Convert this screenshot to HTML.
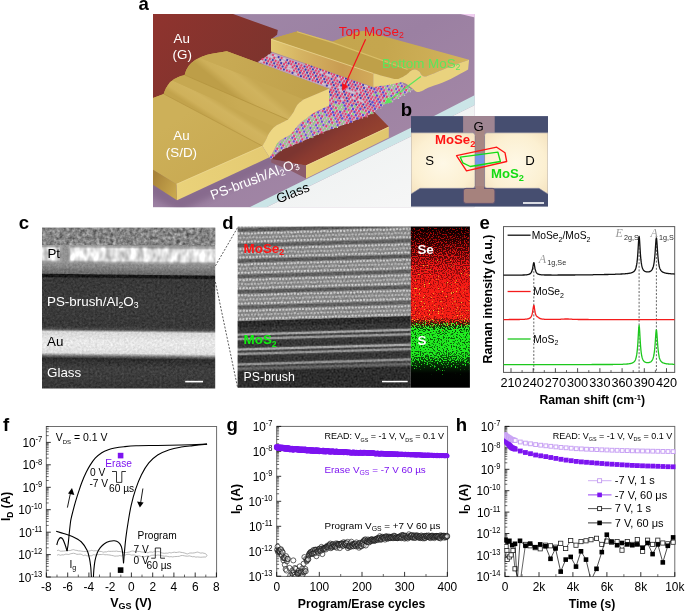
<!DOCTYPE html>
<html lang="en"><head><meta charset="utf-8"><title>Figure</title>
<style>
html,body{margin:0;padding:0;background:#fff;}
body{width:685px;height:612px;overflow:hidden;font-family:"Liberation Sans", Arial, sans-serif;}
svg{display:block;}
text{white-space:pre;}
</style></head><body>
<svg width="685" height="612" viewBox="0 0 685 612" font-family='"Liberation Sans", Arial, sans-serif'>
<defs>
<filter id="nzCoarse" x="0" y="0" width="100%" height="100%" color-interpolation-filters="sRGB"><feTurbulence type="fractalNoise" baseFrequency="0.3" numOctaves="2" seed="5" result="n"/><feColorMatrix in="n" type="matrix" values="0.6 0.4 0 0 0  0.6 0.4 0 0 0  0.6 0.4 0 0 0  0 0 0 0 1" result="g"/><feComposite in="SourceGraphic" in2="g" operator="arithmetic" k1="0" k2="1" k3="0.8" k4="-0.4"/></filter>
<filter id="nzFine" x="0" y="0" width="100%" height="100%" color-interpolation-filters="sRGB"><feTurbulence type="fractalNoise" baseFrequency="0.45" numOctaves="2" seed="11" result="n"/><feColorMatrix in="n" type="matrix" values="0.6 0.4 0 0 0  0.6 0.4 0 0 0  0.6 0.4 0 0 0  0 0 0 0 1" result="g"/><feComposite in="SourceGraphic" in2="g" operator="arithmetic" k1="0" k2="1" k3="0.26" k4="-0.13"/></filter>
<filter id="nzFine2" x="0" y="0" width="100%" height="100%" color-interpolation-filters="sRGB"><feTurbulence type="fractalNoise" baseFrequency="0.7" numOctaves="1" seed="21" result="n"/><feColorMatrix in="n" type="matrix" values="0.6 0.4 0 0 0  0.6 0.4 0 0 0  0.6 0.4 0 0 0  0 0 0 0 1" result="g"/><feComposite in="SourceGraphic" in2="g" operator="arithmetic" k1="0" k2="1" k3="0.28" k4="-0.14"/></filter>
<filter id="nzD" x="0" y="0" width="100%" height="100%" color-interpolation-filters="sRGB"><feGaussianBlur in="SourceGraphic" stdDeviation="0.55" result="b"/><feTurbulence type="fractalNoise" baseFrequency="0.5" numOctaves="2" seed="4" result="n"/><feColorMatrix in="n" type="matrix" values="0.6 0.4 0 0 0  0.6 0.4 0 0 0  0.6 0.4 0 0 0  0 0 0 0 1" result="g"/><feComposite in="b" in2="g" operator="arithmetic" k1="0" k2="1" k3="0.34" k4="-0.17"/></filter>
<filter id="speckR" x="0" y="0" width="100%" height="100%" color-interpolation-filters="sRGB"><feTurbulence type="fractalNoise" baseFrequency="0.78" numOctaves="1" seed="8" result="n"/><feColorMatrix in="n" type="matrix" values="0 0 0 0 0  0 0 0 0 0  0 0 0 0 0  1 0 0 0 0" result="na"/><feColorMatrix in="SourceGraphic" type="matrix" values="0 0 0 0 0  0 0 0 0 0  0 0 0 0 0  0 0 0 1 0" result="sa"/><feComposite in="sa" in2="na" operator="arithmetic" k1="0" k2="1" k3="1" k4="-1" result="sum"/><feComponentTransfer in="sum" result="m"><feFuncA type="linear" slope="14" intercept="0"/></feComponentTransfer><feComponentTransfer in="SourceGraphic" result="full"><feFuncA type="linear" slope="1000" intercept="0"/></feComponentTransfer><feComposite in="full" in2="m" operator="in"/></filter>
<filter id="speckG" x="0" y="0" width="100%" height="100%" color-interpolation-filters="sRGB"><feTurbulence type="fractalNoise" baseFrequency="0.78" numOctaves="1" seed="31" result="n"/><feColorMatrix in="n" type="matrix" values="0 0 0 0 0  0 0 0 0 0  0 0 0 0 0  1 0 0 0 0" result="na"/><feColorMatrix in="SourceGraphic" type="matrix" values="0 0 0 0 0  0 0 0 0 0  0 0 0 0 0  0 0 0 1 0" result="sa"/><feComposite in="sa" in2="na" operator="arithmetic" k1="0" k2="1" k3="1" k4="-1" result="sum"/><feComponentTransfer in="sum" result="m"><feFuncA type="linear" slope="14" intercept="0"/></feComponentTransfer><feComponentTransfer in="SourceGraphic" result="full"><feFuncA type="linear" slope="1000" intercept="0"/></feComponentTransfer><feComposite in="full" in2="m" operator="in"/></filter>
<filter id="speckY" x="0" y="0" width="100%" height="100%" color-interpolation-filters="sRGB"><feTurbulence type="fractalNoise" baseFrequency="0.78" numOctaves="1" seed="57" result="n"/><feColorMatrix in="n" type="matrix" values="0 0 0 0 0  0 0 0 0 0  0 0 0 0 0  1 0 0 0 0" result="na"/><feColorMatrix in="SourceGraphic" type="matrix" values="0 0 0 0 0  0 0 0 0 0  0 0 0 0 0  0 0 0 1 0" result="sa"/><feComposite in="sa" in2="na" operator="arithmetic" k1="0" k2="1" k3="1" k4="-1" result="sum"/><feComponentTransfer in="sum" result="m"><feFuncA type="linear" slope="14" intercept="0"/></feComponentTransfer><feComponentTransfer in="SourceGraphic" result="full"><feFuncA type="linear" slope="1000" intercept="0"/></feComponentTransfer><feComposite in="full" in2="m" operator="in"/></filter>
<filter id="nzLump" x="-5%" y="-40%" width="110%" height="180%" color-interpolation-filters="sRGB"><feGaussianBlur in="SourceGraphic" stdDeviation="1.1" result="b"/><feTurbulence type="fractalNoise" baseFrequency="0.16 0.1" numOctaves="2" seed="9" result="n"/><feColorMatrix in="n" type="matrix" values="1 0 0 0 0  1 0 0 0 0  1 0 0 0 0  0 0 0 0 1" result="g"/><feComposite in="b" in2="g" operator="arithmetic" k1="0.7" k2="0.65" k3="0" k4="0"/></filter>
</defs>
<defs>
<clipPath id="clipA"><rect x="153" y="14.1" width="321.7" height="193.3"/></clipPath>
<linearGradient id="gMauve" x1="0" y1="0" x2="1" y2="1"><stop offset="0" stop-color="#a088a8"/><stop offset="0.45" stop-color="#9b80a2"/><stop offset="1" stop-color="#a98ca8"/></linearGradient>
<linearGradient id="gBrown" x1="0" y1="0" x2="1" y2="0.6"><stop offset="0" stop-color="#8f332e"/><stop offset="1" stop-color="#7b342d"/></linearGradient>
<linearGradient id="gWhite" x1="0" y1="0" x2="1" y2="1"><stop offset="0" stop-color="#e2ebeb"/><stop offset="0.5" stop-color="#f1f3f3"/><stop offset="1" stop-color="#f8f8f8"/></linearGradient>
<linearGradient id="gFrontFace" x1="0" y1="0" x2="1" y2="0"><stop offset="0" stop-color="#ead27a"/><stop offset="1" stop-color="#e0c66e"/></linearGradient>
<linearGradient id="gBackFront" x1="0" y1="0" x2="1" y2="0"><stop offset="0" stop-color="#e2c972"/><stop offset="0.3" stop-color="#d5b362"/><stop offset="0.7" stop-color="#c99c52"/><stop offset="1" stop-color="#d2aa5a"/></linearGradient>
<linearGradient id="gPlateau" gradientUnits="userSpaceOnUse" x1="226.9" y1="51.2" x2="329.0" y2="88.7"><stop offset="0" stop-color="#c8aa54"/><stop offset="1" stop-color="#bfa04a"/></linearGradient>
<linearGradient id="gS2" gradientUnits="userSpaceOnUse" x1="251.6" y1="78.6" x2="236.2" y2="97.3"><stop offset="0" stop-color="#c6a852"/><stop offset="0.3" stop-color="#d0b35e"/><stop offset="0.7" stop-color="#cdaf59"/><stop offset="1" stop-color="#bd9e48"/></linearGradient>
<linearGradient id="gS3" gradientUnits="userSpaceOnUse" x1="236.2" y1="97.3" x2="223.5" y2="103.7"><stop offset="0" stop-color="#c9ab54"/><stop offset="1" stop-color="#c6a851"/></linearGradient>
<linearGradient id="gS4" gradientUnits="userSpaceOnUse" x1="223.5" y1="103.7" x2="213.0" y2="120.0"><stop offset="0" stop-color="#c6a851"/><stop offset="0.3" stop-color="#d1b45f"/><stop offset="0.75" stop-color="#cfb15b"/><stop offset="1" stop-color="#c2a34c"/></linearGradient>
<linearGradient id="gBase" gradientUnits="userSpaceOnUse" x1="190.0" y1="110.0" x2="235.0" y2="175.0"><stop offset="0" stop-color="#cdb059"/><stop offset="1" stop-color="#c8a951"/></linearGradient>
<linearGradient id="gBoxTop" gradientUnits="userSpaceOnUse" x1="330.0" y1="128.0" x2="345.0" y2="150.0"><stop offset="0" stop-color="#7c3530"/><stop offset="0.4" stop-color="#8a3a30"/><stop offset="1" stop-color="#93412f"/></linearGradient>
<linearGradient id="gBackTop" gradientUnits="userSpaceOnUse" x1="300.0" y1="32.0" x2="468.0" y2="62.0"><stop offset="0" stop-color="#c4a54e"/><stop offset="0.5" stop-color="#c5a64e"/><stop offset="1" stop-color="#d2b45c"/></linearGradient>
<linearGradient id="gSDleft" gradientUnits="userSpaceOnUse" x1="153.0" y1="180.0" x2="177.0" y2="192.0"><stop offset="0" stop-color="#a9843a"/><stop offset="1" stop-color="#c9a84e"/></linearGradient>
<linearGradient id="gSDfront" gradientUnits="userSpaceOnUse" x1="177.0" y1="192.0" x2="268.0" y2="150.0"><stop offset="0" stop-color="#ead27a"/><stop offset="1" stop-color="#e4ca72"/></linearGradient>
<filter id="blurA" x="-20%" y="-20%" width="140%" height="140%"><feGaussianBlur stdDeviation="3"/></filter>
</defs>
<g clip-path="url(#clipA)">
<rect x="153" y="14.1" width="321.7" height="193.3" fill="url(#gMauve)"/>
<polygon points="249.0,207.4 415.0,125.8 475.0,95.0 475.0,105.0 415.0,134.6 266.0,207.4" fill="#cbe5e7" />
<polygon points="266.0,207.4 415.0,134.6 475.0,105.0 475.0,207.4" fill="url(#gWhite)" />
<polygon points="460.6,14.0 475.0,14.0 475.0,17.6" fill="#f0cdf0" />
<polygon points="153.0,14.0 233.1,14.0 277.8,29.9 277.1,34.8 271.1,39.3 271.6,52.2 262.0,66.0 153.0,110.0" fill="url(#gBrown)" />
<polygon points="150.0,176.0 177.0,196.0 270.0,153.0 300.0,140.0 300.0,150.0 272.0,168.0 180.0,212.0 150.0,196.0" fill="#5a3a60" opacity="0.32" filter="url(#blurA)"/>
<polygon points="271.2,159.0 306.0,165.6 306.0,178.5 291.0,170.7 271.2,162.5" fill="#8c5c6c" />
<polygon points="271.2,159.0 300.0,135.0 374.5,112.0 388.8,126.8 306.0,165.6" fill="url(#gBoxTop)" />
<polygon points="306.0,165.6 388.8,126.8 388.8,137.6 306.0,178.5" fill="url(#gFrontFace)" />
<polyline points="306.0,165.8 388.8,127.0" fill="none" stroke="#f3e09a" stroke-width="0.6" />
<polygon points="257.4,62.3 272.0,52.5 374.0,87.5 391.0,82.0 400.0,82.0 412.0,90.0 399.0,97.7 384.0,104.5 370.0,114.5 347.5,123.5 326.0,131.0 303.0,141.0 280.4,150.5 274.8,154.5 271.0,159.5 269.4,157.3 269.8,156.9 270.2,156.2 270.8,155.5 271.4,154.7 272.0,153.8 272.5,152.9 273.1,151.8 273.6,150.8 274.2,149.7 274.7,148.6 275.2,147.5 275.6,146.4 276.1,145.4 276.6,144.3 277.3,143.3 278.1,142.4 279.1,141.5 280.2,140.6 281.3,139.8 282.6,138.9 284.1,138.0 285.7,137.2 287.4,136.4 289.0,135.5 290.4,134.6 291.5,133.6 292.4,132.6 293.1,131.5 293.9,130.4 294.8,129.3 295.8,128.1 296.8,126.9 297.8,125.6 298.9,124.4 300.1,123.2 301.4,122.1 302.8,121.0 304.2,120.0 305.7,118.9 307.1,117.9 308.5,116.8 309.9,115.7 311.3,114.7 312.7,113.6 314.1,112.7 315.5,111.9 316.9,111.2 318.2,110.5 319.6,109.9 321.1,109.2 322.7,108.4 324.6,107.6 326.4,106.8 327.9,106.2 329.0,105.7 329.0,88.7" fill="#bfa3b8" />
<circle cx="264.0" cy="59.7" r="0.55" fill="#e4dce6"/>
<circle cx="262.6" cy="61.7" r="0.55" fill="#e4dce6"/>
<circle cx="270.1" cy="56.1" r="0.55" fill="#e4dce6"/>
<circle cx="268.3" cy="58.3" r="0.55" fill="#e4dce6"/>
<circle cx="267.1" cy="60.5" r="0.55" fill="#e4dce6"/>
<circle cx="265.5" cy="63.0" r="0.55" fill="#e4dce6"/>
<circle cx="274.4" cy="55.5" r="0.55" fill="#e4dce6"/>
<circle cx="273.1" cy="57.3" r="0.55" fill="#e4dce6"/>
<circle cx="271.2" cy="59.5" r="0.55" fill="#e4dce6"/>
<circle cx="269.7" cy="61.8" r="0.55" fill="#e4dce6"/>
<circle cx="268.2" cy="63.9" r="0.55" fill="#e4dce6"/>
<circle cx="277.1" cy="56.2" r="0.55" fill="#e4dce6"/>
<circle cx="275.7" cy="58.4" r="0.55" fill="#e4dce6"/>
<circle cx="274.2" cy="60.5" r="0.55" fill="#e4dce6"/>
<circle cx="272.8" cy="62.6" r="0.55" fill="#e4dce6"/>
<circle cx="271.1" cy="65.1" r="0.55" fill="#e4dce6"/>
<circle cx="280.1" cy="57.6" r="0.55" fill="#e4dce6"/>
<circle cx="278.6" cy="59.6" r="0.55" fill="#e4dce6"/>
<circle cx="277.1" cy="61.4" r="0.55" fill="#e4dce6"/>
<circle cx="275.7" cy="63.9" r="0.55" fill="#e4dce6"/>
<circle cx="273.9" cy="66.1" r="0.55" fill="#e4dce6"/>
<circle cx="283.1" cy="58.4" r="0.55" fill="#e4dce6"/>
<circle cx="281.7" cy="60.6" r="0.55" fill="#e4dce6"/>
<circle cx="279.7" cy="62.8" r="0.55" fill="#e4dce6"/>
<circle cx="278.6" cy="65.0" r="0.55" fill="#e4dce6"/>
<circle cx="276.8" cy="67.1" r="0.55" fill="#e4dce6"/>
<circle cx="285.9" cy="59.3" r="0.55" fill="#e4dce6"/>
<circle cx="284.1" cy="61.8" r="0.55" fill="#e4dce6"/>
<circle cx="282.7" cy="63.7" r="0.55" fill="#e4dce6"/>
<circle cx="281.0" cy="65.9" r="0.55" fill="#e4dce6"/>
<circle cx="279.9" cy="68.2" r="0.55" fill="#e4dce6"/>
<circle cx="288.6" cy="60.5" r="0.55" fill="#e4dce6"/>
<circle cx="287.4" cy="62.9" r="0.55" fill="#e4dce6"/>
<circle cx="285.5" cy="64.7" r="0.55" fill="#e4dce6"/>
<circle cx="284.1" cy="67.0" r="0.55" fill="#e4dce6"/>
<circle cx="282.3" cy="69.1" r="0.55" fill="#e4dce6"/>
<circle cx="291.6" cy="61.8" r="0.55" fill="#e4dce6"/>
<circle cx="290.0" cy="63.8" r="0.55" fill="#e4dce6"/>
<circle cx="288.3" cy="66.1" r="0.55" fill="#e4dce6"/>
<circle cx="287.1" cy="68.2" r="0.55" fill="#e4dce6"/>
<circle cx="285.3" cy="70.0" r="0.55" fill="#e4dce6"/>
<circle cx="294.2" cy="62.4" r="0.55" fill="#e4dce6"/>
<circle cx="292.7" cy="64.7" r="0.55" fill="#e4dce6"/>
<circle cx="291.1" cy="66.7" r="0.55" fill="#e4dce6"/>
<circle cx="289.7" cy="68.8" r="0.55" fill="#e4dce6"/>
<circle cx="288.3" cy="71.0" r="0.55" fill="#e4dce6"/>
<circle cx="297.2" cy="63.6" r="0.55" fill="#e4dce6"/>
<circle cx="295.9" cy="66.1" r="0.55" fill="#e4dce6"/>
<circle cx="294.2" cy="67.8" r="0.55" fill="#e4dce6"/>
<circle cx="292.6" cy="70.0" r="0.55" fill="#e4dce6"/>
<circle cx="290.9" cy="72.0" r="0.55" fill="#e4dce6"/>
<circle cx="300.1" cy="64.5" r="0.55" fill="#e4dce6"/>
<circle cx="298.3" cy="66.9" r="0.55" fill="#e4dce6"/>
<circle cx="297.2" cy="69.1" r="0.55" fill="#e4dce6"/>
<circle cx="295.4" cy="71.0" r="0.55" fill="#e4dce6"/>
<circle cx="293.9" cy="73.5" r="0.55" fill="#e4dce6"/>
<circle cx="302.8" cy="65.9" r="0.55" fill="#e4dce6"/>
<circle cx="301.6" cy="68.1" r="0.55" fill="#e4dce6"/>
<circle cx="300.0" cy="69.9" r="0.55" fill="#e4dce6"/>
<circle cx="298.3" cy="72.0" r="0.55" fill="#e4dce6"/>
<circle cx="296.7" cy="74.2" r="0.55" fill="#e4dce6"/>
<circle cx="307.6" cy="64.6" r="0.55" fill="#e4dce6"/>
<circle cx="306.1" cy="67.0" r="0.55" fill="#e4dce6"/>
<circle cx="304.1" cy="68.8" r="0.55" fill="#e4dce6"/>
<circle cx="302.6" cy="71.2" r="0.55" fill="#e4dce6"/>
<circle cx="301.4" cy="73.3" r="0.55" fill="#e4dce6"/>
<circle cx="299.8" cy="75.2" r="0.55" fill="#e4dce6"/>
<circle cx="310.4" cy="65.9" r="0.55" fill="#e4dce6"/>
<circle cx="308.7" cy="67.7" r="0.55" fill="#e4dce6"/>
<circle cx="307.0" cy="70.2" r="0.55" fill="#e4dce6"/>
<circle cx="305.5" cy="72.1" r="0.55" fill="#e4dce6"/>
<circle cx="304.1" cy="74.2" r="0.55" fill="#e4dce6"/>
<circle cx="302.3" cy="76.7" r="0.55" fill="#e4dce6"/>
<circle cx="312.9" cy="66.9" r="0.55" fill="#e4dce6"/>
<circle cx="311.6" cy="68.8" r="0.55" fill="#e4dce6"/>
<circle cx="309.8" cy="70.8" r="0.55" fill="#e4dce6"/>
<circle cx="308.5" cy="73.2" r="0.55" fill="#e4dce6"/>
<circle cx="306.8" cy="75.6" r="0.55" fill="#e4dce6"/>
<circle cx="305.2" cy="77.4" r="0.55" fill="#e4dce6"/>
<circle cx="315.8" cy="67.9" r="0.55" fill="#e4dce6"/>
<circle cx="314.3" cy="69.8" r="0.55" fill="#e4dce6"/>
<circle cx="312.8" cy="72.1" r="0.55" fill="#e4dce6"/>
<circle cx="311.5" cy="74.2" r="0.55" fill="#e4dce6"/>
<circle cx="309.7" cy="76.4" r="0.55" fill="#e4dce6"/>
<circle cx="307.9" cy="78.5" r="0.55" fill="#e4dce6"/>
<circle cx="318.5" cy="69.0" r="0.55" fill="#e4dce6"/>
<circle cx="317.2" cy="71.1" r="0.55" fill="#e4dce6"/>
<circle cx="315.6" cy="73.2" r="0.55" fill="#e4dce6"/>
<circle cx="314.3" cy="75.1" r="0.55" fill="#e4dce6"/>
<circle cx="312.5" cy="77.4" r="0.55" fill="#e4dce6"/>
<circle cx="311.0" cy="79.7" r="0.55" fill="#e4dce6"/>
<circle cx="321.8" cy="69.9" r="0.55" fill="#e4dce6"/>
<circle cx="320.1" cy="72.1" r="0.55" fill="#e4dce6"/>
<circle cx="318.5" cy="74.2" r="0.55" fill="#e4dce6"/>
<circle cx="317.2" cy="76.5" r="0.55" fill="#e4dce6"/>
<circle cx="315.7" cy="78.4" r="0.55" fill="#e4dce6"/>
<circle cx="314.1" cy="80.8" r="0.55" fill="#e4dce6"/>
<circle cx="324.3" cy="70.9" r="0.55" fill="#e4dce6"/>
<circle cx="322.8" cy="72.9" r="0.55" fill="#e4dce6"/>
<circle cx="321.5" cy="75.5" r="0.55" fill="#e4dce6"/>
<circle cx="319.9" cy="77.5" r="0.55" fill="#e4dce6"/>
<circle cx="318.5" cy="79.8" r="0.55" fill="#e4dce6"/>
<circle cx="317.0" cy="81.7" r="0.55" fill="#e4dce6"/>
<circle cx="327.6" cy="72.2" r="0.55" fill="#e4dce6"/>
<circle cx="325.7" cy="74.2" r="0.55" fill="#e4dce6"/>
<circle cx="324.1" cy="76.2" r="0.55" fill="#e4dce6"/>
<circle cx="322.4" cy="78.5" r="0.55" fill="#e4dce6"/>
<circle cx="320.9" cy="80.5" r="0.55" fill="#e4dce6"/>
<circle cx="319.6" cy="82.6" r="0.55" fill="#e4dce6"/>
<circle cx="330.3" cy="73.3" r="0.55" fill="#e4dce6"/>
<circle cx="328.5" cy="75.0" r="0.55" fill="#e4dce6"/>
<circle cx="327.0" cy="77.2" r="0.55" fill="#e4dce6"/>
<circle cx="325.7" cy="79.7" r="0.55" fill="#e4dce6"/>
<circle cx="323.8" cy="81.9" r="0.55" fill="#e4dce6"/>
<circle cx="322.5" cy="83.6" r="0.55" fill="#e4dce6"/>
<circle cx="279.1" cy="144.0" r="0.55" fill="#e4dce6"/>
<circle cx="277.7" cy="146.2" r="0.55" fill="#e4dce6"/>
<circle cx="332.8" cy="74.3" r="0.55" fill="#e4dce6"/>
<circle cx="331.7" cy="76.2" r="0.55" fill="#e4dce6"/>
<circle cx="330.0" cy="78.6" r="0.55" fill="#e4dce6"/>
<circle cx="328.2" cy="80.6" r="0.55" fill="#e4dce6"/>
<circle cx="326.6" cy="82.6" r="0.55" fill="#e4dce6"/>
<circle cx="325.1" cy="84.8" r="0.55" fill="#e4dce6"/>
<circle cx="286.7" cy="138.5" r="0.55" fill="#e4dce6"/>
<circle cx="284.8" cy="140.7" r="0.55" fill="#e4dce6"/>
<circle cx="283.3" cy="142.7" r="0.55" fill="#e4dce6"/>
<circle cx="281.9" cy="144.9" r="0.55" fill="#e4dce6"/>
<circle cx="280.5" cy="147.0" r="0.55" fill="#e4dce6"/>
<circle cx="278.7" cy="149.4" r="0.55" fill="#e4dce6"/>
<circle cx="277.2" cy="151.5" r="0.55" fill="#e4dce6"/>
<circle cx="275.9" cy="153.6" r="0.55" fill="#e4dce6"/>
<circle cx="274.2" cy="155.9" r="0.55" fill="#e4dce6"/>
<circle cx="272.5" cy="157.7" r="0.55" fill="#e4dce6"/>
<circle cx="335.7" cy="75.3" r="0.55" fill="#e4dce6"/>
<circle cx="334.2" cy="77.1" r="0.55" fill="#e4dce6"/>
<circle cx="333.0" cy="79.6" r="0.55" fill="#e4dce6"/>
<circle cx="331.1" cy="81.5" r="0.55" fill="#e4dce6"/>
<circle cx="329.5" cy="83.7" r="0.55" fill="#e4dce6"/>
<circle cx="328.4" cy="86.2" r="0.55" fill="#e4dce6"/>
<circle cx="297.0" cy="129.2" r="0.55" fill="#e4dce6"/>
<circle cx="295.5" cy="130.8" r="0.55" fill="#e4dce6"/>
<circle cx="294.0" cy="133.2" r="0.55" fill="#e4dce6"/>
<circle cx="292.5" cy="135.1" r="0.55" fill="#e4dce6"/>
<circle cx="290.7" cy="137.5" r="0.55" fill="#e4dce6"/>
<circle cx="289.1" cy="139.6" r="0.55" fill="#e4dce6"/>
<circle cx="287.9" cy="141.8" r="0.55" fill="#e4dce6"/>
<circle cx="286.4" cy="144.1" r="0.55" fill="#e4dce6"/>
<circle cx="284.7" cy="146.0" r="0.55" fill="#e4dce6"/>
<circle cx="283.0" cy="148.4" r="0.55" fill="#e4dce6"/>
<circle cx="281.4" cy="150.6" r="0.55" fill="#e4dce6"/>
<circle cx="338.8" cy="76.3" r="0.55" fill="#e4dce6"/>
<circle cx="337.0" cy="78.4" r="0.55" fill="#e4dce6"/>
<circle cx="335.8" cy="80.7" r="0.55" fill="#e4dce6"/>
<circle cx="334.1" cy="82.9" r="0.55" fill="#e4dce6"/>
<circle cx="332.6" cy="84.7" r="0.55" fill="#e4dce6"/>
<circle cx="330.8" cy="86.9" r="0.55" fill="#e4dce6"/>
<circle cx="307.9" cy="119.2" r="0.55" fill="#e4dce6"/>
<circle cx="306.2" cy="121.5" r="0.55" fill="#e4dce6"/>
<circle cx="304.4" cy="123.7" r="0.55" fill="#e4dce6"/>
<circle cx="303.1" cy="125.7" r="0.55" fill="#e4dce6"/>
<circle cx="301.3" cy="127.9" r="0.55" fill="#e4dce6"/>
<circle cx="299.8" cy="129.9" r="0.55" fill="#e4dce6"/>
<circle cx="298.3" cy="132.2" r="0.55" fill="#e4dce6"/>
<circle cx="296.9" cy="134.2" r="0.55" fill="#e4dce6"/>
<circle cx="295.4" cy="136.6" r="0.55" fill="#e4dce6"/>
<circle cx="293.9" cy="138.4" r="0.55" fill="#e4dce6"/>
<circle cx="292.1" cy="140.8" r="0.55" fill="#e4dce6"/>
<circle cx="290.7" cy="142.6" r="0.55" fill="#e4dce6"/>
<circle cx="289.0" cy="145.1" r="0.55" fill="#e4dce6"/>
<circle cx="287.7" cy="147.1" r="0.55" fill="#e4dce6"/>
<circle cx="341.6" cy="77.3" r="0.55" fill="#e4dce6"/>
<circle cx="340.2" cy="79.3" r="0.55" fill="#e4dce6"/>
<circle cx="338.7" cy="81.3" r="0.55" fill="#e4dce6"/>
<circle cx="337.1" cy="84.0" r="0.55" fill="#e4dce6"/>
<circle cx="335.3" cy="85.7" r="0.55" fill="#e4dce6"/>
<circle cx="333.7" cy="88.1" r="0.55" fill="#e4dce6"/>
<circle cx="332.3" cy="90.4" r="0.55" fill="#e4dce6"/>
<circle cx="330.9" cy="92.3" r="0.55" fill="#e4dce6"/>
<circle cx="315.3" cy="113.7" r="0.55" fill="#e4dce6"/>
<circle cx="313.7" cy="115.7" r="0.55" fill="#e4dce6"/>
<circle cx="312.1" cy="118.1" r="0.55" fill="#e4dce6"/>
<circle cx="310.4" cy="120.2" r="0.55" fill="#e4dce6"/>
<circle cx="309.2" cy="122.2" r="0.55" fill="#e4dce6"/>
<circle cx="307.6" cy="124.4" r="0.55" fill="#e4dce6"/>
<circle cx="306.0" cy="126.9" r="0.55" fill="#e4dce6"/>
<circle cx="304.3" cy="128.8" r="0.55" fill="#e4dce6"/>
<circle cx="302.9" cy="131.0" r="0.55" fill="#e4dce6"/>
<circle cx="301.2" cy="132.9" r="0.55" fill="#e4dce6"/>
<circle cx="299.9" cy="135.2" r="0.55" fill="#e4dce6"/>
<circle cx="298.1" cy="137.4" r="0.55" fill="#e4dce6"/>
<circle cx="296.5" cy="139.6" r="0.55" fill="#e4dce6"/>
<circle cx="295.3" cy="141.9" r="0.55" fill="#e4dce6"/>
<circle cx="293.7" cy="144.1" r="0.55" fill="#e4dce6"/>
<circle cx="292.1" cy="145.8" r="0.55" fill="#e4dce6"/>
<circle cx="344.4" cy="78.4" r="0.55" fill="#e4dce6"/>
<circle cx="342.8" cy="80.2" r="0.55" fill="#e4dce6"/>
<circle cx="341.1" cy="82.6" r="0.55" fill="#e4dce6"/>
<circle cx="339.7" cy="84.9" r="0.55" fill="#e4dce6"/>
<circle cx="338.1" cy="87.0" r="0.55" fill="#e4dce6"/>
<circle cx="336.7" cy="89.0" r="0.55" fill="#e4dce6"/>
<circle cx="335.0" cy="91.1" r="0.55" fill="#e4dce6"/>
<circle cx="333.6" cy="93.2" r="0.55" fill="#e4dce6"/>
<circle cx="332.3" cy="95.5" r="0.55" fill="#e4dce6"/>
<circle cx="330.3" cy="97.5" r="0.55" fill="#e4dce6"/>
<circle cx="321.0" cy="110.4" r="0.55" fill="#e4dce6"/>
<circle cx="319.7" cy="112.9" r="0.55" fill="#e4dce6"/>
<circle cx="318.0" cy="114.8" r="0.55" fill="#e4dce6"/>
<circle cx="316.5" cy="116.9" r="0.55" fill="#e4dce6"/>
<circle cx="314.9" cy="119.4" r="0.55" fill="#e4dce6"/>
<circle cx="313.4" cy="121.4" r="0.55" fill="#e4dce6"/>
<circle cx="311.7" cy="123.4" r="0.55" fill="#e4dce6"/>
<circle cx="310.3" cy="125.6" r="0.55" fill="#e4dce6"/>
<circle cx="309.0" cy="128.0" r="0.55" fill="#e4dce6"/>
<circle cx="307.0" cy="130.0" r="0.55" fill="#e4dce6"/>
<circle cx="305.7" cy="132.1" r="0.55" fill="#e4dce6"/>
<circle cx="304.1" cy="134.4" r="0.55" fill="#e4dce6"/>
<circle cx="302.8" cy="136.6" r="0.55" fill="#e4dce6"/>
<circle cx="300.8" cy="138.3" r="0.55" fill="#e4dce6"/>
<circle cx="299.6" cy="140.9" r="0.55" fill="#e4dce6"/>
<circle cx="298.0" cy="143.0" r="0.55" fill="#e4dce6"/>
<circle cx="347.3" cy="79.1" r="0.55" fill="#e4dce6"/>
<circle cx="345.6" cy="81.7" r="0.55" fill="#e4dce6"/>
<circle cx="344.1" cy="83.5" r="0.55" fill="#e4dce6"/>
<circle cx="342.7" cy="85.9" r="0.55" fill="#e4dce6"/>
<circle cx="340.9" cy="88.0" r="0.55" fill="#e4dce6"/>
<circle cx="339.5" cy="90.0" r="0.55" fill="#e4dce6"/>
<circle cx="337.7" cy="92.2" r="0.55" fill="#e4dce6"/>
<circle cx="336.7" cy="94.5" r="0.55" fill="#e4dce6"/>
<circle cx="334.9" cy="96.4" r="0.55" fill="#e4dce6"/>
<circle cx="333.6" cy="98.8" r="0.55" fill="#e4dce6"/>
<circle cx="331.5" cy="100.9" r="0.55" fill="#e4dce6"/>
<circle cx="325.5" cy="109.3" r="0.55" fill="#e4dce6"/>
<circle cx="324.2" cy="111.5" r="0.55" fill="#e4dce6"/>
<circle cx="322.4" cy="113.7" r="0.55" fill="#e4dce6"/>
<circle cx="320.8" cy="116.1" r="0.55" fill="#e4dce6"/>
<circle cx="319.4" cy="117.9" r="0.55" fill="#e4dce6"/>
<circle cx="317.7" cy="120.4" r="0.55" fill="#e4dce6"/>
<circle cx="316.1" cy="122.5" r="0.55" fill="#e4dce6"/>
<circle cx="315.0" cy="124.5" r="0.55" fill="#e4dce6"/>
<circle cx="313.0" cy="126.6" r="0.55" fill="#e4dce6"/>
<circle cx="311.9" cy="128.6" r="0.55" fill="#e4dce6"/>
<circle cx="309.9" cy="131.2" r="0.55" fill="#e4dce6"/>
<circle cx="308.3" cy="132.9" r="0.55" fill="#e4dce6"/>
<circle cx="307.2" cy="135.5" r="0.55" fill="#e4dce6"/>
<circle cx="305.7" cy="137.6" r="0.55" fill="#e4dce6"/>
<circle cx="303.7" cy="139.8" r="0.55" fill="#e4dce6"/>
<circle cx="302.1" cy="141.8" r="0.55" fill="#e4dce6"/>
<circle cx="350.1" cy="80.3" r="0.55" fill="#e4dce6"/>
<circle cx="348.3" cy="82.5" r="0.55" fill="#e4dce6"/>
<circle cx="347.3" cy="84.5" r="0.55" fill="#e4dce6"/>
<circle cx="345.3" cy="86.8" r="0.55" fill="#e4dce6"/>
<circle cx="344.1" cy="89.0" r="0.55" fill="#e4dce6"/>
<circle cx="342.4" cy="91.1" r="0.55" fill="#e4dce6"/>
<circle cx="340.7" cy="93.3" r="0.55" fill="#e4dce6"/>
<circle cx="339.0" cy="95.4" r="0.55" fill="#e4dce6"/>
<circle cx="337.9" cy="97.4" r="0.55" fill="#e4dce6"/>
<circle cx="336.0" cy="100.0" r="0.55" fill="#e4dce6"/>
<circle cx="334.8" cy="102.1" r="0.55" fill="#e4dce6"/>
<circle cx="333.0" cy="104.3" r="0.55" fill="#e4dce6"/>
<circle cx="331.4" cy="106.3" r="0.55" fill="#e4dce6"/>
<circle cx="329.9" cy="108.1" r="0.55" fill="#e4dce6"/>
<circle cx="328.6" cy="110.6" r="0.55" fill="#e4dce6"/>
<circle cx="326.6" cy="112.5" r="0.55" fill="#e4dce6"/>
<circle cx="325.6" cy="115.0" r="0.55" fill="#e4dce6"/>
<circle cx="323.7" cy="116.9" r="0.55" fill="#e4dce6"/>
<circle cx="322.4" cy="119.0" r="0.55" fill="#e4dce6"/>
<circle cx="320.8" cy="121.4" r="0.55" fill="#e4dce6"/>
<circle cx="319.2" cy="123.3" r="0.55" fill="#e4dce6"/>
<circle cx="317.5" cy="125.7" r="0.55" fill="#e4dce6"/>
<circle cx="315.9" cy="127.8" r="0.55" fill="#e4dce6"/>
<circle cx="314.3" cy="129.6" r="0.55" fill="#e4dce6"/>
<circle cx="312.8" cy="132.3" r="0.55" fill="#e4dce6"/>
<circle cx="311.6" cy="134.1" r="0.55" fill="#e4dce6"/>
<circle cx="309.6" cy="136.3" r="0.55" fill="#e4dce6"/>
<circle cx="308.3" cy="138.3" r="0.55" fill="#e4dce6"/>
<circle cx="353.0" cy="81.6" r="0.55" fill="#e4dce6"/>
<circle cx="351.6" cy="83.7" r="0.55" fill="#e4dce6"/>
<circle cx="350.1" cy="85.7" r="0.55" fill="#e4dce6"/>
<circle cx="348.3" cy="88.0" r="0.55" fill="#e4dce6"/>
<circle cx="346.7" cy="89.9" r="0.55" fill="#e4dce6"/>
<circle cx="345.4" cy="92.3" r="0.55" fill="#e4dce6"/>
<circle cx="343.6" cy="94.6" r="0.55" fill="#e4dce6"/>
<circle cx="342.0" cy="96.7" r="0.55" fill="#e4dce6"/>
<circle cx="340.8" cy="98.5" r="0.55" fill="#e4dce6"/>
<circle cx="339.2" cy="101.0" r="0.55" fill="#e4dce6"/>
<circle cx="337.3" cy="102.9" r="0.55" fill="#e4dce6"/>
<circle cx="335.8" cy="105.4" r="0.55" fill="#e4dce6"/>
<circle cx="334.6" cy="107.2" r="0.55" fill="#e4dce6"/>
<circle cx="332.8" cy="109.3" r="0.55" fill="#e4dce6"/>
<circle cx="331.5" cy="111.4" r="0.55" fill="#e4dce6"/>
<circle cx="329.8" cy="113.6" r="0.55" fill="#e4dce6"/>
<circle cx="328.0" cy="115.7" r="0.55" fill="#e4dce6"/>
<circle cx="326.7" cy="118.1" r="0.55" fill="#e4dce6"/>
<circle cx="324.8" cy="120.1" r="0.55" fill="#e4dce6"/>
<circle cx="323.4" cy="122.2" r="0.55" fill="#e4dce6"/>
<circle cx="322.1" cy="124.5" r="0.55" fill="#e4dce6"/>
<circle cx="320.2" cy="126.6" r="0.55" fill="#e4dce6"/>
<circle cx="318.9" cy="128.6" r="0.55" fill="#e4dce6"/>
<circle cx="317.4" cy="130.9" r="0.55" fill="#e4dce6"/>
<circle cx="315.7" cy="133.3" r="0.55" fill="#e4dce6"/>
<circle cx="314.3" cy="135.1" r="0.55" fill="#e4dce6"/>
<circle cx="312.9" cy="137.6" r="0.55" fill="#e4dce6"/>
<circle cx="355.7" cy="82.6" r="0.55" fill="#e4dce6"/>
<circle cx="354.0" cy="84.9" r="0.55" fill="#e4dce6"/>
<circle cx="352.9" cy="86.8" r="0.55" fill="#e4dce6"/>
<circle cx="351.2" cy="88.8" r="0.55" fill="#e4dce6"/>
<circle cx="349.7" cy="91.2" r="0.55" fill="#e4dce6"/>
<circle cx="347.9" cy="93.3" r="0.55" fill="#e4dce6"/>
<circle cx="346.5" cy="95.2" r="0.55" fill="#e4dce6"/>
<circle cx="345.0" cy="97.8" r="0.55" fill="#e4dce6"/>
<circle cx="343.4" cy="99.9" r="0.55" fill="#e4dce6"/>
<circle cx="341.7" cy="101.7" r="0.55" fill="#e4dce6"/>
<circle cx="340.6" cy="104.0" r="0.55" fill="#e4dce6"/>
<circle cx="339.0" cy="106.1" r="0.55" fill="#e4dce6"/>
<circle cx="337.3" cy="108.5" r="0.55" fill="#e4dce6"/>
<circle cx="335.8" cy="110.3" r="0.55" fill="#e4dce6"/>
<circle cx="334.3" cy="112.8" r="0.55" fill="#e4dce6"/>
<circle cx="332.4" cy="114.7" r="0.55" fill="#e4dce6"/>
<circle cx="331.0" cy="116.7" r="0.55" fill="#e4dce6"/>
<circle cx="329.6" cy="119.3" r="0.55" fill="#e4dce6"/>
<circle cx="328.0" cy="121.3" r="0.55" fill="#e4dce6"/>
<circle cx="326.5" cy="123.2" r="0.55" fill="#e4dce6"/>
<circle cx="324.9" cy="125.6" r="0.55" fill="#e4dce6"/>
<circle cx="323.2" cy="127.7" r="0.55" fill="#e4dce6"/>
<circle cx="321.8" cy="129.8" r="0.55" fill="#e4dce6"/>
<circle cx="319.9" cy="132.0" r="0.55" fill="#e4dce6"/>
<circle cx="318.5" cy="134.3" r="0.55" fill="#e4dce6"/>
<circle cx="358.7" cy="83.4" r="0.55" fill="#e4dce6"/>
<circle cx="356.9" cy="85.5" r="0.55" fill="#e4dce6"/>
<circle cx="355.4" cy="87.8" r="0.55" fill="#e4dce6"/>
<circle cx="353.8" cy="90.1" r="0.55" fill="#e4dce6"/>
<circle cx="352.6" cy="92.3" r="0.55" fill="#e4dce6"/>
<circle cx="350.7" cy="94.3" r="0.55" fill="#e4dce6"/>
<circle cx="349.6" cy="96.3" r="0.55" fill="#e4dce6"/>
<circle cx="348.1" cy="98.7" r="0.55" fill="#e4dce6"/>
<circle cx="346.1" cy="101.0" r="0.55" fill="#e4dce6"/>
<circle cx="345.0" cy="103.1" r="0.55" fill="#e4dce6"/>
<circle cx="343.3" cy="105.3" r="0.55" fill="#e4dce6"/>
<circle cx="341.6" cy="107.3" r="0.55" fill="#e4dce6"/>
<circle cx="340.3" cy="109.3" r="0.55" fill="#e4dce6"/>
<circle cx="338.4" cy="111.5" r="0.55" fill="#e4dce6"/>
<circle cx="336.8" cy="113.6" r="0.55" fill="#e4dce6"/>
<circle cx="335.3" cy="115.6" r="0.55" fill="#e4dce6"/>
<circle cx="333.7" cy="118.2" r="0.55" fill="#e4dce6"/>
<circle cx="332.5" cy="120.0" r="0.55" fill="#e4dce6"/>
<circle cx="330.6" cy="122.3" r="0.55" fill="#e4dce6"/>
<circle cx="329.2" cy="124.6" r="0.55" fill="#e4dce6"/>
<circle cx="327.7" cy="126.8" r="0.55" fill="#e4dce6"/>
<circle cx="326.4" cy="128.8" r="0.55" fill="#e4dce6"/>
<circle cx="324.7" cy="130.8" r="0.55" fill="#e4dce6"/>
<circle cx="323.1" cy="133.0" r="0.55" fill="#e4dce6"/>
<circle cx="361.5" cy="84.5" r="0.55" fill="#e4dce6"/>
<circle cx="359.8" cy="86.9" r="0.55" fill="#e4dce6"/>
<circle cx="358.5" cy="89.2" r="0.55" fill="#e4dce6"/>
<circle cx="357.0" cy="91.0" r="0.55" fill="#e4dce6"/>
<circle cx="355.1" cy="93.0" r="0.55" fill="#e4dce6"/>
<circle cx="353.7" cy="95.4" r="0.55" fill="#e4dce6"/>
<circle cx="352.0" cy="97.4" r="0.55" fill="#e4dce6"/>
<circle cx="350.4" cy="99.4" r="0.55" fill="#e4dce6"/>
<circle cx="348.9" cy="101.7" r="0.55" fill="#e4dce6"/>
<circle cx="347.6" cy="104.0" r="0.55" fill="#e4dce6"/>
<circle cx="346.1" cy="106.1" r="0.55" fill="#e4dce6"/>
<circle cx="344.7" cy="108.1" r="0.55" fill="#e4dce6"/>
<circle cx="342.7" cy="110.5" r="0.55" fill="#e4dce6"/>
<circle cx="341.5" cy="112.5" r="0.55" fill="#e4dce6"/>
<circle cx="339.6" cy="114.8" r="0.55" fill="#e4dce6"/>
<circle cx="338.2" cy="116.9" r="0.55" fill="#e4dce6"/>
<circle cx="336.9" cy="119.1" r="0.55" fill="#e4dce6"/>
<circle cx="335.4" cy="120.9" r="0.55" fill="#e4dce6"/>
<circle cx="333.6" cy="123.2" r="0.55" fill="#e4dce6"/>
<circle cx="332.2" cy="125.2" r="0.55" fill="#e4dce6"/>
<circle cx="330.8" cy="127.4" r="0.55" fill="#e4dce6"/>
<circle cx="329.0" cy="129.8" r="0.55" fill="#e4dce6"/>
<circle cx="364.5" cy="85.5" r="0.55" fill="#e4dce6"/>
<circle cx="362.7" cy="87.6" r="0.55" fill="#e4dce6"/>
<circle cx="361.4" cy="90.1" r="0.55" fill="#e4dce6"/>
<circle cx="359.9" cy="92.2" r="0.55" fill="#e4dce6"/>
<circle cx="358.3" cy="94.2" r="0.55" fill="#e4dce6"/>
<circle cx="356.4" cy="96.3" r="0.55" fill="#e4dce6"/>
<circle cx="355.0" cy="98.7" r="0.55" fill="#e4dce6"/>
<circle cx="353.7" cy="100.8" r="0.55" fill="#e4dce6"/>
<circle cx="352.0" cy="102.8" r="0.55" fill="#e4dce6"/>
<circle cx="350.4" cy="104.9" r="0.55" fill="#e4dce6"/>
<circle cx="349.1" cy="107.0" r="0.55" fill="#e4dce6"/>
<circle cx="347.1" cy="109.2" r="0.55" fill="#e4dce6"/>
<circle cx="345.9" cy="111.7" r="0.55" fill="#e4dce6"/>
<circle cx="344.1" cy="113.8" r="0.55" fill="#e4dce6"/>
<circle cx="342.5" cy="116.0" r="0.55" fill="#e4dce6"/>
<circle cx="341.2" cy="118.0" r="0.55" fill="#e4dce6"/>
<circle cx="339.6" cy="120.2" r="0.55" fill="#e4dce6"/>
<circle cx="338.2" cy="122.2" r="0.55" fill="#e4dce6"/>
<circle cx="336.5" cy="124.3" r="0.55" fill="#e4dce6"/>
<circle cx="335.0" cy="126.3" r="0.55" fill="#e4dce6"/>
<circle cx="333.2" cy="128.4" r="0.55" fill="#e4dce6"/>
<circle cx="367.4" cy="86.6" r="0.55" fill="#e4dce6"/>
<circle cx="365.4" cy="88.6" r="0.55" fill="#e4dce6"/>
<circle cx="364.2" cy="91.1" r="0.55" fill="#e4dce6"/>
<circle cx="362.4" cy="93.2" r="0.55" fill="#e4dce6"/>
<circle cx="361.2" cy="95.5" r="0.55" fill="#e4dce6"/>
<circle cx="359.3" cy="97.7" r="0.55" fill="#e4dce6"/>
<circle cx="358.2" cy="99.4" r="0.55" fill="#e4dce6"/>
<circle cx="356.2" cy="101.5" r="0.55" fill="#e4dce6"/>
<circle cx="355.0" cy="104.0" r="0.55" fill="#e4dce6"/>
<circle cx="353.3" cy="106.0" r="0.55" fill="#e4dce6"/>
<circle cx="351.5" cy="108.3" r="0.55" fill="#e4dce6"/>
<circle cx="350.1" cy="110.3" r="0.55" fill="#e4dce6"/>
<circle cx="348.5" cy="112.4" r="0.55" fill="#e4dce6"/>
<circle cx="347.0" cy="114.6" r="0.55" fill="#e4dce6"/>
<circle cx="345.5" cy="117.0" r="0.55" fill="#e4dce6"/>
<circle cx="343.7" cy="118.9" r="0.55" fill="#e4dce6"/>
<circle cx="342.6" cy="121.0" r="0.55" fill="#e4dce6"/>
<circle cx="340.9" cy="123.1" r="0.55" fill="#e4dce6"/>
<circle cx="339.1" cy="125.6" r="0.55" fill="#e4dce6"/>
<circle cx="337.5" cy="127.4" r="0.55" fill="#e4dce6"/>
<circle cx="370.3" cy="87.5" r="0.55" fill="#e4dce6"/>
<circle cx="368.5" cy="90.1" r="0.55" fill="#e4dce6"/>
<circle cx="367.0" cy="92.0" r="0.55" fill="#e4dce6"/>
<circle cx="365.3" cy="94.4" r="0.55" fill="#e4dce6"/>
<circle cx="363.7" cy="96.5" r="0.55" fill="#e4dce6"/>
<circle cx="362.1" cy="98.6" r="0.55" fill="#e4dce6"/>
<circle cx="360.9" cy="100.8" r="0.55" fill="#e4dce6"/>
<circle cx="359.3" cy="102.7" r="0.55" fill="#e4dce6"/>
<circle cx="357.6" cy="105.2" r="0.55" fill="#e4dce6"/>
<circle cx="356.3" cy="106.9" r="0.55" fill="#e4dce6"/>
<circle cx="354.5" cy="109.5" r="0.55" fill="#e4dce6"/>
<circle cx="353.0" cy="111.6" r="0.55" fill="#e4dce6"/>
<circle cx="351.5" cy="113.6" r="0.55" fill="#e4dce6"/>
<circle cx="350.1" cy="115.8" r="0.55" fill="#e4dce6"/>
<circle cx="348.3" cy="117.7" r="0.55" fill="#e4dce6"/>
<circle cx="346.9" cy="120.1" r="0.55" fill="#e4dce6"/>
<circle cx="345.2" cy="122.3" r="0.55" fill="#e4dce6"/>
<circle cx="343.5" cy="124.3" r="0.55" fill="#e4dce6"/>
<circle cx="372.8" cy="88.7" r="0.55" fill="#e4dce6"/>
<circle cx="371.5" cy="91.1" r="0.55" fill="#e4dce6"/>
<circle cx="369.7" cy="93.0" r="0.55" fill="#e4dce6"/>
<circle cx="368.3" cy="95.1" r="0.55" fill="#e4dce6"/>
<circle cx="366.6" cy="97.7" r="0.55" fill="#e4dce6"/>
<circle cx="365.0" cy="99.8" r="0.55" fill="#e4dce6"/>
<circle cx="363.6" cy="102.0" r="0.55" fill="#e4dce6"/>
<circle cx="362.2" cy="103.8" r="0.55" fill="#e4dce6"/>
<circle cx="360.6" cy="105.8" r="0.55" fill="#e4dce6"/>
<circle cx="358.9" cy="107.9" r="0.55" fill="#e4dce6"/>
<circle cx="357.6" cy="110.4" r="0.55" fill="#e4dce6"/>
<circle cx="355.9" cy="112.5" r="0.55" fill="#e4dce6"/>
<circle cx="354.4" cy="114.6" r="0.55" fill="#e4dce6"/>
<circle cx="353.0" cy="116.7" r="0.55" fill="#e4dce6"/>
<circle cx="351.4" cy="118.9" r="0.55" fill="#e4dce6"/>
<circle cx="349.8" cy="121.3" r="0.55" fill="#e4dce6"/>
<circle cx="348.2" cy="123.4" r="0.55" fill="#e4dce6"/>
<circle cx="377.4" cy="87.7" r="0.55" fill="#e4dce6"/>
<circle cx="375.8" cy="89.7" r="0.55" fill="#e4dce6"/>
<circle cx="374.4" cy="92.1" r="0.55" fill="#e4dce6"/>
<circle cx="372.6" cy="94.1" r="0.55" fill="#e4dce6"/>
<circle cx="371.2" cy="96.3" r="0.55" fill="#e4dce6"/>
<circle cx="369.8" cy="98.3" r="0.55" fill="#e4dce6"/>
<circle cx="368.2" cy="100.6" r="0.55" fill="#e4dce6"/>
<circle cx="366.7" cy="102.5" r="0.55" fill="#e4dce6"/>
<circle cx="364.8" cy="105.1" r="0.55" fill="#e4dce6"/>
<circle cx="363.4" cy="106.9" r="0.55" fill="#e4dce6"/>
<circle cx="361.9" cy="109.3" r="0.55" fill="#e4dce6"/>
<circle cx="360.3" cy="111.5" r="0.55" fill="#e4dce6"/>
<circle cx="358.7" cy="113.7" r="0.55" fill="#e4dce6"/>
<circle cx="357.3" cy="115.6" r="0.55" fill="#e4dce6"/>
<circle cx="355.4" cy="118.1" r="0.55" fill="#e4dce6"/>
<circle cx="353.9" cy="119.9" r="0.55" fill="#e4dce6"/>
<circle cx="352.3" cy="122.1" r="0.55" fill="#e4dce6"/>
<circle cx="381.8" cy="86.5" r="0.55" fill="#e4dce6"/>
<circle cx="380.0" cy="88.9" r="0.55" fill="#e4dce6"/>
<circle cx="378.6" cy="90.8" r="0.55" fill="#e4dce6"/>
<circle cx="377.0" cy="92.9" r="0.55" fill="#e4dce6"/>
<circle cx="375.7" cy="95.4" r="0.55" fill="#e4dce6"/>
<circle cx="374.0" cy="97.4" r="0.55" fill="#e4dce6"/>
<circle cx="372.7" cy="99.4" r="0.55" fill="#e4dce6"/>
<circle cx="371.0" cy="101.8" r="0.55" fill="#e4dce6"/>
<circle cx="369.2" cy="103.8" r="0.55" fill="#e4dce6"/>
<circle cx="367.9" cy="105.9" r="0.55" fill="#e4dce6"/>
<circle cx="366.1" cy="108.1" r="0.55" fill="#e4dce6"/>
<circle cx="364.6" cy="110.1" r="0.55" fill="#e4dce6"/>
<circle cx="363.2" cy="112.3" r="0.55" fill="#e4dce6"/>
<circle cx="361.5" cy="114.6" r="0.55" fill="#e4dce6"/>
<circle cx="360.1" cy="116.8" r="0.55" fill="#e4dce6"/>
<circle cx="358.7" cy="119.0" r="0.55" fill="#e4dce6"/>
<circle cx="386.3" cy="85.7" r="0.55" fill="#e4dce6"/>
<circle cx="384.4" cy="87.8" r="0.55" fill="#e4dce6"/>
<circle cx="382.8" cy="89.6" r="0.55" fill="#e4dce6"/>
<circle cx="381.6" cy="91.8" r="0.55" fill="#e4dce6"/>
<circle cx="379.8" cy="94.0" r="0.55" fill="#e4dce6"/>
<circle cx="378.3" cy="96.1" r="0.55" fill="#e4dce6"/>
<circle cx="377.0" cy="98.3" r="0.55" fill="#e4dce6"/>
<circle cx="375.3" cy="100.7" r="0.55" fill="#e4dce6"/>
<circle cx="373.9" cy="102.9" r="0.55" fill="#e4dce6"/>
<circle cx="372.0" cy="105.0" r="0.55" fill="#e4dce6"/>
<circle cx="370.8" cy="107.0" r="0.55" fill="#e4dce6"/>
<circle cx="369.1" cy="109.1" r="0.55" fill="#e4dce6"/>
<circle cx="367.3" cy="111.3" r="0.55" fill="#e4dce6"/>
<circle cx="366.0" cy="113.3" r="0.55" fill="#e4dce6"/>
<circle cx="364.4" cy="115.6" r="0.55" fill="#e4dce6"/>
<circle cx="362.6" cy="117.9" r="0.55" fill="#e4dce6"/>
<circle cx="390.6" cy="84.5" r="0.55" fill="#e4dce6"/>
<circle cx="388.9" cy="86.5" r="0.55" fill="#e4dce6"/>
<circle cx="387.2" cy="88.8" r="0.55" fill="#e4dce6"/>
<circle cx="385.6" cy="90.9" r="0.55" fill="#e4dce6"/>
<circle cx="384.5" cy="92.9" r="0.55" fill="#e4dce6"/>
<circle cx="382.8" cy="95.2" r="0.55" fill="#e4dce6"/>
<circle cx="381.0" cy="97.4" r="0.55" fill="#e4dce6"/>
<circle cx="379.6" cy="99.7" r="0.55" fill="#e4dce6"/>
<circle cx="378.1" cy="101.6" r="0.55" fill="#e4dce6"/>
<circle cx="376.4" cy="103.7" r="0.55" fill="#e4dce6"/>
<circle cx="375.1" cy="106.1" r="0.55" fill="#e4dce6"/>
<circle cx="373.6" cy="108.0" r="0.55" fill="#e4dce6"/>
<circle cx="371.8" cy="110.2" r="0.55" fill="#e4dce6"/>
<circle cx="370.5" cy="112.5" r="0.55" fill="#e4dce6"/>
<circle cx="368.7" cy="114.4" r="0.55" fill="#e4dce6"/>
<circle cx="367.3" cy="116.8" r="0.55" fill="#e4dce6"/>
<circle cx="395.0" cy="83.5" r="0.55" fill="#e4dce6"/>
<circle cx="393.2" cy="85.4" r="0.55" fill="#e4dce6"/>
<circle cx="391.7" cy="87.8" r="0.55" fill="#e4dce6"/>
<circle cx="390.4" cy="89.9" r="0.55" fill="#e4dce6"/>
<circle cx="388.8" cy="92.0" r="0.55" fill="#e4dce6"/>
<circle cx="387.3" cy="94.1" r="0.55" fill="#e4dce6"/>
<circle cx="385.5" cy="96.3" r="0.55" fill="#e4dce6"/>
<circle cx="384.2" cy="98.2" r="0.55" fill="#e4dce6"/>
<circle cx="382.3" cy="100.7" r="0.55" fill="#e4dce6"/>
<circle cx="381.1" cy="102.6" r="0.55" fill="#e4dce6"/>
<circle cx="379.6" cy="104.9" r="0.55" fill="#e4dce6"/>
<circle cx="377.8" cy="106.9" r="0.55" fill="#e4dce6"/>
<circle cx="376.3" cy="109.2" r="0.55" fill="#e4dce6"/>
<circle cx="374.6" cy="111.3" r="0.55" fill="#e4dce6"/>
<circle cx="373.0" cy="113.6" r="0.55" fill="#e4dce6"/>
<circle cx="398.0" cy="84.3" r="0.55" fill="#e4dce6"/>
<circle cx="396.2" cy="86.6" r="0.55" fill="#e4dce6"/>
<circle cx="394.9" cy="88.7" r="0.55" fill="#e4dce6"/>
<circle cx="392.9" cy="90.9" r="0.55" fill="#e4dce6"/>
<circle cx="391.4" cy="92.7" r="0.55" fill="#e4dce6"/>
<circle cx="390.1" cy="94.9" r="0.55" fill="#e4dce6"/>
<circle cx="388.3" cy="97.5" r="0.55" fill="#e4dce6"/>
<circle cx="386.7" cy="99.5" r="0.55" fill="#e4dce6"/>
<circle cx="385.5" cy="101.4" r="0.55" fill="#e4dce6"/>
<circle cx="384.0" cy="103.8" r="0.55" fill="#e4dce6"/>
<circle cx="382.4" cy="105.7" r="0.55" fill="#e4dce6"/>
<circle cx="380.8" cy="108.0" r="0.55" fill="#e4dce6"/>
<circle cx="402.1" cy="83.5" r="0.55" fill="#e4dce6"/>
<circle cx="400.4" cy="85.2" r="0.55" fill="#e4dce6"/>
<circle cx="399.2" cy="87.4" r="0.55" fill="#e4dce6"/>
<circle cx="397.6" cy="89.6" r="0.55" fill="#e4dce6"/>
<circle cx="396.0" cy="91.6" r="0.55" fill="#e4dce6"/>
<circle cx="394.5" cy="94.0" r="0.55" fill="#e4dce6"/>
<circle cx="392.7" cy="96.3" r="0.55" fill="#e4dce6"/>
<circle cx="391.4" cy="98.4" r="0.55" fill="#e4dce6"/>
<circle cx="389.7" cy="100.6" r="0.55" fill="#e4dce6"/>
<circle cx="388.4" cy="102.7" r="0.55" fill="#e4dce6"/>
<circle cx="403.3" cy="86.7" r="0.55" fill="#e4dce6"/>
<circle cx="402.1" cy="88.5" r="0.55" fill="#e4dce6"/>
<circle cx="400.6" cy="90.9" r="0.55" fill="#e4dce6"/>
<circle cx="398.7" cy="92.9" r="0.55" fill="#e4dce6"/>
<circle cx="397.2" cy="95.2" r="0.55" fill="#e4dce6"/>
<circle cx="395.9" cy="97.4" r="0.55" fill="#e4dce6"/>
<circle cx="393.9" cy="99.3" r="0.55" fill="#e4dce6"/>
<circle cx="392.7" cy="101.7" r="0.55" fill="#e4dce6"/>
<circle cx="406.1" cy="87.7" r="0.55" fill="#e4dce6"/>
<circle cx="405.0" cy="89.7" r="0.55" fill="#e4dce6"/>
<circle cx="403.4" cy="92.0" r="0.55" fill="#e4dce6"/>
<circle cx="401.9" cy="93.9" r="0.55" fill="#e4dce6"/>
<circle cx="400.2" cy="96.3" r="0.55" fill="#e4dce6"/>
<circle cx="398.7" cy="98.5" r="0.55" fill="#e4dce6"/>
<circle cx="409.2" cy="88.7" r="0.55" fill="#e4dce6"/>
<circle cx="407.5" cy="90.6" r="0.55" fill="#e4dce6"/>
<circle cx="406.2" cy="92.8" r="0.55" fill="#e4dce6"/>
<circle cx="404.7" cy="95.2" r="0.55" fill="#e4dce6"/>
<circle cx="412.1" cy="89.8" r="0.55" fill="#e4dce6"/>
<circle cx="410.5" cy="91.8" r="0.55" fill="#e4dce6"/>
<circle cx="262.5" cy="59.2" r="1.08" fill="#e63c6c"/>
<circle cx="261.2" cy="61.2" r="1.08" fill="#cfc4d4"/>
<circle cx="268.7" cy="55.6" r="1.08" fill="#cfc4d4"/>
<circle cx="266.9" cy="57.8" r="1.08" fill="#e63c6c"/>
<circle cx="265.7" cy="60.0" r="1.08" fill="#4339b0"/>
<circle cx="264.1" cy="62.5" r="1.08" fill="#e63c6c"/>
<circle cx="273.0" cy="55.0" r="1.08" fill="#e63c6c"/>
<circle cx="271.7" cy="56.8" r="1.08" fill="#cfc4d4"/>
<circle cx="269.8" cy="59.0" r="1.08" fill="#e63c6c"/>
<circle cx="268.2" cy="61.2" r="1.08" fill="#e63c6c"/>
<circle cx="266.8" cy="63.4" r="1.08" fill="#4339b0"/>
<circle cx="275.7" cy="55.7" r="1.08" fill="#cfc4d4"/>
<circle cx="274.3" cy="57.9" r="1.08" fill="#e63c6c"/>
<circle cx="272.8" cy="60.0" r="1.08" fill="#4339b0"/>
<circle cx="271.3" cy="62.1" r="1.08" fill="#e63c6c"/>
<circle cx="269.7" cy="64.6" r="1.08" fill="#e63c6c"/>
<circle cx="278.6" cy="57.1" r="1.08" fill="#4339b0"/>
<circle cx="277.2" cy="59.1" r="1.08" fill="#cfc4d4"/>
<circle cx="275.6" cy="60.9" r="1.08" fill="#e63c6c"/>
<circle cx="274.2" cy="63.3" r="1.08" fill="#4339b0"/>
<circle cx="272.5" cy="65.5" r="1.08" fill="#e63c6c"/>
<circle cx="281.6" cy="57.9" r="1.08" fill="#e63c6c"/>
<circle cx="280.3" cy="60.0" r="1.08" fill="#4339b0"/>
<circle cx="278.3" cy="62.3" r="1.08" fill="#e63c6c"/>
<circle cx="277.2" cy="64.5" r="1.08" fill="#e63c6c"/>
<circle cx="275.3" cy="66.6" r="1.08" fill="#4339b0"/>
<circle cx="284.4" cy="58.8" r="1.08" fill="#cfc4d4"/>
<circle cx="282.7" cy="61.2" r="1.08" fill="#cfc4d4"/>
<circle cx="281.2" cy="63.2" r="1.08" fill="#4339b0"/>
<circle cx="279.6" cy="65.4" r="1.08" fill="#e63c6c"/>
<circle cx="278.4" cy="67.7" r="1.08" fill="#e63c6c"/>
<circle cx="287.2" cy="60.0" r="1.08" fill="#4339b0"/>
<circle cx="285.9" cy="62.4" r="1.08" fill="#e63c6c"/>
<circle cx="284.0" cy="64.2" r="1.08" fill="#e63c6c"/>
<circle cx="282.6" cy="66.5" r="1.08" fill="#4339b0"/>
<circle cx="280.9" cy="68.6" r="1.08" fill="#e63c6c"/>
<circle cx="290.2" cy="61.3" r="1.08" fill="#e63c6c"/>
<circle cx="288.6" cy="63.3" r="1.08" fill="#4339b0"/>
<circle cx="286.8" cy="65.5" r="1.08" fill="#e63c6c"/>
<circle cx="285.7" cy="67.6" r="1.08" fill="#e63c6c"/>
<circle cx="283.9" cy="69.5" r="1.08" fill="#4339b0"/>
<circle cx="292.8" cy="61.9" r="1.08" fill="#e63c6c"/>
<circle cx="291.3" cy="64.2" r="1.08" fill="#e63c6c"/>
<circle cx="289.7" cy="66.2" r="1.08" fill="#cfc4d4"/>
<circle cx="288.3" cy="68.3" r="1.08" fill="#cfc4d4"/>
<circle cx="286.9" cy="70.5" r="1.08" fill="#e63c6c"/>
<circle cx="295.8" cy="63.1" r="1.08" fill="#4339b0"/>
<circle cx="294.5" cy="65.5" r="1.08" fill="#e63c6c"/>
<circle cx="292.7" cy="67.2" r="1.08" fill="#e63c6c"/>
<circle cx="291.1" cy="69.5" r="1.08" fill="#cfc4d4"/>
<circle cx="289.5" cy="71.5" r="1.08" fill="#e63c6c"/>
<circle cx="298.7" cy="64.0" r="1.08" fill="#e63c6c"/>
<circle cx="296.9" cy="66.4" r="1.08" fill="#4339b0"/>
<circle cx="295.8" cy="68.6" r="1.08" fill="#e63c6c"/>
<circle cx="294.0" cy="70.5" r="1.08" fill="#e63c6c"/>
<circle cx="292.5" cy="72.9" r="1.08" fill="#4339b0"/>
<circle cx="301.4" cy="65.4" r="1.08" fill="#e63c6c"/>
<circle cx="300.2" cy="67.6" r="1.08" fill="#e63c6c"/>
<circle cx="298.6" cy="69.4" r="1.08" fill="#4339b0"/>
<circle cx="296.8" cy="71.5" r="1.08" fill="#e63c6c"/>
<circle cx="295.2" cy="73.7" r="1.08" fill="#cfc4d4"/>
<circle cx="306.2" cy="64.1" r="1.08" fill="#e63c6c"/>
<circle cx="304.6" cy="66.5" r="1.08" fill="#4339b0"/>
<circle cx="302.7" cy="68.3" r="1.08" fill="#e63c6c"/>
<circle cx="301.2" cy="70.7" r="1.08" fill="#e63c6c"/>
<circle cx="299.9" cy="72.7" r="1.08" fill="#4339b0"/>
<circle cx="298.3" cy="74.7" r="1.08" fill="#e63c6c"/>
<circle cx="309.0" cy="65.3" r="1.08" fill="#e63c6c"/>
<circle cx="307.2" cy="67.2" r="1.08" fill="#e63c6c"/>
<circle cx="305.6" cy="69.7" r="1.08" fill="#4339b0"/>
<circle cx="304.1" cy="71.6" r="1.08" fill="#e63c6c"/>
<circle cx="302.7" cy="73.6" r="1.08" fill="#e63c6c"/>
<circle cx="300.9" cy="76.2" r="1.08" fill="#4339b0"/>
<circle cx="311.5" cy="66.4" r="1.08" fill="#4339b0"/>
<circle cx="310.2" cy="68.3" r="1.08" fill="#e63c6c"/>
<circle cx="308.4" cy="70.3" r="1.08" fill="#e63c6c"/>
<circle cx="307.1" cy="72.7" r="1.08" fill="#4339b0"/>
<circle cx="305.4" cy="75.0" r="1.08" fill="#e63c6c"/>
<circle cx="303.8" cy="76.9" r="1.08" fill="#e63c6c"/>
<circle cx="314.4" cy="67.3" r="1.08" fill="#e63c6c"/>
<circle cx="312.9" cy="69.3" r="1.08" fill="#4339b0"/>
<circle cx="311.3" cy="71.6" r="1.08" fill="#e63c6c"/>
<circle cx="310.1" cy="73.7" r="1.08" fill="#e63c6c"/>
<circle cx="308.3" cy="75.9" r="1.08" fill="#4339b0"/>
<circle cx="306.5" cy="78.0" r="1.08" fill="#e63c6c"/>
<circle cx="317.1" cy="68.5" r="1.08" fill="#e63c6c"/>
<circle cx="315.8" cy="70.6" r="1.08" fill="#e63c6c"/>
<circle cx="314.2" cy="72.7" r="1.08" fill="#4339b0"/>
<circle cx="312.8" cy="74.6" r="1.08" fill="#e63c6c"/>
<circle cx="311.0" cy="76.8" r="1.08" fill="#e63c6c"/>
<circle cx="309.6" cy="79.1" r="1.08" fill="#4339b0"/>
<circle cx="320.4" cy="69.4" r="1.08" fill="#4339b0"/>
<circle cx="318.7" cy="71.6" r="1.08" fill="#e63c6c"/>
<circle cx="317.1" cy="73.7" r="1.08" fill="#e63c6c"/>
<circle cx="315.8" cy="75.9" r="1.08" fill="#4339b0"/>
<circle cx="314.2" cy="77.9" r="1.08" fill="#e63c6c"/>
<circle cx="312.7" cy="80.3" r="1.08" fill="#e63c6c"/>
<circle cx="322.9" cy="70.4" r="1.08" fill="#e63c6c"/>
<circle cx="321.4" cy="72.4" r="1.08" fill="#cfc4d4"/>
<circle cx="320.1" cy="74.9" r="1.08" fill="#e63c6c"/>
<circle cx="318.5" cy="77.0" r="1.08" fill="#e63c6c"/>
<circle cx="317.0" cy="79.3" r="1.08" fill="#4339b0"/>
<circle cx="315.5" cy="81.1" r="1.08" fill="#e63c6c"/>
<circle cx="326.1" cy="71.7" r="1.08" fill="#e63c6c"/>
<circle cx="324.3" cy="73.7" r="1.08" fill="#e63c6c"/>
<circle cx="322.6" cy="75.7" r="1.08" fill="#4339b0"/>
<circle cx="321.0" cy="78.0" r="1.08" fill="#e63c6c"/>
<circle cx="319.5" cy="80.0" r="1.08" fill="#e63c6c"/>
<circle cx="318.2" cy="82.0" r="1.08" fill="#4339b0"/>
<circle cx="328.9" cy="72.8" r="1.08" fill="#4339b0"/>
<circle cx="327.1" cy="74.5" r="1.08" fill="#cfc4d4"/>
<circle cx="325.5" cy="76.7" r="1.08" fill="#e63c6c"/>
<circle cx="324.3" cy="79.2" r="1.08" fill="#4339b0"/>
<circle cx="322.4" cy="81.4" r="1.08" fill="#e63c6c"/>
<circle cx="321.1" cy="83.1" r="1.08" fill="#e63c6c"/>
<circle cx="277.7" cy="143.5" r="0.90" fill="#82da72"/>
<circle cx="276.3" cy="145.7" r="0.90" fill="#82da72"/>
<circle cx="331.4" cy="73.8" r="1.08" fill="#e63c6c"/>
<circle cx="330.2" cy="75.7" r="1.08" fill="#cfc4d4"/>
<circle cx="328.5" cy="78.1" r="1.08" fill="#e63c6c"/>
<circle cx="326.8" cy="80.1" r="1.08" fill="#e63c6c"/>
<circle cx="325.2" cy="82.0" r="1.08" fill="#4339b0"/>
<circle cx="323.7" cy="84.3" r="1.08" fill="#cfc4d4"/>
<circle cx="285.2" cy="138.0" r="1.08" fill="#6650d8"/>
<circle cx="283.4" cy="140.2" r="0.90" fill="#82da72"/>
<circle cx="281.9" cy="142.2" r="0.90" fill="#82da72"/>
<circle cx="280.5" cy="144.4" r="1.08" fill="#6650d8"/>
<circle cx="279.1" cy="146.5" r="0.90" fill="#82da72"/>
<circle cx="277.3" cy="148.8" r="1.08" fill="#e63c6c"/>
<circle cx="275.7" cy="151.0" r="1.08" fill="#6650d8"/>
<circle cx="274.5" cy="153.1" r="0.90" fill="#82da72"/>
<circle cx="272.8" cy="155.4" r="1.08" fill="#e63c6c"/>
<circle cx="271.1" cy="157.2" r="1.08" fill="#6650d8"/>
<circle cx="334.2" cy="74.8" r="1.08" fill="#e63c6c"/>
<circle cx="332.7" cy="76.6" r="1.08" fill="#e63c6c"/>
<circle cx="331.5" cy="79.0" r="1.08" fill="#4339b0"/>
<circle cx="329.7" cy="81.0" r="1.08" fill="#e63c6c"/>
<circle cx="328.1" cy="83.2" r="1.08" fill="#e63c6c"/>
<circle cx="326.9" cy="85.6" r="1.08" fill="#4339b0"/>
<circle cx="295.6" cy="128.6" r="1.08" fill="#6650d8"/>
<circle cx="294.1" cy="130.3" r="0.90" fill="#82da72"/>
<circle cx="292.6" cy="132.7" r="1.08" fill="#e63c6c"/>
<circle cx="291.1" cy="134.6" r="0.90" fill="#82da72"/>
<circle cx="289.3" cy="136.9" r="0.90" fill="#82da72"/>
<circle cx="287.7" cy="139.1" r="0.90" fill="#82da72"/>
<circle cx="286.4" cy="141.3" r="0.90" fill="#82da72"/>
<circle cx="284.9" cy="143.6" r="0.90" fill="#82da72"/>
<circle cx="283.2" cy="145.5" r="1.08" fill="#e63c6c"/>
<circle cx="281.6" cy="147.9" r="1.08" fill="#6650d8"/>
<circle cx="280.0" cy="150.1" r="0.90" fill="#82da72"/>
<circle cx="337.4" cy="75.8" r="1.08" fill="#4339b0"/>
<circle cx="335.6" cy="77.9" r="1.08" fill="#e63c6c"/>
<circle cx="334.4" cy="80.2" r="1.08" fill="#e63c6c"/>
<circle cx="332.7" cy="82.3" r="1.08" fill="#4339b0"/>
<circle cx="331.2" cy="84.2" r="1.08" fill="#e63c6c"/>
<circle cx="329.4" cy="86.4" r="1.08" fill="#cfc4d4"/>
<circle cx="306.5" cy="118.7" r="0.90" fill="#82da72"/>
<circle cx="304.8" cy="120.9" r="0.90" fill="#82da72"/>
<circle cx="303.0" cy="123.1" r="1.08" fill="#e63c6c"/>
<circle cx="301.7" cy="125.2" r="1.08" fill="#6650d8"/>
<circle cx="299.9" cy="127.4" r="0.90" fill="#82da72"/>
<circle cx="298.3" cy="129.3" r="1.08" fill="#e63c6c"/>
<circle cx="296.9" cy="131.7" r="1.08" fill="#6650d8"/>
<circle cx="295.4" cy="133.7" r="0.90" fill="#82da72"/>
<circle cx="294.0" cy="136.0" r="1.08" fill="#e63c6c"/>
<circle cx="292.4" cy="137.8" r="1.08" fill="#6650d8"/>
<circle cx="290.7" cy="140.3" r="0.90" fill="#82da72"/>
<circle cx="289.3" cy="142.1" r="1.08" fill="#e63c6c"/>
<circle cx="287.6" cy="144.6" r="0.90" fill="#82da72"/>
<circle cx="286.2" cy="146.5" r="0.90" fill="#82da72"/>
<circle cx="340.1" cy="76.7" r="1.08" fill="#e63c6c"/>
<circle cx="338.8" cy="78.7" r="1.08" fill="#cfc4d4"/>
<circle cx="337.3" cy="80.8" r="1.08" fill="#e63c6c"/>
<circle cx="335.7" cy="83.4" r="1.08" fill="#e63c6c"/>
<circle cx="333.8" cy="85.2" r="1.08" fill="#4339b0"/>
<circle cx="332.3" cy="87.5" r="1.08" fill="#e63c6c"/>
<circle cx="330.9" cy="89.9" r="1.08" fill="#e63c6c"/>
<circle cx="329.5" cy="91.8" r="1.08" fill="#4339b0"/>
<circle cx="313.9" cy="113.2" r="1.08" fill="#e63c6c"/>
<circle cx="312.2" cy="115.2" r="1.08" fill="#6650d8"/>
<circle cx="310.7" cy="117.6" r="0.90" fill="#82da72"/>
<circle cx="309.0" cy="119.7" r="1.08" fill="#e63c6c"/>
<circle cx="307.8" cy="121.7" r="1.08" fill="#6650d8"/>
<circle cx="306.2" cy="123.9" r="0.90" fill="#82da72"/>
<circle cx="304.6" cy="126.4" r="1.08" fill="#e63c6c"/>
<circle cx="302.9" cy="128.3" r="1.08" fill="#6650d8"/>
<circle cx="301.4" cy="130.4" r="0.90" fill="#82da72"/>
<circle cx="299.7" cy="132.4" r="1.08" fill="#e63c6c"/>
<circle cx="298.5" cy="134.7" r="0.90" fill="#82da72"/>
<circle cx="296.6" cy="136.8" r="0.90" fill="#82da72"/>
<circle cx="295.0" cy="139.0" r="1.08" fill="#e63c6c"/>
<circle cx="293.8" cy="141.4" r="1.08" fill="#6650d8"/>
<circle cx="292.3" cy="143.6" r="0.90" fill="#82da72"/>
<circle cx="290.7" cy="145.3" r="1.08" fill="#e63c6c"/>
<circle cx="343.0" cy="77.9" r="1.08" fill="#e63c6c"/>
<circle cx="341.3" cy="79.7" r="1.08" fill="#e63c6c"/>
<circle cx="339.7" cy="82.1" r="1.08" fill="#4339b0"/>
<circle cx="338.2" cy="84.4" r="1.08" fill="#e63c6c"/>
<circle cx="336.7" cy="86.5" r="1.08" fill="#e63c6c"/>
<circle cx="335.3" cy="88.5" r="1.08" fill="#4339b0"/>
<circle cx="333.5" cy="90.6" r="1.08" fill="#e63c6c"/>
<circle cx="332.1" cy="92.7" r="1.08" fill="#e63c6c"/>
<circle cx="330.8" cy="95.0" r="1.08" fill="#4339b0"/>
<circle cx="328.9" cy="96.9" r="1.08" fill="#86d975"/>
<circle cx="319.5" cy="109.9" r="1.08" fill="#e4497a"/>
<circle cx="318.2" cy="112.4" r="1.08" fill="#6650d8"/>
<circle cx="316.6" cy="114.3" r="0.90" fill="#82da72"/>
<circle cx="315.0" cy="116.4" r="1.08" fill="#e63c6c"/>
<circle cx="313.4" cy="118.9" r="0.90" fill="#82da72"/>
<circle cx="312.0" cy="120.9" r="0.90" fill="#82da72"/>
<circle cx="310.3" cy="122.8" r="1.08" fill="#e63c6c"/>
<circle cx="308.8" cy="125.1" r="0.90" fill="#82da72"/>
<circle cx="307.5" cy="127.4" r="0.90" fill="#82da72"/>
<circle cx="305.6" cy="129.5" r="0.90" fill="#82da72"/>
<circle cx="304.2" cy="131.6" r="1.08" fill="#6650d8"/>
<circle cx="302.6" cy="133.9" r="0.90" fill="#82da72"/>
<circle cx="301.3" cy="136.1" r="1.08" fill="#e63c6c"/>
<circle cx="299.4" cy="137.8" r="0.90" fill="#82da72"/>
<circle cx="298.1" cy="140.4" r="0.90" fill="#82da72"/>
<circle cx="296.6" cy="142.4" r="1.08" fill="#e63c6c"/>
<circle cx="345.9" cy="78.6" r="1.08" fill="#4339b0"/>
<circle cx="344.2" cy="81.2" r="1.08" fill="#e63c6c"/>
<circle cx="342.7" cy="83.0" r="1.08" fill="#e63c6c"/>
<circle cx="341.3" cy="85.4" r="1.08" fill="#4339b0"/>
<circle cx="339.4" cy="87.5" r="1.08" fill="#cfc4d4"/>
<circle cx="338.0" cy="89.5" r="1.08" fill="#e63c6c"/>
<circle cx="336.3" cy="91.7" r="1.08" fill="#4339b0"/>
<circle cx="335.2" cy="94.0" r="1.08" fill="#e63c6c"/>
<circle cx="333.4" cy="95.9" r="1.08" fill="#e63c6c"/>
<circle cx="332.1" cy="98.3" r="1.08" fill="#e63c6c"/>
<circle cx="330.1" cy="100.3" r="1.08" fill="#e4497a"/>
<circle cx="324.1" cy="108.8" r="1.20" fill="#5d48d2"/>
<circle cx="322.8" cy="111.0" r="1.08" fill="#e63c6c"/>
<circle cx="321.0" cy="113.2" r="0.90" fill="#82da72"/>
<circle cx="319.3" cy="115.5" r="1.08" fill="#6650d8"/>
<circle cx="318.0" cy="117.4" r="0.90" fill="#82da72"/>
<circle cx="316.3" cy="119.9" r="1.08" fill="#e63c6c"/>
<circle cx="314.7" cy="122.0" r="0.90" fill="#82da72"/>
<circle cx="313.5" cy="124.0" r="0.90" fill="#82da72"/>
<circle cx="311.6" cy="126.1" r="0.90" fill="#82da72"/>
<circle cx="310.4" cy="128.1" r="1.08" fill="#6650d8"/>
<circle cx="308.5" cy="130.7" r="0.90" fill="#82da72"/>
<circle cx="306.9" cy="132.4" r="0.90" fill="#82da72"/>
<circle cx="305.7" cy="134.9" r="1.08" fill="#6650d8"/>
<circle cx="304.2" cy="137.1" r="0.90" fill="#82da72"/>
<circle cx="302.3" cy="139.3" r="1.08" fill="#e63c6c"/>
<circle cx="300.7" cy="141.3" r="1.08" fill="#6650d8"/>
<circle cx="348.6" cy="79.8" r="1.08" fill="#e63c6c"/>
<circle cx="346.9" cy="81.9" r="1.08" fill="#4339b0"/>
<circle cx="345.8" cy="84.0" r="1.08" fill="#e63c6c"/>
<circle cx="343.9" cy="86.3" r="1.08" fill="#e63c6c"/>
<circle cx="342.7" cy="88.5" r="1.08" fill="#4339b0"/>
<circle cx="340.9" cy="90.6" r="1.08" fill="#cfc4d4"/>
<circle cx="339.2" cy="92.7" r="1.08" fill="#e63c6c"/>
<circle cx="337.6" cy="94.9" r="1.08" fill="#4339b0"/>
<circle cx="336.4" cy="96.9" r="1.08" fill="#e63c6c"/>
<circle cx="334.5" cy="99.5" r="1.08" fill="#86d975"/>
<circle cx="333.3" cy="101.6" r="1.08" fill="#e63c6c"/>
<circle cx="331.5" cy="103.8" r="1.08" fill="#e4497a"/>
<circle cx="330.0" cy="105.8" r="1.20" fill="#5d48d2"/>
<circle cx="328.4" cy="107.6" r="1.08" fill="#e63c6c"/>
<circle cx="327.2" cy="110.1" r="1.08" fill="#e4497a"/>
<circle cx="325.2" cy="112.0" r="1.20" fill="#5d48d2"/>
<circle cx="324.1" cy="114.5" r="0.90" fill="#82da72"/>
<circle cx="322.2" cy="116.4" r="1.08" fill="#e63c6c"/>
<circle cx="321.0" cy="118.4" r="1.08" fill="#6650d8"/>
<circle cx="319.4" cy="120.9" r="0.90" fill="#82da72"/>
<circle cx="317.8" cy="122.8" r="1.08" fill="#e63c6c"/>
<circle cx="316.1" cy="125.2" r="1.08" fill="#6650d8"/>
<circle cx="314.4" cy="127.3" r="0.90" fill="#82da72"/>
<circle cx="312.8" cy="129.1" r="0.90" fill="#82da72"/>
<circle cx="311.4" cy="131.7" r="1.08" fill="#6650d8"/>
<circle cx="310.2" cy="133.5" r="0.90" fill="#82da72"/>
<circle cx="308.2" cy="135.8" r="0.90" fill="#82da72"/>
<circle cx="306.8" cy="137.8" r="1.08" fill="#6650d8"/>
<circle cx="351.6" cy="81.0" r="1.08" fill="#e63c6c"/>
<circle cx="350.2" cy="83.2" r="1.08" fill="#e63c6c"/>
<circle cx="348.6" cy="85.1" r="1.08" fill="#4339b0"/>
<circle cx="346.8" cy="87.5" r="1.08" fill="#e63c6c"/>
<circle cx="345.2" cy="89.4" r="1.08" fill="#e63c6c"/>
<circle cx="344.0" cy="91.7" r="1.08" fill="#4339b0"/>
<circle cx="342.2" cy="94.1" r="1.08" fill="#e63c6c"/>
<circle cx="340.6" cy="96.2" r="1.08" fill="#e63c6c"/>
<circle cx="339.4" cy="98.0" r="1.08" fill="#4339b0"/>
<circle cx="337.8" cy="100.5" r="1.08" fill="#e4497a"/>
<circle cx="335.8" cy="102.3" r="1.20" fill="#5d48d2"/>
<circle cx="334.3" cy="104.8" r="1.08" fill="#86d975"/>
<circle cx="333.2" cy="106.7" r="1.08" fill="#e4497a"/>
<circle cx="331.4" cy="108.8" r="1.20" fill="#5d48d2"/>
<circle cx="330.1" cy="110.9" r="1.08" fill="#e63c6c"/>
<circle cx="328.4" cy="113.1" r="1.08" fill="#e4497a"/>
<circle cx="326.6" cy="115.2" r="1.08" fill="#6650d8"/>
<circle cx="325.2" cy="117.6" r="0.90" fill="#82da72"/>
<circle cx="323.4" cy="119.6" r="0.90" fill="#82da72"/>
<circle cx="321.9" cy="121.7" r="1.08" fill="#6650d8"/>
<circle cx="320.7" cy="124.0" r="0.90" fill="#82da72"/>
<circle cx="318.8" cy="126.0" r="0.90" fill="#82da72"/>
<circle cx="317.5" cy="128.0" r="1.08" fill="#6650d8"/>
<circle cx="316.0" cy="130.4" r="0.90" fill="#82da72"/>
<circle cx="314.3" cy="132.8" r="1.08" fill="#e63c6c"/>
<circle cx="312.8" cy="134.6" r="1.08" fill="#6650d8"/>
<circle cx="311.4" cy="137.1" r="0.90" fill="#82da72"/>
<circle cx="354.2" cy="82.1" r="1.08" fill="#4339b0"/>
<circle cx="352.6" cy="84.4" r="1.08" fill="#e63c6c"/>
<circle cx="351.5" cy="86.3" r="1.08" fill="#e63c6c"/>
<circle cx="349.7" cy="88.3" r="1.08" fill="#4339b0"/>
<circle cx="348.2" cy="90.7" r="1.08" fill="#cfc4d4"/>
<circle cx="346.4" cy="92.8" r="1.08" fill="#e63c6c"/>
<circle cx="345.1" cy="94.7" r="1.08" fill="#4339b0"/>
<circle cx="343.6" cy="97.3" r="1.08" fill="#e63c6c"/>
<circle cx="342.0" cy="99.4" r="1.08" fill="#cfc4d4"/>
<circle cx="340.3" cy="101.2" r="1.08" fill="#e63c6c"/>
<circle cx="339.1" cy="103.5" r="1.08" fill="#e4497a"/>
<circle cx="337.6" cy="105.6" r="1.08" fill="#86d975"/>
<circle cx="335.9" cy="108.0" r="1.08" fill="#e63c6c"/>
<circle cx="334.4" cy="109.8" r="1.08" fill="#86d975"/>
<circle cx="332.9" cy="112.3" r="1.20" fill="#5d48d2"/>
<circle cx="331.0" cy="114.2" r="1.08" fill="#e63c6c"/>
<circle cx="329.5" cy="116.2" r="1.08" fill="#e63c6c"/>
<circle cx="328.2" cy="118.7" r="0.90" fill="#82da72"/>
<circle cx="326.5" cy="120.8" r="0.90" fill="#82da72"/>
<circle cx="325.1" cy="122.7" r="0.90" fill="#82da72"/>
<circle cx="323.4" cy="125.1" r="1.08" fill="#6650d8"/>
<circle cx="321.8" cy="127.2" r="0.90" fill="#82da72"/>
<circle cx="320.4" cy="129.3" r="1.08" fill="#e63c6c"/>
<circle cx="318.5" cy="131.5" r="1.08" fill="#6650d8"/>
<circle cx="317.1" cy="133.7" r="0.90" fill="#82da72"/>
<circle cx="357.2" cy="82.9" r="1.08" fill="#e63c6c"/>
<circle cx="355.5" cy="85.0" r="1.08" fill="#4339b0"/>
<circle cx="353.9" cy="87.3" r="1.08" fill="#e63c6c"/>
<circle cx="352.4" cy="89.6" r="1.08" fill="#e63c6c"/>
<circle cx="351.2" cy="91.8" r="1.08" fill="#cfc4d4"/>
<circle cx="349.3" cy="93.8" r="1.08" fill="#e63c6c"/>
<circle cx="348.2" cy="95.8" r="1.08" fill="#e63c6c"/>
<circle cx="346.6" cy="98.2" r="1.08" fill="#4339b0"/>
<circle cx="344.7" cy="100.5" r="1.08" fill="#e63c6c"/>
<circle cx="343.5" cy="102.6" r="1.20" fill="#5d48d2"/>
<circle cx="341.9" cy="104.8" r="1.08" fill="#86d975"/>
<circle cx="340.1" cy="106.8" r="1.08" fill="#86d975"/>
<circle cx="338.8" cy="108.7" r="1.08" fill="#86d975"/>
<circle cx="336.9" cy="111.0" r="1.08" fill="#e63c6c"/>
<circle cx="335.4" cy="113.0" r="1.08" fill="#e4497a"/>
<circle cx="333.9" cy="115.1" r="1.20" fill="#5d48d2"/>
<circle cx="332.3" cy="117.7" r="0.90" fill="#82da72"/>
<circle cx="331.1" cy="119.4" r="1.08" fill="#e63c6c"/>
<circle cx="329.2" cy="121.8" r="1.08" fill="#6650d8"/>
<circle cx="327.7" cy="124.1" r="0.90" fill="#82da72"/>
<circle cx="326.3" cy="126.2" r="1.08" fill="#e63c6c"/>
<circle cx="324.9" cy="128.3" r="0.90" fill="#82da72"/>
<circle cx="323.3" cy="130.2" r="0.90" fill="#82da72"/>
<circle cx="321.6" cy="132.4" r="1.08" fill="#e63c6c"/>
<circle cx="360.1" cy="83.9" r="1.08" fill="#e63c6c"/>
<circle cx="358.3" cy="86.4" r="1.08" fill="#e63c6c"/>
<circle cx="357.1" cy="88.6" r="1.08" fill="#4339b0"/>
<circle cx="355.5" cy="90.5" r="1.08" fill="#e63c6c"/>
<circle cx="353.7" cy="92.5" r="1.08" fill="#cfc4d4"/>
<circle cx="352.3" cy="94.9" r="1.08" fill="#4339b0"/>
<circle cx="350.6" cy="96.9" r="1.08" fill="#e63c6c"/>
<circle cx="349.0" cy="98.9" r="1.08" fill="#e63c6c"/>
<circle cx="347.5" cy="101.2" r="1.08" fill="#4339b0"/>
<circle cx="346.2" cy="103.5" r="1.08" fill="#e4497a"/>
<circle cx="344.7" cy="105.6" r="1.20" fill="#5d48d2"/>
<circle cx="343.3" cy="107.6" r="1.08" fill="#86d975"/>
<circle cx="341.3" cy="110.0" r="1.08" fill="#86d975"/>
<circle cx="340.1" cy="112.0" r="1.20" fill="#5d48d2"/>
<circle cx="338.2" cy="114.3" r="1.08" fill="#e63c6c"/>
<circle cx="336.8" cy="116.4" r="1.08" fill="#e4497a"/>
<circle cx="335.5" cy="118.6" r="1.08" fill="#6650d8"/>
<circle cx="334.0" cy="120.4" r="0.90" fill="#82da72"/>
<circle cx="332.2" cy="122.7" r="1.08" fill="#e63c6c"/>
<circle cx="330.8" cy="124.7" r="0.90" fill="#82da72"/>
<circle cx="329.3" cy="126.9" r="0.90" fill="#82da72"/>
<circle cx="327.6" cy="129.3" r="0.90" fill="#82da72"/>
<circle cx="363.1" cy="85.0" r="1.08" fill="#4339b0"/>
<circle cx="361.3" cy="87.1" r="1.08" fill="#e63c6c"/>
<circle cx="360.0" cy="89.6" r="1.08" fill="#e63c6c"/>
<circle cx="358.5" cy="91.7" r="1.08" fill="#cfc4d4"/>
<circle cx="356.9" cy="93.7" r="1.08" fill="#e63c6c"/>
<circle cx="355.0" cy="95.8" r="1.08" fill="#e63c6c"/>
<circle cx="353.6" cy="98.2" r="1.08" fill="#cfc4d4"/>
<circle cx="352.3" cy="100.3" r="1.08" fill="#e63c6c"/>
<circle cx="350.6" cy="102.3" r="1.08" fill="#e63c6c"/>
<circle cx="349.0" cy="104.4" r="1.08" fill="#e63c6c"/>
<circle cx="347.7" cy="106.5" r="1.08" fill="#e4497a"/>
<circle cx="345.7" cy="108.7" r="1.20" fill="#5d48d2"/>
<circle cx="344.5" cy="111.2" r="1.08" fill="#e63c6c"/>
<circle cx="342.7" cy="113.3" r="1.08" fill="#e4497a"/>
<circle cx="341.1" cy="115.5" r="1.20" fill="#5d48d2"/>
<circle cx="339.8" cy="117.5" r="1.08" fill="#e63c6c"/>
<circle cx="338.1" cy="119.7" r="1.08" fill="#e63c6c"/>
<circle cx="336.8" cy="121.7" r="1.08" fill="#6650d8"/>
<circle cx="335.1" cy="123.8" r="0.90" fill="#82da72"/>
<circle cx="333.6" cy="125.8" r="0.90" fill="#82da72"/>
<circle cx="331.8" cy="127.9" r="1.08" fill="#6650d8"/>
<circle cx="366.0" cy="86.1" r="1.08" fill="#cfc4d4"/>
<circle cx="364.0" cy="88.1" r="1.08" fill="#4339b0"/>
<circle cx="362.8" cy="90.6" r="1.08" fill="#e63c6c"/>
<circle cx="360.9" cy="92.7" r="1.08" fill="#e63c6c"/>
<circle cx="359.8" cy="95.0" r="1.08" fill="#4339b0"/>
<circle cx="357.8" cy="97.1" r="1.08" fill="#e63c6c"/>
<circle cx="356.7" cy="98.9" r="1.08" fill="#e63c6c"/>
<circle cx="354.8" cy="101.0" r="1.08" fill="#4339b0"/>
<circle cx="353.6" cy="103.5" r="1.08" fill="#e63c6c"/>
<circle cx="351.9" cy="105.4" r="1.20" fill="#5d48d2"/>
<circle cx="350.1" cy="107.8" r="1.08" fill="#86d975"/>
<circle cx="348.7" cy="109.8" r="1.08" fill="#e4497a"/>
<circle cx="347.1" cy="111.9" r="1.08" fill="#86d975"/>
<circle cx="345.6" cy="114.1" r="1.08" fill="#e63c6c"/>
<circle cx="344.1" cy="116.5" r="1.08" fill="#e4497a"/>
<circle cx="342.3" cy="118.4" r="1.20" fill="#5d48d2"/>
<circle cx="341.1" cy="120.5" r="0.90" fill="#82da72"/>
<circle cx="339.5" cy="122.6" r="1.08" fill="#e63c6c"/>
<circle cx="337.7" cy="125.1" r="1.08" fill="#6650d8"/>
<circle cx="336.1" cy="126.9" r="0.90" fill="#82da72"/>
<circle cx="368.9" cy="87.0" r="1.08" fill="#e63c6c"/>
<circle cx="367.1" cy="89.5" r="1.08" fill="#e63c6c"/>
<circle cx="365.5" cy="91.5" r="1.08" fill="#4339b0"/>
<circle cx="363.9" cy="93.9" r="1.08" fill="#e63c6c"/>
<circle cx="362.3" cy="95.9" r="1.08" fill="#e63c6c"/>
<circle cx="360.7" cy="98.1" r="1.08" fill="#4339b0"/>
<circle cx="359.5" cy="100.2" r="1.08" fill="#cfc4d4"/>
<circle cx="357.9" cy="102.2" r="1.08" fill="#e63c6c"/>
<circle cx="356.2" cy="104.6" r="1.08" fill="#4339b0"/>
<circle cx="354.9" cy="106.4" r="1.08" fill="#86d975"/>
<circle cx="353.0" cy="109.0" r="1.20" fill="#5d48d2"/>
<circle cx="351.5" cy="111.1" r="1.08" fill="#e63c6c"/>
<circle cx="350.0" cy="113.1" r="1.08" fill="#e4497a"/>
<circle cx="348.6" cy="115.3" r="1.20" fill="#5d48d2"/>
<circle cx="346.9" cy="117.2" r="1.08" fill="#e63c6c"/>
<circle cx="345.5" cy="119.6" r="1.08" fill="#e4497a"/>
<circle cx="343.8" cy="121.8" r="0.90" fill="#82da72"/>
<circle cx="342.1" cy="123.8" r="0.90" fill="#82da72"/>
<circle cx="371.4" cy="88.1" r="1.08" fill="#4339b0"/>
<circle cx="370.1" cy="90.6" r="1.08" fill="#e63c6c"/>
<circle cx="368.2" cy="92.5" r="1.08" fill="#e63c6c"/>
<circle cx="366.9" cy="94.6" r="1.08" fill="#4339b0"/>
<circle cx="365.1" cy="97.1" r="1.08" fill="#e63c6c"/>
<circle cx="363.6" cy="99.3" r="1.08" fill="#e63c6c"/>
<circle cx="362.1" cy="101.4" r="1.08" fill="#cfc4d4"/>
<circle cx="360.8" cy="103.3" r="1.08" fill="#e63c6c"/>
<circle cx="359.2" cy="105.3" r="1.08" fill="#e63c6c"/>
<circle cx="357.5" cy="107.4" r="1.08" fill="#e63c6c"/>
<circle cx="356.1" cy="109.9" r="1.08" fill="#e4497a"/>
<circle cx="354.5" cy="111.9" r="1.20" fill="#5d48d2"/>
<circle cx="353.0" cy="114.1" r="1.08" fill="#86d975"/>
<circle cx="351.6" cy="116.2" r="1.08" fill="#e4497a"/>
<circle cx="349.9" cy="118.4" r="1.20" fill="#5d48d2"/>
<circle cx="348.4" cy="120.7" r="1.08" fill="#e63c6c"/>
<circle cx="346.8" cy="122.9" r="1.08" fill="#e63c6c"/>
<circle cx="376.0" cy="87.2" r="1.08" fill="#e4497a"/>
<circle cx="374.4" cy="89.1" r="1.20" fill="#5d48d2"/>
<circle cx="372.9" cy="91.6" r="1.08" fill="#e63c6c"/>
<circle cx="371.1" cy="93.6" r="1.08" fill="#e63c6c"/>
<circle cx="369.8" cy="95.8" r="1.08" fill="#e63c6c"/>
<circle cx="368.4" cy="97.8" r="1.08" fill="#4339b0"/>
<circle cx="366.7" cy="100.0" r="1.08" fill="#e63c6c"/>
<circle cx="365.3" cy="102.0" r="1.08" fill="#e63c6c"/>
<circle cx="363.3" cy="104.5" r="1.08" fill="#4339b0"/>
<circle cx="362.0" cy="106.4" r="1.08" fill="#e63c6c"/>
<circle cx="360.4" cy="108.8" r="1.20" fill="#5d48d2"/>
<circle cx="358.9" cy="111.0" r="1.08" fill="#e63c6c"/>
<circle cx="357.3" cy="113.2" r="1.08" fill="#e4497a"/>
<circle cx="355.8" cy="115.1" r="1.20" fill="#5d48d2"/>
<circle cx="354.0" cy="117.5" r="1.08" fill="#e63c6c"/>
<circle cx="352.4" cy="119.3" r="1.08" fill="#e4497a"/>
<circle cx="350.9" cy="121.6" r="1.20" fill="#5d48d2"/>
<circle cx="380.4" cy="86.0" r="1.20" fill="#5d48d2"/>
<circle cx="378.6" cy="88.4" r="1.08" fill="#e63c6c"/>
<circle cx="377.2" cy="90.3" r="1.08" fill="#e4497a"/>
<circle cx="375.6" cy="92.4" r="1.20" fill="#5d48d2"/>
<circle cx="374.2" cy="94.9" r="1.08" fill="#86d975"/>
<circle cx="372.5" cy="96.9" r="1.08" fill="#e4497a"/>
<circle cx="371.2" cy="98.9" r="1.08" fill="#e63c6c"/>
<circle cx="369.6" cy="101.3" r="1.08" fill="#4339b0"/>
<circle cx="367.8" cy="103.3" r="1.08" fill="#e63c6c"/>
<circle cx="366.5" cy="105.4" r="1.08" fill="#e63c6c"/>
<circle cx="364.7" cy="107.5" r="1.08" fill="#4339b0"/>
<circle cx="363.2" cy="109.6" r="1.08" fill="#e4497a"/>
<circle cx="361.8" cy="111.8" r="1.08" fill="#86d975"/>
<circle cx="360.1" cy="114.0" r="1.08" fill="#e63c6c"/>
<circle cx="358.7" cy="116.3" r="1.08" fill="#e4497a"/>
<circle cx="357.3" cy="118.5" r="1.20" fill="#5d48d2"/>
<circle cx="384.9" cy="85.2" r="1.08" fill="#86d975"/>
<circle cx="383.0" cy="87.3" r="1.08" fill="#e4497a"/>
<circle cx="381.4" cy="89.1" r="1.20" fill="#5d48d2"/>
<circle cx="380.1" cy="91.3" r="1.08" fill="#e63c6c"/>
<circle cx="378.3" cy="93.5" r="1.08" fill="#86d975"/>
<circle cx="376.9" cy="95.6" r="1.20" fill="#5d48d2"/>
<circle cx="375.5" cy="97.7" r="1.08" fill="#e63c6c"/>
<circle cx="373.9" cy="100.2" r="1.08" fill="#e4497a"/>
<circle cx="372.5" cy="102.3" r="1.20" fill="#5d48d2"/>
<circle cx="370.6" cy="104.4" r="1.08" fill="#4339b0"/>
<circle cx="369.3" cy="106.5" r="1.08" fill="#e63c6c"/>
<circle cx="367.7" cy="108.5" r="1.08" fill="#e63c6c"/>
<circle cx="365.9" cy="110.8" r="1.08" fill="#e63c6c"/>
<circle cx="364.5" cy="112.8" r="1.08" fill="#86d975"/>
<circle cx="363.0" cy="115.1" r="1.20" fill="#5d48d2"/>
<circle cx="361.2" cy="117.4" r="1.08" fill="#e63c6c"/>
<circle cx="389.1" cy="84.0" r="1.08" fill="#e63c6c"/>
<circle cx="387.5" cy="86.0" r="1.08" fill="#6650d8"/>
<circle cx="385.8" cy="88.3" r="0.90" fill="#82da72"/>
<circle cx="384.2" cy="90.4" r="1.08" fill="#e4497a"/>
<circle cx="383.1" cy="92.4" r="1.20" fill="#5d48d2"/>
<circle cx="381.4" cy="94.6" r="1.08" fill="#e63c6c"/>
<circle cx="379.6" cy="96.9" r="1.08" fill="#e4497a"/>
<circle cx="378.2" cy="99.1" r="1.20" fill="#5d48d2"/>
<circle cx="376.7" cy="101.1" r="1.08" fill="#e63c6c"/>
<circle cx="375.0" cy="103.2" r="1.08" fill="#e4497a"/>
<circle cx="373.6" cy="105.6" r="1.20" fill="#5d48d2"/>
<circle cx="372.2" cy="107.5" r="1.08" fill="#e63c6c"/>
<circle cx="370.4" cy="109.7" r="1.08" fill="#e63c6c"/>
<circle cx="369.0" cy="112.0" r="1.20" fill="#5d48d2"/>
<circle cx="367.3" cy="113.9" r="1.08" fill="#e63c6c"/>
<circle cx="365.9" cy="116.3" r="1.08" fill="#e4497a"/>
<circle cx="393.6" cy="83.0" r="0.90" fill="#82da72"/>
<circle cx="391.7" cy="84.9" r="0.90" fill="#82da72"/>
<circle cx="390.2" cy="87.3" r="0.90" fill="#82da72"/>
<circle cx="388.9" cy="89.4" r="1.08" fill="#6650d8"/>
<circle cx="387.4" cy="91.5" r="0.90" fill="#82da72"/>
<circle cx="385.8" cy="93.6" r="1.08" fill="#e63c6c"/>
<circle cx="384.1" cy="95.8" r="1.20" fill="#5d48d2"/>
<circle cx="382.8" cy="97.7" r="1.08" fill="#e63c6c"/>
<circle cx="380.9" cy="100.1" r="1.08" fill="#e4497a"/>
<circle cx="379.6" cy="102.1" r="1.20" fill="#5d48d2"/>
<circle cx="378.1" cy="104.3" r="1.08" fill="#e63c6c"/>
<circle cx="376.4" cy="106.4" r="1.08" fill="#e4497a"/>
<circle cx="374.9" cy="108.7" r="1.20" fill="#5d48d2"/>
<circle cx="373.1" cy="110.8" r="1.08" fill="#e63c6c"/>
<circle cx="371.6" cy="113.1" r="1.08" fill="#86d975"/>
<circle cx="396.6" cy="83.8" r="1.08" fill="#e63c6c"/>
<circle cx="394.7" cy="86.0" r="0.90" fill="#82da72"/>
<circle cx="393.5" cy="88.1" r="0.90" fill="#82da72"/>
<circle cx="391.5" cy="90.4" r="1.08" fill="#e63c6c"/>
<circle cx="390.0" cy="92.2" r="0.90" fill="#82da72"/>
<circle cx="388.7" cy="94.4" r="0.90" fill="#82da72"/>
<circle cx="386.8" cy="96.9" r="1.08" fill="#e63c6c"/>
<circle cx="385.3" cy="99.0" r="0.90" fill="#82da72"/>
<circle cx="384.1" cy="100.9" r="1.08" fill="#e63c6c"/>
<circle cx="382.5" cy="103.3" r="1.08" fill="#86d975"/>
<circle cx="381.0" cy="105.1" r="1.20" fill="#5d48d2"/>
<circle cx="379.4" cy="107.5" r="1.08" fill="#e63c6c"/>
<circle cx="400.6" cy="83.0" r="1.08" fill="#6650d8"/>
<circle cx="399.0" cy="84.7" r="0.90" fill="#82da72"/>
<circle cx="397.8" cy="86.8" r="1.08" fill="#e63c6c"/>
<circle cx="396.2" cy="89.0" r="1.08" fill="#6650d8"/>
<circle cx="394.5" cy="91.1" r="0.90" fill="#82da72"/>
<circle cx="393.0" cy="93.5" r="1.08" fill="#e63c6c"/>
<circle cx="391.3" cy="95.8" r="1.08" fill="#6650d8"/>
<circle cx="390.0" cy="97.9" r="0.90" fill="#82da72"/>
<circle cx="388.3" cy="100.1" r="1.08" fill="#e63c6c"/>
<circle cx="386.9" cy="102.1" r="1.08" fill="#6650d8"/>
<circle cx="401.8" cy="86.2" r="1.08" fill="#6650d8"/>
<circle cx="400.7" cy="88.0" r="0.90" fill="#82da72"/>
<circle cx="399.2" cy="90.4" r="1.08" fill="#e63c6c"/>
<circle cx="397.3" cy="92.4" r="1.08" fill="#6650d8"/>
<circle cx="395.8" cy="94.6" r="0.90" fill="#82da72"/>
<circle cx="394.5" cy="96.9" r="1.08" fill="#e63c6c"/>
<circle cx="392.5" cy="98.7" r="1.08" fill="#6650d8"/>
<circle cx="391.2" cy="101.2" r="0.90" fill="#82da72"/>
<circle cx="404.7" cy="87.2" r="1.08" fill="#e63c6c"/>
<circle cx="403.5" cy="89.2" r="1.08" fill="#6650d8"/>
<circle cx="402.0" cy="91.5" r="0.90" fill="#82da72"/>
<circle cx="400.5" cy="93.4" r="1.08" fill="#e63c6c"/>
<circle cx="398.7" cy="95.7" r="0.90" fill="#82da72"/>
<circle cx="397.3" cy="98.0" r="0.90" fill="#82da72"/>
<circle cx="407.8" cy="88.1" r="0.90" fill="#82da72"/>
<circle cx="406.1" cy="90.1" r="1.08" fill="#e63c6c"/>
<circle cx="404.8" cy="92.3" r="1.08" fill="#6650d8"/>
<circle cx="403.3" cy="94.6" r="0.90" fill="#82da72"/>
<circle cx="410.6" cy="89.3" r="0.90" fill="#82da72"/>
<circle cx="409.1" cy="91.2" r="0.90" fill="#82da72"/>
<polygon points="271.0,39.0 297.0,31.6 332.4,41.5 348.0,35.5 358.0,31.8 363.8,30.8 469.0,59.7 469.1,59.7 465.8,60.9 461.2,62.6 455.9,64.6 450.6,66.6 446.2,68.3 442.7,69.7 439.4,71.1 436.5,72.3 433.9,73.4 431.6,74.3 429.8,75.0 428.4,75.6 427.2,76.1 426.2,76.4 425.3,76.5 424.3,76.5 423.5,76.3 422.8,76.0 422.2,75.5 421.6,75.0 421.1,74.4 420.6,73.6 420.2,72.8 419.8,72.0 419.2,71.4 418.5,70.9 417.8,70.4 416.9,70.0 416.1,69.7 415.2,69.6 414.3,69.6 413.4,69.8 412.4,70.1 411.5,70.6 410.7,71.0 409.9,71.6 409.2,72.2 408.6,72.9 407.8,73.6 407.0,74.3 406.1,75.0 405.0,75.6 403.9,76.3 402.8,76.9 401.5,77.4 400.4,77.9 399.4,78.5 398.2,78.9 396.6,79.1 394.2,78.9 390.6,78.1 385.8,76.8 380.8,75.4 376.3,74.1 373.2,73.2" fill="url(#gBackTop)" />
<polygon points="271.0,39.0 297.0,31.6 333.0,42.6 407.6,69.5 414.0,70.0 413.4,69.8 412.4,70.1 411.5,70.6 410.7,71.0 409.9,71.6 409.2,72.2 408.6,72.9 407.8,73.6 407.0,74.3 406.1,75.0 405.0,75.6 403.9,76.3 402.8,76.9 401.5,77.4 400.4,77.9 399.4,78.5 398.2,78.9 396.6,79.1 394.2,78.9 390.6,78.1 385.8,76.8 380.8,75.4 376.3,74.1 373.2,73.2" fill="#bfa049" />
<polyline points="297.0,31.8 333.0,42.6 407.6,69.5" fill="none" stroke="#d9be68" stroke-width="1.2" />
<polygon points="373.2,73.2 376.3,74.1 380.8,75.4 385.8,76.8 390.6,78.1 394.2,78.9 396.6,79.1 398.2,78.9 399.4,78.5 400.4,77.9 401.5,77.4 402.8,76.9 403.9,76.3 405.0,75.6 406.1,75.0 407.0,74.3 407.8,73.6 408.6,72.9 409.2,72.2 409.9,71.6 410.7,71.0 411.5,70.6 412.4,70.1 413.4,69.8 414.3,69.6 415.2,69.6 416.1,69.7 416.9,70.0 417.8,70.4 418.5,70.9 419.2,71.4 419.8,72.0 420.2,72.8 420.6,73.6 421.1,74.4 421.6,75.0 422.2,75.5 422.8,76.0 423.5,76.3 424.3,76.5 425.3,76.5 426.2,76.4 427.2,76.1 428.4,75.6 429.8,75.0 431.6,74.3 433.9,73.4 436.5,72.3 439.4,71.1 442.7,69.7 446.2,68.3 450.6,66.6 455.9,64.6 461.2,62.6 465.8,60.9 469.1,59.7 468.1,69.6 465.1,71.2 460.8,73.6 455.8,76.2 450.7,78.9 446.2,81.1 442.2,82.8 438.1,84.3 434.2,85.6 430.8,86.8 428.0,87.8 426.1,88.7 424.9,89.3 424.1,89.9 423.4,90.3 422.5,90.7 421.4,91.2 420.3,91.6 419.2,92.0 418.1,92.1 417.0,92.0 415.9,91.5 414.9,90.7 413.8,89.7 412.7,88.7 411.6,87.8 410.5,87.0 409.4,86.1 408.3,85.2 407.2,84.4 406.1,83.8 405.1,83.3 404.1,82.9 403.1,82.5 401.9,82.4 400.6,82.3 399.2,82.5 397.7,82.9 396.0,83.3 394.0,83.8 391.5,84.3 388.1,84.9 384.0,85.5 379.7,86.1 375.9,86.7 373.2,87.1" fill="#e9d27e" />
<polygon points="271.0,39.0 373.2,73.2 373.2,87.0 271.0,51.5" fill="url(#gBackFront)" />
<polyline points="271.0,39.2 373.2,73.4" fill="none" stroke="#efdc92" stroke-width="0.7" />
<polygon points="153.0,98.1 163.7,93.9 164.0,93.2 164.3,92.2 164.7,91.1 165.2,89.9 165.8,88.6 166.4,87.5 167.1,86.4 167.8,85.3 168.6,84.2 169.4,83.1 170.3,82.1 171.3,81.2 172.4,80.4 173.6,79.6 174.8,78.8 176.1,78.2 177.3,77.5 178.5,77.0 179.7,76.5 180.9,76.1 182.1,75.7 183.1,75.4 184.0,75.2 184.7,75.0 184.9,74.3 185.1,73.5 185.4,72.4 185.8,71.2 186.3,70.1 186.8,69.0 187.4,68.0 188.1,66.9 188.8,65.8 189.7,64.8 190.6,63.8 191.6,62.8 192.7,61.9 193.9,61.0 195.2,60.1 196.6,59.3 198.1,58.5 199.6,57.7 201.2,57.0 202.8,56.3 204.6,55.7 206.4,55.1 208.4,54.5 210.6,54.0 213.2,53.4 216.2,52.9 219.4,52.4 222.5,51.9 225.1,51.5 226.9,51.2 329.0,88.7 303.6,99.5 302.9,100.0 301.9,100.8 300.8,101.7 299.6,102.6 298.4,103.7 297.4,104.8 296.6,106.0 295.9,107.3 295.2,108.6 294.5,110.0 293.9,111.4 293.1,112.7 292.2,114.0 291.2,115.4 290.2,116.7 289.2,117.9 288.4,118.9 287.8,119.7 287.0,120.1 286.0,120.6 284.7,121.2 283.3,121.9 282.0,122.6 280.8,123.2 279.7,123.8 278.7,124.3 277.6,124.8 276.6,125.3 275.7,126.0 274.7,126.7 273.7,127.6 272.8,128.5 271.9,129.5 271.0,130.6 270.2,131.7 269.4,132.8 268.7,133.9 268.1,135.1 267.5,136.3 267.0,137.5 266.5,138.7 265.9,139.8 265.3,141.0 264.6,142.2 263.9,143.3 263.3,144.4 262.8,145.3 262.4,146.0 176.4,184.1 153.0,169.8" fill="#c8aa53" />
<polygon points="163.7,93.9 262.4,146.0 176.4,184.1 153.0,169.8 153.0,98.1" fill="url(#gBase)" />
<polygon points="172.4,80.4 274.7,126.7 274.7,126.7 273.7,127.6 272.8,128.5 271.9,129.5 271.0,130.6 270.2,131.7 269.4,132.8 268.7,133.9 268.1,135.1 267.5,136.3 267.0,137.5 266.5,138.7 265.9,139.8 265.3,141.0 264.6,142.2 263.9,143.3 263.3,144.4 262.8,145.3 262.4,146.0 163.7,93.9 164.0,93.2 164.3,92.2 164.7,91.1 165.2,89.9 165.8,88.6 166.4,87.5 167.1,86.4 167.8,85.3 168.6,84.2 169.4,83.1 170.3,82.1 171.3,81.2 172.4,80.4" fill="url(#gS4)" />
<polygon points="184.7,75.0 287.8,119.7 287.0,120.1 286.0,120.6 284.7,121.2 283.3,121.9 282.0,122.6 280.8,123.2 279.7,123.8 278.7,124.3 277.6,124.8 276.6,125.3 275.7,126.0 274.7,126.7 172.4,80.4 173.6,79.6 174.8,78.8 176.1,78.2 177.3,77.5 178.5,77.0 179.7,76.5 180.9,76.1 182.1,75.7 183.1,75.4 184.0,75.2 184.7,75.0" fill="url(#gS3)" />
<polygon points="199.6,57.7 303.6,99.5 302.9,100.0 301.9,100.8 300.8,101.7 299.6,102.6 298.4,103.7 297.4,104.8 296.6,106.0 295.9,107.3 295.2,108.6 294.5,110.0 293.9,111.4 293.1,112.7 292.2,114.0 291.2,115.4 290.2,116.7 289.2,117.9 288.4,118.9 287.8,119.7 184.7,75.0 184.9,74.3 185.1,73.5 185.4,72.4 185.8,71.2 186.3,70.1 186.8,69.0 187.4,68.0 188.1,66.9 188.8,65.8 189.7,64.8 190.6,63.8 191.6,62.8 192.7,61.9 193.9,61.0 195.2,60.1 196.6,59.3 198.1,58.5 199.6,57.7" fill="url(#gS2)" />
<polygon points="226.9,51.2 329.0,88.7 303.6,99.5 199.6,57.7 201.2,57.0 202.8,56.3 204.6,55.7 206.4,55.1 208.4,54.5 210.6,54.0 213.2,53.4 216.2,52.9 219.4,52.4 222.5,51.9 225.1,51.5 226.9,51.2" fill="url(#gPlateau)" />
<polyline points="184.7,75.0 287.8,119.7" fill="none" stroke="#b4943f" stroke-width="0.8" />
<polyline points="163.7,93.9 262.4,146.0" fill="none" stroke="#b89844" stroke-width="0.8" />
<polygon points="329.0,88.7 303.6,99.5 302.9,100.0 301.9,100.8 300.8,101.7 299.6,102.6 298.4,103.7 297.4,104.8 296.6,106.0 295.9,107.3 295.2,108.6 294.5,110.0 293.9,111.4 293.1,112.7 292.2,114.0 291.2,115.4 290.2,116.7 289.2,117.9 288.4,118.9 287.8,119.7 287.0,120.1 286.0,120.6 284.7,121.2 283.3,121.9 282.0,122.6 280.8,123.2 279.7,123.8 278.7,124.3 277.6,124.8 276.6,125.3 275.7,126.0 274.7,126.7 273.7,127.6 272.8,128.5 271.9,129.5 271.0,130.6 270.2,131.7 269.4,132.8 268.7,133.9 268.1,135.1 267.5,136.3 267.0,137.5 266.5,138.7 265.9,139.8 265.3,141.0 264.6,142.2 263.9,143.3 263.3,144.4 262.8,145.3 262.4,146.0 269.4,157.3 269.8,156.9 270.2,156.2 270.8,155.5 271.4,154.7 272.0,153.8 272.5,152.9 273.1,151.8 273.6,150.8 274.2,149.7 274.7,148.6 275.2,147.5 275.6,146.4 276.1,145.4 276.6,144.3 277.3,143.3 278.1,142.4 279.1,141.5 280.2,140.6 281.3,139.8 282.6,138.9 284.1,138.0 285.7,137.2 287.4,136.4 289.0,135.5 290.4,134.6 291.5,133.6 292.4,132.6 293.1,131.5 293.9,130.4 294.8,129.3 295.8,128.1 296.8,126.9 297.8,125.6 298.9,124.4 300.1,123.2 301.4,122.1 302.8,121.0 304.2,120.0 305.7,118.9 307.1,117.9 308.5,116.8 309.9,115.7 311.3,114.7 312.7,113.6 314.1,112.7 315.5,111.9 316.9,111.2 318.2,110.5 319.6,109.9 321.1,109.2 322.7,108.4 324.6,107.6 326.4,106.8 327.9,106.2 329.0,105.7" fill="#eed783" />
<polygon points="262.4,146.0 269.4,157.3 177.0,200.3 176.4,184.1" fill="url(#gSDfront)" />
<polyline points="262.4,146.2 176.4,184.3" fill="none" stroke="#f2de94" stroke-width="0.6" />
<polygon points="153.0,169.8 176.4,184.1 177.0,200.3 153.0,184.8" fill="url(#gSDleft)" />
</g>
<text x="181.8" y="42.9" font-size="13.4" fill="#fff" text-anchor="middle" font-weight="normal" >Au</text>
<text x="182.2" y="59.2" font-size="13.4" fill="#fff" text-anchor="middle" font-weight="normal" >(G)</text>
<text x="181.4" y="140.2" font-size="13.4" fill="#fff" text-anchor="middle" font-weight="normal" >Au</text>
<text x="181.4" y="156.8" font-size="13.4" fill="#fff" text-anchor="middle" font-weight="normal" >(S/D)</text>
<g transform="translate(212.6,199.9) rotate(-20.8)"><text x="0.0" y="0.0" font-size="13.6" fill="#fff" text-anchor="start" font-weight="normal" >PS-brush/Al<tspan dy="2.2" font-size="65%">2</tspan><tspan dy="-2.2" font-size="1%">&#8203;</tspan>O<tspan dy="2.2" font-size="65%">3</tspan><tspan dy="-2.2" font-size="1%">&#8203;</tspan></text></g>
<g transform="translate(278.6,203.4) rotate(-21.9)"><text x="0.0" y="0.0" font-size="13.4" fill="#000" text-anchor="start" font-weight="normal" >Glass</text></g>
<text x="338.7" y="35.5" font-size="13.4" fill="#f5101c" text-anchor="start" font-weight="normal" >Top MoSe<tspan dy="2.2" font-size="65%">2</tspan><tspan dy="-2.2" font-size="1%">&#8203;</tspan></text>
<text x="381.9" y="68.2" font-size="13.4" fill="#5ce65c" text-anchor="start" font-weight="normal" >Bottom MoS<tspan dy="2.2" font-size="65%">2</tspan><tspan dy="-2.2" font-size="1%">&#8203;</tspan></text>
<line x1="365.6" y1="39.2" x2="345" y2="85" stroke="#f5101c" stroke-width="1.2"/>
<polygon points="342.2,91.1 342.0,83.2 348.2,86.1" fill="#f5101c" />
<line x1="420.9" y1="76.6" x2="389" y2="100.3" stroke="#5ce65c" stroke-width="1.2"/>
<polygon points="384.2,103.9 387.8,96.9 391.9,102.5" fill="#5ce65c" />
<text x="138.5" y="10.1" font-size="18.6" fill="#000" text-anchor="start" font-weight="bold" >a</text>
<defs><clipPath id="clipB"><rect x="411" y="116.1" width="137" height="90.70000000000002"/></clipPath>
<radialGradient id="gPad" cx="0.5" cy="0.5" r="0.75"><stop offset="0" stop-color="#fef8e6"/><stop offset="0.6" stop-color="#fcf0d2"/><stop offset="1" stop-color="#f3dfba"/></radialGradient>
</defs>
<g clip-path="url(#clipB)">
<rect x="411" y="116.1" width="137" height="90.70000000000002" fill="#464e70"/>
<rect x="463.1" y="114" width="31.6" height="22" fill="#9f8592"/>
<path d="M411,132.8 L472.6,132.8 Q475,132.8 475,135.3 L475,185.8 Q475,188.3 472.6,188.3 L420,188.3 L411,194 Z" fill="url(#gPad)" stroke="#8a8aa0" stroke-width="0.6"/>
<path d="M548,132.8 L487.1,132.8 Q484.6,132.8 484.6,135.3 L484.6,185.8 Q484.6,188.3 487.1,188.3 L539,188.3 L548,194 Z" fill="url(#gPad)" stroke="#8a8aa0" stroke-width="0.6"/>
<rect x="475.2" y="130" width="9.2" height="62" fill="#a78884"/>
<rect x="475.2" y="153.5" width="9.2" height="12.5" fill="#7698ea"/>
<rect x="463.4" y="188.4" width="31.5" height="15" rx="2.6" fill="#a6827d" stroke="#5c4f70" stroke-width="0.9"/>
<rect x="475.6" y="186" width="8.4" height="5" fill="#a6827d"/>
</g>
<polygon points="456.5,155.7 496.7,147.2 505.0,152.7 506.7,161.5 466.5,170.8" fill="none" stroke="#ff1414" stroke-width="1.35" stroke-linejoin="round"/>
<polygon points="460.3,157.2 497.9,152.2 500.4,161.5 470.3,166.5 462.8,162.8" fill="none" stroke="#14dc14" stroke-width="1.35" stroke-linejoin="round"/>
<text x="478.7" y="130.8" font-size="13.2" fill="#000" text-anchor="middle" font-weight="normal" >G</text>
<text x="429.6" y="165.3" font-size="13.2" fill="#000" text-anchor="middle" font-weight="normal" >S</text>
<text x="530.0" y="165.3" font-size="13.2" fill="#000" text-anchor="middle" font-weight="normal" >D</text>
<text x="435.0" y="144.0" font-size="13.2" fill="#ff1414" text-anchor="start" font-weight="bold" >MoSe<tspan dy="2.6" font-size="70%">2</tspan><tspan dy="-2.6" font-size="1%">&#8203;</tspan></text>
<text x="491.0" y="178.0" font-size="13.2" fill="#14dc14" text-anchor="start" font-weight="bold" >MoS<tspan dy="2.6" font-size="70%">2</tspan><tspan dy="-2.6" font-size="1%">&#8203;</tspan></text>
<rect x="523" y="202.2" width="21" height="1.6" fill="#fff"/>
<text x="400.7" y="115.6" font-size="18.6" fill="#000" text-anchor="start" font-weight="bold" >b</text>
<defs><clipPath id="clipC"><rect x="42" y="227.7" width="173.2" height="160.90000000000003"/></clipPath>
<linearGradient id="gC" gradientUnits="userSpaceOnUse" x1="0" y1="220.0" x2="0" y2="395.0">
<stop offset="0.0000" stop-color="#848484"/>
<stop offset="0.1343" stop-color="#828282"/>
<stop offset="0.1514" stop-color="#a8a8a8"/>
<stop offset="0.2286" stop-color="#acacac"/>
<stop offset="0.2429" stop-color="#8e8e8e"/>
<stop offset="0.2629" stop-color="#868686"/>
<stop offset="0.2857" stop-color="#747474"/>
<stop offset="0.3040" stop-color="#6a6a6a"/>
<stop offset="0.3097" stop-color="#1a1a1a"/>
<stop offset="0.3217" stop-color="#161616"/>
<stop offset="0.3303" stop-color="#383838"/>
<stop offset="0.4571" stop-color="#3b3b3b"/>
<stop offset="0.6057" stop-color="#383838"/>
<stop offset="0.6229" stop-color="#505050"/>
<stop offset="0.6371" stop-color="#d8d8d8"/>
<stop offset="0.6971" stop-color="#e9e9e9"/>
<stop offset="0.7571" stop-color="#dedede"/>
<stop offset="0.7743" stop-color="#707070"/>
<stop offset="0.7886" stop-color="#2c2c2c"/>
<stop offset="0.8114" stop-color="#343434"/>
<stop offset="0.8457" stop-color="#3f3f3f"/>
<stop offset="0.9143" stop-color="#3a3a3a"/>
<stop offset="1.0000" stop-color="#303030"/>
</linearGradient></defs>
<g clip-path="url(#clipC)">
<g filter="url(#nzFine)">
<g transform="translate(42,0) skewY(0.65) translate(-42,0)">
<rect x="40" y="220.0" width="177.2" height="175.0" fill="url(#gC)"/>
<rect x="61.5" y="245" width="7.5" height="17" fill="#929292"/>
</g>
</g>
<g transform="translate(42,0) skewY(0.65) translate(-42,0)">
<rect x="69" y="246" width="150" height="15.8" fill="#e2e2e2" filter="url(#nzLump)"/>
<rect x="38" y="246" width="23.5" height="15.8" fill="#e2e2e2" filter="url(#nzLump)"/>
</g>
<rect x="40" y="226" width="178" height="19" fill="#848484" filter="url(#nzCoarse)"/>
</g>
<rect x="185.2" y="380.8" width="17.8" height="1.6" fill="#fff"/>
<text x="47.4" y="257.8" font-size="13.4" fill="#000" text-anchor="start" font-weight="normal" >Pt</text>
<text x="47.0" y="305.7" font-size="13.4" fill="#fff" text-anchor="start" font-weight="normal" >PS-brush/Al<tspan dy="2.2" font-size="65%">2</tspan><tspan dy="-2.2" font-size="1%">&#8203;</tspan>O<tspan dy="2.2" font-size="65%">3</tspan><tspan dy="-2.2" font-size="1%">&#8203;</tspan></text>
<text x="47.0" y="346.0" font-size="13.4" fill="#000" text-anchor="start" font-weight="normal" >Au</text>
<text x="47.0" y="377.0" font-size="13.4" fill="#fff" text-anchor="start" font-weight="normal" >Glass</text>
<text x="18.7" y="229.3" font-size="18.6" fill="#000" text-anchor="start" font-weight="bold" >c</text>
<line x1="215.4" y1="265.8" x2="237.6" y2="227.6" stroke="#333" stroke-width="0.8" stroke-dasharray="2,1.5"/>
<line x1="215.4" y1="282" x2="237.6" y2="387.5" stroke="#333" stroke-width="0.8" stroke-dasharray="2,1.5"/>
<defs><clipPath id="clipD"><rect x="237.6" y="226.5" width="173.20000000000002" height="161.2"/></clipPath></defs>
<g clip-path="url(#clipD)">
<g filter="url(#nzD)">
<rect x="237.6" y="226.5" width="173.20000000000002" height="161.2" fill="#868686"/>
<g transform="translate(237.6,227.8) skewY(-1.65)">
<rect x="-5" y="78.0" width="183.20000000000002" height="3.2" fill="#5e5e5e"/>
<rect x="-5" y="62.6" width="183.20000000000002" height="3.2" fill="#585858"/>
<rect x="-5" y="47.1" width="183.20000000000002" height="3.2" fill="#5e5e5e"/>
<rect x="-5" y="31.7" width="183.20000000000002" height="3.2" fill="#585858"/>
<rect x="-5" y="16.2" width="183.20000000000002" height="3.2" fill="#5e5e5e"/>
<rect x="-5" y="0.8" width="183.20000000000002" height="3.2" fill="#585858"/>
<rect x="-5" y="-14.7" width="183.20000000000002" height="3.2" fill="#5e5e5e"/>
<ellipse cx="-3.9" cy="91.4" rx="1.25" ry="1.15" fill="#c6c6c6"/>
<ellipse cx="-0.6" cy="91.3" rx="1.25" ry="1.15" fill="#c6c6c6"/>
<ellipse cx="2.7" cy="91.5" rx="1.25" ry="1.15" fill="#c6c6c6"/>
<ellipse cx="6.0" cy="91.5" rx="1.25" ry="1.15" fill="#c6c6c6"/>
<ellipse cx="9.3" cy="91.2" rx="1.25" ry="1.15" fill="#c6c6c6"/>
<ellipse cx="12.6" cy="91.2" rx="1.25" ry="1.15" fill="#c6c6c6"/>
<ellipse cx="15.9" cy="91.6" rx="1.25" ry="1.15" fill="#c6c6c6"/>
<ellipse cx="19.2" cy="91.3" rx="1.25" ry="1.15" fill="#c6c6c6"/>
<ellipse cx="22.5" cy="91.3" rx="1.25" ry="1.15" fill="#c6c6c6"/>
<ellipse cx="25.8" cy="91.6" rx="1.25" ry="1.15" fill="#c6c6c6"/>
<ellipse cx="29.1" cy="91.4" rx="1.25" ry="1.15" fill="#c6c6c6"/>
<ellipse cx="32.4" cy="91.6" rx="1.25" ry="1.15" fill="#c6c6c6"/>
<ellipse cx="35.7" cy="91.4" rx="1.25" ry="1.15" fill="#c6c6c6"/>
<ellipse cx="39.0" cy="91.5" rx="1.25" ry="1.15" fill="#c6c6c6"/>
<ellipse cx="42.3" cy="91.2" rx="1.25" ry="1.15" fill="#c6c6c6"/>
<ellipse cx="45.6" cy="91.5" rx="1.25" ry="1.15" fill="#c6c6c6"/>
<ellipse cx="48.9" cy="91.6" rx="1.25" ry="1.15" fill="#c6c6c6"/>
<ellipse cx="52.2" cy="91.4" rx="1.25" ry="1.15" fill="#c6c6c6"/>
<ellipse cx="55.5" cy="91.5" rx="1.25" ry="1.15" fill="#c6c6c6"/>
<ellipse cx="58.8" cy="91.5" rx="1.25" ry="1.15" fill="#c6c6c6"/>
<ellipse cx="62.1" cy="91.2" rx="1.25" ry="1.15" fill="#c6c6c6"/>
<ellipse cx="65.4" cy="91.5" rx="1.25" ry="1.15" fill="#c6c6c6"/>
<ellipse cx="68.7" cy="91.4" rx="1.25" ry="1.15" fill="#c6c6c6"/>
<ellipse cx="72.0" cy="91.3" rx="1.25" ry="1.15" fill="#c6c6c6"/>
<ellipse cx="75.3" cy="91.2" rx="1.25" ry="1.15" fill="#c6c6c6"/>
<ellipse cx="78.6" cy="91.6" rx="1.25" ry="1.15" fill="#c6c6c6"/>
<ellipse cx="81.9" cy="91.4" rx="1.25" ry="1.15" fill="#c6c6c6"/>
<ellipse cx="85.2" cy="91.5" rx="1.25" ry="1.15" fill="#c6c6c6"/>
<ellipse cx="88.5" cy="91.6" rx="1.25" ry="1.15" fill="#c6c6c6"/>
<ellipse cx="91.8" cy="91.5" rx="1.25" ry="1.15" fill="#c6c6c6"/>
<ellipse cx="95.1" cy="91.6" rx="1.25" ry="1.15" fill="#c6c6c6"/>
<ellipse cx="98.4" cy="91.3" rx="1.25" ry="1.15" fill="#c6c6c6"/>
<ellipse cx="101.7" cy="91.6" rx="1.25" ry="1.15" fill="#c6c6c6"/>
<ellipse cx="105.0" cy="91.4" rx="1.25" ry="1.15" fill="#c6c6c6"/>
<ellipse cx="108.3" cy="91.6" rx="1.25" ry="1.15" fill="#c6c6c6"/>
<ellipse cx="111.6" cy="91.6" rx="1.25" ry="1.15" fill="#c6c6c6"/>
<ellipse cx="114.9" cy="91.2" rx="1.25" ry="1.15" fill="#c6c6c6"/>
<ellipse cx="118.2" cy="91.2" rx="1.25" ry="1.15" fill="#c6c6c6"/>
<ellipse cx="121.5" cy="91.3" rx="1.25" ry="1.15" fill="#c6c6c6"/>
<ellipse cx="124.8" cy="91.6" rx="1.25" ry="1.15" fill="#c6c6c6"/>
<ellipse cx="128.1" cy="91.4" rx="1.25" ry="1.15" fill="#c6c6c6"/>
<ellipse cx="131.4" cy="91.5" rx="1.25" ry="1.15" fill="#c6c6c6"/>
<ellipse cx="134.7" cy="91.3" rx="1.25" ry="1.15" fill="#c6c6c6"/>
<ellipse cx="138.0" cy="91.4" rx="1.25" ry="1.15" fill="#c6c6c6"/>
<ellipse cx="141.3" cy="91.3" rx="1.25" ry="1.15" fill="#c6c6c6"/>
<ellipse cx="144.6" cy="91.3" rx="1.25" ry="1.15" fill="#c6c6c6"/>
<ellipse cx="147.9" cy="91.4" rx="1.25" ry="1.15" fill="#c6c6c6"/>
<ellipse cx="151.2" cy="91.4" rx="1.25" ry="1.15" fill="#c6c6c6"/>
<ellipse cx="154.5" cy="91.6" rx="1.25" ry="1.15" fill="#c6c6c6"/>
<ellipse cx="157.8" cy="91.5" rx="1.25" ry="1.15" fill="#c6c6c6"/>
<ellipse cx="161.1" cy="91.6" rx="1.25" ry="1.15" fill="#c6c6c6"/>
<ellipse cx="164.4" cy="91.6" rx="1.25" ry="1.15" fill="#c6c6c6"/>
<ellipse cx="167.7" cy="91.6" rx="1.25" ry="1.15" fill="#c6c6c6"/>
<ellipse cx="171.0" cy="91.5" rx="1.25" ry="1.15" fill="#c6c6c6"/>
<ellipse cx="174.3" cy="91.2" rx="1.25" ry="1.15" fill="#c6c6c6"/>
<ellipse cx="177.6" cy="91.6" rx="1.25" ry="1.15" fill="#c6c6c6"/>
<ellipse cx="180.9" cy="91.6" rx="1.25" ry="1.15" fill="#c6c6c6"/>
<ellipse cx="-2.1" cy="87.4" rx="1.25" ry="1.15" fill="#b4b4b4"/>
<ellipse cx="1.2" cy="87.5" rx="1.25" ry="1.15" fill="#b4b4b4"/>
<ellipse cx="4.5" cy="87.2" rx="1.25" ry="1.15" fill="#b4b4b4"/>
<ellipse cx="7.8" cy="87.5" rx="1.25" ry="1.15" fill="#b4b4b4"/>
<ellipse cx="11.1" cy="87.4" rx="1.25" ry="1.15" fill="#b4b4b4"/>
<ellipse cx="14.4" cy="87.2" rx="1.25" ry="1.15" fill="#b4b4b4"/>
<ellipse cx="17.7" cy="87.1" rx="1.25" ry="1.15" fill="#b4b4b4"/>
<ellipse cx="21.0" cy="87.5" rx="1.25" ry="1.15" fill="#b4b4b4"/>
<ellipse cx="24.3" cy="87.6" rx="1.25" ry="1.15" fill="#b4b4b4"/>
<ellipse cx="27.6" cy="87.1" rx="1.25" ry="1.15" fill="#b4b4b4"/>
<ellipse cx="30.9" cy="87.5" rx="1.25" ry="1.15" fill="#b4b4b4"/>
<ellipse cx="34.2" cy="87.3" rx="1.25" ry="1.15" fill="#b4b4b4"/>
<ellipse cx="37.5" cy="87.2" rx="1.25" ry="1.15" fill="#b4b4b4"/>
<ellipse cx="40.8" cy="87.2" rx="1.25" ry="1.15" fill="#b4b4b4"/>
<ellipse cx="44.1" cy="87.5" rx="1.25" ry="1.15" fill="#b4b4b4"/>
<ellipse cx="47.4" cy="87.5" rx="1.25" ry="1.15" fill="#b4b4b4"/>
<ellipse cx="50.7" cy="87.1" rx="1.25" ry="1.15" fill="#b4b4b4"/>
<ellipse cx="54.0" cy="87.4" rx="1.25" ry="1.15" fill="#b4b4b4"/>
<ellipse cx="57.3" cy="87.1" rx="1.25" ry="1.15" fill="#b4b4b4"/>
<ellipse cx="60.6" cy="87.5" rx="1.25" ry="1.15" fill="#b4b4b4"/>
<ellipse cx="63.9" cy="87.3" rx="1.25" ry="1.15" fill="#b4b4b4"/>
<ellipse cx="67.2" cy="87.5" rx="1.25" ry="1.15" fill="#b4b4b4"/>
<ellipse cx="70.5" cy="87.6" rx="1.25" ry="1.15" fill="#b4b4b4"/>
<ellipse cx="73.8" cy="87.4" rx="1.25" ry="1.15" fill="#b4b4b4"/>
<ellipse cx="77.1" cy="87.6" rx="1.25" ry="1.15" fill="#b4b4b4"/>
<ellipse cx="80.4" cy="87.3" rx="1.25" ry="1.15" fill="#b4b4b4"/>
<ellipse cx="83.7" cy="87.1" rx="1.25" ry="1.15" fill="#b4b4b4"/>
<ellipse cx="87.0" cy="87.4" rx="1.25" ry="1.15" fill="#b4b4b4"/>
<ellipse cx="90.3" cy="87.1" rx="1.25" ry="1.15" fill="#b4b4b4"/>
<ellipse cx="93.6" cy="87.2" rx="1.25" ry="1.15" fill="#b4b4b4"/>
<ellipse cx="96.9" cy="87.3" rx="1.25" ry="1.15" fill="#b4b4b4"/>
<ellipse cx="100.2" cy="87.4" rx="1.25" ry="1.15" fill="#b4b4b4"/>
<ellipse cx="103.5" cy="87.2" rx="1.25" ry="1.15" fill="#b4b4b4"/>
<ellipse cx="106.8" cy="87.1" rx="1.25" ry="1.15" fill="#b4b4b4"/>
<ellipse cx="110.1" cy="87.5" rx="1.25" ry="1.15" fill="#b4b4b4"/>
<ellipse cx="113.4" cy="87.3" rx="1.25" ry="1.15" fill="#b4b4b4"/>
<ellipse cx="116.7" cy="87.6" rx="1.25" ry="1.15" fill="#b4b4b4"/>
<ellipse cx="120.0" cy="87.5" rx="1.25" ry="1.15" fill="#b4b4b4"/>
<ellipse cx="123.3" cy="87.3" rx="1.25" ry="1.15" fill="#b4b4b4"/>
<ellipse cx="126.6" cy="87.3" rx="1.25" ry="1.15" fill="#b4b4b4"/>
<ellipse cx="129.9" cy="87.4" rx="1.25" ry="1.15" fill="#b4b4b4"/>
<ellipse cx="133.2" cy="87.4" rx="1.25" ry="1.15" fill="#b4b4b4"/>
<ellipse cx="136.5" cy="87.4" rx="1.25" ry="1.15" fill="#b4b4b4"/>
<ellipse cx="139.8" cy="87.4" rx="1.25" ry="1.15" fill="#b4b4b4"/>
<ellipse cx="143.1" cy="87.4" rx="1.25" ry="1.15" fill="#b4b4b4"/>
<ellipse cx="146.4" cy="87.6" rx="1.25" ry="1.15" fill="#b4b4b4"/>
<ellipse cx="149.7" cy="87.4" rx="1.25" ry="1.15" fill="#b4b4b4"/>
<ellipse cx="153.0" cy="87.3" rx="1.25" ry="1.15" fill="#b4b4b4"/>
<ellipse cx="156.3" cy="87.5" rx="1.25" ry="1.15" fill="#b4b4b4"/>
<ellipse cx="159.6" cy="87.2" rx="1.25" ry="1.15" fill="#b4b4b4"/>
<ellipse cx="162.9" cy="87.3" rx="1.25" ry="1.15" fill="#b4b4b4"/>
<ellipse cx="166.2" cy="87.6" rx="1.25" ry="1.15" fill="#b4b4b4"/>
<ellipse cx="169.5" cy="87.4" rx="1.25" ry="1.15" fill="#b4b4b4"/>
<ellipse cx="172.8" cy="87.4" rx="1.25" ry="1.15" fill="#b4b4b4"/>
<ellipse cx="176.1" cy="87.1" rx="1.25" ry="1.15" fill="#b4b4b4"/>
<ellipse cx="179.4" cy="87.3" rx="1.25" ry="1.15" fill="#b4b4b4"/>
<ellipse cx="-3.8" cy="83.1" rx="1.25" ry="1.15" fill="#c6c6c6"/>
<ellipse cx="-0.5" cy="83.4" rx="1.25" ry="1.15" fill="#c6c6c6"/>
<ellipse cx="2.8" cy="83.4" rx="1.25" ry="1.15" fill="#c6c6c6"/>
<ellipse cx="6.1" cy="83.1" rx="1.25" ry="1.15" fill="#c6c6c6"/>
<ellipse cx="9.4" cy="83.4" rx="1.25" ry="1.15" fill="#c6c6c6"/>
<ellipse cx="12.7" cy="83.3" rx="1.25" ry="1.15" fill="#c6c6c6"/>
<ellipse cx="16.0" cy="83.4" rx="1.25" ry="1.15" fill="#c6c6c6"/>
<ellipse cx="19.3" cy="83.2" rx="1.25" ry="1.15" fill="#c6c6c6"/>
<ellipse cx="22.6" cy="83.4" rx="1.25" ry="1.15" fill="#c6c6c6"/>
<ellipse cx="25.9" cy="83.4" rx="1.25" ry="1.15" fill="#c6c6c6"/>
<ellipse cx="29.2" cy="83.1" rx="1.25" ry="1.15" fill="#c6c6c6"/>
<ellipse cx="32.5" cy="83.1" rx="1.25" ry="1.15" fill="#c6c6c6"/>
<ellipse cx="35.8" cy="83.4" rx="1.25" ry="1.15" fill="#c6c6c6"/>
<ellipse cx="39.1" cy="83.5" rx="1.25" ry="1.15" fill="#c6c6c6"/>
<ellipse cx="42.4" cy="83.2" rx="1.25" ry="1.15" fill="#c6c6c6"/>
<ellipse cx="45.7" cy="83.3" rx="1.25" ry="1.15" fill="#c6c6c6"/>
<ellipse cx="49.0" cy="83.3" rx="1.25" ry="1.15" fill="#c6c6c6"/>
<ellipse cx="52.3" cy="83.2" rx="1.25" ry="1.15" fill="#c6c6c6"/>
<ellipse cx="55.6" cy="83.2" rx="1.25" ry="1.15" fill="#c6c6c6"/>
<ellipse cx="58.9" cy="83.2" rx="1.25" ry="1.15" fill="#c6c6c6"/>
<ellipse cx="62.2" cy="83.2" rx="1.25" ry="1.15" fill="#c6c6c6"/>
<ellipse cx="65.5" cy="83.3" rx="1.25" ry="1.15" fill="#c6c6c6"/>
<ellipse cx="68.8" cy="83.2" rx="1.25" ry="1.15" fill="#c6c6c6"/>
<ellipse cx="72.1" cy="83.2" rx="1.25" ry="1.15" fill="#c6c6c6"/>
<ellipse cx="75.4" cy="83.4" rx="1.25" ry="1.15" fill="#c6c6c6"/>
<ellipse cx="78.7" cy="83.1" rx="1.25" ry="1.15" fill="#c6c6c6"/>
<ellipse cx="82.0" cy="83.3" rx="1.25" ry="1.15" fill="#c6c6c6"/>
<ellipse cx="85.3" cy="83.4" rx="1.25" ry="1.15" fill="#c6c6c6"/>
<ellipse cx="88.6" cy="83.2" rx="1.25" ry="1.15" fill="#c6c6c6"/>
<ellipse cx="91.9" cy="83.2" rx="1.25" ry="1.15" fill="#c6c6c6"/>
<ellipse cx="95.2" cy="83.5" rx="1.25" ry="1.15" fill="#c6c6c6"/>
<ellipse cx="98.5" cy="83.2" rx="1.25" ry="1.15" fill="#c6c6c6"/>
<ellipse cx="101.8" cy="83.1" rx="1.25" ry="1.15" fill="#c6c6c6"/>
<ellipse cx="105.1" cy="83.3" rx="1.25" ry="1.15" fill="#c6c6c6"/>
<ellipse cx="108.4" cy="83.4" rx="1.25" ry="1.15" fill="#c6c6c6"/>
<ellipse cx="111.7" cy="83.1" rx="1.25" ry="1.15" fill="#c6c6c6"/>
<ellipse cx="115.0" cy="83.2" rx="1.25" ry="1.15" fill="#c6c6c6"/>
<ellipse cx="118.3" cy="83.2" rx="1.25" ry="1.15" fill="#c6c6c6"/>
<ellipse cx="121.6" cy="83.5" rx="1.25" ry="1.15" fill="#c6c6c6"/>
<ellipse cx="124.9" cy="83.3" rx="1.25" ry="1.15" fill="#c6c6c6"/>
<ellipse cx="128.2" cy="83.5" rx="1.25" ry="1.15" fill="#c6c6c6"/>
<ellipse cx="131.5" cy="83.1" rx="1.25" ry="1.15" fill="#c6c6c6"/>
<ellipse cx="134.8" cy="83.2" rx="1.25" ry="1.15" fill="#c6c6c6"/>
<ellipse cx="138.1" cy="83.4" rx="1.25" ry="1.15" fill="#c6c6c6"/>
<ellipse cx="141.4" cy="83.5" rx="1.25" ry="1.15" fill="#c6c6c6"/>
<ellipse cx="144.7" cy="83.3" rx="1.25" ry="1.15" fill="#c6c6c6"/>
<ellipse cx="148.0" cy="83.2" rx="1.25" ry="1.15" fill="#c6c6c6"/>
<ellipse cx="151.3" cy="83.1" rx="1.25" ry="1.15" fill="#c6c6c6"/>
<ellipse cx="154.6" cy="83.3" rx="1.25" ry="1.15" fill="#c6c6c6"/>
<ellipse cx="157.9" cy="83.1" rx="1.25" ry="1.15" fill="#c6c6c6"/>
<ellipse cx="161.2" cy="83.5" rx="1.25" ry="1.15" fill="#c6c6c6"/>
<ellipse cx="164.5" cy="83.5" rx="1.25" ry="1.15" fill="#c6c6c6"/>
<ellipse cx="167.8" cy="83.1" rx="1.25" ry="1.15" fill="#c6c6c6"/>
<ellipse cx="171.1" cy="83.2" rx="1.25" ry="1.15" fill="#c6c6c6"/>
<ellipse cx="174.4" cy="83.5" rx="1.25" ry="1.15" fill="#c6c6c6"/>
<ellipse cx="177.7" cy="83.4" rx="1.25" ry="1.15" fill="#c6c6c6"/>
<ellipse cx="181.0" cy="83.5" rx="1.25" ry="1.15" fill="#c6c6c6"/>
<ellipse cx="-2.2" cy="75.8" rx="1.25" ry="1.15" fill="#c6c6c6"/>
<ellipse cx="1.1" cy="75.8" rx="1.25" ry="1.15" fill="#c6c6c6"/>
<ellipse cx="4.4" cy="76.1" rx="1.25" ry="1.15" fill="#c6c6c6"/>
<ellipse cx="7.7" cy="75.8" rx="1.25" ry="1.15" fill="#c6c6c6"/>
<ellipse cx="11.0" cy="75.9" rx="1.25" ry="1.15" fill="#c6c6c6"/>
<ellipse cx="14.3" cy="75.9" rx="1.25" ry="1.15" fill="#c6c6c6"/>
<ellipse cx="17.6" cy="75.9" rx="1.25" ry="1.15" fill="#c6c6c6"/>
<ellipse cx="20.9" cy="75.9" rx="1.25" ry="1.15" fill="#c6c6c6"/>
<ellipse cx="24.2" cy="76.2" rx="1.25" ry="1.15" fill="#c6c6c6"/>
<ellipse cx="27.5" cy="75.8" rx="1.25" ry="1.15" fill="#c6c6c6"/>
<ellipse cx="30.8" cy="75.7" rx="1.25" ry="1.15" fill="#c6c6c6"/>
<ellipse cx="34.1" cy="76.2" rx="1.25" ry="1.15" fill="#c6c6c6"/>
<ellipse cx="37.4" cy="76.1" rx="1.25" ry="1.15" fill="#c6c6c6"/>
<ellipse cx="40.7" cy="76.2" rx="1.25" ry="1.15" fill="#c6c6c6"/>
<ellipse cx="44.0" cy="75.9" rx="1.25" ry="1.15" fill="#c6c6c6"/>
<ellipse cx="47.3" cy="76.2" rx="1.25" ry="1.15" fill="#c6c6c6"/>
<ellipse cx="50.6" cy="76.2" rx="1.25" ry="1.15" fill="#c6c6c6"/>
<ellipse cx="53.9" cy="75.8" rx="1.25" ry="1.15" fill="#c6c6c6"/>
<ellipse cx="57.2" cy="76.1" rx="1.25" ry="1.15" fill="#c6c6c6"/>
<ellipse cx="60.5" cy="76.1" rx="1.25" ry="1.15" fill="#c6c6c6"/>
<ellipse cx="63.8" cy="76.0" rx="1.25" ry="1.15" fill="#c6c6c6"/>
<ellipse cx="67.1" cy="76.0" rx="1.25" ry="1.15" fill="#c6c6c6"/>
<ellipse cx="70.4" cy="75.8" rx="1.25" ry="1.15" fill="#c6c6c6"/>
<ellipse cx="73.7" cy="75.9" rx="1.25" ry="1.15" fill="#c6c6c6"/>
<ellipse cx="77.0" cy="75.8" rx="1.25" ry="1.15" fill="#c6c6c6"/>
<ellipse cx="80.3" cy="75.7" rx="1.25" ry="1.15" fill="#c6c6c6"/>
<ellipse cx="83.6" cy="76.0" rx="1.25" ry="1.15" fill="#c6c6c6"/>
<ellipse cx="86.9" cy="75.8" rx="1.25" ry="1.15" fill="#c6c6c6"/>
<ellipse cx="90.2" cy="76.1" rx="1.25" ry="1.15" fill="#c6c6c6"/>
<ellipse cx="93.5" cy="75.7" rx="1.25" ry="1.15" fill="#c6c6c6"/>
<ellipse cx="96.8" cy="76.2" rx="1.25" ry="1.15" fill="#c6c6c6"/>
<ellipse cx="100.1" cy="76.0" rx="1.25" ry="1.15" fill="#c6c6c6"/>
<ellipse cx="103.4" cy="76.2" rx="1.25" ry="1.15" fill="#c6c6c6"/>
<ellipse cx="106.7" cy="76.1" rx="1.25" ry="1.15" fill="#c6c6c6"/>
<ellipse cx="110.0" cy="76.1" rx="1.25" ry="1.15" fill="#c6c6c6"/>
<ellipse cx="113.3" cy="76.0" rx="1.25" ry="1.15" fill="#c6c6c6"/>
<ellipse cx="116.6" cy="75.7" rx="1.25" ry="1.15" fill="#c6c6c6"/>
<ellipse cx="119.9" cy="76.1" rx="1.25" ry="1.15" fill="#c6c6c6"/>
<ellipse cx="123.2" cy="75.8" rx="1.25" ry="1.15" fill="#c6c6c6"/>
<ellipse cx="126.5" cy="75.8" rx="1.25" ry="1.15" fill="#c6c6c6"/>
<ellipse cx="129.8" cy="76.0" rx="1.25" ry="1.15" fill="#c6c6c6"/>
<ellipse cx="133.1" cy="76.0" rx="1.25" ry="1.15" fill="#c6c6c6"/>
<ellipse cx="136.4" cy="75.9" rx="1.25" ry="1.15" fill="#c6c6c6"/>
<ellipse cx="139.7" cy="76.2" rx="1.25" ry="1.15" fill="#c6c6c6"/>
<ellipse cx="143.0" cy="76.0" rx="1.25" ry="1.15" fill="#c6c6c6"/>
<ellipse cx="146.3" cy="75.9" rx="1.25" ry="1.15" fill="#c6c6c6"/>
<ellipse cx="149.6" cy="75.8" rx="1.25" ry="1.15" fill="#c6c6c6"/>
<ellipse cx="152.9" cy="76.1" rx="1.25" ry="1.15" fill="#c6c6c6"/>
<ellipse cx="156.2" cy="75.9" rx="1.25" ry="1.15" fill="#c6c6c6"/>
<ellipse cx="159.5" cy="76.1" rx="1.25" ry="1.15" fill="#c6c6c6"/>
<ellipse cx="162.8" cy="75.9" rx="1.25" ry="1.15" fill="#c6c6c6"/>
<ellipse cx="166.1" cy="75.8" rx="1.25" ry="1.15" fill="#c6c6c6"/>
<ellipse cx="169.4" cy="76.0" rx="1.25" ry="1.15" fill="#c6c6c6"/>
<ellipse cx="172.7" cy="76.1" rx="1.25" ry="1.15" fill="#c6c6c6"/>
<ellipse cx="176.0" cy="75.8" rx="1.25" ry="1.15" fill="#c6c6c6"/>
<ellipse cx="179.3" cy="76.1" rx="1.25" ry="1.15" fill="#c6c6c6"/>
<ellipse cx="-3.7" cy="72.1" rx="1.25" ry="1.15" fill="#b4b4b4"/>
<ellipse cx="-0.4" cy="72.1" rx="1.25" ry="1.15" fill="#b4b4b4"/>
<ellipse cx="2.9" cy="71.7" rx="1.25" ry="1.15" fill="#b4b4b4"/>
<ellipse cx="6.2" cy="72.0" rx="1.25" ry="1.15" fill="#b4b4b4"/>
<ellipse cx="9.5" cy="72.1" rx="1.25" ry="1.15" fill="#b4b4b4"/>
<ellipse cx="12.8" cy="71.7" rx="1.25" ry="1.15" fill="#b4b4b4"/>
<ellipse cx="16.1" cy="71.8" rx="1.25" ry="1.15" fill="#b4b4b4"/>
<ellipse cx="19.4" cy="71.8" rx="1.25" ry="1.15" fill="#b4b4b4"/>
<ellipse cx="22.7" cy="71.9" rx="1.25" ry="1.15" fill="#b4b4b4"/>
<ellipse cx="26.0" cy="71.9" rx="1.25" ry="1.15" fill="#b4b4b4"/>
<ellipse cx="29.3" cy="71.9" rx="1.25" ry="1.15" fill="#b4b4b4"/>
<ellipse cx="32.6" cy="72.0" rx="1.25" ry="1.15" fill="#b4b4b4"/>
<ellipse cx="35.9" cy="71.7" rx="1.25" ry="1.15" fill="#b4b4b4"/>
<ellipse cx="39.2" cy="71.7" rx="1.25" ry="1.15" fill="#b4b4b4"/>
<ellipse cx="42.5" cy="71.7" rx="1.25" ry="1.15" fill="#b4b4b4"/>
<ellipse cx="45.8" cy="71.7" rx="1.25" ry="1.15" fill="#b4b4b4"/>
<ellipse cx="49.1" cy="71.7" rx="1.25" ry="1.15" fill="#b4b4b4"/>
<ellipse cx="52.4" cy="72.1" rx="1.25" ry="1.15" fill="#b4b4b4"/>
<ellipse cx="55.7" cy="72.1" rx="1.25" ry="1.15" fill="#b4b4b4"/>
<ellipse cx="59.0" cy="71.7" rx="1.25" ry="1.15" fill="#b4b4b4"/>
<ellipse cx="62.3" cy="71.9" rx="1.25" ry="1.15" fill="#b4b4b4"/>
<ellipse cx="65.6" cy="71.8" rx="1.25" ry="1.15" fill="#b4b4b4"/>
<ellipse cx="68.9" cy="71.8" rx="1.25" ry="1.15" fill="#b4b4b4"/>
<ellipse cx="72.2" cy="71.8" rx="1.25" ry="1.15" fill="#b4b4b4"/>
<ellipse cx="75.5" cy="72.0" rx="1.25" ry="1.15" fill="#b4b4b4"/>
<ellipse cx="78.8" cy="71.9" rx="1.25" ry="1.15" fill="#b4b4b4"/>
<ellipse cx="82.1" cy="71.8" rx="1.25" ry="1.15" fill="#b4b4b4"/>
<ellipse cx="85.4" cy="71.7" rx="1.25" ry="1.15" fill="#b4b4b4"/>
<ellipse cx="88.7" cy="71.8" rx="1.25" ry="1.15" fill="#b4b4b4"/>
<ellipse cx="92.0" cy="71.7" rx="1.25" ry="1.15" fill="#b4b4b4"/>
<ellipse cx="95.3" cy="71.9" rx="1.25" ry="1.15" fill="#b4b4b4"/>
<ellipse cx="98.6" cy="72.0" rx="1.25" ry="1.15" fill="#b4b4b4"/>
<ellipse cx="101.9" cy="71.8" rx="1.25" ry="1.15" fill="#b4b4b4"/>
<ellipse cx="105.2" cy="71.7" rx="1.25" ry="1.15" fill="#b4b4b4"/>
<ellipse cx="108.5" cy="71.7" rx="1.25" ry="1.15" fill="#b4b4b4"/>
<ellipse cx="111.8" cy="71.8" rx="1.25" ry="1.15" fill="#b4b4b4"/>
<ellipse cx="115.1" cy="72.0" rx="1.25" ry="1.15" fill="#b4b4b4"/>
<ellipse cx="118.4" cy="72.0" rx="1.25" ry="1.15" fill="#b4b4b4"/>
<ellipse cx="121.7" cy="71.8" rx="1.25" ry="1.15" fill="#b4b4b4"/>
<ellipse cx="125.0" cy="72.1" rx="1.25" ry="1.15" fill="#b4b4b4"/>
<ellipse cx="128.3" cy="72.0" rx="1.25" ry="1.15" fill="#b4b4b4"/>
<ellipse cx="131.6" cy="71.9" rx="1.25" ry="1.15" fill="#b4b4b4"/>
<ellipse cx="134.9" cy="71.8" rx="1.25" ry="1.15" fill="#b4b4b4"/>
<ellipse cx="138.2" cy="71.9" rx="1.25" ry="1.15" fill="#b4b4b4"/>
<ellipse cx="141.5" cy="72.0" rx="1.25" ry="1.15" fill="#b4b4b4"/>
<ellipse cx="144.8" cy="71.9" rx="1.25" ry="1.15" fill="#b4b4b4"/>
<ellipse cx="148.1" cy="72.0" rx="1.25" ry="1.15" fill="#b4b4b4"/>
<ellipse cx="151.4" cy="71.9" rx="1.25" ry="1.15" fill="#b4b4b4"/>
<ellipse cx="154.7" cy="71.8" rx="1.25" ry="1.15" fill="#b4b4b4"/>
<ellipse cx="158.0" cy="71.9" rx="1.25" ry="1.15" fill="#b4b4b4"/>
<ellipse cx="161.3" cy="72.0" rx="1.25" ry="1.15" fill="#b4b4b4"/>
<ellipse cx="164.6" cy="71.7" rx="1.25" ry="1.15" fill="#b4b4b4"/>
<ellipse cx="167.9" cy="71.9" rx="1.25" ry="1.15" fill="#b4b4b4"/>
<ellipse cx="171.2" cy="71.9" rx="1.25" ry="1.15" fill="#b4b4b4"/>
<ellipse cx="174.5" cy="72.1" rx="1.25" ry="1.15" fill="#b4b4b4"/>
<ellipse cx="177.8" cy="72.1" rx="1.25" ry="1.15" fill="#b4b4b4"/>
<ellipse cx="181.1" cy="71.8" rx="1.25" ry="1.15" fill="#b4b4b4"/>
<ellipse cx="-2.1" cy="68.0" rx="1.25" ry="1.15" fill="#c6c6c6"/>
<ellipse cx="1.2" cy="67.7" rx="1.25" ry="1.15" fill="#c6c6c6"/>
<ellipse cx="4.5" cy="67.8" rx="1.25" ry="1.15" fill="#c6c6c6"/>
<ellipse cx="7.8" cy="67.7" rx="1.25" ry="1.15" fill="#c6c6c6"/>
<ellipse cx="11.1" cy="68.0" rx="1.25" ry="1.15" fill="#c6c6c6"/>
<ellipse cx="14.4" cy="67.9" rx="1.25" ry="1.15" fill="#c6c6c6"/>
<ellipse cx="17.7" cy="68.0" rx="1.25" ry="1.15" fill="#c6c6c6"/>
<ellipse cx="21.0" cy="68.0" rx="1.25" ry="1.15" fill="#c6c6c6"/>
<ellipse cx="24.3" cy="67.9" rx="1.25" ry="1.15" fill="#c6c6c6"/>
<ellipse cx="27.6" cy="68.0" rx="1.25" ry="1.15" fill="#c6c6c6"/>
<ellipse cx="30.9" cy="67.9" rx="1.25" ry="1.15" fill="#c6c6c6"/>
<ellipse cx="34.2" cy="67.7" rx="1.25" ry="1.15" fill="#c6c6c6"/>
<ellipse cx="37.5" cy="67.9" rx="1.25" ry="1.15" fill="#c6c6c6"/>
<ellipse cx="40.8" cy="67.6" rx="1.25" ry="1.15" fill="#c6c6c6"/>
<ellipse cx="44.1" cy="67.7" rx="1.25" ry="1.15" fill="#c6c6c6"/>
<ellipse cx="47.4" cy="68.0" rx="1.25" ry="1.15" fill="#c6c6c6"/>
<ellipse cx="50.7" cy="67.6" rx="1.25" ry="1.15" fill="#c6c6c6"/>
<ellipse cx="54.0" cy="67.6" rx="1.25" ry="1.15" fill="#c6c6c6"/>
<ellipse cx="57.3" cy="67.6" rx="1.25" ry="1.15" fill="#c6c6c6"/>
<ellipse cx="60.6" cy="68.0" rx="1.25" ry="1.15" fill="#c6c6c6"/>
<ellipse cx="63.9" cy="67.7" rx="1.25" ry="1.15" fill="#c6c6c6"/>
<ellipse cx="67.2" cy="67.6" rx="1.25" ry="1.15" fill="#c6c6c6"/>
<ellipse cx="70.5" cy="68.0" rx="1.25" ry="1.15" fill="#c6c6c6"/>
<ellipse cx="73.8" cy="67.7" rx="1.25" ry="1.15" fill="#c6c6c6"/>
<ellipse cx="77.1" cy="68.0" rx="1.25" ry="1.15" fill="#c6c6c6"/>
<ellipse cx="80.4" cy="67.9" rx="1.25" ry="1.15" fill="#c6c6c6"/>
<ellipse cx="83.7" cy="68.0" rx="1.25" ry="1.15" fill="#c6c6c6"/>
<ellipse cx="87.0" cy="68.1" rx="1.25" ry="1.15" fill="#c6c6c6"/>
<ellipse cx="90.3" cy="67.9" rx="1.25" ry="1.15" fill="#c6c6c6"/>
<ellipse cx="93.6" cy="68.0" rx="1.25" ry="1.15" fill="#c6c6c6"/>
<ellipse cx="96.9" cy="67.6" rx="1.25" ry="1.15" fill="#c6c6c6"/>
<ellipse cx="100.2" cy="68.0" rx="1.25" ry="1.15" fill="#c6c6c6"/>
<ellipse cx="103.5" cy="67.9" rx="1.25" ry="1.15" fill="#c6c6c6"/>
<ellipse cx="106.8" cy="68.0" rx="1.25" ry="1.15" fill="#c6c6c6"/>
<ellipse cx="110.1" cy="67.7" rx="1.25" ry="1.15" fill="#c6c6c6"/>
<ellipse cx="113.4" cy="68.0" rx="1.25" ry="1.15" fill="#c6c6c6"/>
<ellipse cx="116.7" cy="68.1" rx="1.25" ry="1.15" fill="#c6c6c6"/>
<ellipse cx="120.0" cy="67.6" rx="1.25" ry="1.15" fill="#c6c6c6"/>
<ellipse cx="123.3" cy="67.8" rx="1.25" ry="1.15" fill="#c6c6c6"/>
<ellipse cx="126.6" cy="67.9" rx="1.25" ry="1.15" fill="#c6c6c6"/>
<ellipse cx="129.9" cy="68.0" rx="1.25" ry="1.15" fill="#c6c6c6"/>
<ellipse cx="133.2" cy="67.7" rx="1.25" ry="1.15" fill="#c6c6c6"/>
<ellipse cx="136.5" cy="67.7" rx="1.25" ry="1.15" fill="#c6c6c6"/>
<ellipse cx="139.8" cy="67.7" rx="1.25" ry="1.15" fill="#c6c6c6"/>
<ellipse cx="143.1" cy="67.9" rx="1.25" ry="1.15" fill="#c6c6c6"/>
<ellipse cx="146.4" cy="68.0" rx="1.25" ry="1.15" fill="#c6c6c6"/>
<ellipse cx="149.7" cy="67.8" rx="1.25" ry="1.15" fill="#c6c6c6"/>
<ellipse cx="153.0" cy="67.8" rx="1.25" ry="1.15" fill="#c6c6c6"/>
<ellipse cx="156.3" cy="67.8" rx="1.25" ry="1.15" fill="#c6c6c6"/>
<ellipse cx="159.6" cy="67.8" rx="1.25" ry="1.15" fill="#c6c6c6"/>
<ellipse cx="162.9" cy="67.8" rx="1.25" ry="1.15" fill="#c6c6c6"/>
<ellipse cx="166.2" cy="67.6" rx="1.25" ry="1.15" fill="#c6c6c6"/>
<ellipse cx="169.5" cy="67.9" rx="1.25" ry="1.15" fill="#c6c6c6"/>
<ellipse cx="172.8" cy="68.1" rx="1.25" ry="1.15" fill="#c6c6c6"/>
<ellipse cx="176.1" cy="67.8" rx="1.25" ry="1.15" fill="#c6c6c6"/>
<ellipse cx="179.4" cy="68.0" rx="1.25" ry="1.15" fill="#c6c6c6"/>
<ellipse cx="-4.0" cy="60.6" rx="1.25" ry="1.15" fill="#c6c6c6"/>
<ellipse cx="-0.7" cy="60.6" rx="1.25" ry="1.15" fill="#c6c6c6"/>
<ellipse cx="2.6" cy="60.6" rx="1.25" ry="1.15" fill="#c6c6c6"/>
<ellipse cx="5.9" cy="60.5" rx="1.25" ry="1.15" fill="#c6c6c6"/>
<ellipse cx="9.2" cy="60.5" rx="1.25" ry="1.15" fill="#c6c6c6"/>
<ellipse cx="12.5" cy="60.6" rx="1.25" ry="1.15" fill="#c6c6c6"/>
<ellipse cx="15.8" cy="60.7" rx="1.25" ry="1.15" fill="#c6c6c6"/>
<ellipse cx="19.1" cy="60.3" rx="1.25" ry="1.15" fill="#c6c6c6"/>
<ellipse cx="22.4" cy="60.3" rx="1.25" ry="1.15" fill="#c6c6c6"/>
<ellipse cx="25.7" cy="60.6" rx="1.25" ry="1.15" fill="#c6c6c6"/>
<ellipse cx="29.0" cy="60.7" rx="1.25" ry="1.15" fill="#c6c6c6"/>
<ellipse cx="32.3" cy="60.5" rx="1.25" ry="1.15" fill="#c6c6c6"/>
<ellipse cx="35.6" cy="60.5" rx="1.25" ry="1.15" fill="#c6c6c6"/>
<ellipse cx="38.9" cy="60.6" rx="1.25" ry="1.15" fill="#c6c6c6"/>
<ellipse cx="42.2" cy="60.3" rx="1.25" ry="1.15" fill="#c6c6c6"/>
<ellipse cx="45.5" cy="60.4" rx="1.25" ry="1.15" fill="#c6c6c6"/>
<ellipse cx="48.8" cy="60.3" rx="1.25" ry="1.15" fill="#c6c6c6"/>
<ellipse cx="52.1" cy="60.5" rx="1.25" ry="1.15" fill="#c6c6c6"/>
<ellipse cx="55.4" cy="60.4" rx="1.25" ry="1.15" fill="#c6c6c6"/>
<ellipse cx="58.7" cy="60.4" rx="1.25" ry="1.15" fill="#c6c6c6"/>
<ellipse cx="62.0" cy="60.6" rx="1.25" ry="1.15" fill="#c6c6c6"/>
<ellipse cx="65.3" cy="60.7" rx="1.25" ry="1.15" fill="#c6c6c6"/>
<ellipse cx="68.6" cy="60.4" rx="1.25" ry="1.15" fill="#c6c6c6"/>
<ellipse cx="71.9" cy="60.6" rx="1.25" ry="1.15" fill="#c6c6c6"/>
<ellipse cx="75.2" cy="60.5" rx="1.25" ry="1.15" fill="#c6c6c6"/>
<ellipse cx="78.5" cy="60.7" rx="1.25" ry="1.15" fill="#c6c6c6"/>
<ellipse cx="81.8" cy="60.5" rx="1.25" ry="1.15" fill="#c6c6c6"/>
<ellipse cx="85.1" cy="60.4" rx="1.25" ry="1.15" fill="#c6c6c6"/>
<ellipse cx="88.4" cy="60.4" rx="1.25" ry="1.15" fill="#c6c6c6"/>
<ellipse cx="91.7" cy="60.3" rx="1.25" ry="1.15" fill="#c6c6c6"/>
<ellipse cx="95.0" cy="60.5" rx="1.25" ry="1.15" fill="#c6c6c6"/>
<ellipse cx="98.3" cy="60.4" rx="1.25" ry="1.15" fill="#c6c6c6"/>
<ellipse cx="101.6" cy="60.3" rx="1.25" ry="1.15" fill="#c6c6c6"/>
<ellipse cx="104.9" cy="60.4" rx="1.25" ry="1.15" fill="#c6c6c6"/>
<ellipse cx="108.2" cy="60.4" rx="1.25" ry="1.15" fill="#c6c6c6"/>
<ellipse cx="111.5" cy="60.6" rx="1.25" ry="1.15" fill="#c6c6c6"/>
<ellipse cx="114.8" cy="60.3" rx="1.25" ry="1.15" fill="#c6c6c6"/>
<ellipse cx="118.1" cy="60.7" rx="1.25" ry="1.15" fill="#c6c6c6"/>
<ellipse cx="121.4" cy="60.5" rx="1.25" ry="1.15" fill="#c6c6c6"/>
<ellipse cx="124.7" cy="60.5" rx="1.25" ry="1.15" fill="#c6c6c6"/>
<ellipse cx="128.0" cy="60.5" rx="1.25" ry="1.15" fill="#c6c6c6"/>
<ellipse cx="131.3" cy="60.7" rx="1.25" ry="1.15" fill="#c6c6c6"/>
<ellipse cx="134.6" cy="60.7" rx="1.25" ry="1.15" fill="#c6c6c6"/>
<ellipse cx="137.9" cy="60.5" rx="1.25" ry="1.15" fill="#c6c6c6"/>
<ellipse cx="141.2" cy="60.5" rx="1.25" ry="1.15" fill="#c6c6c6"/>
<ellipse cx="144.5" cy="60.6" rx="1.25" ry="1.15" fill="#c6c6c6"/>
<ellipse cx="147.8" cy="60.7" rx="1.25" ry="1.15" fill="#c6c6c6"/>
<ellipse cx="151.1" cy="60.5" rx="1.25" ry="1.15" fill="#c6c6c6"/>
<ellipse cx="154.4" cy="60.6" rx="1.25" ry="1.15" fill="#c6c6c6"/>
<ellipse cx="157.7" cy="60.7" rx="1.25" ry="1.15" fill="#c6c6c6"/>
<ellipse cx="161.0" cy="60.5" rx="1.25" ry="1.15" fill="#c6c6c6"/>
<ellipse cx="164.3" cy="60.4" rx="1.25" ry="1.15" fill="#c6c6c6"/>
<ellipse cx="167.6" cy="60.4" rx="1.25" ry="1.15" fill="#c6c6c6"/>
<ellipse cx="170.9" cy="60.6" rx="1.25" ry="1.15" fill="#c6c6c6"/>
<ellipse cx="174.2" cy="60.6" rx="1.25" ry="1.15" fill="#c6c6c6"/>
<ellipse cx="177.5" cy="60.7" rx="1.25" ry="1.15" fill="#c6c6c6"/>
<ellipse cx="180.8" cy="60.7" rx="1.25" ry="1.15" fill="#c6c6c6"/>
<ellipse cx="-2.3" cy="56.3" rx="1.25" ry="1.15" fill="#b4b4b4"/>
<ellipse cx="1.0" cy="56.3" rx="1.25" ry="1.15" fill="#b4b4b4"/>
<ellipse cx="4.3" cy="56.3" rx="1.25" ry="1.15" fill="#b4b4b4"/>
<ellipse cx="7.6" cy="56.6" rx="1.25" ry="1.15" fill="#b4b4b4"/>
<ellipse cx="10.9" cy="56.6" rx="1.25" ry="1.15" fill="#b4b4b4"/>
<ellipse cx="14.2" cy="56.6" rx="1.25" ry="1.15" fill="#b4b4b4"/>
<ellipse cx="17.5" cy="56.3" rx="1.25" ry="1.15" fill="#b4b4b4"/>
<ellipse cx="20.8" cy="56.6" rx="1.25" ry="1.15" fill="#b4b4b4"/>
<ellipse cx="24.1" cy="56.4" rx="1.25" ry="1.15" fill="#b4b4b4"/>
<ellipse cx="27.4" cy="56.4" rx="1.25" ry="1.15" fill="#b4b4b4"/>
<ellipse cx="30.7" cy="56.6" rx="1.25" ry="1.15" fill="#b4b4b4"/>
<ellipse cx="34.0" cy="56.2" rx="1.25" ry="1.15" fill="#b4b4b4"/>
<ellipse cx="37.3" cy="56.2" rx="1.25" ry="1.15" fill="#b4b4b4"/>
<ellipse cx="40.6" cy="56.6" rx="1.25" ry="1.15" fill="#b4b4b4"/>
<ellipse cx="43.9" cy="56.3" rx="1.25" ry="1.15" fill="#b4b4b4"/>
<ellipse cx="47.2" cy="56.4" rx="1.25" ry="1.15" fill="#b4b4b4"/>
<ellipse cx="50.5" cy="56.5" rx="1.25" ry="1.15" fill="#b4b4b4"/>
<ellipse cx="53.8" cy="56.5" rx="1.25" ry="1.15" fill="#b4b4b4"/>
<ellipse cx="57.1" cy="56.2" rx="1.25" ry="1.15" fill="#b4b4b4"/>
<ellipse cx="60.4" cy="56.4" rx="1.25" ry="1.15" fill="#b4b4b4"/>
<ellipse cx="63.7" cy="56.4" rx="1.25" ry="1.15" fill="#b4b4b4"/>
<ellipse cx="67.0" cy="56.4" rx="1.25" ry="1.15" fill="#b4b4b4"/>
<ellipse cx="70.3" cy="56.3" rx="1.25" ry="1.15" fill="#b4b4b4"/>
<ellipse cx="73.6" cy="56.5" rx="1.25" ry="1.15" fill="#b4b4b4"/>
<ellipse cx="76.9" cy="56.7" rx="1.25" ry="1.15" fill="#b4b4b4"/>
<ellipse cx="80.2" cy="56.4" rx="1.25" ry="1.15" fill="#b4b4b4"/>
<ellipse cx="83.5" cy="56.5" rx="1.25" ry="1.15" fill="#b4b4b4"/>
<ellipse cx="86.8" cy="56.3" rx="1.25" ry="1.15" fill="#b4b4b4"/>
<ellipse cx="90.1" cy="56.3" rx="1.25" ry="1.15" fill="#b4b4b4"/>
<ellipse cx="93.4" cy="56.5" rx="1.25" ry="1.15" fill="#b4b4b4"/>
<ellipse cx="96.7" cy="56.3" rx="1.25" ry="1.15" fill="#b4b4b4"/>
<ellipse cx="100.0" cy="56.6" rx="1.25" ry="1.15" fill="#b4b4b4"/>
<ellipse cx="103.3" cy="56.7" rx="1.25" ry="1.15" fill="#b4b4b4"/>
<ellipse cx="106.6" cy="56.2" rx="1.25" ry="1.15" fill="#b4b4b4"/>
<ellipse cx="109.9" cy="56.7" rx="1.25" ry="1.15" fill="#b4b4b4"/>
<ellipse cx="113.2" cy="56.4" rx="1.25" ry="1.15" fill="#b4b4b4"/>
<ellipse cx="116.5" cy="56.6" rx="1.25" ry="1.15" fill="#b4b4b4"/>
<ellipse cx="119.8" cy="56.6" rx="1.25" ry="1.15" fill="#b4b4b4"/>
<ellipse cx="123.1" cy="56.3" rx="1.25" ry="1.15" fill="#b4b4b4"/>
<ellipse cx="126.4" cy="56.5" rx="1.25" ry="1.15" fill="#b4b4b4"/>
<ellipse cx="129.7" cy="56.5" rx="1.25" ry="1.15" fill="#b4b4b4"/>
<ellipse cx="133.0" cy="56.6" rx="1.25" ry="1.15" fill="#b4b4b4"/>
<ellipse cx="136.3" cy="56.3" rx="1.25" ry="1.15" fill="#b4b4b4"/>
<ellipse cx="139.6" cy="56.6" rx="1.25" ry="1.15" fill="#b4b4b4"/>
<ellipse cx="142.9" cy="56.7" rx="1.25" ry="1.15" fill="#b4b4b4"/>
<ellipse cx="146.2" cy="56.5" rx="1.25" ry="1.15" fill="#b4b4b4"/>
<ellipse cx="149.5" cy="56.5" rx="1.25" ry="1.15" fill="#b4b4b4"/>
<ellipse cx="152.8" cy="56.3" rx="1.25" ry="1.15" fill="#b4b4b4"/>
<ellipse cx="156.1" cy="56.4" rx="1.25" ry="1.15" fill="#b4b4b4"/>
<ellipse cx="159.4" cy="56.4" rx="1.25" ry="1.15" fill="#b4b4b4"/>
<ellipse cx="162.7" cy="56.6" rx="1.25" ry="1.15" fill="#b4b4b4"/>
<ellipse cx="166.0" cy="56.5" rx="1.25" ry="1.15" fill="#b4b4b4"/>
<ellipse cx="169.3" cy="56.5" rx="1.25" ry="1.15" fill="#b4b4b4"/>
<ellipse cx="172.6" cy="56.3" rx="1.25" ry="1.15" fill="#b4b4b4"/>
<ellipse cx="175.9" cy="56.5" rx="1.25" ry="1.15" fill="#b4b4b4"/>
<ellipse cx="179.2" cy="56.5" rx="1.25" ry="1.15" fill="#b4b4b4"/>
<ellipse cx="-3.9" cy="52.6" rx="1.25" ry="1.15" fill="#c6c6c6"/>
<ellipse cx="-0.6" cy="52.5" rx="1.25" ry="1.15" fill="#c6c6c6"/>
<ellipse cx="2.7" cy="52.2" rx="1.25" ry="1.15" fill="#c6c6c6"/>
<ellipse cx="6.0" cy="52.6" rx="1.25" ry="1.15" fill="#c6c6c6"/>
<ellipse cx="9.3" cy="52.2" rx="1.25" ry="1.15" fill="#c6c6c6"/>
<ellipse cx="12.6" cy="52.3" rx="1.25" ry="1.15" fill="#c6c6c6"/>
<ellipse cx="15.9" cy="52.5" rx="1.25" ry="1.15" fill="#c6c6c6"/>
<ellipse cx="19.2" cy="52.4" rx="1.25" ry="1.15" fill="#c6c6c6"/>
<ellipse cx="22.5" cy="52.4" rx="1.25" ry="1.15" fill="#c6c6c6"/>
<ellipse cx="25.8" cy="52.5" rx="1.25" ry="1.15" fill="#c6c6c6"/>
<ellipse cx="29.1" cy="52.4" rx="1.25" ry="1.15" fill="#c6c6c6"/>
<ellipse cx="32.4" cy="52.3" rx="1.25" ry="1.15" fill="#c6c6c6"/>
<ellipse cx="35.7" cy="52.2" rx="1.25" ry="1.15" fill="#c6c6c6"/>
<ellipse cx="39.0" cy="52.2" rx="1.25" ry="1.15" fill="#c6c6c6"/>
<ellipse cx="42.3" cy="52.5" rx="1.25" ry="1.15" fill="#c6c6c6"/>
<ellipse cx="45.6" cy="52.5" rx="1.25" ry="1.15" fill="#c6c6c6"/>
<ellipse cx="48.9" cy="52.4" rx="1.25" ry="1.15" fill="#c6c6c6"/>
<ellipse cx="52.2" cy="52.5" rx="1.25" ry="1.15" fill="#c6c6c6"/>
<ellipse cx="55.5" cy="52.3" rx="1.25" ry="1.15" fill="#c6c6c6"/>
<ellipse cx="58.8" cy="52.3" rx="1.25" ry="1.15" fill="#c6c6c6"/>
<ellipse cx="62.1" cy="52.3" rx="1.25" ry="1.15" fill="#c6c6c6"/>
<ellipse cx="65.4" cy="52.6" rx="1.25" ry="1.15" fill="#c6c6c6"/>
<ellipse cx="68.7" cy="52.2" rx="1.25" ry="1.15" fill="#c6c6c6"/>
<ellipse cx="72.0" cy="52.4" rx="1.25" ry="1.15" fill="#c6c6c6"/>
<ellipse cx="75.3" cy="52.3" rx="1.25" ry="1.15" fill="#c6c6c6"/>
<ellipse cx="78.6" cy="52.5" rx="1.25" ry="1.15" fill="#c6c6c6"/>
<ellipse cx="81.9" cy="52.3" rx="1.25" ry="1.15" fill="#c6c6c6"/>
<ellipse cx="85.2" cy="52.3" rx="1.25" ry="1.15" fill="#c6c6c6"/>
<ellipse cx="88.5" cy="52.4" rx="1.25" ry="1.15" fill="#c6c6c6"/>
<ellipse cx="91.8" cy="52.4" rx="1.25" ry="1.15" fill="#c6c6c6"/>
<ellipse cx="95.1" cy="52.5" rx="1.25" ry="1.15" fill="#c6c6c6"/>
<ellipse cx="98.4" cy="52.3" rx="1.25" ry="1.15" fill="#c6c6c6"/>
<ellipse cx="101.7" cy="52.6" rx="1.25" ry="1.15" fill="#c6c6c6"/>
<ellipse cx="105.0" cy="52.2" rx="1.25" ry="1.15" fill="#c6c6c6"/>
<ellipse cx="108.3" cy="52.3" rx="1.25" ry="1.15" fill="#c6c6c6"/>
<ellipse cx="111.6" cy="52.2" rx="1.25" ry="1.15" fill="#c6c6c6"/>
<ellipse cx="114.9" cy="52.2" rx="1.25" ry="1.15" fill="#c6c6c6"/>
<ellipse cx="118.2" cy="52.5" rx="1.25" ry="1.15" fill="#c6c6c6"/>
<ellipse cx="121.5" cy="52.5" rx="1.25" ry="1.15" fill="#c6c6c6"/>
<ellipse cx="124.8" cy="52.2" rx="1.25" ry="1.15" fill="#c6c6c6"/>
<ellipse cx="128.1" cy="52.2" rx="1.25" ry="1.15" fill="#c6c6c6"/>
<ellipse cx="131.4" cy="52.4" rx="1.25" ry="1.15" fill="#c6c6c6"/>
<ellipse cx="134.7" cy="52.5" rx="1.25" ry="1.15" fill="#c6c6c6"/>
<ellipse cx="138.0" cy="52.6" rx="1.25" ry="1.15" fill="#c6c6c6"/>
<ellipse cx="141.3" cy="52.5" rx="1.25" ry="1.15" fill="#c6c6c6"/>
<ellipse cx="144.6" cy="52.4" rx="1.25" ry="1.15" fill="#c6c6c6"/>
<ellipse cx="147.9" cy="52.2" rx="1.25" ry="1.15" fill="#c6c6c6"/>
<ellipse cx="151.2" cy="52.3" rx="1.25" ry="1.15" fill="#c6c6c6"/>
<ellipse cx="154.5" cy="52.2" rx="1.25" ry="1.15" fill="#c6c6c6"/>
<ellipse cx="157.8" cy="52.4" rx="1.25" ry="1.15" fill="#c6c6c6"/>
<ellipse cx="161.1" cy="52.4" rx="1.25" ry="1.15" fill="#c6c6c6"/>
<ellipse cx="164.4" cy="52.3" rx="1.25" ry="1.15" fill="#c6c6c6"/>
<ellipse cx="167.7" cy="52.3" rx="1.25" ry="1.15" fill="#c6c6c6"/>
<ellipse cx="171.0" cy="52.5" rx="1.25" ry="1.15" fill="#c6c6c6"/>
<ellipse cx="174.3" cy="52.2" rx="1.25" ry="1.15" fill="#c6c6c6"/>
<ellipse cx="177.6" cy="52.6" rx="1.25" ry="1.15" fill="#c6c6c6"/>
<ellipse cx="180.9" cy="52.6" rx="1.25" ry="1.15" fill="#c6c6c6"/>
<ellipse cx="-2.1" cy="45.0" rx="1.25" ry="1.15" fill="#c6c6c6"/>
<ellipse cx="1.2" cy="45.1" rx="1.25" ry="1.15" fill="#c6c6c6"/>
<ellipse cx="4.5" cy="45.1" rx="1.25" ry="1.15" fill="#c6c6c6"/>
<ellipse cx="7.8" cy="45.1" rx="1.25" ry="1.15" fill="#c6c6c6"/>
<ellipse cx="11.1" cy="45.3" rx="1.25" ry="1.15" fill="#c6c6c6"/>
<ellipse cx="14.4" cy="45.1" rx="1.25" ry="1.15" fill="#c6c6c6"/>
<ellipse cx="17.7" cy="44.9" rx="1.25" ry="1.15" fill="#c6c6c6"/>
<ellipse cx="21.0" cy="45.2" rx="1.25" ry="1.15" fill="#c6c6c6"/>
<ellipse cx="24.3" cy="45.0" rx="1.25" ry="1.15" fill="#c6c6c6"/>
<ellipse cx="27.6" cy="45.1" rx="1.25" ry="1.15" fill="#c6c6c6"/>
<ellipse cx="30.9" cy="45.2" rx="1.25" ry="1.15" fill="#c6c6c6"/>
<ellipse cx="34.2" cy="44.8" rx="1.25" ry="1.15" fill="#c6c6c6"/>
<ellipse cx="37.5" cy="45.2" rx="1.25" ry="1.15" fill="#c6c6c6"/>
<ellipse cx="40.8" cy="45.1" rx="1.25" ry="1.15" fill="#c6c6c6"/>
<ellipse cx="44.1" cy="45.0" rx="1.25" ry="1.15" fill="#c6c6c6"/>
<ellipse cx="47.4" cy="45.1" rx="1.25" ry="1.15" fill="#c6c6c6"/>
<ellipse cx="50.7" cy="45.0" rx="1.25" ry="1.15" fill="#c6c6c6"/>
<ellipse cx="54.0" cy="44.9" rx="1.25" ry="1.15" fill="#c6c6c6"/>
<ellipse cx="57.3" cy="45.1" rx="1.25" ry="1.15" fill="#c6c6c6"/>
<ellipse cx="60.6" cy="44.8" rx="1.25" ry="1.15" fill="#c6c6c6"/>
<ellipse cx="63.9" cy="45.1" rx="1.25" ry="1.15" fill="#c6c6c6"/>
<ellipse cx="67.2" cy="45.1" rx="1.25" ry="1.15" fill="#c6c6c6"/>
<ellipse cx="70.5" cy="45.0" rx="1.25" ry="1.15" fill="#c6c6c6"/>
<ellipse cx="73.8" cy="45.1" rx="1.25" ry="1.15" fill="#c6c6c6"/>
<ellipse cx="77.1" cy="45.3" rx="1.25" ry="1.15" fill="#c6c6c6"/>
<ellipse cx="80.4" cy="45.2" rx="1.25" ry="1.15" fill="#c6c6c6"/>
<ellipse cx="83.7" cy="44.9" rx="1.25" ry="1.15" fill="#c6c6c6"/>
<ellipse cx="87.0" cy="45.2" rx="1.25" ry="1.15" fill="#c6c6c6"/>
<ellipse cx="90.3" cy="45.1" rx="1.25" ry="1.15" fill="#c6c6c6"/>
<ellipse cx="93.6" cy="44.8" rx="1.25" ry="1.15" fill="#c6c6c6"/>
<ellipse cx="96.9" cy="45.0" rx="1.25" ry="1.15" fill="#c6c6c6"/>
<ellipse cx="100.2" cy="44.9" rx="1.25" ry="1.15" fill="#c6c6c6"/>
<ellipse cx="103.5" cy="44.8" rx="1.25" ry="1.15" fill="#c6c6c6"/>
<ellipse cx="106.8" cy="45.1" rx="1.25" ry="1.15" fill="#c6c6c6"/>
<ellipse cx="110.1" cy="45.3" rx="1.25" ry="1.15" fill="#c6c6c6"/>
<ellipse cx="113.4" cy="45.0" rx="1.25" ry="1.15" fill="#c6c6c6"/>
<ellipse cx="116.7" cy="45.2" rx="1.25" ry="1.15" fill="#c6c6c6"/>
<ellipse cx="120.0" cy="45.1" rx="1.25" ry="1.15" fill="#c6c6c6"/>
<ellipse cx="123.3" cy="44.9" rx="1.25" ry="1.15" fill="#c6c6c6"/>
<ellipse cx="126.6" cy="45.2" rx="1.25" ry="1.15" fill="#c6c6c6"/>
<ellipse cx="129.9" cy="45.1" rx="1.25" ry="1.15" fill="#c6c6c6"/>
<ellipse cx="133.2" cy="45.3" rx="1.25" ry="1.15" fill="#c6c6c6"/>
<ellipse cx="136.5" cy="45.2" rx="1.25" ry="1.15" fill="#c6c6c6"/>
<ellipse cx="139.8" cy="45.2" rx="1.25" ry="1.15" fill="#c6c6c6"/>
<ellipse cx="143.1" cy="45.0" rx="1.25" ry="1.15" fill="#c6c6c6"/>
<ellipse cx="146.4" cy="45.2" rx="1.25" ry="1.15" fill="#c6c6c6"/>
<ellipse cx="149.7" cy="45.3" rx="1.25" ry="1.15" fill="#c6c6c6"/>
<ellipse cx="153.0" cy="45.2" rx="1.25" ry="1.15" fill="#c6c6c6"/>
<ellipse cx="156.3" cy="45.0" rx="1.25" ry="1.15" fill="#c6c6c6"/>
<ellipse cx="159.6" cy="45.2" rx="1.25" ry="1.15" fill="#c6c6c6"/>
<ellipse cx="162.9" cy="45.0" rx="1.25" ry="1.15" fill="#c6c6c6"/>
<ellipse cx="166.2" cy="44.9" rx="1.25" ry="1.15" fill="#c6c6c6"/>
<ellipse cx="169.5" cy="44.8" rx="1.25" ry="1.15" fill="#c6c6c6"/>
<ellipse cx="172.8" cy="44.8" rx="1.25" ry="1.15" fill="#c6c6c6"/>
<ellipse cx="176.1" cy="44.9" rx="1.25" ry="1.15" fill="#c6c6c6"/>
<ellipse cx="179.4" cy="44.9" rx="1.25" ry="1.15" fill="#c6c6c6"/>
<ellipse cx="-3.9" cy="41.1" rx="1.25" ry="1.15" fill="#b4b4b4"/>
<ellipse cx="-0.6" cy="41.0" rx="1.25" ry="1.15" fill="#b4b4b4"/>
<ellipse cx="2.7" cy="41.0" rx="1.25" ry="1.15" fill="#b4b4b4"/>
<ellipse cx="6.0" cy="41.1" rx="1.25" ry="1.15" fill="#b4b4b4"/>
<ellipse cx="9.3" cy="40.9" rx="1.25" ry="1.15" fill="#b4b4b4"/>
<ellipse cx="12.6" cy="41.0" rx="1.25" ry="1.15" fill="#b4b4b4"/>
<ellipse cx="15.9" cy="41.1" rx="1.25" ry="1.15" fill="#b4b4b4"/>
<ellipse cx="19.2" cy="41.0" rx="1.25" ry="1.15" fill="#b4b4b4"/>
<ellipse cx="22.5" cy="40.8" rx="1.25" ry="1.15" fill="#b4b4b4"/>
<ellipse cx="25.8" cy="41.2" rx="1.25" ry="1.15" fill="#b4b4b4"/>
<ellipse cx="29.1" cy="41.1" rx="1.25" ry="1.15" fill="#b4b4b4"/>
<ellipse cx="32.4" cy="40.9" rx="1.25" ry="1.15" fill="#b4b4b4"/>
<ellipse cx="35.7" cy="40.9" rx="1.25" ry="1.15" fill="#b4b4b4"/>
<ellipse cx="39.0" cy="41.0" rx="1.25" ry="1.15" fill="#b4b4b4"/>
<ellipse cx="42.3" cy="41.0" rx="1.25" ry="1.15" fill="#b4b4b4"/>
<ellipse cx="45.6" cy="40.9" rx="1.25" ry="1.15" fill="#b4b4b4"/>
<ellipse cx="48.9" cy="40.8" rx="1.25" ry="1.15" fill="#b4b4b4"/>
<ellipse cx="52.2" cy="40.9" rx="1.25" ry="1.15" fill="#b4b4b4"/>
<ellipse cx="55.5" cy="41.1" rx="1.25" ry="1.15" fill="#b4b4b4"/>
<ellipse cx="58.8" cy="40.8" rx="1.25" ry="1.15" fill="#b4b4b4"/>
<ellipse cx="62.1" cy="41.0" rx="1.25" ry="1.15" fill="#b4b4b4"/>
<ellipse cx="65.4" cy="40.8" rx="1.25" ry="1.15" fill="#b4b4b4"/>
<ellipse cx="68.7" cy="40.9" rx="1.25" ry="1.15" fill="#b4b4b4"/>
<ellipse cx="72.0" cy="40.8" rx="1.25" ry="1.15" fill="#b4b4b4"/>
<ellipse cx="75.3" cy="41.0" rx="1.25" ry="1.15" fill="#b4b4b4"/>
<ellipse cx="78.6" cy="40.8" rx="1.25" ry="1.15" fill="#b4b4b4"/>
<ellipse cx="81.9" cy="40.8" rx="1.25" ry="1.15" fill="#b4b4b4"/>
<ellipse cx="85.2" cy="40.8" rx="1.25" ry="1.15" fill="#b4b4b4"/>
<ellipse cx="88.5" cy="40.8" rx="1.25" ry="1.15" fill="#b4b4b4"/>
<ellipse cx="91.8" cy="41.0" rx="1.25" ry="1.15" fill="#b4b4b4"/>
<ellipse cx="95.1" cy="40.8" rx="1.25" ry="1.15" fill="#b4b4b4"/>
<ellipse cx="98.4" cy="40.8" rx="1.25" ry="1.15" fill="#b4b4b4"/>
<ellipse cx="101.7" cy="41.0" rx="1.25" ry="1.15" fill="#b4b4b4"/>
<ellipse cx="105.0" cy="41.0" rx="1.25" ry="1.15" fill="#b4b4b4"/>
<ellipse cx="108.3" cy="41.1" rx="1.25" ry="1.15" fill="#b4b4b4"/>
<ellipse cx="111.6" cy="40.8" rx="1.25" ry="1.15" fill="#b4b4b4"/>
<ellipse cx="114.9" cy="41.0" rx="1.25" ry="1.15" fill="#b4b4b4"/>
<ellipse cx="118.2" cy="40.9" rx="1.25" ry="1.15" fill="#b4b4b4"/>
<ellipse cx="121.5" cy="40.8" rx="1.25" ry="1.15" fill="#b4b4b4"/>
<ellipse cx="124.8" cy="41.2" rx="1.25" ry="1.15" fill="#b4b4b4"/>
<ellipse cx="128.1" cy="40.9" rx="1.25" ry="1.15" fill="#b4b4b4"/>
<ellipse cx="131.4" cy="40.8" rx="1.25" ry="1.15" fill="#b4b4b4"/>
<ellipse cx="134.7" cy="41.0" rx="1.25" ry="1.15" fill="#b4b4b4"/>
<ellipse cx="138.0" cy="40.8" rx="1.25" ry="1.15" fill="#b4b4b4"/>
<ellipse cx="141.3" cy="41.1" rx="1.25" ry="1.15" fill="#b4b4b4"/>
<ellipse cx="144.6" cy="40.9" rx="1.25" ry="1.15" fill="#b4b4b4"/>
<ellipse cx="147.9" cy="40.8" rx="1.25" ry="1.15" fill="#b4b4b4"/>
<ellipse cx="151.2" cy="40.8" rx="1.25" ry="1.15" fill="#b4b4b4"/>
<ellipse cx="154.5" cy="41.1" rx="1.25" ry="1.15" fill="#b4b4b4"/>
<ellipse cx="157.8" cy="40.9" rx="1.25" ry="1.15" fill="#b4b4b4"/>
<ellipse cx="161.1" cy="41.1" rx="1.25" ry="1.15" fill="#b4b4b4"/>
<ellipse cx="164.4" cy="41.0" rx="1.25" ry="1.15" fill="#b4b4b4"/>
<ellipse cx="167.7" cy="41.2" rx="1.25" ry="1.15" fill="#b4b4b4"/>
<ellipse cx="171.0" cy="40.9" rx="1.25" ry="1.15" fill="#b4b4b4"/>
<ellipse cx="174.3" cy="40.9" rx="1.25" ry="1.15" fill="#b4b4b4"/>
<ellipse cx="177.6" cy="40.9" rx="1.25" ry="1.15" fill="#b4b4b4"/>
<ellipse cx="180.9" cy="41.2" rx="1.25" ry="1.15" fill="#b4b4b4"/>
<ellipse cx="-2.2" cy="36.9" rx="1.25" ry="1.15" fill="#c6c6c6"/>
<ellipse cx="1.1" cy="36.7" rx="1.25" ry="1.15" fill="#c6c6c6"/>
<ellipse cx="4.4" cy="37.0" rx="1.25" ry="1.15" fill="#c6c6c6"/>
<ellipse cx="7.7" cy="37.2" rx="1.25" ry="1.15" fill="#c6c6c6"/>
<ellipse cx="11.0" cy="37.0" rx="1.25" ry="1.15" fill="#c6c6c6"/>
<ellipse cx="14.3" cy="36.7" rx="1.25" ry="1.15" fill="#c6c6c6"/>
<ellipse cx="17.6" cy="36.7" rx="1.25" ry="1.15" fill="#c6c6c6"/>
<ellipse cx="20.9" cy="36.7" rx="1.25" ry="1.15" fill="#c6c6c6"/>
<ellipse cx="24.2" cy="36.8" rx="1.25" ry="1.15" fill="#c6c6c6"/>
<ellipse cx="27.5" cy="36.7" rx="1.25" ry="1.15" fill="#c6c6c6"/>
<ellipse cx="30.8" cy="36.7" rx="1.25" ry="1.15" fill="#c6c6c6"/>
<ellipse cx="34.1" cy="37.0" rx="1.25" ry="1.15" fill="#c6c6c6"/>
<ellipse cx="37.4" cy="37.2" rx="1.25" ry="1.15" fill="#c6c6c6"/>
<ellipse cx="40.7" cy="36.8" rx="1.25" ry="1.15" fill="#c6c6c6"/>
<ellipse cx="44.0" cy="37.2" rx="1.25" ry="1.15" fill="#c6c6c6"/>
<ellipse cx="47.3" cy="36.9" rx="1.25" ry="1.15" fill="#c6c6c6"/>
<ellipse cx="50.6" cy="37.1" rx="1.25" ry="1.15" fill="#c6c6c6"/>
<ellipse cx="53.9" cy="37.2" rx="1.25" ry="1.15" fill="#c6c6c6"/>
<ellipse cx="57.2" cy="37.2" rx="1.25" ry="1.15" fill="#c6c6c6"/>
<ellipse cx="60.5" cy="36.7" rx="1.25" ry="1.15" fill="#c6c6c6"/>
<ellipse cx="63.8" cy="36.9" rx="1.25" ry="1.15" fill="#c6c6c6"/>
<ellipse cx="67.1" cy="37.0" rx="1.25" ry="1.15" fill="#c6c6c6"/>
<ellipse cx="70.4" cy="37.2" rx="1.25" ry="1.15" fill="#c6c6c6"/>
<ellipse cx="73.7" cy="36.7" rx="1.25" ry="1.15" fill="#c6c6c6"/>
<ellipse cx="77.0" cy="36.8" rx="1.25" ry="1.15" fill="#c6c6c6"/>
<ellipse cx="80.3" cy="37.1" rx="1.25" ry="1.15" fill="#c6c6c6"/>
<ellipse cx="83.6" cy="36.8" rx="1.25" ry="1.15" fill="#c6c6c6"/>
<ellipse cx="86.9" cy="36.9" rx="1.25" ry="1.15" fill="#c6c6c6"/>
<ellipse cx="90.2" cy="36.9" rx="1.25" ry="1.15" fill="#c6c6c6"/>
<ellipse cx="93.5" cy="37.0" rx="1.25" ry="1.15" fill="#c6c6c6"/>
<ellipse cx="96.8" cy="37.2" rx="1.25" ry="1.15" fill="#c6c6c6"/>
<ellipse cx="100.1" cy="36.8" rx="1.25" ry="1.15" fill="#c6c6c6"/>
<ellipse cx="103.4" cy="37.1" rx="1.25" ry="1.15" fill="#c6c6c6"/>
<ellipse cx="106.7" cy="37.1" rx="1.25" ry="1.15" fill="#c6c6c6"/>
<ellipse cx="110.0" cy="37.1" rx="1.25" ry="1.15" fill="#c6c6c6"/>
<ellipse cx="113.3" cy="37.0" rx="1.25" ry="1.15" fill="#c6c6c6"/>
<ellipse cx="116.6" cy="37.2" rx="1.25" ry="1.15" fill="#c6c6c6"/>
<ellipse cx="119.9" cy="36.9" rx="1.25" ry="1.15" fill="#c6c6c6"/>
<ellipse cx="123.2" cy="36.9" rx="1.25" ry="1.15" fill="#c6c6c6"/>
<ellipse cx="126.5" cy="36.8" rx="1.25" ry="1.15" fill="#c6c6c6"/>
<ellipse cx="129.8" cy="37.1" rx="1.25" ry="1.15" fill="#c6c6c6"/>
<ellipse cx="133.1" cy="36.9" rx="1.25" ry="1.15" fill="#c6c6c6"/>
<ellipse cx="136.4" cy="36.8" rx="1.25" ry="1.15" fill="#c6c6c6"/>
<ellipse cx="139.7" cy="36.8" rx="1.25" ry="1.15" fill="#c6c6c6"/>
<ellipse cx="143.0" cy="37.1" rx="1.25" ry="1.15" fill="#c6c6c6"/>
<ellipse cx="146.3" cy="37.0" rx="1.25" ry="1.15" fill="#c6c6c6"/>
<ellipse cx="149.6" cy="37.1" rx="1.25" ry="1.15" fill="#c6c6c6"/>
<ellipse cx="152.9" cy="36.9" rx="1.25" ry="1.15" fill="#c6c6c6"/>
<ellipse cx="156.2" cy="36.9" rx="1.25" ry="1.15" fill="#c6c6c6"/>
<ellipse cx="159.5" cy="36.8" rx="1.25" ry="1.15" fill="#c6c6c6"/>
<ellipse cx="162.8" cy="37.1" rx="1.25" ry="1.15" fill="#c6c6c6"/>
<ellipse cx="166.1" cy="36.7" rx="1.25" ry="1.15" fill="#c6c6c6"/>
<ellipse cx="169.4" cy="36.9" rx="1.25" ry="1.15" fill="#c6c6c6"/>
<ellipse cx="172.7" cy="37.1" rx="1.25" ry="1.15" fill="#c6c6c6"/>
<ellipse cx="176.0" cy="37.0" rx="1.25" ry="1.15" fill="#c6c6c6"/>
<ellipse cx="179.3" cy="36.7" rx="1.25" ry="1.15" fill="#c6c6c6"/>
<ellipse cx="-3.9" cy="29.8" rx="1.25" ry="1.15" fill="#c6c6c6"/>
<ellipse cx="-0.6" cy="29.7" rx="1.25" ry="1.15" fill="#c6c6c6"/>
<ellipse cx="2.7" cy="29.8" rx="1.25" ry="1.15" fill="#c6c6c6"/>
<ellipse cx="6.0" cy="29.8" rx="1.25" ry="1.15" fill="#c6c6c6"/>
<ellipse cx="9.3" cy="29.6" rx="1.25" ry="1.15" fill="#c6c6c6"/>
<ellipse cx="12.6" cy="29.8" rx="1.25" ry="1.15" fill="#c6c6c6"/>
<ellipse cx="15.9" cy="29.7" rx="1.25" ry="1.15" fill="#c6c6c6"/>
<ellipse cx="19.2" cy="29.5" rx="1.25" ry="1.15" fill="#c6c6c6"/>
<ellipse cx="22.5" cy="29.5" rx="1.25" ry="1.15" fill="#c6c6c6"/>
<ellipse cx="25.8" cy="29.4" rx="1.25" ry="1.15" fill="#c6c6c6"/>
<ellipse cx="29.1" cy="29.5" rx="1.25" ry="1.15" fill="#c6c6c6"/>
<ellipse cx="32.4" cy="29.8" rx="1.25" ry="1.15" fill="#c6c6c6"/>
<ellipse cx="35.7" cy="29.4" rx="1.25" ry="1.15" fill="#c6c6c6"/>
<ellipse cx="39.0" cy="29.6" rx="1.25" ry="1.15" fill="#c6c6c6"/>
<ellipse cx="42.3" cy="29.4" rx="1.25" ry="1.15" fill="#c6c6c6"/>
<ellipse cx="45.6" cy="29.4" rx="1.25" ry="1.15" fill="#c6c6c6"/>
<ellipse cx="48.9" cy="29.7" rx="1.25" ry="1.15" fill="#c6c6c6"/>
<ellipse cx="52.2" cy="29.5" rx="1.25" ry="1.15" fill="#c6c6c6"/>
<ellipse cx="55.5" cy="29.4" rx="1.25" ry="1.15" fill="#c6c6c6"/>
<ellipse cx="58.8" cy="29.4" rx="1.25" ry="1.15" fill="#c6c6c6"/>
<ellipse cx="62.1" cy="29.7" rx="1.25" ry="1.15" fill="#c6c6c6"/>
<ellipse cx="65.4" cy="29.6" rx="1.25" ry="1.15" fill="#c6c6c6"/>
<ellipse cx="68.7" cy="29.4" rx="1.25" ry="1.15" fill="#c6c6c6"/>
<ellipse cx="72.0" cy="29.5" rx="1.25" ry="1.15" fill="#c6c6c6"/>
<ellipse cx="75.3" cy="29.8" rx="1.25" ry="1.15" fill="#c6c6c6"/>
<ellipse cx="78.6" cy="29.5" rx="1.25" ry="1.15" fill="#c6c6c6"/>
<ellipse cx="81.9" cy="29.6" rx="1.25" ry="1.15" fill="#c6c6c6"/>
<ellipse cx="85.2" cy="29.6" rx="1.25" ry="1.15" fill="#c6c6c6"/>
<ellipse cx="88.5" cy="29.7" rx="1.25" ry="1.15" fill="#c6c6c6"/>
<ellipse cx="91.8" cy="29.7" rx="1.25" ry="1.15" fill="#c6c6c6"/>
<ellipse cx="95.1" cy="29.7" rx="1.25" ry="1.15" fill="#c6c6c6"/>
<ellipse cx="98.4" cy="29.6" rx="1.25" ry="1.15" fill="#c6c6c6"/>
<ellipse cx="101.7" cy="29.4" rx="1.25" ry="1.15" fill="#c6c6c6"/>
<ellipse cx="105.0" cy="29.4" rx="1.25" ry="1.15" fill="#c6c6c6"/>
<ellipse cx="108.3" cy="29.4" rx="1.25" ry="1.15" fill="#c6c6c6"/>
<ellipse cx="111.6" cy="29.8" rx="1.25" ry="1.15" fill="#c6c6c6"/>
<ellipse cx="114.9" cy="29.4" rx="1.25" ry="1.15" fill="#c6c6c6"/>
<ellipse cx="118.2" cy="29.4" rx="1.25" ry="1.15" fill="#c6c6c6"/>
<ellipse cx="121.5" cy="29.8" rx="1.25" ry="1.15" fill="#c6c6c6"/>
<ellipse cx="124.8" cy="29.4" rx="1.25" ry="1.15" fill="#c6c6c6"/>
<ellipse cx="128.1" cy="29.8" rx="1.25" ry="1.15" fill="#c6c6c6"/>
<ellipse cx="131.4" cy="29.4" rx="1.25" ry="1.15" fill="#c6c6c6"/>
<ellipse cx="134.7" cy="29.6" rx="1.25" ry="1.15" fill="#c6c6c6"/>
<ellipse cx="138.0" cy="29.5" rx="1.25" ry="1.15" fill="#c6c6c6"/>
<ellipse cx="141.3" cy="29.8" rx="1.25" ry="1.15" fill="#c6c6c6"/>
<ellipse cx="144.6" cy="29.7" rx="1.25" ry="1.15" fill="#c6c6c6"/>
<ellipse cx="147.9" cy="29.7" rx="1.25" ry="1.15" fill="#c6c6c6"/>
<ellipse cx="151.2" cy="29.7" rx="1.25" ry="1.15" fill="#c6c6c6"/>
<ellipse cx="154.5" cy="29.8" rx="1.25" ry="1.15" fill="#c6c6c6"/>
<ellipse cx="157.8" cy="29.5" rx="1.25" ry="1.15" fill="#c6c6c6"/>
<ellipse cx="161.1" cy="29.7" rx="1.25" ry="1.15" fill="#c6c6c6"/>
<ellipse cx="164.4" cy="29.6" rx="1.25" ry="1.15" fill="#c6c6c6"/>
<ellipse cx="167.7" cy="29.4" rx="1.25" ry="1.15" fill="#c6c6c6"/>
<ellipse cx="171.0" cy="29.8" rx="1.25" ry="1.15" fill="#c6c6c6"/>
<ellipse cx="174.3" cy="29.6" rx="1.25" ry="1.15" fill="#c6c6c6"/>
<ellipse cx="177.6" cy="29.8" rx="1.25" ry="1.15" fill="#c6c6c6"/>
<ellipse cx="180.9" cy="29.5" rx="1.25" ry="1.15" fill="#c6c6c6"/>
<ellipse cx="-2.2" cy="25.5" rx="1.25" ry="1.15" fill="#b4b4b4"/>
<ellipse cx="1.1" cy="25.7" rx="1.25" ry="1.15" fill="#b4b4b4"/>
<ellipse cx="4.4" cy="25.3" rx="1.25" ry="1.15" fill="#b4b4b4"/>
<ellipse cx="7.7" cy="25.5" rx="1.25" ry="1.15" fill="#b4b4b4"/>
<ellipse cx="11.0" cy="25.5" rx="1.25" ry="1.15" fill="#b4b4b4"/>
<ellipse cx="14.3" cy="25.3" rx="1.25" ry="1.15" fill="#b4b4b4"/>
<ellipse cx="17.6" cy="25.6" rx="1.25" ry="1.15" fill="#b4b4b4"/>
<ellipse cx="20.9" cy="25.7" rx="1.25" ry="1.15" fill="#b4b4b4"/>
<ellipse cx="24.2" cy="25.5" rx="1.25" ry="1.15" fill="#b4b4b4"/>
<ellipse cx="27.5" cy="25.6" rx="1.25" ry="1.15" fill="#b4b4b4"/>
<ellipse cx="30.8" cy="25.6" rx="1.25" ry="1.15" fill="#b4b4b4"/>
<ellipse cx="34.1" cy="25.4" rx="1.25" ry="1.15" fill="#b4b4b4"/>
<ellipse cx="37.4" cy="25.5" rx="1.25" ry="1.15" fill="#b4b4b4"/>
<ellipse cx="40.7" cy="25.8" rx="1.25" ry="1.15" fill="#b4b4b4"/>
<ellipse cx="44.0" cy="25.5" rx="1.25" ry="1.15" fill="#b4b4b4"/>
<ellipse cx="47.3" cy="25.5" rx="1.25" ry="1.15" fill="#b4b4b4"/>
<ellipse cx="50.6" cy="25.3" rx="1.25" ry="1.15" fill="#b4b4b4"/>
<ellipse cx="53.9" cy="25.4" rx="1.25" ry="1.15" fill="#b4b4b4"/>
<ellipse cx="57.2" cy="25.4" rx="1.25" ry="1.15" fill="#b4b4b4"/>
<ellipse cx="60.5" cy="25.8" rx="1.25" ry="1.15" fill="#b4b4b4"/>
<ellipse cx="63.8" cy="25.7" rx="1.25" ry="1.15" fill="#b4b4b4"/>
<ellipse cx="67.1" cy="25.7" rx="1.25" ry="1.15" fill="#b4b4b4"/>
<ellipse cx="70.4" cy="25.8" rx="1.25" ry="1.15" fill="#b4b4b4"/>
<ellipse cx="73.7" cy="25.6" rx="1.25" ry="1.15" fill="#b4b4b4"/>
<ellipse cx="77.0" cy="25.8" rx="1.25" ry="1.15" fill="#b4b4b4"/>
<ellipse cx="80.3" cy="25.6" rx="1.25" ry="1.15" fill="#b4b4b4"/>
<ellipse cx="83.6" cy="25.5" rx="1.25" ry="1.15" fill="#b4b4b4"/>
<ellipse cx="86.9" cy="25.8" rx="1.25" ry="1.15" fill="#b4b4b4"/>
<ellipse cx="90.2" cy="25.8" rx="1.25" ry="1.15" fill="#b4b4b4"/>
<ellipse cx="93.5" cy="25.8" rx="1.25" ry="1.15" fill="#b4b4b4"/>
<ellipse cx="96.8" cy="25.5" rx="1.25" ry="1.15" fill="#b4b4b4"/>
<ellipse cx="100.1" cy="25.7" rx="1.25" ry="1.15" fill="#b4b4b4"/>
<ellipse cx="103.4" cy="25.5" rx="1.25" ry="1.15" fill="#b4b4b4"/>
<ellipse cx="106.7" cy="25.8" rx="1.25" ry="1.15" fill="#b4b4b4"/>
<ellipse cx="110.0" cy="25.8" rx="1.25" ry="1.15" fill="#b4b4b4"/>
<ellipse cx="113.3" cy="25.4" rx="1.25" ry="1.15" fill="#b4b4b4"/>
<ellipse cx="116.6" cy="25.8" rx="1.25" ry="1.15" fill="#b4b4b4"/>
<ellipse cx="119.9" cy="25.4" rx="1.25" ry="1.15" fill="#b4b4b4"/>
<ellipse cx="123.2" cy="25.3" rx="1.25" ry="1.15" fill="#b4b4b4"/>
<ellipse cx="126.5" cy="25.7" rx="1.25" ry="1.15" fill="#b4b4b4"/>
<ellipse cx="129.8" cy="25.4" rx="1.25" ry="1.15" fill="#b4b4b4"/>
<ellipse cx="133.1" cy="25.6" rx="1.25" ry="1.15" fill="#b4b4b4"/>
<ellipse cx="136.4" cy="25.6" rx="1.25" ry="1.15" fill="#b4b4b4"/>
<ellipse cx="139.7" cy="25.3" rx="1.25" ry="1.15" fill="#b4b4b4"/>
<ellipse cx="143.0" cy="25.7" rx="1.25" ry="1.15" fill="#b4b4b4"/>
<ellipse cx="146.3" cy="25.4" rx="1.25" ry="1.15" fill="#b4b4b4"/>
<ellipse cx="149.6" cy="25.5" rx="1.25" ry="1.15" fill="#b4b4b4"/>
<ellipse cx="152.9" cy="25.5" rx="1.25" ry="1.15" fill="#b4b4b4"/>
<ellipse cx="156.2" cy="25.7" rx="1.25" ry="1.15" fill="#b4b4b4"/>
<ellipse cx="159.5" cy="25.7" rx="1.25" ry="1.15" fill="#b4b4b4"/>
<ellipse cx="162.8" cy="25.4" rx="1.25" ry="1.15" fill="#b4b4b4"/>
<ellipse cx="166.1" cy="25.4" rx="1.25" ry="1.15" fill="#b4b4b4"/>
<ellipse cx="169.4" cy="25.4" rx="1.25" ry="1.15" fill="#b4b4b4"/>
<ellipse cx="172.7" cy="25.5" rx="1.25" ry="1.15" fill="#b4b4b4"/>
<ellipse cx="176.0" cy="25.3" rx="1.25" ry="1.15" fill="#b4b4b4"/>
<ellipse cx="179.3" cy="25.4" rx="1.25" ry="1.15" fill="#b4b4b4"/>
<ellipse cx="-3.8" cy="21.6" rx="1.25" ry="1.15" fill="#c6c6c6"/>
<ellipse cx="-0.5" cy="21.7" rx="1.25" ry="1.15" fill="#c6c6c6"/>
<ellipse cx="2.8" cy="21.7" rx="1.25" ry="1.15" fill="#c6c6c6"/>
<ellipse cx="6.1" cy="21.7" rx="1.25" ry="1.15" fill="#c6c6c6"/>
<ellipse cx="9.4" cy="21.4" rx="1.25" ry="1.15" fill="#c6c6c6"/>
<ellipse cx="12.7" cy="21.3" rx="1.25" ry="1.15" fill="#c6c6c6"/>
<ellipse cx="16.0" cy="21.4" rx="1.25" ry="1.15" fill="#c6c6c6"/>
<ellipse cx="19.3" cy="21.5" rx="1.25" ry="1.15" fill="#c6c6c6"/>
<ellipse cx="22.6" cy="21.5" rx="1.25" ry="1.15" fill="#c6c6c6"/>
<ellipse cx="25.9" cy="21.5" rx="1.25" ry="1.15" fill="#c6c6c6"/>
<ellipse cx="29.2" cy="21.4" rx="1.25" ry="1.15" fill="#c6c6c6"/>
<ellipse cx="32.5" cy="21.7" rx="1.25" ry="1.15" fill="#c6c6c6"/>
<ellipse cx="35.8" cy="21.4" rx="1.25" ry="1.15" fill="#c6c6c6"/>
<ellipse cx="39.1" cy="21.5" rx="1.25" ry="1.15" fill="#c6c6c6"/>
<ellipse cx="42.4" cy="21.7" rx="1.25" ry="1.15" fill="#c6c6c6"/>
<ellipse cx="45.7" cy="21.7" rx="1.25" ry="1.15" fill="#c6c6c6"/>
<ellipse cx="49.0" cy="21.4" rx="1.25" ry="1.15" fill="#c6c6c6"/>
<ellipse cx="52.3" cy="21.4" rx="1.25" ry="1.15" fill="#c6c6c6"/>
<ellipse cx="55.6" cy="21.7" rx="1.25" ry="1.15" fill="#c6c6c6"/>
<ellipse cx="58.9" cy="21.3" rx="1.25" ry="1.15" fill="#c6c6c6"/>
<ellipse cx="62.2" cy="21.3" rx="1.25" ry="1.15" fill="#c6c6c6"/>
<ellipse cx="65.5" cy="21.5" rx="1.25" ry="1.15" fill="#c6c6c6"/>
<ellipse cx="68.8" cy="21.5" rx="1.25" ry="1.15" fill="#c6c6c6"/>
<ellipse cx="72.1" cy="21.3" rx="1.25" ry="1.15" fill="#c6c6c6"/>
<ellipse cx="75.4" cy="21.3" rx="1.25" ry="1.15" fill="#c6c6c6"/>
<ellipse cx="78.7" cy="21.4" rx="1.25" ry="1.15" fill="#c6c6c6"/>
<ellipse cx="82.0" cy="21.6" rx="1.25" ry="1.15" fill="#c6c6c6"/>
<ellipse cx="85.3" cy="21.5" rx="1.25" ry="1.15" fill="#c6c6c6"/>
<ellipse cx="88.6" cy="21.7" rx="1.25" ry="1.15" fill="#c6c6c6"/>
<ellipse cx="91.9" cy="21.6" rx="1.25" ry="1.15" fill="#c6c6c6"/>
<ellipse cx="95.2" cy="21.7" rx="1.25" ry="1.15" fill="#c6c6c6"/>
<ellipse cx="98.5" cy="21.3" rx="1.25" ry="1.15" fill="#c6c6c6"/>
<ellipse cx="101.8" cy="21.3" rx="1.25" ry="1.15" fill="#c6c6c6"/>
<ellipse cx="105.1" cy="21.3" rx="1.25" ry="1.15" fill="#c6c6c6"/>
<ellipse cx="108.4" cy="21.5" rx="1.25" ry="1.15" fill="#c6c6c6"/>
<ellipse cx="111.7" cy="21.4" rx="1.25" ry="1.15" fill="#c6c6c6"/>
<ellipse cx="115.0" cy="21.3" rx="1.25" ry="1.15" fill="#c6c6c6"/>
<ellipse cx="118.3" cy="21.5" rx="1.25" ry="1.15" fill="#c6c6c6"/>
<ellipse cx="121.6" cy="21.3" rx="1.25" ry="1.15" fill="#c6c6c6"/>
<ellipse cx="124.9" cy="21.4" rx="1.25" ry="1.15" fill="#c6c6c6"/>
<ellipse cx="128.2" cy="21.4" rx="1.25" ry="1.15" fill="#c6c6c6"/>
<ellipse cx="131.5" cy="21.7" rx="1.25" ry="1.15" fill="#c6c6c6"/>
<ellipse cx="134.8" cy="21.5" rx="1.25" ry="1.15" fill="#c6c6c6"/>
<ellipse cx="138.1" cy="21.4" rx="1.25" ry="1.15" fill="#c6c6c6"/>
<ellipse cx="141.4" cy="21.3" rx="1.25" ry="1.15" fill="#c6c6c6"/>
<ellipse cx="144.7" cy="21.5" rx="1.25" ry="1.15" fill="#c6c6c6"/>
<ellipse cx="148.0" cy="21.6" rx="1.25" ry="1.15" fill="#c6c6c6"/>
<ellipse cx="151.3" cy="21.6" rx="1.25" ry="1.15" fill="#c6c6c6"/>
<ellipse cx="154.6" cy="21.7" rx="1.25" ry="1.15" fill="#c6c6c6"/>
<ellipse cx="157.9" cy="21.7" rx="1.25" ry="1.15" fill="#c6c6c6"/>
<ellipse cx="161.2" cy="21.4" rx="1.25" ry="1.15" fill="#c6c6c6"/>
<ellipse cx="164.5" cy="21.3" rx="1.25" ry="1.15" fill="#c6c6c6"/>
<ellipse cx="167.8" cy="21.6" rx="1.25" ry="1.15" fill="#c6c6c6"/>
<ellipse cx="171.1" cy="21.6" rx="1.25" ry="1.15" fill="#c6c6c6"/>
<ellipse cx="174.4" cy="21.5" rx="1.25" ry="1.15" fill="#c6c6c6"/>
<ellipse cx="177.7" cy="21.7" rx="1.25" ry="1.15" fill="#c6c6c6"/>
<ellipse cx="181.0" cy="21.5" rx="1.25" ry="1.15" fill="#c6c6c6"/>
<ellipse cx="-2.3" cy="14.0" rx="1.25" ry="1.15" fill="#c6c6c6"/>
<ellipse cx="1.0" cy="13.9" rx="1.25" ry="1.15" fill="#c6c6c6"/>
<ellipse cx="4.3" cy="14.2" rx="1.25" ry="1.15" fill="#c6c6c6"/>
<ellipse cx="7.6" cy="14.3" rx="1.25" ry="1.15" fill="#c6c6c6"/>
<ellipse cx="10.9" cy="14.4" rx="1.25" ry="1.15" fill="#c6c6c6"/>
<ellipse cx="14.2" cy="14.1" rx="1.25" ry="1.15" fill="#c6c6c6"/>
<ellipse cx="17.5" cy="14.2" rx="1.25" ry="1.15" fill="#c6c6c6"/>
<ellipse cx="20.8" cy="14.4" rx="1.25" ry="1.15" fill="#c6c6c6"/>
<ellipse cx="24.1" cy="14.3" rx="1.25" ry="1.15" fill="#c6c6c6"/>
<ellipse cx="27.4" cy="14.2" rx="1.25" ry="1.15" fill="#c6c6c6"/>
<ellipse cx="30.7" cy="14.1" rx="1.25" ry="1.15" fill="#c6c6c6"/>
<ellipse cx="34.0" cy="14.2" rx="1.25" ry="1.15" fill="#c6c6c6"/>
<ellipse cx="37.3" cy="14.0" rx="1.25" ry="1.15" fill="#c6c6c6"/>
<ellipse cx="40.6" cy="14.0" rx="1.25" ry="1.15" fill="#c6c6c6"/>
<ellipse cx="43.9" cy="14.2" rx="1.25" ry="1.15" fill="#c6c6c6"/>
<ellipse cx="47.2" cy="14.4" rx="1.25" ry="1.15" fill="#c6c6c6"/>
<ellipse cx="50.5" cy="14.2" rx="1.25" ry="1.15" fill="#c6c6c6"/>
<ellipse cx="53.8" cy="14.1" rx="1.25" ry="1.15" fill="#c6c6c6"/>
<ellipse cx="57.1" cy="14.1" rx="1.25" ry="1.15" fill="#c6c6c6"/>
<ellipse cx="60.4" cy="14.1" rx="1.25" ry="1.15" fill="#c6c6c6"/>
<ellipse cx="63.7" cy="14.3" rx="1.25" ry="1.15" fill="#c6c6c6"/>
<ellipse cx="67.0" cy="14.1" rx="1.25" ry="1.15" fill="#c6c6c6"/>
<ellipse cx="70.3" cy="14.4" rx="1.25" ry="1.15" fill="#c6c6c6"/>
<ellipse cx="73.6" cy="14.0" rx="1.25" ry="1.15" fill="#c6c6c6"/>
<ellipse cx="76.9" cy="14.1" rx="1.25" ry="1.15" fill="#c6c6c6"/>
<ellipse cx="80.2" cy="14.2" rx="1.25" ry="1.15" fill="#c6c6c6"/>
<ellipse cx="83.5" cy="14.1" rx="1.25" ry="1.15" fill="#c6c6c6"/>
<ellipse cx="86.8" cy="14.3" rx="1.25" ry="1.15" fill="#c6c6c6"/>
<ellipse cx="90.1" cy="14.3" rx="1.25" ry="1.15" fill="#c6c6c6"/>
<ellipse cx="93.4" cy="14.4" rx="1.25" ry="1.15" fill="#c6c6c6"/>
<ellipse cx="96.7" cy="14.2" rx="1.25" ry="1.15" fill="#c6c6c6"/>
<ellipse cx="100.0" cy="13.9" rx="1.25" ry="1.15" fill="#c6c6c6"/>
<ellipse cx="103.3" cy="14.2" rx="1.25" ry="1.15" fill="#c6c6c6"/>
<ellipse cx="106.6" cy="14.2" rx="1.25" ry="1.15" fill="#c6c6c6"/>
<ellipse cx="109.9" cy="14.1" rx="1.25" ry="1.15" fill="#c6c6c6"/>
<ellipse cx="113.2" cy="14.0" rx="1.25" ry="1.15" fill="#c6c6c6"/>
<ellipse cx="116.5" cy="14.3" rx="1.25" ry="1.15" fill="#c6c6c6"/>
<ellipse cx="119.8" cy="14.4" rx="1.25" ry="1.15" fill="#c6c6c6"/>
<ellipse cx="123.1" cy="14.0" rx="1.25" ry="1.15" fill="#c6c6c6"/>
<ellipse cx="126.4" cy="14.2" rx="1.25" ry="1.15" fill="#c6c6c6"/>
<ellipse cx="129.7" cy="14.1" rx="1.25" ry="1.15" fill="#c6c6c6"/>
<ellipse cx="133.0" cy="14.2" rx="1.25" ry="1.15" fill="#c6c6c6"/>
<ellipse cx="136.3" cy="14.3" rx="1.25" ry="1.15" fill="#c6c6c6"/>
<ellipse cx="139.6" cy="14.4" rx="1.25" ry="1.15" fill="#c6c6c6"/>
<ellipse cx="142.9" cy="14.2" rx="1.25" ry="1.15" fill="#c6c6c6"/>
<ellipse cx="146.2" cy="14.0" rx="1.25" ry="1.15" fill="#c6c6c6"/>
<ellipse cx="149.5" cy="14.4" rx="1.25" ry="1.15" fill="#c6c6c6"/>
<ellipse cx="152.8" cy="14.0" rx="1.25" ry="1.15" fill="#c6c6c6"/>
<ellipse cx="156.1" cy="14.1" rx="1.25" ry="1.15" fill="#c6c6c6"/>
<ellipse cx="159.4" cy="14.3" rx="1.25" ry="1.15" fill="#c6c6c6"/>
<ellipse cx="162.7" cy="14.1" rx="1.25" ry="1.15" fill="#c6c6c6"/>
<ellipse cx="166.0" cy="14.0" rx="1.25" ry="1.15" fill="#c6c6c6"/>
<ellipse cx="169.3" cy="14.4" rx="1.25" ry="1.15" fill="#c6c6c6"/>
<ellipse cx="172.6" cy="14.4" rx="1.25" ry="1.15" fill="#c6c6c6"/>
<ellipse cx="175.9" cy="14.1" rx="1.25" ry="1.15" fill="#c6c6c6"/>
<ellipse cx="179.2" cy="14.1" rx="1.25" ry="1.15" fill="#c6c6c6"/>
<ellipse cx="-3.9" cy="9.9" rx="1.25" ry="1.15" fill="#b4b4b4"/>
<ellipse cx="-0.6" cy="10.0" rx="1.25" ry="1.15" fill="#b4b4b4"/>
<ellipse cx="2.7" cy="10.3" rx="1.25" ry="1.15" fill="#b4b4b4"/>
<ellipse cx="6.0" cy="9.9" rx="1.25" ry="1.15" fill="#b4b4b4"/>
<ellipse cx="9.3" cy="10.0" rx="1.25" ry="1.15" fill="#b4b4b4"/>
<ellipse cx="12.6" cy="9.9" rx="1.25" ry="1.15" fill="#b4b4b4"/>
<ellipse cx="15.9" cy="9.9" rx="1.25" ry="1.15" fill="#b4b4b4"/>
<ellipse cx="19.2" cy="10.1" rx="1.25" ry="1.15" fill="#b4b4b4"/>
<ellipse cx="22.5" cy="10.2" rx="1.25" ry="1.15" fill="#b4b4b4"/>
<ellipse cx="25.8" cy="10.3" rx="1.25" ry="1.15" fill="#b4b4b4"/>
<ellipse cx="29.1" cy="10.2" rx="1.25" ry="1.15" fill="#b4b4b4"/>
<ellipse cx="32.4" cy="10.3" rx="1.25" ry="1.15" fill="#b4b4b4"/>
<ellipse cx="35.7" cy="9.9" rx="1.25" ry="1.15" fill="#b4b4b4"/>
<ellipse cx="39.0" cy="10.0" rx="1.25" ry="1.15" fill="#b4b4b4"/>
<ellipse cx="42.3" cy="10.3" rx="1.25" ry="1.15" fill="#b4b4b4"/>
<ellipse cx="45.6" cy="9.9" rx="1.25" ry="1.15" fill="#b4b4b4"/>
<ellipse cx="48.9" cy="10.0" rx="1.25" ry="1.15" fill="#b4b4b4"/>
<ellipse cx="52.2" cy="10.1" rx="1.25" ry="1.15" fill="#b4b4b4"/>
<ellipse cx="55.5" cy="10.0" rx="1.25" ry="1.15" fill="#b4b4b4"/>
<ellipse cx="58.8" cy="10.1" rx="1.25" ry="1.15" fill="#b4b4b4"/>
<ellipse cx="62.1" cy="9.9" rx="1.25" ry="1.15" fill="#b4b4b4"/>
<ellipse cx="65.4" cy="10.0" rx="1.25" ry="1.15" fill="#b4b4b4"/>
<ellipse cx="68.7" cy="10.3" rx="1.25" ry="1.15" fill="#b4b4b4"/>
<ellipse cx="72.0" cy="9.9" rx="1.25" ry="1.15" fill="#b4b4b4"/>
<ellipse cx="75.3" cy="10.3" rx="1.25" ry="1.15" fill="#b4b4b4"/>
<ellipse cx="78.6" cy="9.9" rx="1.25" ry="1.15" fill="#b4b4b4"/>
<ellipse cx="81.9" cy="10.3" rx="1.25" ry="1.15" fill="#b4b4b4"/>
<ellipse cx="85.2" cy="10.2" rx="1.25" ry="1.15" fill="#b4b4b4"/>
<ellipse cx="88.5" cy="10.2" rx="1.25" ry="1.15" fill="#b4b4b4"/>
<ellipse cx="91.8" cy="9.9" rx="1.25" ry="1.15" fill="#b4b4b4"/>
<ellipse cx="95.1" cy="9.9" rx="1.25" ry="1.15" fill="#b4b4b4"/>
<ellipse cx="98.4" cy="10.2" rx="1.25" ry="1.15" fill="#b4b4b4"/>
<ellipse cx="101.7" cy="9.9" rx="1.25" ry="1.15" fill="#b4b4b4"/>
<ellipse cx="105.0" cy="9.9" rx="1.25" ry="1.15" fill="#b4b4b4"/>
<ellipse cx="108.3" cy="10.3" rx="1.25" ry="1.15" fill="#b4b4b4"/>
<ellipse cx="111.6" cy="10.3" rx="1.25" ry="1.15" fill="#b4b4b4"/>
<ellipse cx="114.9" cy="9.9" rx="1.25" ry="1.15" fill="#b4b4b4"/>
<ellipse cx="118.2" cy="10.3" rx="1.25" ry="1.15" fill="#b4b4b4"/>
<ellipse cx="121.5" cy="10.1" rx="1.25" ry="1.15" fill="#b4b4b4"/>
<ellipse cx="124.8" cy="10.0" rx="1.25" ry="1.15" fill="#b4b4b4"/>
<ellipse cx="128.1" cy="9.9" rx="1.25" ry="1.15" fill="#b4b4b4"/>
<ellipse cx="131.4" cy="10.0" rx="1.25" ry="1.15" fill="#b4b4b4"/>
<ellipse cx="134.7" cy="10.3" rx="1.25" ry="1.15" fill="#b4b4b4"/>
<ellipse cx="138.0" cy="10.0" rx="1.25" ry="1.15" fill="#b4b4b4"/>
<ellipse cx="141.3" cy="9.9" rx="1.25" ry="1.15" fill="#b4b4b4"/>
<ellipse cx="144.6" cy="9.9" rx="1.25" ry="1.15" fill="#b4b4b4"/>
<ellipse cx="147.9" cy="9.9" rx="1.25" ry="1.15" fill="#b4b4b4"/>
<ellipse cx="151.2" cy="10.0" rx="1.25" ry="1.15" fill="#b4b4b4"/>
<ellipse cx="154.5" cy="10.3" rx="1.25" ry="1.15" fill="#b4b4b4"/>
<ellipse cx="157.8" cy="9.9" rx="1.25" ry="1.15" fill="#b4b4b4"/>
<ellipse cx="161.1" cy="9.9" rx="1.25" ry="1.15" fill="#b4b4b4"/>
<ellipse cx="164.4" cy="10.3" rx="1.25" ry="1.15" fill="#b4b4b4"/>
<ellipse cx="167.7" cy="10.3" rx="1.25" ry="1.15" fill="#b4b4b4"/>
<ellipse cx="171.0" cy="10.3" rx="1.25" ry="1.15" fill="#b4b4b4"/>
<ellipse cx="174.3" cy="10.0" rx="1.25" ry="1.15" fill="#b4b4b4"/>
<ellipse cx="177.6" cy="10.0" rx="1.25" ry="1.15" fill="#b4b4b4"/>
<ellipse cx="180.9" cy="10.3" rx="1.25" ry="1.15" fill="#b4b4b4"/>
<ellipse cx="-2.2" cy="6.2" rx="1.25" ry="1.15" fill="#c6c6c6"/>
<ellipse cx="1.1" cy="6.0" rx="1.25" ry="1.15" fill="#c6c6c6"/>
<ellipse cx="4.4" cy="5.8" rx="1.25" ry="1.15" fill="#c6c6c6"/>
<ellipse cx="7.7" cy="6.0" rx="1.25" ry="1.15" fill="#c6c6c6"/>
<ellipse cx="11.0" cy="6.2" rx="1.25" ry="1.15" fill="#c6c6c6"/>
<ellipse cx="14.3" cy="6.2" rx="1.25" ry="1.15" fill="#c6c6c6"/>
<ellipse cx="17.6" cy="6.1" rx="1.25" ry="1.15" fill="#c6c6c6"/>
<ellipse cx="20.9" cy="6.0" rx="1.25" ry="1.15" fill="#c6c6c6"/>
<ellipse cx="24.2" cy="6.1" rx="1.25" ry="1.15" fill="#c6c6c6"/>
<ellipse cx="27.5" cy="6.0" rx="1.25" ry="1.15" fill="#c6c6c6"/>
<ellipse cx="30.8" cy="6.1" rx="1.25" ry="1.15" fill="#c6c6c6"/>
<ellipse cx="34.1" cy="6.2" rx="1.25" ry="1.15" fill="#c6c6c6"/>
<ellipse cx="37.4" cy="5.9" rx="1.25" ry="1.15" fill="#c6c6c6"/>
<ellipse cx="40.7" cy="6.1" rx="1.25" ry="1.15" fill="#c6c6c6"/>
<ellipse cx="44.0" cy="6.3" rx="1.25" ry="1.15" fill="#c6c6c6"/>
<ellipse cx="47.3" cy="6.2" rx="1.25" ry="1.15" fill="#c6c6c6"/>
<ellipse cx="50.6" cy="5.9" rx="1.25" ry="1.15" fill="#c6c6c6"/>
<ellipse cx="53.9" cy="6.3" rx="1.25" ry="1.15" fill="#c6c6c6"/>
<ellipse cx="57.2" cy="6.2" rx="1.25" ry="1.15" fill="#c6c6c6"/>
<ellipse cx="60.5" cy="5.9" rx="1.25" ry="1.15" fill="#c6c6c6"/>
<ellipse cx="63.8" cy="5.9" rx="1.25" ry="1.15" fill="#c6c6c6"/>
<ellipse cx="67.1" cy="5.9" rx="1.25" ry="1.15" fill="#c6c6c6"/>
<ellipse cx="70.4" cy="5.8" rx="1.25" ry="1.15" fill="#c6c6c6"/>
<ellipse cx="73.7" cy="6.3" rx="1.25" ry="1.15" fill="#c6c6c6"/>
<ellipse cx="77.0" cy="6.0" rx="1.25" ry="1.15" fill="#c6c6c6"/>
<ellipse cx="80.3" cy="6.2" rx="1.25" ry="1.15" fill="#c6c6c6"/>
<ellipse cx="83.6" cy="5.9" rx="1.25" ry="1.15" fill="#c6c6c6"/>
<ellipse cx="86.9" cy="5.8" rx="1.25" ry="1.15" fill="#c6c6c6"/>
<ellipse cx="90.2" cy="6.2" rx="1.25" ry="1.15" fill="#c6c6c6"/>
<ellipse cx="93.5" cy="6.2" rx="1.25" ry="1.15" fill="#c6c6c6"/>
<ellipse cx="96.8" cy="6.3" rx="1.25" ry="1.15" fill="#c6c6c6"/>
<ellipse cx="100.1" cy="6.1" rx="1.25" ry="1.15" fill="#c6c6c6"/>
<ellipse cx="103.4" cy="6.1" rx="1.25" ry="1.15" fill="#c6c6c6"/>
<ellipse cx="106.7" cy="6.2" rx="1.25" ry="1.15" fill="#c6c6c6"/>
<ellipse cx="110.0" cy="5.8" rx="1.25" ry="1.15" fill="#c6c6c6"/>
<ellipse cx="113.3" cy="6.1" rx="1.25" ry="1.15" fill="#c6c6c6"/>
<ellipse cx="116.6" cy="6.0" rx="1.25" ry="1.15" fill="#c6c6c6"/>
<ellipse cx="119.9" cy="5.9" rx="1.25" ry="1.15" fill="#c6c6c6"/>
<ellipse cx="123.2" cy="6.1" rx="1.25" ry="1.15" fill="#c6c6c6"/>
<ellipse cx="126.5" cy="6.0" rx="1.25" ry="1.15" fill="#c6c6c6"/>
<ellipse cx="129.8" cy="6.1" rx="1.25" ry="1.15" fill="#c6c6c6"/>
<ellipse cx="133.1" cy="6.0" rx="1.25" ry="1.15" fill="#c6c6c6"/>
<ellipse cx="136.4" cy="6.0" rx="1.25" ry="1.15" fill="#c6c6c6"/>
<ellipse cx="139.7" cy="6.0" rx="1.25" ry="1.15" fill="#c6c6c6"/>
<ellipse cx="143.0" cy="6.1" rx="1.25" ry="1.15" fill="#c6c6c6"/>
<ellipse cx="146.3" cy="6.3" rx="1.25" ry="1.15" fill="#c6c6c6"/>
<ellipse cx="149.6" cy="6.3" rx="1.25" ry="1.15" fill="#c6c6c6"/>
<ellipse cx="152.9" cy="6.2" rx="1.25" ry="1.15" fill="#c6c6c6"/>
<ellipse cx="156.2" cy="6.2" rx="1.25" ry="1.15" fill="#c6c6c6"/>
<ellipse cx="159.5" cy="5.9" rx="1.25" ry="1.15" fill="#c6c6c6"/>
<ellipse cx="162.8" cy="6.3" rx="1.25" ry="1.15" fill="#c6c6c6"/>
<ellipse cx="166.1" cy="5.9" rx="1.25" ry="1.15" fill="#c6c6c6"/>
<ellipse cx="169.4" cy="5.9" rx="1.25" ry="1.15" fill="#c6c6c6"/>
<ellipse cx="172.7" cy="6.1" rx="1.25" ry="1.15" fill="#c6c6c6"/>
<ellipse cx="176.0" cy="6.2" rx="1.25" ry="1.15" fill="#c6c6c6"/>
<ellipse cx="179.3" cy="6.0" rx="1.25" ry="1.15" fill="#c6c6c6"/>
<ellipse cx="-3.8" cy="-1.4" rx="1.25" ry="1.15" fill="#c6c6c6"/>
<ellipse cx="-0.5" cy="-1.1" rx="1.25" ry="1.15" fill="#c6c6c6"/>
<ellipse cx="2.8" cy="-1.3" rx="1.25" ry="1.15" fill="#c6c6c6"/>
<ellipse cx="6.1" cy="-1.3" rx="1.25" ry="1.15" fill="#c6c6c6"/>
<ellipse cx="9.4" cy="-1.3" rx="1.25" ry="1.15" fill="#c6c6c6"/>
<ellipse cx="12.7" cy="-1.1" rx="1.25" ry="1.15" fill="#c6c6c6"/>
<ellipse cx="16.0" cy="-1.1" rx="1.25" ry="1.15" fill="#c6c6c6"/>
<ellipse cx="19.3" cy="-1.3" rx="1.25" ry="1.15" fill="#c6c6c6"/>
<ellipse cx="22.6" cy="-1.3" rx="1.25" ry="1.15" fill="#c6c6c6"/>
<ellipse cx="25.9" cy="-1.2" rx="1.25" ry="1.15" fill="#c6c6c6"/>
<ellipse cx="29.2" cy="-1.5" rx="1.25" ry="1.15" fill="#c6c6c6"/>
<ellipse cx="32.5" cy="-1.3" rx="1.25" ry="1.15" fill="#c6c6c6"/>
<ellipse cx="35.8" cy="-1.1" rx="1.25" ry="1.15" fill="#c6c6c6"/>
<ellipse cx="39.1" cy="-1.2" rx="1.25" ry="1.15" fill="#c6c6c6"/>
<ellipse cx="42.4" cy="-1.5" rx="1.25" ry="1.15" fill="#c6c6c6"/>
<ellipse cx="45.7" cy="-1.1" rx="1.25" ry="1.15" fill="#c6c6c6"/>
<ellipse cx="49.0" cy="-1.4" rx="1.25" ry="1.15" fill="#c6c6c6"/>
<ellipse cx="52.3" cy="-1.1" rx="1.25" ry="1.15" fill="#c6c6c6"/>
<ellipse cx="55.6" cy="-1.4" rx="1.25" ry="1.15" fill="#c6c6c6"/>
<ellipse cx="58.9" cy="-1.4" rx="1.25" ry="1.15" fill="#c6c6c6"/>
<ellipse cx="62.2" cy="-1.3" rx="1.25" ry="1.15" fill="#c6c6c6"/>
<ellipse cx="65.5" cy="-1.1" rx="1.25" ry="1.15" fill="#c6c6c6"/>
<ellipse cx="68.8" cy="-1.3" rx="1.25" ry="1.15" fill="#c6c6c6"/>
<ellipse cx="72.1" cy="-1.1" rx="1.25" ry="1.15" fill="#c6c6c6"/>
<ellipse cx="75.4" cy="-1.2" rx="1.25" ry="1.15" fill="#c6c6c6"/>
<ellipse cx="78.7" cy="-1.4" rx="1.25" ry="1.15" fill="#c6c6c6"/>
<ellipse cx="82.0" cy="-1.4" rx="1.25" ry="1.15" fill="#c6c6c6"/>
<ellipse cx="85.3" cy="-1.3" rx="1.25" ry="1.15" fill="#c6c6c6"/>
<ellipse cx="88.6" cy="-1.4" rx="1.25" ry="1.15" fill="#c6c6c6"/>
<ellipse cx="91.9" cy="-1.4" rx="1.25" ry="1.15" fill="#c6c6c6"/>
<ellipse cx="95.2" cy="-1.2" rx="1.25" ry="1.15" fill="#c6c6c6"/>
<ellipse cx="98.5" cy="-1.1" rx="1.25" ry="1.15" fill="#c6c6c6"/>
<ellipse cx="101.8" cy="-1.3" rx="1.25" ry="1.15" fill="#c6c6c6"/>
<ellipse cx="105.1" cy="-1.5" rx="1.25" ry="1.15" fill="#c6c6c6"/>
<ellipse cx="108.4" cy="-1.4" rx="1.25" ry="1.15" fill="#c6c6c6"/>
<ellipse cx="111.7" cy="-1.4" rx="1.25" ry="1.15" fill="#c6c6c6"/>
<ellipse cx="115.0" cy="-1.2" rx="1.25" ry="1.15" fill="#c6c6c6"/>
<ellipse cx="118.3" cy="-1.5" rx="1.25" ry="1.15" fill="#c6c6c6"/>
<ellipse cx="121.6" cy="-1.5" rx="1.25" ry="1.15" fill="#c6c6c6"/>
<ellipse cx="124.9" cy="-1.4" rx="1.25" ry="1.15" fill="#c6c6c6"/>
<ellipse cx="128.2" cy="-1.4" rx="1.25" ry="1.15" fill="#c6c6c6"/>
<ellipse cx="131.5" cy="-1.5" rx="1.25" ry="1.15" fill="#c6c6c6"/>
<ellipse cx="134.8" cy="-1.3" rx="1.25" ry="1.15" fill="#c6c6c6"/>
<ellipse cx="138.1" cy="-1.1" rx="1.25" ry="1.15" fill="#c6c6c6"/>
<ellipse cx="141.4" cy="-1.3" rx="1.25" ry="1.15" fill="#c6c6c6"/>
<ellipse cx="144.7" cy="-1.2" rx="1.25" ry="1.15" fill="#c6c6c6"/>
<ellipse cx="148.0" cy="-1.1" rx="1.25" ry="1.15" fill="#c6c6c6"/>
<ellipse cx="151.3" cy="-1.1" rx="1.25" ry="1.15" fill="#c6c6c6"/>
<ellipse cx="154.6" cy="-1.1" rx="1.25" ry="1.15" fill="#c6c6c6"/>
<ellipse cx="157.9" cy="-1.3" rx="1.25" ry="1.15" fill="#c6c6c6"/>
<ellipse cx="161.2" cy="-1.2" rx="1.25" ry="1.15" fill="#c6c6c6"/>
<ellipse cx="164.5" cy="-1.5" rx="1.25" ry="1.15" fill="#c6c6c6"/>
<ellipse cx="167.8" cy="-1.1" rx="1.25" ry="1.15" fill="#c6c6c6"/>
<ellipse cx="171.1" cy="-1.4" rx="1.25" ry="1.15" fill="#c6c6c6"/>
<ellipse cx="174.4" cy="-1.3" rx="1.25" ry="1.15" fill="#c6c6c6"/>
<ellipse cx="177.7" cy="-1.1" rx="1.25" ry="1.15" fill="#c6c6c6"/>
<ellipse cx="181.0" cy="-1.4" rx="1.25" ry="1.15" fill="#c6c6c6"/>
<ellipse cx="-2.3" cy="-5.2" rx="1.25" ry="1.15" fill="#b4b4b4"/>
<ellipse cx="1.0" cy="-5.3" rx="1.25" ry="1.15" fill="#b4b4b4"/>
<ellipse cx="4.3" cy="-5.6" rx="1.25" ry="1.15" fill="#b4b4b4"/>
<ellipse cx="7.6" cy="-5.6" rx="1.25" ry="1.15" fill="#b4b4b4"/>
<ellipse cx="10.9" cy="-5.4" rx="1.25" ry="1.15" fill="#b4b4b4"/>
<ellipse cx="14.2" cy="-5.6" rx="1.25" ry="1.15" fill="#b4b4b4"/>
<ellipse cx="17.5" cy="-5.2" rx="1.25" ry="1.15" fill="#b4b4b4"/>
<ellipse cx="20.8" cy="-5.5" rx="1.25" ry="1.15" fill="#b4b4b4"/>
<ellipse cx="24.1" cy="-5.5" rx="1.25" ry="1.15" fill="#b4b4b4"/>
<ellipse cx="27.4" cy="-5.4" rx="1.25" ry="1.15" fill="#b4b4b4"/>
<ellipse cx="30.7" cy="-5.3" rx="1.25" ry="1.15" fill="#b4b4b4"/>
<ellipse cx="34.0" cy="-5.4" rx="1.25" ry="1.15" fill="#b4b4b4"/>
<ellipse cx="37.3" cy="-5.3" rx="1.25" ry="1.15" fill="#b4b4b4"/>
<ellipse cx="40.6" cy="-5.3" rx="1.25" ry="1.15" fill="#b4b4b4"/>
<ellipse cx="43.9" cy="-5.4" rx="1.25" ry="1.15" fill="#b4b4b4"/>
<ellipse cx="47.2" cy="-5.6" rx="1.25" ry="1.15" fill="#b4b4b4"/>
<ellipse cx="50.5" cy="-5.1" rx="1.25" ry="1.15" fill="#b4b4b4"/>
<ellipse cx="53.8" cy="-5.3" rx="1.25" ry="1.15" fill="#b4b4b4"/>
<ellipse cx="57.1" cy="-5.6" rx="1.25" ry="1.15" fill="#b4b4b4"/>
<ellipse cx="60.4" cy="-5.4" rx="1.25" ry="1.15" fill="#b4b4b4"/>
<ellipse cx="63.7" cy="-5.2" rx="1.25" ry="1.15" fill="#b4b4b4"/>
<ellipse cx="67.0" cy="-5.1" rx="1.25" ry="1.15" fill="#b4b4b4"/>
<ellipse cx="70.3" cy="-5.6" rx="1.25" ry="1.15" fill="#b4b4b4"/>
<ellipse cx="73.6" cy="-5.6" rx="1.25" ry="1.15" fill="#b4b4b4"/>
<ellipse cx="76.9" cy="-5.4" rx="1.25" ry="1.15" fill="#b4b4b4"/>
<ellipse cx="80.2" cy="-5.4" rx="1.25" ry="1.15" fill="#b4b4b4"/>
<ellipse cx="83.5" cy="-5.2" rx="1.25" ry="1.15" fill="#b4b4b4"/>
<ellipse cx="86.8" cy="-5.2" rx="1.25" ry="1.15" fill="#b4b4b4"/>
<ellipse cx="90.1" cy="-5.4" rx="1.25" ry="1.15" fill="#b4b4b4"/>
<ellipse cx="93.4" cy="-5.4" rx="1.25" ry="1.15" fill="#b4b4b4"/>
<ellipse cx="96.7" cy="-5.3" rx="1.25" ry="1.15" fill="#b4b4b4"/>
<ellipse cx="100.0" cy="-5.2" rx="1.25" ry="1.15" fill="#b4b4b4"/>
<ellipse cx="103.3" cy="-5.5" rx="1.25" ry="1.15" fill="#b4b4b4"/>
<ellipse cx="106.6" cy="-5.4" rx="1.25" ry="1.15" fill="#b4b4b4"/>
<ellipse cx="109.9" cy="-5.6" rx="1.25" ry="1.15" fill="#b4b4b4"/>
<ellipse cx="113.2" cy="-5.3" rx="1.25" ry="1.15" fill="#b4b4b4"/>
<ellipse cx="116.5" cy="-5.6" rx="1.25" ry="1.15" fill="#b4b4b4"/>
<ellipse cx="119.8" cy="-5.1" rx="1.25" ry="1.15" fill="#b4b4b4"/>
<ellipse cx="123.1" cy="-5.3" rx="1.25" ry="1.15" fill="#b4b4b4"/>
<ellipse cx="126.4" cy="-5.3" rx="1.25" ry="1.15" fill="#b4b4b4"/>
<ellipse cx="129.7" cy="-5.6" rx="1.25" ry="1.15" fill="#b4b4b4"/>
<ellipse cx="133.0" cy="-5.5" rx="1.25" ry="1.15" fill="#b4b4b4"/>
<ellipse cx="136.3" cy="-5.4" rx="1.25" ry="1.15" fill="#b4b4b4"/>
<ellipse cx="139.6" cy="-5.2" rx="1.25" ry="1.15" fill="#b4b4b4"/>
<ellipse cx="142.9" cy="-5.3" rx="1.25" ry="1.15" fill="#b4b4b4"/>
<ellipse cx="146.2" cy="-5.5" rx="1.25" ry="1.15" fill="#b4b4b4"/>
<ellipse cx="149.5" cy="-5.1" rx="1.25" ry="1.15" fill="#b4b4b4"/>
<ellipse cx="152.8" cy="-5.3" rx="1.25" ry="1.15" fill="#b4b4b4"/>
<ellipse cx="156.1" cy="-5.3" rx="1.25" ry="1.15" fill="#b4b4b4"/>
<ellipse cx="159.4" cy="-5.5" rx="1.25" ry="1.15" fill="#b4b4b4"/>
<ellipse cx="162.7" cy="-5.5" rx="1.25" ry="1.15" fill="#b4b4b4"/>
<ellipse cx="166.0" cy="-5.2" rx="1.25" ry="1.15" fill="#b4b4b4"/>
<ellipse cx="169.3" cy="-5.5" rx="1.25" ry="1.15" fill="#b4b4b4"/>
<ellipse cx="172.6" cy="-5.3" rx="1.25" ry="1.15" fill="#b4b4b4"/>
<ellipse cx="175.9" cy="-5.3" rx="1.25" ry="1.15" fill="#b4b4b4"/>
<ellipse cx="179.2" cy="-5.4" rx="1.25" ry="1.15" fill="#b4b4b4"/>
<ellipse cx="-3.8" cy="-9.2" rx="1.25" ry="1.15" fill="#c6c6c6"/>
<ellipse cx="-0.5" cy="-9.2" rx="1.25" ry="1.15" fill="#c6c6c6"/>
<ellipse cx="2.8" cy="-9.3" rx="1.25" ry="1.15" fill="#c6c6c6"/>
<ellipse cx="6.1" cy="-9.5" rx="1.25" ry="1.15" fill="#c6c6c6"/>
<ellipse cx="9.4" cy="-9.6" rx="1.25" ry="1.15" fill="#c6c6c6"/>
<ellipse cx="12.7" cy="-9.4" rx="1.25" ry="1.15" fill="#c6c6c6"/>
<ellipse cx="16.0" cy="-9.5" rx="1.25" ry="1.15" fill="#c6c6c6"/>
<ellipse cx="19.3" cy="-9.6" rx="1.25" ry="1.15" fill="#c6c6c6"/>
<ellipse cx="22.6" cy="-9.2" rx="1.25" ry="1.15" fill="#c6c6c6"/>
<ellipse cx="25.9" cy="-9.5" rx="1.25" ry="1.15" fill="#c6c6c6"/>
<ellipse cx="29.2" cy="-9.2" rx="1.25" ry="1.15" fill="#c6c6c6"/>
<ellipse cx="32.5" cy="-9.2" rx="1.25" ry="1.15" fill="#c6c6c6"/>
<ellipse cx="35.8" cy="-9.6" rx="1.25" ry="1.15" fill="#c6c6c6"/>
<ellipse cx="39.1" cy="-9.2" rx="1.25" ry="1.15" fill="#c6c6c6"/>
<ellipse cx="42.4" cy="-9.5" rx="1.25" ry="1.15" fill="#c6c6c6"/>
<ellipse cx="45.7" cy="-9.5" rx="1.25" ry="1.15" fill="#c6c6c6"/>
<ellipse cx="49.0" cy="-9.6" rx="1.25" ry="1.15" fill="#c6c6c6"/>
<ellipse cx="52.3" cy="-9.6" rx="1.25" ry="1.15" fill="#c6c6c6"/>
<ellipse cx="55.6" cy="-9.4" rx="1.25" ry="1.15" fill="#c6c6c6"/>
<ellipse cx="58.9" cy="-9.5" rx="1.25" ry="1.15" fill="#c6c6c6"/>
<ellipse cx="62.2" cy="-9.2" rx="1.25" ry="1.15" fill="#c6c6c6"/>
<ellipse cx="65.5" cy="-9.2" rx="1.25" ry="1.15" fill="#c6c6c6"/>
<ellipse cx="68.8" cy="-9.6" rx="1.25" ry="1.15" fill="#c6c6c6"/>
<ellipse cx="72.1" cy="-9.4" rx="1.25" ry="1.15" fill="#c6c6c6"/>
<ellipse cx="75.4" cy="-9.5" rx="1.25" ry="1.15" fill="#c6c6c6"/>
<ellipse cx="78.7" cy="-9.6" rx="1.25" ry="1.15" fill="#c6c6c6"/>
<ellipse cx="82.0" cy="-9.5" rx="1.25" ry="1.15" fill="#c6c6c6"/>
<ellipse cx="85.3" cy="-9.5" rx="1.25" ry="1.15" fill="#c6c6c6"/>
<ellipse cx="88.6" cy="-9.3" rx="1.25" ry="1.15" fill="#c6c6c6"/>
<ellipse cx="91.9" cy="-9.5" rx="1.25" ry="1.15" fill="#c6c6c6"/>
<ellipse cx="95.2" cy="-9.6" rx="1.25" ry="1.15" fill="#c6c6c6"/>
<ellipse cx="98.5" cy="-9.5" rx="1.25" ry="1.15" fill="#c6c6c6"/>
<ellipse cx="101.8" cy="-9.4" rx="1.25" ry="1.15" fill="#c6c6c6"/>
<ellipse cx="105.1" cy="-9.4" rx="1.25" ry="1.15" fill="#c6c6c6"/>
<ellipse cx="108.4" cy="-9.5" rx="1.25" ry="1.15" fill="#c6c6c6"/>
<ellipse cx="111.7" cy="-9.3" rx="1.25" ry="1.15" fill="#c6c6c6"/>
<ellipse cx="115.0" cy="-9.5" rx="1.25" ry="1.15" fill="#c6c6c6"/>
<ellipse cx="118.3" cy="-9.3" rx="1.25" ry="1.15" fill="#c6c6c6"/>
<ellipse cx="121.6" cy="-9.3" rx="1.25" ry="1.15" fill="#c6c6c6"/>
<ellipse cx="124.9" cy="-9.6" rx="1.25" ry="1.15" fill="#c6c6c6"/>
<ellipse cx="128.2" cy="-9.3" rx="1.25" ry="1.15" fill="#c6c6c6"/>
<ellipse cx="131.5" cy="-9.5" rx="1.25" ry="1.15" fill="#c6c6c6"/>
<ellipse cx="134.8" cy="-9.4" rx="1.25" ry="1.15" fill="#c6c6c6"/>
<ellipse cx="138.1" cy="-9.4" rx="1.25" ry="1.15" fill="#c6c6c6"/>
<ellipse cx="141.4" cy="-9.3" rx="1.25" ry="1.15" fill="#c6c6c6"/>
<ellipse cx="144.7" cy="-9.4" rx="1.25" ry="1.15" fill="#c6c6c6"/>
<ellipse cx="148.0" cy="-9.6" rx="1.25" ry="1.15" fill="#c6c6c6"/>
<ellipse cx="151.3" cy="-9.3" rx="1.25" ry="1.15" fill="#c6c6c6"/>
<ellipse cx="154.6" cy="-9.2" rx="1.25" ry="1.15" fill="#c6c6c6"/>
<ellipse cx="157.9" cy="-9.4" rx="1.25" ry="1.15" fill="#c6c6c6"/>
<ellipse cx="161.2" cy="-9.4" rx="1.25" ry="1.15" fill="#c6c6c6"/>
<ellipse cx="164.5" cy="-9.5" rx="1.25" ry="1.15" fill="#c6c6c6"/>
<ellipse cx="167.8" cy="-9.2" rx="1.25" ry="1.15" fill="#c6c6c6"/>
<ellipse cx="171.1" cy="-9.3" rx="1.25" ry="1.15" fill="#c6c6c6"/>
<ellipse cx="174.4" cy="-9.5" rx="1.25" ry="1.15" fill="#c6c6c6"/>
<ellipse cx="177.7" cy="-9.2" rx="1.25" ry="1.15" fill="#c6c6c6"/>
<ellipse cx="181.0" cy="-9.2" rx="1.25" ry="1.15" fill="#c6c6c6"/>
<ellipse cx="-2.2" cy="-16.5" rx="1.25" ry="1.15" fill="#c6c6c6"/>
<ellipse cx="1.1" cy="-16.8" rx="1.25" ry="1.15" fill="#c6c6c6"/>
<ellipse cx="4.4" cy="-16.9" rx="1.25" ry="1.15" fill="#c6c6c6"/>
<ellipse cx="7.7" cy="-16.6" rx="1.25" ry="1.15" fill="#c6c6c6"/>
<ellipse cx="11.0" cy="-16.8" rx="1.25" ry="1.15" fill="#c6c6c6"/>
<ellipse cx="14.3" cy="-16.6" rx="1.25" ry="1.15" fill="#c6c6c6"/>
<ellipse cx="17.6" cy="-16.7" rx="1.25" ry="1.15" fill="#c6c6c6"/>
<ellipse cx="20.9" cy="-16.9" rx="1.25" ry="1.15" fill="#c6c6c6"/>
<ellipse cx="24.2" cy="-16.7" rx="1.25" ry="1.15" fill="#c6c6c6"/>
<ellipse cx="27.5" cy="-16.6" rx="1.25" ry="1.15" fill="#c6c6c6"/>
<ellipse cx="30.8" cy="-16.8" rx="1.25" ry="1.15" fill="#c6c6c6"/>
<ellipse cx="34.1" cy="-16.7" rx="1.25" ry="1.15" fill="#c6c6c6"/>
<ellipse cx="37.4" cy="-16.6" rx="1.25" ry="1.15" fill="#c6c6c6"/>
<ellipse cx="40.7" cy="-16.8" rx="1.25" ry="1.15" fill="#c6c6c6"/>
<ellipse cx="44.0" cy="-16.8" rx="1.25" ry="1.15" fill="#c6c6c6"/>
<ellipse cx="47.3" cy="-16.7" rx="1.25" ry="1.15" fill="#c6c6c6"/>
<ellipse cx="50.6" cy="-16.6" rx="1.25" ry="1.15" fill="#c6c6c6"/>
<ellipse cx="53.9" cy="-16.9" rx="1.25" ry="1.15" fill="#c6c6c6"/>
<ellipse cx="57.2" cy="-17.0" rx="1.25" ry="1.15" fill="#c6c6c6"/>
<ellipse cx="60.5" cy="-16.6" rx="1.25" ry="1.15" fill="#c6c6c6"/>
<ellipse cx="63.8" cy="-16.7" rx="1.25" ry="1.15" fill="#c6c6c6"/>
<ellipse cx="67.1" cy="-16.8" rx="1.25" ry="1.15" fill="#c6c6c6"/>
<ellipse cx="70.4" cy="-16.6" rx="1.25" ry="1.15" fill="#c6c6c6"/>
<ellipse cx="73.7" cy="-16.6" rx="1.25" ry="1.15" fill="#c6c6c6"/>
<ellipse cx="77.0" cy="-16.7" rx="1.25" ry="1.15" fill="#c6c6c6"/>
<ellipse cx="80.3" cy="-16.5" rx="1.25" ry="1.15" fill="#c6c6c6"/>
<ellipse cx="83.6" cy="-16.6" rx="1.25" ry="1.15" fill="#c6c6c6"/>
<ellipse cx="86.9" cy="-16.6" rx="1.25" ry="1.15" fill="#c6c6c6"/>
<ellipse cx="90.2" cy="-16.9" rx="1.25" ry="1.15" fill="#c6c6c6"/>
<ellipse cx="93.5" cy="-17.0" rx="1.25" ry="1.15" fill="#c6c6c6"/>
<ellipse cx="96.8" cy="-16.7" rx="1.25" ry="1.15" fill="#c6c6c6"/>
<ellipse cx="100.1" cy="-16.6" rx="1.25" ry="1.15" fill="#c6c6c6"/>
<ellipse cx="103.4" cy="-16.8" rx="1.25" ry="1.15" fill="#c6c6c6"/>
<ellipse cx="106.7" cy="-16.8" rx="1.25" ry="1.15" fill="#c6c6c6"/>
<ellipse cx="110.0" cy="-16.7" rx="1.25" ry="1.15" fill="#c6c6c6"/>
<ellipse cx="113.3" cy="-16.9" rx="1.25" ry="1.15" fill="#c6c6c6"/>
<ellipse cx="116.6" cy="-16.7" rx="1.25" ry="1.15" fill="#c6c6c6"/>
<ellipse cx="119.9" cy="-16.7" rx="1.25" ry="1.15" fill="#c6c6c6"/>
<ellipse cx="123.2" cy="-16.8" rx="1.25" ry="1.15" fill="#c6c6c6"/>
<ellipse cx="126.5" cy="-16.9" rx="1.25" ry="1.15" fill="#c6c6c6"/>
<ellipse cx="129.8" cy="-16.7" rx="1.25" ry="1.15" fill="#c6c6c6"/>
<ellipse cx="133.1" cy="-16.8" rx="1.25" ry="1.15" fill="#c6c6c6"/>
<ellipse cx="136.4" cy="-16.6" rx="1.25" ry="1.15" fill="#c6c6c6"/>
<ellipse cx="139.7" cy="-16.9" rx="1.25" ry="1.15" fill="#c6c6c6"/>
<ellipse cx="143.0" cy="-16.8" rx="1.25" ry="1.15" fill="#c6c6c6"/>
<ellipse cx="146.3" cy="-16.9" rx="1.25" ry="1.15" fill="#c6c6c6"/>
<ellipse cx="149.6" cy="-16.8" rx="1.25" ry="1.15" fill="#c6c6c6"/>
<ellipse cx="152.9" cy="-16.7" rx="1.25" ry="1.15" fill="#c6c6c6"/>
<ellipse cx="156.2" cy="-16.9" rx="1.25" ry="1.15" fill="#c6c6c6"/>
<ellipse cx="159.5" cy="-17.0" rx="1.25" ry="1.15" fill="#c6c6c6"/>
<ellipse cx="162.8" cy="-16.8" rx="1.25" ry="1.15" fill="#c6c6c6"/>
<ellipse cx="166.1" cy="-16.9" rx="1.25" ry="1.15" fill="#c6c6c6"/>
<ellipse cx="169.4" cy="-16.7" rx="1.25" ry="1.15" fill="#c6c6c6"/>
<ellipse cx="172.7" cy="-16.9" rx="1.25" ry="1.15" fill="#c6c6c6"/>
<ellipse cx="176.0" cy="-16.9" rx="1.25" ry="1.15" fill="#c6c6c6"/>
<ellipse cx="179.3" cy="-16.7" rx="1.25" ry="1.15" fill="#c6c6c6"/>
<ellipse cx="-3.7" cy="-20.6" rx="1.25" ry="1.15" fill="#b4b4b4"/>
<ellipse cx="-0.4" cy="-20.8" rx="1.25" ry="1.15" fill="#b4b4b4"/>
<ellipse cx="2.9" cy="-20.9" rx="1.25" ry="1.15" fill="#b4b4b4"/>
<ellipse cx="6.2" cy="-21.0" rx="1.25" ry="1.15" fill="#b4b4b4"/>
<ellipse cx="9.5" cy="-20.9" rx="1.25" ry="1.15" fill="#b4b4b4"/>
<ellipse cx="12.8" cy="-20.9" rx="1.25" ry="1.15" fill="#b4b4b4"/>
<ellipse cx="16.1" cy="-20.6" rx="1.25" ry="1.15" fill="#b4b4b4"/>
<ellipse cx="19.4" cy="-21.0" rx="1.25" ry="1.15" fill="#b4b4b4"/>
<ellipse cx="22.7" cy="-20.6" rx="1.25" ry="1.15" fill="#b4b4b4"/>
<ellipse cx="26.0" cy="-20.8" rx="1.25" ry="1.15" fill="#b4b4b4"/>
<ellipse cx="29.3" cy="-20.8" rx="1.25" ry="1.15" fill="#b4b4b4"/>
<ellipse cx="32.6" cy="-20.9" rx="1.25" ry="1.15" fill="#b4b4b4"/>
<ellipse cx="35.9" cy="-20.6" rx="1.25" ry="1.15" fill="#b4b4b4"/>
<ellipse cx="39.2" cy="-21.0" rx="1.25" ry="1.15" fill="#b4b4b4"/>
<ellipse cx="42.5" cy="-20.8" rx="1.25" ry="1.15" fill="#b4b4b4"/>
<ellipse cx="45.8" cy="-20.8" rx="1.25" ry="1.15" fill="#b4b4b4"/>
<ellipse cx="49.1" cy="-21.0" rx="1.25" ry="1.15" fill="#b4b4b4"/>
<ellipse cx="52.4" cy="-20.9" rx="1.25" ry="1.15" fill="#b4b4b4"/>
<ellipse cx="55.7" cy="-20.6" rx="1.25" ry="1.15" fill="#b4b4b4"/>
<ellipse cx="59.0" cy="-20.7" rx="1.25" ry="1.15" fill="#b4b4b4"/>
<ellipse cx="62.3" cy="-20.7" rx="1.25" ry="1.15" fill="#b4b4b4"/>
<ellipse cx="65.6" cy="-20.6" rx="1.25" ry="1.15" fill="#b4b4b4"/>
<ellipse cx="68.9" cy="-21.0" rx="1.25" ry="1.15" fill="#b4b4b4"/>
<ellipse cx="72.2" cy="-20.7" rx="1.25" ry="1.15" fill="#b4b4b4"/>
<ellipse cx="75.5" cy="-20.7" rx="1.25" ry="1.15" fill="#b4b4b4"/>
<ellipse cx="78.8" cy="-20.9" rx="1.25" ry="1.15" fill="#b4b4b4"/>
<ellipse cx="82.1" cy="-20.8" rx="1.25" ry="1.15" fill="#b4b4b4"/>
<ellipse cx="85.4" cy="-20.6" rx="1.25" ry="1.15" fill="#b4b4b4"/>
<ellipse cx="88.7" cy="-20.9" rx="1.25" ry="1.15" fill="#b4b4b4"/>
<ellipse cx="92.0" cy="-20.7" rx="1.25" ry="1.15" fill="#b4b4b4"/>
<ellipse cx="95.3" cy="-21.0" rx="1.25" ry="1.15" fill="#b4b4b4"/>
<ellipse cx="98.6" cy="-20.7" rx="1.25" ry="1.15" fill="#b4b4b4"/>
<ellipse cx="101.9" cy="-20.9" rx="1.25" ry="1.15" fill="#b4b4b4"/>
<ellipse cx="105.2" cy="-20.8" rx="1.25" ry="1.15" fill="#b4b4b4"/>
<ellipse cx="108.5" cy="-20.9" rx="1.25" ry="1.15" fill="#b4b4b4"/>
<ellipse cx="111.8" cy="-20.6" rx="1.25" ry="1.15" fill="#b4b4b4"/>
<ellipse cx="115.1" cy="-20.7" rx="1.25" ry="1.15" fill="#b4b4b4"/>
<ellipse cx="118.4" cy="-20.8" rx="1.25" ry="1.15" fill="#b4b4b4"/>
<ellipse cx="121.7" cy="-20.7" rx="1.25" ry="1.15" fill="#b4b4b4"/>
<ellipse cx="125.0" cy="-20.8" rx="1.25" ry="1.15" fill="#b4b4b4"/>
<ellipse cx="128.3" cy="-20.6" rx="1.25" ry="1.15" fill="#b4b4b4"/>
<ellipse cx="131.6" cy="-20.9" rx="1.25" ry="1.15" fill="#b4b4b4"/>
<ellipse cx="134.9" cy="-20.8" rx="1.25" ry="1.15" fill="#b4b4b4"/>
<ellipse cx="138.2" cy="-20.8" rx="1.25" ry="1.15" fill="#b4b4b4"/>
<ellipse cx="141.5" cy="-20.9" rx="1.25" ry="1.15" fill="#b4b4b4"/>
<ellipse cx="144.8" cy="-21.0" rx="1.25" ry="1.15" fill="#b4b4b4"/>
<ellipse cx="148.1" cy="-21.0" rx="1.25" ry="1.15" fill="#b4b4b4"/>
<ellipse cx="151.4" cy="-20.7" rx="1.25" ry="1.15" fill="#b4b4b4"/>
<ellipse cx="154.7" cy="-20.9" rx="1.25" ry="1.15" fill="#b4b4b4"/>
<ellipse cx="158.0" cy="-20.7" rx="1.25" ry="1.15" fill="#b4b4b4"/>
<ellipse cx="161.3" cy="-20.8" rx="1.25" ry="1.15" fill="#b4b4b4"/>
<ellipse cx="164.6" cy="-20.6" rx="1.25" ry="1.15" fill="#b4b4b4"/>
<ellipse cx="167.9" cy="-20.6" rx="1.25" ry="1.15" fill="#b4b4b4"/>
<ellipse cx="171.2" cy="-20.7" rx="1.25" ry="1.15" fill="#b4b4b4"/>
<ellipse cx="174.5" cy="-20.9" rx="1.25" ry="1.15" fill="#b4b4b4"/>
<ellipse cx="177.8" cy="-21.0" rx="1.25" ry="1.15" fill="#b4b4b4"/>
<ellipse cx="181.1" cy="-20.8" rx="1.25" ry="1.15" fill="#b4b4b4"/>
<ellipse cx="-2.1" cy="-24.6" rx="1.25" ry="1.15" fill="#c6c6c6"/>
<ellipse cx="1.2" cy="-25.0" rx="1.25" ry="1.15" fill="#c6c6c6"/>
<ellipse cx="4.5" cy="-25.0" rx="1.25" ry="1.15" fill="#c6c6c6"/>
<ellipse cx="7.8" cy="-24.6" rx="1.25" ry="1.15" fill="#c6c6c6"/>
<ellipse cx="11.1" cy="-24.7" rx="1.25" ry="1.15" fill="#c6c6c6"/>
<ellipse cx="14.4" cy="-24.9" rx="1.25" ry="1.15" fill="#c6c6c6"/>
<ellipse cx="17.7" cy="-24.7" rx="1.25" ry="1.15" fill="#c6c6c6"/>
<ellipse cx="21.0" cy="-25.0" rx="1.25" ry="1.15" fill="#c6c6c6"/>
<ellipse cx="24.3" cy="-24.8" rx="1.25" ry="1.15" fill="#c6c6c6"/>
<ellipse cx="27.6" cy="-24.8" rx="1.25" ry="1.15" fill="#c6c6c6"/>
<ellipse cx="30.9" cy="-24.8" rx="1.25" ry="1.15" fill="#c6c6c6"/>
<ellipse cx="34.2" cy="-25.0" rx="1.25" ry="1.15" fill="#c6c6c6"/>
<ellipse cx="37.5" cy="-25.0" rx="1.25" ry="1.15" fill="#c6c6c6"/>
<ellipse cx="40.8" cy="-24.8" rx="1.25" ry="1.15" fill="#c6c6c6"/>
<ellipse cx="44.1" cy="-24.7" rx="1.25" ry="1.15" fill="#c6c6c6"/>
<ellipse cx="47.4" cy="-25.0" rx="1.25" ry="1.15" fill="#c6c6c6"/>
<ellipse cx="50.7" cy="-25.1" rx="1.25" ry="1.15" fill="#c6c6c6"/>
<ellipse cx="54.0" cy="-25.1" rx="1.25" ry="1.15" fill="#c6c6c6"/>
<ellipse cx="57.3" cy="-24.7" rx="1.25" ry="1.15" fill="#c6c6c6"/>
<ellipse cx="60.6" cy="-24.9" rx="1.25" ry="1.15" fill="#c6c6c6"/>
<ellipse cx="63.9" cy="-24.9" rx="1.25" ry="1.15" fill="#c6c6c6"/>
<ellipse cx="67.2" cy="-24.6" rx="1.25" ry="1.15" fill="#c6c6c6"/>
<ellipse cx="70.5" cy="-24.8" rx="1.25" ry="1.15" fill="#c6c6c6"/>
<ellipse cx="73.8" cy="-25.0" rx="1.25" ry="1.15" fill="#c6c6c6"/>
<ellipse cx="77.1" cy="-24.7" rx="1.25" ry="1.15" fill="#c6c6c6"/>
<ellipse cx="80.4" cy="-25.1" rx="1.25" ry="1.15" fill="#c6c6c6"/>
<ellipse cx="83.7" cy="-25.0" rx="1.25" ry="1.15" fill="#c6c6c6"/>
<ellipse cx="87.0" cy="-24.8" rx="1.25" ry="1.15" fill="#c6c6c6"/>
<ellipse cx="90.3" cy="-25.0" rx="1.25" ry="1.15" fill="#c6c6c6"/>
<ellipse cx="93.6" cy="-25.1" rx="1.25" ry="1.15" fill="#c6c6c6"/>
<ellipse cx="96.9" cy="-24.8" rx="1.25" ry="1.15" fill="#c6c6c6"/>
<ellipse cx="100.2" cy="-24.9" rx="1.25" ry="1.15" fill="#c6c6c6"/>
<ellipse cx="103.5" cy="-24.6" rx="1.25" ry="1.15" fill="#c6c6c6"/>
<ellipse cx="106.8" cy="-25.0" rx="1.25" ry="1.15" fill="#c6c6c6"/>
<ellipse cx="110.1" cy="-24.7" rx="1.25" ry="1.15" fill="#c6c6c6"/>
<ellipse cx="113.4" cy="-24.9" rx="1.25" ry="1.15" fill="#c6c6c6"/>
<ellipse cx="116.7" cy="-24.7" rx="1.25" ry="1.15" fill="#c6c6c6"/>
<ellipse cx="120.0" cy="-24.9" rx="1.25" ry="1.15" fill="#c6c6c6"/>
<ellipse cx="123.3" cy="-24.8" rx="1.25" ry="1.15" fill="#c6c6c6"/>
<ellipse cx="126.6" cy="-24.9" rx="1.25" ry="1.15" fill="#c6c6c6"/>
<ellipse cx="129.9" cy="-25.0" rx="1.25" ry="1.15" fill="#c6c6c6"/>
<ellipse cx="133.2" cy="-24.9" rx="1.25" ry="1.15" fill="#c6c6c6"/>
<ellipse cx="136.5" cy="-24.7" rx="1.25" ry="1.15" fill="#c6c6c6"/>
<ellipse cx="139.8" cy="-24.9" rx="1.25" ry="1.15" fill="#c6c6c6"/>
<ellipse cx="143.1" cy="-25.0" rx="1.25" ry="1.15" fill="#c6c6c6"/>
<ellipse cx="146.4" cy="-24.9" rx="1.25" ry="1.15" fill="#c6c6c6"/>
<ellipse cx="149.7" cy="-25.1" rx="1.25" ry="1.15" fill="#c6c6c6"/>
<ellipse cx="153.0" cy="-24.9" rx="1.25" ry="1.15" fill="#c6c6c6"/>
<ellipse cx="156.3" cy="-24.8" rx="1.25" ry="1.15" fill="#c6c6c6"/>
<ellipse cx="159.6" cy="-24.8" rx="1.25" ry="1.15" fill="#c6c6c6"/>
<ellipse cx="162.9" cy="-24.8" rx="1.25" ry="1.15" fill="#c6c6c6"/>
<ellipse cx="166.2" cy="-25.0" rx="1.25" ry="1.15" fill="#c6c6c6"/>
<ellipse cx="169.5" cy="-25.1" rx="1.25" ry="1.15" fill="#c6c6c6"/>
<ellipse cx="172.8" cy="-25.1" rx="1.25" ry="1.15" fill="#c6c6c6"/>
<ellipse cx="176.1" cy="-24.9" rx="1.25" ry="1.15" fill="#c6c6c6"/>
<ellipse cx="179.4" cy="-25.0" rx="1.25" ry="1.15" fill="#c6c6c6"/>
<rect x="-5" y="93.6" width="183.20000000000002" height="80" fill="#363636"/>
<rect x="-5" y="93.6" width="183.20000000000002" height="6" fill="#2a2a2a"/>
<rect x="-5" y="104.7" width="183.20000000000002" height="4.4" fill="#4c4c4c"/>
<rect x="-5" y="109.1" width="183.20000000000002" height="4.4" fill="#4c4c4c"/>
<rect x="-5" y="119.6" width="183.20000000000002" height="4.4" fill="#4c4c4c"/>
<rect x="-5" y="124.0" width="183.20000000000002" height="4.4" fill="#4c4c4c"/>
<rect x="-5" y="134.5" width="183.20000000000002" height="4.4" fill="#4c4c4c"/>
<rect x="-5" y="138.9" width="183.20000000000002" height="4.4" fill="#4c4c4c"/>
<rect x="-5" y="105.8" width="183.20000000000002" height="2.2" fill="#a2a2a2"/>
<rect x="-5" y="110.2" width="183.20000000000002" height="2.2" fill="#969696"/>
<rect x="-5" y="120.7" width="183.20000000000002" height="2.2" fill="#a6a6a6"/>
<rect x="-5" y="125.1" width="183.20000000000002" height="2.2" fill="#929292"/>
<rect x="-5" y="135.6" width="183.20000000000002" height="2.2" fill="#909090"/>
<rect x="-5" y="140.0" width="183.20000000000002" height="2.2" fill="#666666"/>
<rect x="-5" y="144" width="183.20000000000002" height="40" fill="#2d2d2d"/>
</g></g></g>
<rect x="382" y="380.8" width="25.7" height="1.5" fill="#fff"/>
<text x="243.6" y="253.0" font-size="13.4" fill="#ff1414" text-anchor="start" font-weight="bold" >MoSe<tspan dy="2.2" font-size="65%">2</tspan><tspan dy="-2.2" font-size="1%">&#8203;</tspan></text>
<text x="243.6" y="344.4" font-size="13.4" fill="#10f010" text-anchor="start" font-weight="bold" >MoS<tspan dy="2.2" font-size="65%">2</tspan><tspan dy="-2.2" font-size="1%">&#8203;</tspan></text>
<text x="243.6" y="381.3" font-size="12.3" fill="#fff" text-anchor="start" font-weight="normal" >PS-brush</text>
<text x="222.3" y="229.2" font-size="18.6" fill="#000" text-anchor="start" font-weight="bold" >d</text>
<defs>
<linearGradient id="gEds" x1="0" y1="0" x2="0" y2="1"><stop offset="0" stop-color="#050000" stop-opacity="1"/><stop offset="0.1" stop-color="#2c0202" stop-opacity="1"/><stop offset="0.25" stop-color="#7a0a0a" stop-opacity="1"/><stop offset="0.4" stop-color="#a80e0e" stop-opacity="1"/><stop offset="0.56" stop-color="#a41010" stop-opacity="1"/><stop offset="0.6" stop-color="#3a1c08" stop-opacity="1"/><stop offset="0.63" stop-color="#0a3a0a" stop-opacity="1"/><stop offset="0.68" stop-color="#0c640c" stop-opacity="1"/><stop offset="0.79" stop-color="#0c5c0c" stop-opacity="1"/><stop offset="0.86" stop-color="#052805" stop-opacity="1"/><stop offset="0.91" stop-color="#010401" stop-opacity="1"/><stop offset="1" stop-color="#000000" stop-opacity="1"/></linearGradient>
<linearGradient id="gSpR" x1="0" y1="0" x2="0" y2="1"><stop offset="0" stop-color="#600000" stop-opacity="0.3"/><stop offset="0.012" stop-color="#8c0404" stop-opacity="0.44"/><stop offset="0.08" stop-color="#b00a0a" stop-opacity="0.47"/><stop offset="0.16" stop-color="#d81414" stop-opacity="0.5"/><stop offset="0.25" stop-color="#f01818" stop-opacity="0.55"/><stop offset="0.38" stop-color="#f81c16" stop-opacity="0.61"/><stop offset="0.56" stop-color="#f82016" stop-opacity="0.61"/><stop offset="0.59" stop-color="#f82a16" stop-opacity="0.5"/><stop offset="0.62" stop-color="#f02816" stop-opacity="0.38"/><stop offset="0.66" stop-color="#f02020" stop-opacity="0.25"/><stop offset="0.72" stop-color="#f02020" stop-opacity="0.0"/></linearGradient>
<linearGradient id="gSpG" x1="0" y1="0" x2="0" y2="1"><stop offset="0.53" stop-color="#30ff30" stop-opacity="0"/><stop offset="0.58" stop-color="#50f030" stop-opacity="0.3"/><stop offset="0.61" stop-color="#40f030" stop-opacity="0.46"/><stop offset="0.645" stop-color="#20ee20" stop-opacity="0.6"/><stop offset="0.77" stop-color="#20ea20" stop-opacity="0.6"/><stop offset="0.83" stop-color="#20e620" stop-opacity="0.5"/><stop offset="0.875" stop-color="#20d820" stop-opacity="0.38"/><stop offset="0.915" stop-color="#20c820" stop-opacity="0.28"/><stop offset="0.955" stop-color="#20c020" stop-opacity="0.0"/></linearGradient>
<linearGradient id="gSpY" x1="0" y1="0" x2="0" y2="1"><stop offset="0.12" stop-color="#e8c828" stop-opacity="0"/><stop offset="0.2" stop-color="#e8c828" stop-opacity="0.3"/><stop offset="0.58" stop-color="#f0d028" stop-opacity="0.34"/><stop offset="0.62" stop-color="#c8e828" stop-opacity="0.3"/><stop offset="0.66" stop-color="#c8e828" stop-opacity="0"/></linearGradient>
</defs>
<rect x="410.8" y="226.5" width="59.099999999999966" height="161.2" fill="url(#gEds)"/>
<g filter="url(#speckR)"><rect x="410.8" y="226.5" width="59.099999999999966" height="161.2" fill="url(#gSpR)"/></g>
<g filter="url(#speckG)"><rect x="410.8" y="226.5" width="59.099999999999966" height="161.2" fill="url(#gSpG)"/></g>
<g filter="url(#speckY)"><rect x="410.8" y="226.5" width="59.099999999999966" height="161.2" fill="url(#gSpY)"/></g>
<text x="417.4" y="253.5" font-size="13.4" fill="#fff" text-anchor="start" font-weight="bold" >Se</text>
<text x="417.4" y="344.6" font-size="13.4" fill="#fff" text-anchor="start" font-weight="bold" >S</text>
<rect x="503.5" y="226.6" width="171.20000000000005" height="145.79999999999998" fill="#fff" stroke="#5a5a5a" stroke-width="1"/>
<defs><clipPath id="clipE"><rect x="503.5" y="226.6" width="171.20000000000005" height="145.79999999999998"/></clipPath></defs>
<line x1="511.0" y1="372.4" x2="511.0" y2="368.2" stroke="#222" stroke-width="0.8"/>
<text x="511.0" y="386.5" font-size="12.7" fill="#000" text-anchor="middle" font-weight="normal" >210</text>
<line x1="533.2" y1="372.4" x2="533.2" y2="368.2" stroke="#222" stroke-width="0.8"/>
<text x="533.2" y="386.5" font-size="12.7" fill="#000" text-anchor="middle" font-weight="normal" >240</text>
<line x1="555.4" y1="372.4" x2="555.4" y2="368.2" stroke="#222" stroke-width="0.8"/>
<text x="555.4" y="386.5" font-size="12.7" fill="#000" text-anchor="middle" font-weight="normal" >270</text>
<line x1="577.6" y1="372.4" x2="577.6" y2="368.2" stroke="#222" stroke-width="0.8"/>
<text x="577.6" y="386.5" font-size="12.7" fill="#000" text-anchor="middle" font-weight="normal" >300</text>
<line x1="599.9" y1="372.4" x2="599.9" y2="368.2" stroke="#222" stroke-width="0.8"/>
<text x="599.9" y="386.5" font-size="12.7" fill="#000" text-anchor="middle" font-weight="normal" >330</text>
<line x1="622.1" y1="372.4" x2="622.1" y2="368.2" stroke="#222" stroke-width="0.8"/>
<text x="622.1" y="386.5" font-size="12.7" fill="#000" text-anchor="middle" font-weight="normal" >360</text>
<line x1="644.3" y1="372.4" x2="644.3" y2="368.2" stroke="#222" stroke-width="0.8"/>
<text x="644.3" y="386.5" font-size="12.7" fill="#000" text-anchor="middle" font-weight="normal" >390</text>
<line x1="666.5" y1="372.4" x2="666.5" y2="368.2" stroke="#222" stroke-width="0.8"/>
<text x="666.5" y="386.5" font-size="12.7" fill="#000" text-anchor="middle" font-weight="normal" >420</text>
<line x1="522.1" y1="372.4" x2="522.1" y2="370.1" stroke="#222" stroke-width="0.7"/>
<line x1="544.3" y1="372.4" x2="544.3" y2="370.1" stroke="#222" stroke-width="0.7"/>
<line x1="566.5" y1="372.4" x2="566.5" y2="370.1" stroke="#222" stroke-width="0.7"/>
<line x1="588.8" y1="372.4" x2="588.8" y2="370.1" stroke="#222" stroke-width="0.7"/>
<line x1="611.0" y1="372.4" x2="611.0" y2="370.1" stroke="#222" stroke-width="0.7"/>
<line x1="633.2" y1="372.4" x2="633.2" y2="370.1" stroke="#222" stroke-width="0.7"/>
<line x1="655.4" y1="372.4" x2="655.4" y2="370.1" stroke="#222" stroke-width="0.7"/>
<line x1="533.8" y1="264.0" x2="533.8" y2="372.4" stroke="#222" stroke-width="0.7" stroke-dasharray="2,1.6"/>
<line x1="639.1" y1="237.0" x2="639.1" y2="372.4" stroke="#222" stroke-width="0.7" stroke-dasharray="2,1.6"/>
<line x1="656.4" y1="239.0" x2="656.4" y2="372.4" stroke="#222" stroke-width="0.7" stroke-dasharray="2,1.6"/>
<polyline points="502.9,275.2 503.2,275.2 503.4,275.2 503.7,275.2 504.0,275.2 504.3,275.2 504.6,275.2 504.9,275.2 505.2,275.2 505.5,275.2 505.8,275.2 506.1,275.2 506.4,275.2 506.7,275.2 507.0,275.2 507.3,275.2 507.6,275.2 507.9,275.2 508.2,275.2 508.5,275.2 508.8,275.2 509.1,275.2 509.4,275.2 509.7,275.2 510.0,275.2 510.3,275.2 510.6,275.2 510.9,275.2 511.1,275.2 511.4,275.2 511.7,275.2 512.0,275.2 512.3,275.2 512.6,275.2 512.9,275.2 513.2,275.2 513.5,275.2 513.8,275.2 514.1,275.2 514.4,275.2 514.7,275.2 515.0,275.2 515.3,275.2 515.6,275.2 515.9,275.2 516.2,275.2 516.5,275.2 516.8,275.2 517.1,275.2 517.4,275.2 517.7,275.1 518.0,275.1 518.3,275.1 518.6,275.1 518.8,275.1 519.1,275.1 519.4,275.1 519.7,275.1 520.0,275.1 520.3,275.1 520.6,275.1 520.9,275.1 521.2,275.1 521.5,275.1 521.8,275.1 522.1,275.1 522.4,275.1 522.7,275.0 523.0,275.0 523.3,275.0 523.6,275.0 523.9,275.0 524.2,275.0 524.5,275.0 524.8,274.9 525.1,274.9 525.4,274.9 525.7,274.9 526.0,274.9 526.3,274.8 526.6,274.8 526.8,274.8 527.1,274.7 527.4,274.7 527.7,274.6 528.0,274.6 528.3,274.5 528.6,274.4 528.9,274.3 529.2,274.2 529.5,274.1 529.8,273.9 530.1,273.8 530.4,273.5 530.7,273.2 531.0,272.9 531.3,272.4 531.6,271.9 531.9,271.1 532.2,270.1 532.5,268.9 532.8,267.3 533.1,265.6 533.4,263.9 533.7,262.7 534.0,262.7 534.3,263.8 534.5,265.6 534.8,267.3 535.1,268.9 535.4,270.1 535.7,271.1 536.0,271.8 536.3,272.4 536.6,272.9 536.9,273.2 537.2,273.5 537.5,273.7 537.8,273.9 538.1,274.1 538.4,274.2 538.7,274.3 539.0,274.4 539.3,274.5 539.6,274.5 539.9,274.6 540.2,274.6 540.5,274.7 540.8,274.7 541.1,274.8 541.4,274.8 541.7,274.8 542.0,274.8 542.2,274.9 542.5,274.9 542.8,274.9 543.1,274.9 543.4,274.9 543.7,274.9 544.0,274.9 544.3,275.0 544.6,275.0 544.9,275.0 545.2,275.0 545.5,275.0 545.8,275.0 546.1,275.0 546.4,275.0 546.7,275.0 547.0,275.0 547.3,275.0 547.6,275.0 547.9,275.0 548.2,275.0 548.5,275.0 548.8,275.0 549.1,275.0 549.4,275.0 549.7,275.0 550.0,275.0 550.2,275.0 550.5,275.0 550.8,275.0 551.1,275.0 551.4,275.0 551.7,275.1 552.0,275.1 552.3,275.1 552.6,275.1 552.9,275.1 553.2,275.1 553.5,275.1 553.8,275.1 554.1,275.1 554.4,275.1 554.7,275.1 555.0,275.1 555.3,275.1 555.6,275.1 555.9,275.1 556.2,275.1 556.5,275.1 556.8,275.1 557.1,275.1 557.4,275.1 557.7,275.0 557.9,275.0 558.2,275.0 558.5,275.0 558.8,275.0 559.1,275.0 559.4,275.0 559.7,275.0 560.0,275.0 560.3,275.0 560.6,275.0 560.9,275.0 561.2,275.0 561.5,275.0 561.8,275.0 562.1,275.0 562.4,275.0 562.7,275.0 563.0,275.0 563.3,275.0 563.6,275.0 563.9,275.0 564.2,275.0 564.5,275.0 564.8,275.0 565.1,275.0 565.4,275.0 565.6,275.0 565.9,275.0 566.2,275.0 566.5,275.0 566.8,275.0 567.1,275.0 567.4,275.0 567.7,275.0 568.0,275.0 568.3,275.0 568.6,275.0 568.9,275.0 569.2,275.0 569.5,275.0 569.8,275.0 570.1,275.0 570.4,275.0 570.7,275.0 571.0,275.0 571.3,275.0 571.6,275.0 571.9,275.0 572.2,275.0 572.5,275.0 572.8,275.0 573.1,275.0 573.4,275.0 573.6,275.0 573.9,275.0 574.2,275.0 574.5,275.0 574.8,275.0 575.1,275.0 575.4,274.9 575.7,274.9 576.0,274.9 576.3,274.9 576.6,274.9 576.9,274.9 577.2,274.9 577.5,274.9 577.8,274.9 578.1,274.9 578.4,274.9 578.7,274.9 579.0,274.9 579.3,274.9 579.6,274.9 579.9,274.9 580.2,274.9 580.5,274.9 580.8,274.9 581.1,274.9 581.3,274.9 581.6,274.9 581.9,274.9 582.2,274.9 582.5,274.9 582.8,274.9 583.1,274.9 583.4,274.9 583.7,274.9 584.0,274.9 584.3,274.9 584.6,274.9 584.9,274.9 585.2,274.9 585.5,274.8 585.8,274.8 586.1,274.8 586.4,274.8 586.7,274.8 587.0,274.8 587.3,274.8 587.6,274.8 587.9,274.8 588.2,274.8 588.5,274.8 588.8,274.8 589.0,274.8 589.3,274.8 589.6,274.8 589.9,274.8 590.2,274.8 590.5,274.8 590.8,274.8 591.1,274.8 591.4,274.8 591.7,274.8 592.0,274.8 592.3,274.8 592.6,274.8 592.9,274.8 593.2,274.7 593.5,274.7 593.8,274.7 594.1,274.7 594.4,274.7 594.7,274.7 595.0,274.7 595.3,274.7 595.6,274.7 595.9,274.7 596.2,274.7 596.5,274.7 596.7,274.7 597.0,274.7 597.3,274.7 597.6,274.7 597.9,274.7 598.2,274.7 598.5,274.7 598.8,274.7 599.1,274.6 599.4,274.6 599.7,274.6 600.0,274.6 600.3,274.6 600.6,274.6 600.9,274.6 601.2,274.6 601.5,274.6 601.8,274.6 602.1,274.6 602.4,274.6 602.7,274.6 603.0,274.6 603.3,274.6 603.6,274.6 603.9,274.6 604.2,274.5 604.5,274.5 604.7,274.5 605.0,274.5 605.3,274.5 605.6,274.5 605.9,274.5 606.2,274.5 606.5,274.5 606.8,274.5 607.1,274.5 607.4,274.5 607.7,274.5 608.0,274.5 608.3,274.5 608.6,274.4 608.9,274.4 609.2,274.4 609.5,274.4 609.8,274.4 610.1,274.4 610.4,274.4 610.7,274.4 611.0,274.4 611.3,274.4 611.6,274.4 611.9,274.4 612.2,274.4 612.4,274.3 612.7,274.3 613.0,274.3 613.3,274.3 613.6,274.3 613.9,274.3 614.2,274.3 614.5,274.3 614.8,274.3 615.1,274.3 615.4,274.2 615.7,274.2 616.0,274.2 616.3,274.2 616.6,274.2 616.9,274.2 617.2,274.2 617.5,274.2 617.8,274.2 618.1,274.2 618.4,274.1 618.7,274.1 619.0,274.1 619.3,274.1 619.6,274.1 619.9,274.1 620.1,274.1 620.4,274.1 620.7,274.0 621.0,274.0 621.3,274.0 621.6,274.0 621.9,274.0 622.2,274.0 622.5,273.9 622.8,273.9 623.1,273.9 623.4,273.9 623.7,273.9 624.0,273.9 624.3,273.8 624.6,273.8 624.9,273.8 625.2,273.8 625.5,273.7 625.8,273.7 626.1,273.7 626.4,273.7 626.7,273.6 627.0,273.6 627.3,273.6 627.6,273.5 627.9,273.5 628.1,273.5 628.4,273.4 628.7,273.4 629.0,273.3 629.3,273.3 629.6,273.2 629.9,273.2 630.2,273.1 630.5,273.1 630.8,273.0 631.1,272.9 631.4,272.8 631.7,272.7 632.0,272.6 632.3,272.5 632.6,272.3 632.9,272.2 633.2,272.0 633.5,271.8 633.8,271.6 634.1,271.3 634.4,271.0 634.7,270.6 635.0,270.2 635.3,269.6 635.6,269.0 635.8,268.2 636.1,267.2 636.4,266.0 636.7,264.4 637.0,262.4 637.3,259.8 637.6,256.5 637.9,252.3 638.2,247.4 638.5,242.2 638.8,238.0 639.1,236.3 639.4,237.9 639.7,242.2 640.0,247.3 640.3,252.2 640.6,256.4 640.9,259.7 641.2,262.2 641.5,264.2 641.8,265.7 642.1,267.0 642.4,267.9 642.7,268.7 643.0,269.3 643.3,269.8 643.5,270.2 643.8,270.5 644.1,270.8 644.4,271.0 644.7,271.2 645.0,271.4 645.3,271.5 645.6,271.6 645.9,271.7 646.2,271.8 646.5,271.9 646.8,271.9 647.1,271.9 647.4,271.9 647.7,271.9 648.0,271.9 648.3,271.9 648.6,271.9 648.9,271.8 649.2,271.8 649.5,271.7 649.8,271.6 650.1,271.4 650.4,271.3 650.7,271.1 651.0,270.9 651.3,270.6 651.5,270.3 651.8,270.0 652.1,269.6 652.4,269.0 652.7,268.4 653.0,267.6 653.3,266.7 653.6,265.5 653.9,263.9 654.2,262.0 654.5,259.6 654.8,256.5 655.1,252.8 655.4,248.4 655.7,243.8 656.0,239.8 656.3,237.8 656.6,238.5 656.9,241.7 657.2,246.1 657.5,250.7 657.8,254.8 658.1,258.3 658.4,261.0 658.7,263.2 659.0,264.9 659.2,266.3 659.5,267.4 659.8,268.3 660.1,269.0 660.4,269.6 660.7,270.2 661.0,270.6 661.3,270.9 661.6,271.2 661.9,271.5 662.2,271.7 662.5,271.9 662.8,272.1 663.1,272.3 663.4,272.4 663.7,272.5 664.0,272.6 664.3,272.8 664.6,272.8 664.9,272.9 665.2,273.0 665.5,273.1 665.8,273.1 666.1,273.2 666.4,273.3 666.7,273.3 666.9,273.3 667.2,273.4 667.5,273.4 667.8,273.5 668.1,273.5 668.4,273.5 668.7,273.6 669.0,273.6 669.3,273.6 669.6,273.7 669.9,273.7 670.2,273.7 670.5,273.7 670.8,273.8 671.1,273.8 671.4,273.8 671.7,273.8 672.0,273.9 672.3,273.9 672.6,273.9 672.9,273.9 673.2,273.9 673.5,273.9 673.8,274.0 674.1,274.0 674.4,274.0 674.7,274.0 674.9,274.0" fill="none" stroke="#111" stroke-width="1.3" clip-path="url(#clipE)" stroke-linejoin="round"/>
<polyline points="502.9,319.6 503.2,319.6 503.4,319.6 503.7,319.6 504.0,319.6 504.3,319.6 504.6,319.6 504.9,319.6 505.2,319.6 505.5,319.6 505.8,319.6 506.1,319.6 506.4,319.6 506.7,319.6 507.0,319.6 507.3,319.6 507.6,319.6 507.9,319.6 508.2,319.6 508.5,319.6 508.8,319.5 509.1,319.5 509.4,319.5 509.7,319.5 510.0,319.5 510.3,319.5 510.6,319.5 510.9,319.5 511.1,319.5 511.4,319.5 511.7,319.5 512.0,319.5 512.3,319.5 512.6,319.5 512.9,319.5 513.2,319.5 513.5,319.5 513.8,319.5 514.1,319.5 514.4,319.5 514.7,319.5 515.0,319.5 515.3,319.5 515.6,319.5 515.9,319.5 516.2,319.5 516.5,319.5 516.8,319.5 517.1,319.5 517.4,319.5 517.7,319.5 518.0,319.5 518.3,319.5 518.6,319.5 518.8,319.5 519.1,319.5 519.4,319.5 519.7,319.5 520.0,319.4 520.3,319.4 520.6,319.4 520.9,319.4 521.2,319.4 521.5,319.4 521.8,319.4 522.1,319.4 522.4,319.4 522.7,319.4 523.0,319.4 523.3,319.3 523.6,319.3 523.9,319.3 524.2,319.3 524.5,319.3 524.8,319.3 525.1,319.2 525.4,319.2 525.7,319.2 526.0,319.2 526.3,319.1 526.6,319.1 526.8,319.1 527.1,319.0 527.4,319.0 527.7,318.9 528.0,318.8 528.3,318.8 528.6,318.7 528.9,318.6 529.2,318.4 529.5,318.3 529.8,318.1 530.1,317.9 530.4,317.7 530.7,317.3 531.0,316.9 531.3,316.4 531.6,315.8 531.9,314.9 532.2,313.8 532.5,312.4 532.8,310.7 533.1,308.7 533.4,306.8 533.7,305.5 534.0,305.5 534.3,306.7 534.5,308.6 534.8,310.5 535.1,312.2 535.4,313.5 535.7,314.5 536.0,315.2 536.3,315.7 536.6,316.1 536.9,316.4 537.2,316.6 537.5,316.8 537.8,317.0 538.1,317.2 538.4,317.5 538.7,317.7 539.0,317.9 539.3,318.1 539.6,318.3 539.9,318.4 540.2,318.6 540.5,318.7 540.8,318.8 541.1,318.8 541.4,318.9 541.7,319.0 542.0,319.0 542.2,319.1 542.5,319.1 542.8,319.1 543.1,319.2 543.4,319.2 543.7,319.2 544.0,319.2 544.3,319.3 544.6,319.3 544.9,319.3 545.2,319.3 545.5,319.3 545.8,319.3 546.1,319.3 546.4,319.3 546.7,319.4 547.0,319.4 547.3,319.4 547.6,319.4 547.9,319.4 548.2,319.4 548.5,319.4 548.8,319.4 549.1,319.4 549.4,319.4 549.7,319.4 550.0,319.4 550.2,319.4 550.5,319.4 550.8,319.4 551.1,319.4 551.4,319.4 551.7,319.4 552.0,319.4 552.3,319.4 552.6,319.4 552.9,319.4 553.2,319.4 553.5,319.4 553.8,319.4 554.1,319.4 554.4,319.4 554.7,319.4 555.0,319.4 555.3,319.4 555.6,319.4 555.9,319.4 556.2,319.4 556.5,319.4 556.8,319.4 557.1,319.4 557.4,319.4 557.7,319.4 557.9,319.4 558.2,319.3 558.5,319.3 558.8,319.3 559.1,319.3 559.4,319.3 559.7,319.3 560.0,319.3 560.3,319.3 560.6,319.3 560.9,319.2 561.2,319.2 561.5,319.2 561.8,319.2 562.1,319.2 562.4,319.2 562.7,319.1 563.0,319.1 563.3,319.1 563.6,319.1 563.9,319.1 564.2,319.1 564.5,319.0 564.8,319.0 565.1,319.0 565.4,319.0 565.6,319.0 565.9,319.0 566.2,319.0 566.5,319.0 566.8,319.0 567.1,319.0 567.4,319.0 567.7,319.0 568.0,319.0 568.3,319.0 568.6,319.0 568.9,319.1 569.2,319.1 569.5,319.1 569.8,319.1 570.1,319.1 570.4,319.2 570.7,319.2 571.0,319.2 571.3,319.2 571.6,319.2 571.9,319.2 572.2,319.3 572.5,319.3 572.8,319.3 573.1,319.3 573.4,319.3 573.6,319.3 573.9,319.3 574.2,319.4 574.5,319.4 574.8,319.4 575.1,319.4 575.4,319.4 575.7,319.4 576.0,319.4 576.3,319.4 576.6,319.4 576.9,319.4 577.2,319.4 577.5,319.4 577.8,319.5 578.1,319.5 578.4,319.5 578.7,319.5 579.0,319.5 579.3,319.5 579.6,319.5 579.9,319.5 580.2,319.5 580.5,319.5 580.8,319.5 581.1,319.5 581.3,319.5 581.6,319.5 581.9,319.5 582.2,319.5 582.5,319.5 582.8,319.5 583.1,319.5 583.4,319.5 583.7,319.5 584.0,319.5 584.3,319.5 584.6,319.5 584.9,319.5 585.2,319.5 585.5,319.5 585.8,319.5 586.1,319.5 586.4,319.5 586.7,319.5 587.0,319.5 587.3,319.5 587.6,319.5 587.9,319.5 588.2,319.5 588.5,319.5 588.8,319.6 589.0,319.6 589.3,319.6 589.6,319.6 589.9,319.6 590.2,319.6 590.5,319.6 590.8,319.6 591.1,319.6 591.4,319.6 591.7,319.6 592.0,319.6 592.3,319.6 592.6,319.6 592.9,319.6 593.2,319.6 593.5,319.6 593.8,319.6 594.1,319.6 594.4,319.6 594.7,319.6 595.0,319.6 595.3,319.6 595.6,319.6 595.9,319.6 596.2,319.6 596.5,319.6 596.7,319.6 597.0,319.6 597.3,319.6 597.6,319.6 597.9,319.6 598.2,319.6 598.5,319.6 598.8,319.6 599.1,319.6 599.4,319.6 599.7,319.6 600.0,319.6 600.3,319.6 600.6,319.6 600.9,319.6 601.2,319.6 601.5,319.6 601.8,319.6 602.1,319.6 602.4,319.6 602.7,319.6 603.0,319.6 603.3,319.6 603.6,319.6 603.9,319.6 604.2,319.6 604.5,319.6 604.7,319.6 605.0,319.6 605.3,319.6 605.6,319.6 605.9,319.6 606.2,319.6 606.5,319.6 606.8,319.6 607.1,319.6 607.4,319.6 607.7,319.6 608.0,319.6 608.3,319.6 608.6,319.6 608.9,319.6 609.2,319.6 609.5,319.6 609.8,319.6 610.1,319.6 610.4,319.6 610.7,319.6 611.0,319.6 611.3,319.6 611.6,319.6 611.9,319.6 612.2,319.6 612.4,319.6 612.7,319.6 613.0,319.6 613.3,319.6 613.6,319.6 613.9,319.6 614.2,319.6 614.5,319.6 614.8,319.6 615.1,319.6 615.4,319.6 615.7,319.6 616.0,319.6 616.3,319.6 616.6,319.6 616.9,319.6 617.2,319.6 617.5,319.6 617.8,319.6 618.1,319.6 618.4,319.6 618.7,319.6 619.0,319.6 619.3,319.6 619.6,319.6 619.9,319.6 620.1,319.6 620.4,319.6 620.7,319.6 621.0,319.6 621.3,319.6 621.6,319.6 621.9,319.6 622.2,319.6 622.5,319.6 622.8,319.6 623.1,319.6 623.4,319.6 623.7,319.6 624.0,319.6 624.3,319.6 624.6,319.6 624.9,319.6 625.2,319.6 625.5,319.6 625.8,319.6 626.1,319.6 626.4,319.6 626.7,319.6 627.0,319.6 627.3,319.6 627.6,319.6 627.9,319.6 628.1,319.6 628.4,319.6 628.7,319.6 629.0,319.6 629.3,319.6 629.6,319.6 629.9,319.6 630.2,319.6 630.5,319.6 630.8,319.6 631.1,319.6 631.4,319.6 631.7,319.6 632.0,319.6 632.3,319.6 632.6,319.6 632.9,319.6 633.2,319.6 633.5,319.6 633.8,319.6 634.1,319.6 634.4,319.6 634.7,319.6 635.0,319.6 635.3,319.6 635.6,319.6 635.8,319.6 636.1,319.6 636.4,319.6 636.7,319.6 637.0,319.6 637.3,319.6 637.6,319.6 637.9,319.6 638.2,319.6 638.5,319.6 638.8,319.6 639.1,319.6 639.4,319.6 639.7,319.6 640.0,319.6 640.3,319.6 640.6,319.6 640.9,319.6 641.2,319.6 641.5,319.6 641.8,319.6 642.1,319.6 642.4,319.6 642.7,319.6 643.0,319.6 643.3,319.6 643.5,319.6 643.8,319.6 644.1,319.6 644.4,319.6 644.7,319.6 645.0,319.6 645.3,319.6 645.6,319.6 645.9,319.6 646.2,319.6 646.5,319.6 646.8,319.6 647.1,319.6 647.4,319.6 647.7,319.6 648.0,319.6 648.3,319.6 648.6,319.6 648.9,319.6 649.2,319.6 649.5,319.6 649.8,319.6 650.1,319.6 650.4,319.6 650.7,319.6 651.0,319.6 651.3,319.6 651.5,319.6 651.8,319.6 652.1,319.6 652.4,319.6 652.7,319.6 653.0,319.6 653.3,319.6 653.6,319.6 653.9,319.6 654.2,319.6 654.5,319.6 654.8,319.6 655.1,319.6 655.4,319.6 655.7,319.6 656.0,319.6 656.3,319.6 656.6,319.6 656.9,319.6 657.2,319.6 657.5,319.6 657.8,319.6 658.1,319.6 658.4,319.6 658.7,319.6 659.0,319.6 659.2,319.6 659.5,319.6 659.8,319.6 660.1,319.6 660.4,319.6 660.7,319.6 661.0,319.6 661.3,319.6 661.6,319.6 661.9,319.6 662.2,319.6 662.5,319.6 662.8,319.6 663.1,319.6 663.4,319.6 663.7,319.6 664.0,319.6 664.3,319.6 664.6,319.6 664.9,319.6 665.2,319.6 665.5,319.6 665.8,319.6 666.1,319.6 666.4,319.6 666.7,319.6 666.9,319.6 667.2,319.6 667.5,319.6 667.8,319.6 668.1,319.6 668.4,319.6 668.7,319.6 669.0,319.6 669.3,319.6 669.6,319.6 669.9,319.6 670.2,319.6 670.5,319.6 670.8,319.6 671.1,319.6 671.4,319.6 671.7,319.6 672.0,319.6 672.3,319.6 672.6,319.6 672.9,319.6 673.2,319.6 673.5,319.6 673.8,319.6 674.1,319.6 674.4,319.6 674.7,319.6 674.9,319.6" fill="none" stroke="#f41c1c" stroke-width="1.3" clip-path="url(#clipE)" stroke-linejoin="round"/>
<polyline points="502.9,364.6 503.2,364.6 503.4,364.6 503.7,364.6 504.0,364.6 504.3,364.6 504.6,364.6 504.9,364.6 505.2,364.6 505.5,364.6 505.8,364.6 506.1,364.6 506.4,364.6 506.7,364.6 507.0,364.6 507.3,364.6 507.6,364.6 507.9,364.6 508.2,364.6 508.5,364.6 508.8,364.6 509.1,364.6 509.4,364.6 509.7,364.6 510.0,364.6 510.3,364.6 510.6,364.6 510.9,364.6 511.1,364.6 511.4,364.6 511.7,364.6 512.0,364.6 512.3,364.6 512.6,364.6 512.9,364.6 513.2,364.6 513.5,364.6 513.8,364.6 514.1,364.6 514.4,364.6 514.7,364.6 515.0,364.6 515.3,364.6 515.6,364.6 515.9,364.6 516.2,364.6 516.5,364.6 516.8,364.6 517.1,364.6 517.4,364.6 517.7,364.6 518.0,364.6 518.3,364.6 518.6,364.6 518.8,364.6 519.1,364.6 519.4,364.6 519.7,364.6 520.0,364.6 520.3,364.6 520.6,364.6 520.9,364.6 521.2,364.6 521.5,364.6 521.8,364.6 522.1,364.6 522.4,364.6 522.7,364.6 523.0,364.6 523.3,364.6 523.6,364.6 523.9,364.6 524.2,364.6 524.5,364.6 524.8,364.6 525.1,364.6 525.4,364.6 525.7,364.6 526.0,364.6 526.3,364.6 526.6,364.6 526.8,364.6 527.1,364.6 527.4,364.6 527.7,364.6 528.0,364.6 528.3,364.6 528.6,364.6 528.9,364.6 529.2,364.6 529.5,364.6 529.8,364.6 530.1,364.6 530.4,364.6 530.7,364.6 531.0,364.6 531.3,364.6 531.6,364.6 531.9,364.6 532.2,364.6 532.5,364.6 532.8,364.6 533.1,364.6 533.4,364.6 533.7,364.6 534.0,364.6 534.3,364.6 534.5,364.6 534.8,364.6 535.1,364.6 535.4,364.6 535.7,364.6 536.0,364.6 536.3,364.6 536.6,364.6 536.9,364.6 537.2,364.6 537.5,364.6 537.8,364.6 538.1,364.6 538.4,364.6 538.7,364.6 539.0,364.6 539.3,364.6 539.6,364.6 539.9,364.6 540.2,364.6 540.5,364.6 540.8,364.6 541.1,364.6 541.4,364.6 541.7,364.6 542.0,364.6 542.2,364.6 542.5,364.6 542.8,364.6 543.1,364.6 543.4,364.6 543.7,364.6 544.0,364.6 544.3,364.6 544.6,364.6 544.9,364.6 545.2,364.6 545.5,364.6 545.8,364.6 546.1,364.6 546.4,364.6 546.7,364.6 547.0,364.6 547.3,364.6 547.6,364.6 547.9,364.6 548.2,364.6 548.5,364.6 548.8,364.6 549.1,364.6 549.4,364.6 549.7,364.6 550.0,364.6 550.2,364.6 550.5,364.6 550.8,364.6 551.1,364.6 551.4,364.6 551.7,364.6 552.0,364.6 552.3,364.6 552.6,364.6 552.9,364.6 553.2,364.6 553.5,364.6 553.8,364.6 554.1,364.6 554.4,364.6 554.7,364.6 555.0,364.6 555.3,364.6 555.6,364.6 555.9,364.6 556.2,364.6 556.5,364.6 556.8,364.6 557.1,364.6 557.4,364.6 557.7,364.6 557.9,364.6 558.2,364.6 558.5,364.6 558.8,364.6 559.1,364.6 559.4,364.6 559.7,364.6 560.0,364.6 560.3,364.6 560.6,364.6 560.9,364.6 561.2,364.6 561.5,364.6 561.8,364.6 562.1,364.6 562.4,364.6 562.7,364.6 563.0,364.6 563.3,364.6 563.6,364.6 563.9,364.6 564.2,364.6 564.5,364.6 564.8,364.6 565.1,364.6 565.4,364.6 565.6,364.6 565.9,364.6 566.2,364.6 566.5,364.6 566.8,364.6 567.1,364.6 567.4,364.6 567.7,364.6 568.0,364.6 568.3,364.6 568.6,364.6 568.9,364.6 569.2,364.6 569.5,364.6 569.8,364.6 570.1,364.6 570.4,364.6 570.7,364.6 571.0,364.6 571.3,364.6 571.6,364.6 571.9,364.6 572.2,364.6 572.5,364.6 572.8,364.6 573.1,364.6 573.4,364.6 573.6,364.6 573.9,364.6 574.2,364.6 574.5,364.6 574.8,364.6 575.1,364.6 575.4,364.6 575.7,364.6 576.0,364.6 576.3,364.6 576.6,364.6 576.9,364.6 577.2,364.6 577.5,364.6 577.8,364.6 578.1,364.6 578.4,364.6 578.7,364.6 579.0,364.6 579.3,364.6 579.6,364.6 579.9,364.6 580.2,364.6 580.5,364.6 580.8,364.6 581.1,364.6 581.3,364.6 581.6,364.6 581.9,364.6 582.2,364.6 582.5,364.6 582.8,364.6 583.1,364.6 583.4,364.6 583.7,364.6 584.0,364.6 584.3,364.6 584.6,364.6 584.9,364.6 585.2,364.6 585.5,364.6 585.8,364.6 586.1,364.6 586.4,364.6 586.7,364.6 587.0,364.6 587.3,364.6 587.6,364.6 587.9,364.6 588.2,364.6 588.5,364.6 588.8,364.6 589.0,364.6 589.3,364.6 589.6,364.6 589.9,364.6 590.2,364.6 590.5,364.6 590.8,364.6 591.1,364.6 591.4,364.6 591.7,364.5 592.0,364.5 592.3,364.5 592.6,364.5 592.9,364.5 593.2,364.5 593.5,364.5 593.8,364.5 594.1,364.5 594.4,364.5 594.7,364.5 595.0,364.5 595.3,364.5 595.6,364.5 595.9,364.5 596.2,364.5 596.5,364.5 596.7,364.5 597.0,364.5 597.3,364.5 597.6,364.5 597.9,364.5 598.2,364.5 598.5,364.5 598.8,364.5 599.1,364.5 599.4,364.5 599.7,364.5 600.0,364.5 600.3,364.5 600.6,364.5 600.9,364.5 601.2,364.5 601.5,364.5 601.8,364.5 602.1,364.5 602.4,364.5 602.7,364.5 603.0,364.5 603.3,364.5 603.6,364.5 603.9,364.5 604.2,364.5 604.5,364.5 604.7,364.5 605.0,364.5 605.3,364.5 605.6,364.5 605.9,364.5 606.2,364.5 606.5,364.5 606.8,364.5 607.1,364.5 607.4,364.5 607.7,364.5 608.0,364.5 608.3,364.5 608.6,364.5 608.9,364.5 609.2,364.5 609.5,364.5 609.8,364.5 610.1,364.5 610.4,364.5 610.7,364.5 611.0,364.5 611.3,364.5 611.6,364.5 611.9,364.5 612.2,364.5 612.4,364.5 612.7,364.5 613.0,364.5 613.3,364.4 613.6,364.4 613.9,364.4 614.2,364.4 614.5,364.4 614.8,364.4 615.1,364.4 615.4,364.4 615.7,364.4 616.0,364.4 616.3,364.4 616.6,364.4 616.9,364.4 617.2,364.4 617.5,364.4 617.8,364.4 618.1,364.4 618.4,364.4 618.7,364.4 619.0,364.4 619.3,364.4 619.6,364.4 619.9,364.3 620.1,364.3 620.4,364.3 620.7,364.3 621.0,364.3 621.3,364.3 621.6,364.3 621.9,364.3 622.2,364.3 622.5,364.3 622.8,364.3 623.1,364.2 623.4,364.2 623.7,364.2 624.0,364.2 624.3,364.2 624.6,364.2 624.9,364.2 625.2,364.1 625.5,364.1 625.8,364.1 626.1,364.1 626.4,364.1 626.7,364.0 627.0,364.0 627.3,364.0 627.6,364.0 627.9,363.9 628.1,363.9 628.4,363.9 628.7,363.8 629.0,363.8 629.3,363.7 629.6,363.7 629.9,363.6 630.2,363.6 630.5,363.5 630.8,363.5 631.1,363.4 631.4,363.3 631.7,363.2 632.0,363.1 632.3,363.0 632.6,362.8 632.9,362.7 633.2,362.5 633.5,362.3 633.8,362.0 634.1,361.8 634.4,361.5 634.7,361.1 635.0,360.6 635.3,360.1 635.6,359.4 635.8,358.6 636.1,357.6 636.4,356.3 636.7,354.7 637.0,352.6 637.3,349.9 637.6,346.5 637.9,342.2 638.2,337.1 638.5,331.7 638.8,327.3 639.1,325.5 639.4,327.3 639.7,331.6 640.0,337.0 640.3,342.1 640.6,346.4 640.9,349.8 641.2,352.5 641.5,354.5 641.8,356.1 642.1,357.4 642.4,358.4 642.7,359.2 643.0,359.8 643.3,360.3 643.5,360.8 643.8,361.1 644.1,361.4 644.4,361.7 644.7,361.9 645.0,362.0 645.3,362.2 645.6,362.3 645.9,362.4 646.2,362.5 646.5,362.6 646.8,362.6 647.1,362.6 647.4,362.6 647.7,362.7 648.0,362.6 648.3,362.6 648.6,362.6 648.9,362.5 649.2,362.5 649.5,362.4 649.8,362.3 650.1,362.2 650.4,362.0 650.7,361.9 651.0,361.7 651.3,361.4 651.5,361.1 651.8,360.8 652.1,360.4 652.4,359.9 652.7,359.3 653.0,358.5 653.3,357.6 653.6,356.4 653.9,355.0 654.2,353.1 654.5,350.8 654.8,347.9 655.1,344.2 655.4,340.0 655.7,335.6 656.0,331.8 656.3,329.8 656.6,330.5 656.9,333.5 657.2,337.8 657.5,342.2 657.8,346.2 658.1,349.5 658.4,352.1 658.7,354.2 659.0,355.9 659.2,357.2 659.5,358.3 659.8,359.1 660.1,359.8 660.4,360.4 660.7,360.9 661.0,361.3 661.3,361.6 661.6,361.9 661.9,362.2 662.2,362.4 662.5,362.6 662.8,362.7 663.1,362.9 663.4,363.0 663.7,363.1 664.0,363.2 664.3,363.3 664.6,363.4 664.9,363.5 665.2,363.5 665.5,363.6 665.8,363.7 666.1,363.7 666.4,363.8 666.7,363.8 666.9,363.8 667.2,363.9 667.5,363.9 667.8,363.9 668.1,364.0 668.4,364.0 668.7,364.0 669.0,364.1 669.3,364.1 669.6,364.1 669.9,364.1 670.2,364.1 670.5,364.2 670.8,364.2 671.1,364.2 671.4,364.2 671.7,364.2 672.0,364.2 672.3,364.2 672.6,364.2 672.9,364.3 673.2,364.3 673.5,364.3 673.8,364.3 674.1,364.3 674.4,364.3 674.7,364.3 674.9,364.3" fill="none" stroke="#1cc81c" stroke-width="1.3" clip-path="url(#clipE)" stroke-linejoin="round"/>
<line x1="507.6" y1="235.2" x2="530.6" y2="235.2" stroke="#111" stroke-width="1.3"/>
<text x="531.7" y="239.0" font-size="10.3" fill="#000" text-anchor="start" font-weight="normal" >MoSe<tspan dy="2.6" font-size="68%">2</tspan><tspan dy="-2.6" font-size="1%">&#8203;</tspan>/MoS<tspan dy="2.6" font-size="68%">2</tspan><tspan dy="-2.6" font-size="1%">&#8203;</tspan></text>
<line x1="507.6" y1="291.5" x2="530.6" y2="291.5" stroke="#f41c1c" stroke-width="1.3"/>
<text x="533.2" y="295.3" font-size="10.3" fill="#000" text-anchor="start" font-weight="normal" >MoSe<tspan dy="2.6" font-size="68%">2</tspan><tspan dy="-2.6" font-size="1%">&#8203;</tspan></text>
<line x1="507.6" y1="339.0" x2="530.6" y2="339.0" stroke="#1cc81c" stroke-width="1.3"/>
<text x="533.2" y="342.8" font-size="10.3" fill="#000" text-anchor="start" font-weight="normal" >MoS<tspan dy="2.6" font-size="68%">2</tspan><tspan dy="-2.6" font-size="1%">&#8203;</tspan></text>
<text x="538.8" y="262.5" font-size="12" fill="#9a9a9a" font-style="italic" font-family='"Liberation Serif", "Times New Roman", serif'>A<tspan dy="2.2" dx="1.2" font-size="7.2" font-style="normal" font-family='"Liberation Sans", Arial, sans-serif' fill="#2a2a2a">1g,Se</tspan></text>
<text x="615.4" y="237.3" font-size="12" fill="#9a9a9a" font-style="italic" font-family='"Liberation Serif", "Times New Roman", serif'>E<tspan dy="2.2" dx="1.2" font-size="7.2" font-style="normal" font-family='"Liberation Sans", Arial, sans-serif' fill="#2a2a2a">2g,S</tspan></text>
<text x="650.5" y="237.3" font-size="12" fill="#9a9a9a" font-style="italic" font-family='"Liberation Serif", "Times New Roman", serif'>A<tspan dy="2.2" dx="1.2" font-size="7.2" font-style="normal" font-family='"Liberation Sans", Arial, sans-serif' fill="#2a2a2a">1g,S</tspan></text>
<g transform="translate(491.5,299) rotate(-90)"><text x="0.0" y="0.0" font-size="12.4" fill="#000" text-anchor="middle" font-weight="bold" >Raman intensity (a.u.)</text></g>
<text x="592.2" y="404.0" font-size="12.2" fill="#000" text-anchor="middle" font-weight="bold" >Raman shift (cm<tspan dy="-4.0" font-size="62%">-1</tspan><tspan dy="4.0" font-size="1%">&#8203;</tspan>)</text>
<text x="479.6" y="228.6" font-size="18.6" fill="#000" text-anchor="start" font-weight="bold" >e</text>
<rect x="46.3" y="426.5" width="170.3" height="150.54999999999995" fill="#fff" stroke="#666" stroke-width="0.95"/>
<defs><clipPath id="clipF"><rect x="46.3" y="426.5" width="170.3" height="150.54999999999995"/></clipPath></defs>
<line x1="46.3" y1="442.4" x2="50.8" y2="442.4" stroke="#000" stroke-width="0.8"/>
<text transform="translate(42.3,447.0) scale(0.915,1)" font-size="12.9" text-anchor="end">10<tspan dy="-4.9" font-size="8.3">-7</tspan></text>
<line x1="46.3" y1="464.8" x2="50.8" y2="464.8" stroke="#000" stroke-width="0.8"/>
<text transform="translate(42.3,469.4) scale(0.915,1)" font-size="12.9" text-anchor="end">10<tspan dy="-4.9" font-size="8.3">-8</tspan></text>
<line x1="46.3" y1="487.3" x2="50.8" y2="487.3" stroke="#000" stroke-width="0.8"/>
<text transform="translate(42.3,491.9) scale(0.915,1)" font-size="12.9" text-anchor="end">10<tspan dy="-4.9" font-size="8.3">-9</tspan></text>
<line x1="46.3" y1="509.7" x2="50.8" y2="509.7" stroke="#000" stroke-width="0.8"/>
<text transform="translate(42.3,514.3) scale(0.915,1)" font-size="12.9" text-anchor="end">10<tspan dy="-4.9" font-size="8.3">-10</tspan></text>
<line x1="46.3" y1="532.2" x2="50.8" y2="532.2" stroke="#000" stroke-width="0.8"/>
<text transform="translate(42.3,536.8) scale(0.915,1)" font-size="12.9" text-anchor="end">10<tspan dy="-4.9" font-size="8.3">-11</tspan></text>
<line x1="46.3" y1="554.6" x2="50.8" y2="554.6" stroke="#000" stroke-width="0.8"/>
<text transform="translate(42.3,559.2) scale(0.915,1)" font-size="12.9" text-anchor="end">10<tspan dy="-4.9" font-size="8.3">-12</tspan></text>
<line x1="46.3" y1="577.0" x2="50.8" y2="577.0" stroke="#000" stroke-width="0.8"/>
<text transform="translate(42.3,581.6) scale(0.915,1)" font-size="12.9" text-anchor="end">10<tspan dy="-4.9" font-size="8.3">-13</tspan></text>
<line x1="46.3" y1="435.64" x2="48.7" y2="435.64" stroke="#000" stroke-width="0.6"/>
<line x1="46.3" y1="431.69" x2="48.7" y2="431.69" stroke="#000" stroke-width="0.6"/>
<line x1="46.3" y1="428.89" x2="48.7" y2="428.89" stroke="#000" stroke-width="0.6"/>
<line x1="46.3" y1="426.72" x2="48.7" y2="426.72" stroke="#000" stroke-width="0.6"/>
<line x1="46.3" y1="458.08" x2="48.7" y2="458.08" stroke="#000" stroke-width="0.6"/>
<line x1="46.3" y1="454.13" x2="48.7" y2="454.13" stroke="#000" stroke-width="0.6"/>
<line x1="46.3" y1="451.33" x2="48.7" y2="451.33" stroke="#000" stroke-width="0.6"/>
<line x1="46.3" y1="449.16" x2="48.7" y2="449.16" stroke="#000" stroke-width="0.6"/>
<line x1="46.3" y1="447.38" x2="48.7" y2="447.38" stroke="#000" stroke-width="0.6"/>
<line x1="46.3" y1="445.88" x2="48.7" y2="445.88" stroke="#000" stroke-width="0.6"/>
<line x1="46.3" y1="444.57" x2="48.7" y2="444.57" stroke="#000" stroke-width="0.6"/>
<line x1="46.3" y1="443.43" x2="48.7" y2="443.43" stroke="#000" stroke-width="0.6"/>
<line x1="46.3" y1="480.52" x2="48.7" y2="480.52" stroke="#000" stroke-width="0.6"/>
<line x1="46.3" y1="476.57" x2="48.7" y2="476.57" stroke="#000" stroke-width="0.6"/>
<line x1="46.3" y1="473.77" x2="48.7" y2="473.77" stroke="#000" stroke-width="0.6"/>
<line x1="46.3" y1="471.60" x2="48.7" y2="471.60" stroke="#000" stroke-width="0.6"/>
<line x1="46.3" y1="469.82" x2="48.7" y2="469.82" stroke="#000" stroke-width="0.6"/>
<line x1="46.3" y1="468.32" x2="48.7" y2="468.32" stroke="#000" stroke-width="0.6"/>
<line x1="46.3" y1="467.01" x2="48.7" y2="467.01" stroke="#000" stroke-width="0.6"/>
<line x1="46.3" y1="465.87" x2="48.7" y2="465.87" stroke="#000" stroke-width="0.6"/>
<line x1="46.3" y1="502.96" x2="48.7" y2="502.96" stroke="#000" stroke-width="0.6"/>
<line x1="46.3" y1="499.01" x2="48.7" y2="499.01" stroke="#000" stroke-width="0.6"/>
<line x1="46.3" y1="496.21" x2="48.7" y2="496.21" stroke="#000" stroke-width="0.6"/>
<line x1="46.3" y1="494.04" x2="48.7" y2="494.04" stroke="#000" stroke-width="0.6"/>
<line x1="46.3" y1="492.26" x2="48.7" y2="492.26" stroke="#000" stroke-width="0.6"/>
<line x1="46.3" y1="490.76" x2="48.7" y2="490.76" stroke="#000" stroke-width="0.6"/>
<line x1="46.3" y1="489.45" x2="48.7" y2="489.45" stroke="#000" stroke-width="0.6"/>
<line x1="46.3" y1="488.31" x2="48.7" y2="488.31" stroke="#000" stroke-width="0.6"/>
<line x1="46.3" y1="525.40" x2="48.7" y2="525.40" stroke="#000" stroke-width="0.6"/>
<line x1="46.3" y1="521.45" x2="48.7" y2="521.45" stroke="#000" stroke-width="0.6"/>
<line x1="46.3" y1="518.65" x2="48.7" y2="518.65" stroke="#000" stroke-width="0.6"/>
<line x1="46.3" y1="516.48" x2="48.7" y2="516.48" stroke="#000" stroke-width="0.6"/>
<line x1="46.3" y1="514.70" x2="48.7" y2="514.70" stroke="#000" stroke-width="0.6"/>
<line x1="46.3" y1="513.20" x2="48.7" y2="513.20" stroke="#000" stroke-width="0.6"/>
<line x1="46.3" y1="511.89" x2="48.7" y2="511.89" stroke="#000" stroke-width="0.6"/>
<line x1="46.3" y1="510.75" x2="48.7" y2="510.75" stroke="#000" stroke-width="0.6"/>
<line x1="46.3" y1="547.84" x2="48.7" y2="547.84" stroke="#000" stroke-width="0.6"/>
<line x1="46.3" y1="543.89" x2="48.7" y2="543.89" stroke="#000" stroke-width="0.6"/>
<line x1="46.3" y1="541.09" x2="48.7" y2="541.09" stroke="#000" stroke-width="0.6"/>
<line x1="46.3" y1="538.92" x2="48.7" y2="538.92" stroke="#000" stroke-width="0.6"/>
<line x1="46.3" y1="537.14" x2="48.7" y2="537.14" stroke="#000" stroke-width="0.6"/>
<line x1="46.3" y1="535.64" x2="48.7" y2="535.64" stroke="#000" stroke-width="0.6"/>
<line x1="46.3" y1="534.33" x2="48.7" y2="534.33" stroke="#000" stroke-width="0.6"/>
<line x1="46.3" y1="533.19" x2="48.7" y2="533.19" stroke="#000" stroke-width="0.6"/>
<line x1="46.3" y1="570.28" x2="48.7" y2="570.28" stroke="#000" stroke-width="0.6"/>
<line x1="46.3" y1="566.33" x2="48.7" y2="566.33" stroke="#000" stroke-width="0.6"/>
<line x1="46.3" y1="563.53" x2="48.7" y2="563.53" stroke="#000" stroke-width="0.6"/>
<line x1="46.3" y1="561.36" x2="48.7" y2="561.36" stroke="#000" stroke-width="0.6"/>
<line x1="46.3" y1="559.58" x2="48.7" y2="559.58" stroke="#000" stroke-width="0.6"/>
<line x1="46.3" y1="558.08" x2="48.7" y2="558.08" stroke="#000" stroke-width="0.6"/>
<line x1="46.3" y1="556.77" x2="48.7" y2="556.77" stroke="#000" stroke-width="0.6"/>
<line x1="46.3" y1="555.63" x2="48.7" y2="555.63" stroke="#000" stroke-width="0.6"/>
<line x1="46.4" y1="577.0" x2="46.4" y2="572.5" stroke="#000" stroke-width="0.8"/>
<text transform="translate(46.4,591.0) scale(0.915,1)" font-size="13.0" text-anchor="middle">-8</text>
<line x1="57.0" y1="577.0" x2="57.0" y2="574.6" stroke="#000" stroke-width="0.6"/>
<line x1="67.7" y1="577.0" x2="67.7" y2="572.5" stroke="#000" stroke-width="0.8"/>
<text transform="translate(67.7,591.0) scale(0.915,1)" font-size="13.0" text-anchor="middle">-6</text>
<line x1="78.3" y1="577.0" x2="78.3" y2="574.6" stroke="#000" stroke-width="0.6"/>
<line x1="88.9" y1="577.0" x2="88.9" y2="572.5" stroke="#000" stroke-width="0.8"/>
<text transform="translate(88.9,591.0) scale(0.915,1)" font-size="13.0" text-anchor="middle">-4</text>
<line x1="99.5" y1="577.0" x2="99.5" y2="574.6" stroke="#000" stroke-width="0.6"/>
<line x1="110.2" y1="577.0" x2="110.2" y2="572.5" stroke="#000" stroke-width="0.8"/>
<text transform="translate(110.2,591.0) scale(0.915,1)" font-size="13.0" text-anchor="middle">-2</text>
<line x1="120.8" y1="577.0" x2="120.8" y2="574.6" stroke="#000" stroke-width="0.6"/>
<line x1="131.4" y1="577.0" x2="131.4" y2="572.5" stroke="#000" stroke-width="0.8"/>
<text transform="translate(131.4,591.0) scale(0.915,1)" font-size="13.0" text-anchor="middle">0</text>
<line x1="142.0" y1="577.0" x2="142.0" y2="574.6" stroke="#000" stroke-width="0.6"/>
<line x1="152.7" y1="577.0" x2="152.7" y2="572.5" stroke="#000" stroke-width="0.8"/>
<text transform="translate(152.7,591.0) scale(0.915,1)" font-size="13.0" text-anchor="middle">2</text>
<line x1="163.3" y1="577.0" x2="163.3" y2="574.6" stroke="#000" stroke-width="0.6"/>
<line x1="173.9" y1="577.0" x2="173.9" y2="572.5" stroke="#000" stroke-width="0.8"/>
<text transform="translate(173.9,591.0) scale(0.915,1)" font-size="13.0" text-anchor="middle">4</text>
<line x1="184.5" y1="577.0" x2="184.5" y2="574.6" stroke="#000" stroke-width="0.6"/>
<line x1="195.2" y1="577.0" x2="195.2" y2="572.5" stroke="#000" stroke-width="0.8"/>
<text transform="translate(195.2,591.0) scale(0.915,1)" font-size="13.0" text-anchor="middle">6</text>
<line x1="205.8" y1="577.0" x2="205.8" y2="574.6" stroke="#000" stroke-width="0.6"/>
<line x1="216.4" y1="577.0" x2="216.4" y2="572.5" stroke="#000" stroke-width="0.8"/>
<text transform="translate(216.4,591.0) scale(0.915,1)" font-size="13.0" text-anchor="middle">8</text>
<path d="M57.02,550.71 C57.25,550.65 58.24,550.16 58.68,550.22 C59.12,550.28 59.89,551.05 60.33,551.17 C60.77,551.30 61.54,551.16 61.98,551.15 C62.42,551.14 63.20,551.11 63.64,551.07 C64.08,551.04 64.85,550.97 65.29,550.90 C65.73,550.83 66.50,550.57 66.94,550.52 C67.38,550.47 68.15,550.52 68.59,550.52 C69.04,550.52 69.81,550.59 70.25,550.52 C70.69,550.44 71.46,550.08 71.90,549.96 C72.34,549.85 73.11,549.61 73.55,549.64 C73.99,549.67 74.76,550.11 75.21,550.21 C75.65,550.32 76.42,550.33 76.86,550.42 C77.30,550.51 78.07,550.82 78.51,550.89 C78.95,550.95 79.72,550.88 80.16,550.92 C80.60,550.97 81.38,551.14 81.82,551.21 C82.26,551.27 83.03,551.40 83.47,551.44 C83.91,551.48 84.68,551.49 85.12,551.50 C85.56,551.51 86.33,551.56 86.78,551.50 C87.22,551.45 87.99,551.18 88.43,551.10 C88.87,551.02 89.64,550.98 90.08,550.88 C90.52,550.78 91.29,550.34 91.73,550.34 C92.17,550.34 92.95,550.79 93.39,550.85 C93.83,550.91 94.60,550.78 95.04,550.77 C95.48,550.76 96.25,550.70 96.69,550.74 C97.13,550.79 97.90,550.99 98.34,551.08 C98.79,551.17 99.56,551.36 100.00,551.42 C100.44,551.48 101.21,551.45 101.65,551.55 C102.09,551.65 102.86,552.14 103.30,552.19 C103.74,552.23 104.51,551.93 104.96,551.89 C105.40,551.85 106.17,551.98 106.61,551.89 C107.05,551.80 107.82,551.28 108.26,551.21 C108.70,551.14 109.47,551.36 109.91,551.37 C110.35,551.39 111.13,551.36 111.57,551.34 C112.01,551.32 112.78,551.23 113.22,551.23 C113.66,551.22 114.43,551.32 114.87,551.29 C115.31,551.27 116.08,551.03 116.53,551.05 C116.97,551.08 117.74,551.41 118.18,551.46 C118.62,551.52 119.39,551.42 119.83,551.49 C120.27,551.56 121.04,551.87 121.48,551.97 C121.92,552.08 122.70,552.21 123.14,552.29 C123.58,552.37 124.35,552.52 124.79,552.55 C125.23,552.59 126.00,552.61 126.44,552.57 C126.88,552.53 127.65,552.33 128.09,552.24 C128.54,552.15 129.31,552.03 129.75,551.90 C130.19,551.77 130.96,551.39 131.40,551.26 C131.84,551.14 132.61,550.93 133.05,550.97 C133.49,551.01 134.26,551.57 134.71,551.59 C135.15,551.60 135.92,551.11 136.36,551.10 C136.80,551.09 137.57,551.46 138.01,551.51 C138.45,551.56 139.22,551.41 139.66,551.47 C140.10,551.52 140.88,551.83 141.32,551.92 C141.76,552.01 142.53,552.07 142.97,552.12 C143.41,552.16 144.18,552.21 144.62,552.23 C145.06,552.24 145.83,552.16 146.28,552.24 C146.72,552.32 147.49,552.86 147.93,552.83 C148.37,552.81 149.14,552.16 149.58,552.04 C150.02,551.93 150.79,551.93 151.23,551.96 C151.67,551.99 152.45,552.37 152.89,552.28 C153.33,552.19 154.10,551.35 154.54,551.28 C154.98,551.22 155.75,551.78 156.19,551.81 C156.63,551.84 157.40,551.52 157.84,551.51 C158.29,551.49 159.06,551.54 159.50,551.70 C159.94,551.86 160.71,552.50 161.15,552.69 C161.59,552.88 162.36,553.04 162.80,553.13 C163.24,553.21 164.01,553.33 164.46,553.32 C164.90,553.32 165.67,553.09 166.11,553.08 C166.55,553.06 167.32,553.27 167.76,553.20 C168.20,553.13 168.97,552.56 169.41,552.53 C169.85,552.50 170.63,552.98 171.07,552.97 C171.51,552.96 172.28,552.56 172.72,552.45 C173.16,552.35 173.93,552.19 174.37,552.19 C174.81,552.20 175.58,552.51 176.03,552.52 C176.47,552.53 177.24,552.35 177.68,552.27 C178.12,552.19 178.89,551.94 179.33,551.95 C179.77,551.96 180.54,552.27 180.98,552.36 C181.42,552.44 182.20,552.51 182.64,552.59 C183.08,552.67 183.85,552.81 184.29,552.93 C184.73,553.05 185.50,553.36 185.94,553.49 C186.38,553.62 187.15,553.95 187.59,553.91 C188.04,553.87 188.81,553.30 189.25,553.17 C189.69,553.05 190.46,552.99 190.90,552.98 C191.34,552.96 192.11,553.06 192.55,553.05 C192.99,553.04 193.76,552.96 194.21,552.89 C194.65,552.81 195.42,552.59 195.86,552.48 C196.30,552.37 197.07,552.08 197.51,552.09 C197.95,552.10 198.72,552.45 199.16,552.59 C199.60,552.72 200.38,553.08 200.82,553.12 C201.26,553.16 202.03,552.86 202.47,552.88 C202.91,552.91 203.68,553.20 204.12,553.32 C204.56,553.45 205.39,553.53 205.78,553.83 C206.16,554.13 206.97,555.18 206.97,555.60 C206.97,556.02 206.16,556.79 205.78,556.97 C205.39,557.16 204.56,556.97 204.12,556.99 C203.68,557.01 202.91,557.09 202.47,557.13 C202.03,557.16 201.26,557.26 200.82,557.26 C200.38,557.26 199.60,557.17 199.16,557.12 C198.72,557.08 197.95,556.92 197.51,556.93 C197.07,556.93 196.30,557.19 195.86,557.14 C195.42,557.10 194.65,556.66 194.21,556.61 C193.76,556.56 192.99,556.82 192.55,556.78 C192.11,556.73 191.34,556.40 190.90,556.28 C190.46,556.16 189.69,555.89 189.25,555.88 C188.81,555.87 188.04,556.16 187.59,556.19 C187.15,556.21 186.38,556.14 185.94,556.09 C185.50,556.04 184.73,555.88 184.29,555.80 C183.85,555.72 183.08,555.52 182.64,555.49 C182.20,555.47 181.42,555.49 180.98,555.60 C180.54,555.71 179.77,556.19 179.33,556.31 C178.89,556.42 178.12,556.41 177.68,556.45 C177.24,556.48 176.47,556.52 176.03,556.54 C175.58,556.56 174.81,556.56 174.37,556.61 C173.93,556.66 173.16,556.91 172.72,556.91 C172.28,556.92 171.51,556.66 171.07,556.65 C170.63,556.63 169.85,556.83 169.41,556.80 C168.97,556.78 168.20,556.55 167.76,556.46 C167.32,556.36 166.55,556.12 166.11,556.09 C165.67,556.05 164.90,556.22 164.46,556.20 C164.01,556.18 163.24,556.00 162.80,555.93 C162.36,555.86 161.59,555.75 161.15,555.65 C160.71,555.55 159.94,555.29 159.50,555.20 C159.06,555.12 158.29,554.99 157.84,555.02 C157.40,555.04 156.63,555.38 156.19,555.40 C155.75,555.42 154.98,555.20 154.54,555.17 C154.10,555.14 153.33,555.18 152.89,555.20 C152.45,555.23 151.67,555.22 151.23,555.36 C150.79,555.49 150.02,556.12 149.58,556.20 C149.14,556.28 148.37,555.96 147.93,555.96 C147.49,555.96 146.72,556.12 146.28,556.22 C145.83,556.32 145.06,556.63 144.62,556.72 C144.18,556.81 143.41,556.93 142.97,556.90 C142.53,556.87 141.76,556.63 141.32,556.51 C140.88,556.39 140.10,556.07 139.66,556.00 C139.22,555.94 138.45,556.05 138.01,556.03 C137.57,556.01 136.80,556.00 136.36,555.86 C135.92,555.72 135.15,555.09 134.71,554.97 C134.26,554.85 133.49,554.94 133.05,554.96 C132.61,554.97 131.84,555.16 131.40,555.09 C130.96,555.03 130.19,554.57 129.75,554.47 C129.31,554.36 128.54,554.29 128.09,554.30 C127.65,554.31 126.88,554.42 126.44,554.54 C126.00,554.67 125.23,555.18 124.79,555.23 C124.35,555.28 123.58,554.81 123.14,554.90 C122.70,554.99 121.92,555.85 121.48,555.94 C121.04,556.02 120.27,555.51 119.83,555.52 C119.39,555.53 118.62,555.96 118.18,556.03 C117.74,556.10 116.97,556.02 116.53,556.04 C116.08,556.06 115.31,556.23 114.87,556.18 C114.43,556.14 113.66,555.79 113.22,555.69 C112.78,555.59 112.01,555.51 111.57,555.42 C111.13,555.34 110.35,555.12 109.91,555.04 C109.47,554.96 108.70,554.91 108.26,554.86 C107.82,554.81 107.05,554.70 106.61,554.69 C106.17,554.69 105.40,554.88 104.96,554.82 C104.51,554.76 103.74,554.27 103.30,554.23 C102.86,554.19 102.09,554.49 101.65,554.52 C101.21,554.56 100.44,554.48 100.00,554.51 C99.56,554.53 98.79,554.71 98.34,554.72 C97.90,554.73 97.13,554.53 96.69,554.57 C96.25,554.61 95.48,554.97 95.04,554.99 C94.60,555.01 93.83,554.66 93.39,554.76 C92.95,554.85 92.17,555.60 91.73,555.73 C91.29,555.86 90.52,555.70 90.08,555.72 C89.64,555.75 88.87,555.90 88.43,555.90 C87.99,555.91 87.22,555.88 86.78,555.77 C86.33,555.66 85.56,555.11 85.12,555.08 C84.68,555.06 83.91,555.66 83.47,555.59 C83.03,555.51 82.26,554.72 81.82,554.52 C81.38,554.32 80.60,554.13 80.16,554.09 C79.72,554.06 78.95,554.24 78.51,554.27 C78.07,554.29 77.30,554.39 76.86,554.30 C76.42,554.21 75.65,553.74 75.21,553.61 C74.76,553.47 73.99,553.28 73.55,553.26 C73.11,553.25 72.34,553.43 71.90,553.51 C71.46,553.59 70.69,553.75 70.25,553.89 C69.81,554.02 69.04,554.46 68.59,554.50 C68.15,554.54 67.38,554.25 66.94,554.21 C66.50,554.18 65.73,554.18 65.29,554.27 C64.85,554.36 64.08,554.83 63.64,554.90 C63.20,554.97 62.42,554.75 61.98,554.80 C61.54,554.85 60.77,555.28 60.33,555.26 C59.89,555.24 59.12,554.64 58.68,554.64 C58.24,554.64 57.25,555.19 57.02,555.28" fill="none" stroke="#9a9a9a" stroke-width="0.7"/>
<g clip-path="url(#clipF)">
<path d="M56.76,545.00 C57.01,544.22 57.60,541.52 58.24,540.29 C58.87,539.07 59.80,537.79 60.59,537.65 C61.37,537.50 62.16,538.14 62.94,539.41 C63.73,540.69 64.61,543.33 65.29,545.29 C65.98,547.25 66.76,550.20 67.06,551.18" fill="none" stroke="#000" stroke-width="1.1" stroke-linejoin="round"/>
<path d="M67.06,551.18 C67.25,549.90 67.84,546.76 68.24,543.53 C68.63,540.29 69.02,535.44 69.41,531.76 C69.80,528.09 70.21,524.10 70.59,521.47 C70.97,518.84 70.87,519.34 71.71,516.00 C72.54,512.66 74.39,505.60 75.59,501.41 C76.79,497.23 77.83,494.16 78.91,490.88 C80.00,487.61 80.89,484.81 82.09,481.76 C83.28,478.72 84.77,475.31 86.09,472.59 C87.41,469.86 88.48,467.81 90.00,465.41 C91.52,463.01 93.25,460.32 95.21,458.21 C97.17,456.09 99.58,454.12 101.76,452.71 C103.95,451.29 106.12,450.49 108.29,449.71 C110.47,448.92 112.18,448.50 114.79,448.00 C117.41,447.50 120.47,447.07 124.00,446.71 C127.53,446.34 130.39,446.00 136.00,445.79 C141.61,445.58 150.12,445.57 157.65,445.44 C165.18,445.31 172.94,445.22 181.18,445.00 C189.41,444.78 202.75,444.26 207.06,444.12" fill="none" stroke="#000" stroke-width="1.1" stroke-linejoin="round"/>
<path d="M207.06,444.12 C204.71,444.36 197.25,445.10 192.94,445.59 C188.63,446.08 185.10,446.37 181.18,447.06 C177.25,447.75 173.33,448.38 169.41,449.71 C165.49,451.03 161.08,452.79 157.65,455.00 C154.22,457.21 151.52,459.66 148.82,462.94 C146.13,466.23 143.68,470.29 141.47,474.71 C139.26,479.12 137.30,484.31 135.59,489.41 C133.87,494.51 132.40,499.95 131.18,505.29 C129.95,510.64 129.12,516.08 128.24,521.47 C127.35,526.86 126.52,532.50 125.88,537.65 C125.25,542.79 124.80,548.09 124.41,552.35 C124.02,556.62 123.68,561.42 123.53,563.24" fill="none" stroke="#000" stroke-width="1.1" stroke-linejoin="round"/>
<path d="M123.53,563.24 C123.38,561.52 123.01,555.74 122.65,552.94 C122.28,550.15 122.01,548.24 121.32,546.47 C120.64,544.71 119.68,543.31 118.53,542.35 C117.38,541.40 115.88,540.91 114.41,540.74 C112.94,540.56 111.37,540.83 109.71,541.32 C108.04,541.81 105.98,542.62 104.41,543.68 C102.84,544.73 101.50,546.10 100.29,547.65 C99.09,549.19 98.09,550.78 97.21,552.94 C96.32,555.10 95.55,557.84 95.00,560.59 C94.45,563.33 94.16,566.37 93.88,569.41 C93.60,572.45 93.42,577.25 93.32,578.82" fill="none" stroke="#000" stroke-width="1.1" stroke-linejoin="round"/>
<path d="M91.47,578.82 C91.35,576.86 91.08,570.49 90.74,567.06 C90.39,563.63 90.02,561.03 89.41,558.24 C88.80,555.44 88.43,553.04 87.06,550.29 C85.69,547.55 83.63,544.07 81.18,541.76 C78.73,539.46 75.29,537.84 72.35,536.47 C69.41,535.10 66.23,534.41 63.53,533.53 C60.83,532.65 57.40,531.57 56.18,531.18" fill="none" stroke="#000" stroke-width="1.1" stroke-linejoin="round"/>
</g>
<line x1="67.4" y1="507.6" x2="70.7" y2="492" stroke="#000" stroke-width="0.9"/>
<polygon points="72.0,488.0 68.0,493.6 74.3,495.0" fill="#000" />
<line x1="142.9" y1="488.5" x2="140.6" y2="503" stroke="#000" stroke-width="0.9"/>
<polygon points="139.9,507.6 137.0,501.4 143.6,502.4" fill="#000" />
<rect x="117.8" y="452.8" width="5.6" height="5.6" fill="#7d14f0"/>
<rect x="117.8" y="567.3" width="5.6" height="5.6" fill="#000"/>
<text x="105.3" y="466.5" font-size="10.2" fill="#7d14f0" text-anchor="start" font-weight="normal" >Erase</text>
<text x="90.0" y="475.9" font-size="10.2" fill="#000" text-anchor="start" font-weight="normal" >0 V</text>
<text x="89.4" y="487.4" font-size="10.2" fill="#000" text-anchor="start" font-weight="normal" >-7 V</text>
<text x="109.0" y="491.5" font-size="10.2" fill="#000" text-anchor="start" font-weight="normal" >60 &#181;s</text>
<polyline points="112.0,471.5 116.5,471.5 116.5,482.4 121.8,482.4 121.8,471.5 125.9,471.5" fill="none" stroke="#000" stroke-width="0.8" />
<text x="137.6" y="538.8" font-size="10.2" fill="#000" text-anchor="start" font-weight="normal" >Program</text>
<text x="133.5" y="552.6" font-size="10.2" fill="#000" text-anchor="start" font-weight="normal" >7 V</text>
<text x="133.5" y="563.8" font-size="10.2" fill="#000" text-anchor="start" font-weight="normal" >0 V</text>
<text x="146.5" y="568.6" font-size="10.2" fill="#000" text-anchor="start" font-weight="normal" >60 &#181;s</text>
<polyline points="151.2,558.2 155.3,558.2 155.3,548.0 160.6,548.0 160.6,558.2 165.0,558.2" fill="none" stroke="#000" stroke-width="0.8" />
<text x="69.4" y="568.0" font-size="10.2" fill="#000" text-anchor="start" font-weight="normal" >I<tspan dy="2.3" font-size="70%">g</tspan><tspan dy="-2.3" font-size="1%">&#8203;</tspan></text>
<text x="55.7" y="441.0" font-size="10.5" fill="#000" text-anchor="start" font-weight="normal" >V<tspan dy="2.8" font-size="57%">DS</tspan><tspan dy="-2.8" font-size="1%">&#8203;</tspan> = 0.1 V</text>
<text x="131.0" y="606.5" font-size="12.5" fill="#000" text-anchor="middle" font-weight="bold" >V<tspan dy="2.2" font-size="72%">GS</tspan><tspan dy="-2.2" font-size="1%">&#8203;</tspan> (V)</text>
<g transform="translate(10.3,506.4) rotate(-90)"><text x="0.0" y="0.0" font-size="11.9" fill="#000" text-anchor="middle" font-weight="bold" >I<tspan dy="2.2" font-size="72%">D</tspan><tspan dy="-2.2" font-size="1%">&#8203;</tspan> (A)</text></g>
<text x="3.0" y="431.2" font-size="18.6" fill="#000" text-anchor="start" font-weight="bold" >f</text>
<rect x="276.7" y="426.4" width="170.85000000000002" height="150.0" fill="#fff" stroke="#666" stroke-width="0.95"/>
<defs><clipPath id="clipG"><rect x="273.7" y="426.4" width="176.85000000000002" height="150.0"/></clipPath></defs>
<line x1="276.7" y1="426.4" x2="281.2" y2="426.4" stroke="#000" stroke-width="0.8"/>
<text transform="translate(272.5,431.0) scale(0.915,1)" font-size="12.9" text-anchor="end">10<tspan dy="-4.9" font-size="8.3">-7</tspan></text>
<line x1="276.7" y1="451.4" x2="281.2" y2="451.4" stroke="#000" stroke-width="0.8"/>
<text transform="translate(272.5,456.0) scale(0.915,1)" font-size="12.9" text-anchor="end">10<tspan dy="-4.9" font-size="8.3">-8</tspan></text>
<line x1="276.7" y1="476.3" x2="281.2" y2="476.3" stroke="#000" stroke-width="0.8"/>
<text transform="translate(272.5,480.9) scale(0.915,1)" font-size="12.9" text-anchor="end">10<tspan dy="-4.9" font-size="8.3">-9</tspan></text>
<line x1="276.7" y1="501.3" x2="281.2" y2="501.3" stroke="#000" stroke-width="0.8"/>
<text transform="translate(272.5,505.9) scale(0.915,1)" font-size="12.9" text-anchor="end">10<tspan dy="-4.9" font-size="8.3">-10</tspan></text>
<line x1="276.7" y1="526.3" x2="281.2" y2="526.3" stroke="#000" stroke-width="0.8"/>
<text transform="translate(272.5,530.9) scale(0.915,1)" font-size="12.9" text-anchor="end">10<tspan dy="-4.9" font-size="8.3">-11</tspan></text>
<line x1="276.7" y1="551.2" x2="281.2" y2="551.2" stroke="#000" stroke-width="0.8"/>
<text transform="translate(272.5,555.9) scale(0.915,1)" font-size="12.9" text-anchor="end">10<tspan dy="-4.9" font-size="8.3">-12</tspan></text>
<line x1="276.7" y1="576.2" x2="281.2" y2="576.2" stroke="#000" stroke-width="0.8"/>
<text transform="translate(272.5,580.8) scale(0.915,1)" font-size="12.9" text-anchor="end">10<tspan dy="-4.9" font-size="8.3">-13</tspan></text>
<line x1="276.7" y1="443.85" x2="279.1" y2="443.85" stroke="#000" stroke-width="0.6"/>
<line x1="276.7" y1="439.46" x2="279.1" y2="439.46" stroke="#000" stroke-width="0.6"/>
<line x1="276.7" y1="436.34" x2="279.1" y2="436.34" stroke="#000" stroke-width="0.6"/>
<line x1="276.7" y1="433.92" x2="279.1" y2="433.92" stroke="#000" stroke-width="0.6"/>
<line x1="276.7" y1="431.94" x2="279.1" y2="431.94" stroke="#000" stroke-width="0.6"/>
<line x1="276.7" y1="430.27" x2="279.1" y2="430.27" stroke="#000" stroke-width="0.6"/>
<line x1="276.7" y1="428.82" x2="279.1" y2="428.82" stroke="#000" stroke-width="0.6"/>
<line x1="276.7" y1="427.54" x2="279.1" y2="427.54" stroke="#000" stroke-width="0.6"/>
<line x1="276.7" y1="468.82" x2="279.1" y2="468.82" stroke="#000" stroke-width="0.6"/>
<line x1="276.7" y1="464.43" x2="279.1" y2="464.43" stroke="#000" stroke-width="0.6"/>
<line x1="276.7" y1="461.31" x2="279.1" y2="461.31" stroke="#000" stroke-width="0.6"/>
<line x1="276.7" y1="458.89" x2="279.1" y2="458.89" stroke="#000" stroke-width="0.6"/>
<line x1="276.7" y1="456.91" x2="279.1" y2="456.91" stroke="#000" stroke-width="0.6"/>
<line x1="276.7" y1="455.24" x2="279.1" y2="455.24" stroke="#000" stroke-width="0.6"/>
<line x1="276.7" y1="453.79" x2="279.1" y2="453.79" stroke="#000" stroke-width="0.6"/>
<line x1="276.7" y1="452.51" x2="279.1" y2="452.51" stroke="#000" stroke-width="0.6"/>
<line x1="276.7" y1="493.79" x2="279.1" y2="493.79" stroke="#000" stroke-width="0.6"/>
<line x1="276.7" y1="489.40" x2="279.1" y2="489.40" stroke="#000" stroke-width="0.6"/>
<line x1="276.7" y1="486.28" x2="279.1" y2="486.28" stroke="#000" stroke-width="0.6"/>
<line x1="276.7" y1="483.86" x2="279.1" y2="483.86" stroke="#000" stroke-width="0.6"/>
<line x1="276.7" y1="481.88" x2="279.1" y2="481.88" stroke="#000" stroke-width="0.6"/>
<line x1="276.7" y1="480.21" x2="279.1" y2="480.21" stroke="#000" stroke-width="0.6"/>
<line x1="276.7" y1="478.76" x2="279.1" y2="478.76" stroke="#000" stroke-width="0.6"/>
<line x1="276.7" y1="477.48" x2="279.1" y2="477.48" stroke="#000" stroke-width="0.6"/>
<line x1="276.7" y1="518.76" x2="279.1" y2="518.76" stroke="#000" stroke-width="0.6"/>
<line x1="276.7" y1="514.37" x2="279.1" y2="514.37" stroke="#000" stroke-width="0.6"/>
<line x1="276.7" y1="511.25" x2="279.1" y2="511.25" stroke="#000" stroke-width="0.6"/>
<line x1="276.7" y1="508.83" x2="279.1" y2="508.83" stroke="#000" stroke-width="0.6"/>
<line x1="276.7" y1="506.85" x2="279.1" y2="506.85" stroke="#000" stroke-width="0.6"/>
<line x1="276.7" y1="505.18" x2="279.1" y2="505.18" stroke="#000" stroke-width="0.6"/>
<line x1="276.7" y1="503.73" x2="279.1" y2="503.73" stroke="#000" stroke-width="0.6"/>
<line x1="276.7" y1="502.45" x2="279.1" y2="502.45" stroke="#000" stroke-width="0.6"/>
<line x1="276.7" y1="543.73" x2="279.1" y2="543.73" stroke="#000" stroke-width="0.6"/>
<line x1="276.7" y1="539.34" x2="279.1" y2="539.34" stroke="#000" stroke-width="0.6"/>
<line x1="276.7" y1="536.22" x2="279.1" y2="536.22" stroke="#000" stroke-width="0.6"/>
<line x1="276.7" y1="533.80" x2="279.1" y2="533.80" stroke="#000" stroke-width="0.6"/>
<line x1="276.7" y1="531.82" x2="279.1" y2="531.82" stroke="#000" stroke-width="0.6"/>
<line x1="276.7" y1="530.15" x2="279.1" y2="530.15" stroke="#000" stroke-width="0.6"/>
<line x1="276.7" y1="528.70" x2="279.1" y2="528.70" stroke="#000" stroke-width="0.6"/>
<line x1="276.7" y1="527.42" x2="279.1" y2="527.42" stroke="#000" stroke-width="0.6"/>
<line x1="276.7" y1="568.70" x2="279.1" y2="568.70" stroke="#000" stroke-width="0.6"/>
<line x1="276.7" y1="564.31" x2="279.1" y2="564.31" stroke="#000" stroke-width="0.6"/>
<line x1="276.7" y1="561.19" x2="279.1" y2="561.19" stroke="#000" stroke-width="0.6"/>
<line x1="276.7" y1="558.77" x2="279.1" y2="558.77" stroke="#000" stroke-width="0.6"/>
<line x1="276.7" y1="556.79" x2="279.1" y2="556.79" stroke="#000" stroke-width="0.6"/>
<line x1="276.7" y1="555.12" x2="279.1" y2="555.12" stroke="#000" stroke-width="0.6"/>
<line x1="276.7" y1="553.67" x2="279.1" y2="553.67" stroke="#000" stroke-width="0.6"/>
<line x1="276.7" y1="552.39" x2="279.1" y2="552.39" stroke="#000" stroke-width="0.6"/>
<line x1="276.7" y1="576.4" x2="276.7" y2="571.9" stroke="#000" stroke-width="0.8"/>
<text transform="translate(276.7,590.9) scale(0.915,1)" font-size="13.0" text-anchor="middle">0</text>
<line x1="298.0" y1="576.4" x2="298.0" y2="574.0" stroke="#000" stroke-width="0.6"/>
<line x1="319.3" y1="576.4" x2="319.3" y2="571.9" stroke="#000" stroke-width="0.8"/>
<text transform="translate(319.3,590.9) scale(0.915,1)" font-size="13.0" text-anchor="middle">100</text>
<line x1="340.7" y1="576.4" x2="340.7" y2="574.0" stroke="#000" stroke-width="0.6"/>
<line x1="362.0" y1="576.4" x2="362.0" y2="571.9" stroke="#000" stroke-width="0.8"/>
<text transform="translate(362.0,590.9) scale(0.915,1)" font-size="13.0" text-anchor="middle">200</text>
<line x1="383.3" y1="576.4" x2="383.3" y2="574.0" stroke="#000" stroke-width="0.6"/>
<line x1="404.6" y1="576.4" x2="404.6" y2="571.9" stroke="#000" stroke-width="0.8"/>
<text transform="translate(404.6,590.9) scale(0.915,1)" font-size="13.0" text-anchor="middle">300</text>
<line x1="426.0" y1="576.4" x2="426.0" y2="574.0" stroke="#000" stroke-width="0.6"/>
<line x1="447.3" y1="576.4" x2="447.3" y2="571.9" stroke="#000" stroke-width="0.8"/>
<text transform="translate(447.3,590.9) scale(0.915,1)" font-size="13.0" text-anchor="middle">400</text>
<g clip-path="url(#clipG)">
<circle cx="276.7" cy="447.0" r="3.00" fill="#7d14f0"/>
<circle cx="277.1" cy="447.4" r="3.00" fill="#7d14f0"/>
<circle cx="277.6" cy="447.5" r="3.00" fill="#7d14f0"/>
<circle cx="278.0" cy="447.8" r="2.99" fill="#7d14f0"/>
<circle cx="278.4" cy="447.7" r="2.99" fill="#7d14f0"/>
<circle cx="278.8" cy="447.9" r="2.99" fill="#7d14f0"/>
<circle cx="279.3" cy="447.2" r="2.99" fill="#7d14f0"/>
<circle cx="279.7" cy="447.7" r="2.99" fill="#7d14f0"/>
<circle cx="280.1" cy="448.2" r="2.99" fill="#7d14f0"/>
<circle cx="280.5" cy="448.0" r="2.98" fill="#7d14f0"/>
<circle cx="281.0" cy="448.2" r="2.98" fill="#7d14f0"/>
<circle cx="281.4" cy="447.6" r="2.98" fill="#7d14f0"/>
<circle cx="281.8" cy="448.0" r="2.98" fill="#7d14f0"/>
<circle cx="282.2" cy="447.8" r="2.98" fill="#7d14f0"/>
<circle cx="282.7" cy="448.1" r="2.98" fill="#7d14f0"/>
<circle cx="283.1" cy="448.2" r="2.97" fill="#7d14f0"/>
<circle cx="283.5" cy="447.8" r="2.97" fill="#7d14f0"/>
<circle cx="284.0" cy="448.0" r="2.97" fill="#7d14f0"/>
<circle cx="284.4" cy="448.1" r="2.97" fill="#7d14f0"/>
<circle cx="284.8" cy="448.7" r="2.97" fill="#7d14f0"/>
<circle cx="285.2" cy="448.6" r="2.96" fill="#7d14f0"/>
<circle cx="285.7" cy="448.1" r="2.96" fill="#7d14f0"/>
<circle cx="286.1" cy="448.7" r="2.96" fill="#7d14f0"/>
<circle cx="286.5" cy="448.2" r="2.96" fill="#7d14f0"/>
<circle cx="286.9" cy="448.7" r="2.96" fill="#7d14f0"/>
<circle cx="287.4" cy="448.3" r="2.96" fill="#7d14f0"/>
<circle cx="287.8" cy="448.2" r="2.95" fill="#7d14f0"/>
<circle cx="288.2" cy="449.0" r="2.95" fill="#7d14f0"/>
<circle cx="288.6" cy="448.5" r="2.95" fill="#7d14f0"/>
<circle cx="289.1" cy="448.5" r="2.95" fill="#7d14f0"/>
<circle cx="289.5" cy="449.2" r="2.95" fill="#7d14f0"/>
<circle cx="289.9" cy="449.2" r="2.95" fill="#7d14f0"/>
<circle cx="290.3" cy="448.7" r="2.94" fill="#7d14f0"/>
<circle cx="290.8" cy="449.3" r="2.94" fill="#7d14f0"/>
<circle cx="291.2" cy="449.0" r="2.94" fill="#7d14f0"/>
<circle cx="291.6" cy="449.1" r="2.94" fill="#7d14f0"/>
<circle cx="292.1" cy="448.8" r="2.94" fill="#7d14f0"/>
<circle cx="292.5" cy="449.5" r="2.94" fill="#7d14f0"/>
<circle cx="292.9" cy="449.3" r="2.93" fill="#7d14f0"/>
<circle cx="293.3" cy="449.5" r="2.93" fill="#7d14f0"/>
<circle cx="293.8" cy="449.5" r="2.93" fill="#7d14f0"/>
<circle cx="294.2" cy="449.0" r="2.93" fill="#7d14f0"/>
<circle cx="294.6" cy="449.1" r="2.93" fill="#7d14f0"/>
<circle cx="295.0" cy="449.0" r="2.92" fill="#7d14f0"/>
<circle cx="295.5" cy="449.0" r="2.92" fill="#7d14f0"/>
<circle cx="295.9" cy="448.9" r="2.92" fill="#7d14f0"/>
<circle cx="296.3" cy="449.2" r="2.92" fill="#7d14f0"/>
<circle cx="296.7" cy="449.5" r="2.92" fill="#7d14f0"/>
<circle cx="297.2" cy="449.0" r="2.92" fill="#7d14f0"/>
<circle cx="297.6" cy="449.6" r="2.91" fill="#7d14f0"/>
<circle cx="298.0" cy="449.3" r="2.91" fill="#7d14f0"/>
<circle cx="298.5" cy="449.3" r="2.91" fill="#7d14f0"/>
<circle cx="298.9" cy="449.8" r="2.91" fill="#7d14f0"/>
<circle cx="299.3" cy="449.6" r="2.91" fill="#7d14f0"/>
<circle cx="299.7" cy="449.4" r="2.91" fill="#7d14f0"/>
<circle cx="300.2" cy="449.6" r="2.90" fill="#7d14f0"/>
<circle cx="300.6" cy="449.9" r="2.90" fill="#7d14f0"/>
<circle cx="301.0" cy="449.3" r="2.90" fill="#7d14f0"/>
<circle cx="301.4" cy="450.2" r="2.90" fill="#7d14f0"/>
<circle cx="301.9" cy="449.3" r="2.90" fill="#7d14f0"/>
<circle cx="302.3" cy="450.0" r="2.90" fill="#7d14f0"/>
<circle cx="302.7" cy="450.1" r="2.89" fill="#7d14f0"/>
<circle cx="303.1" cy="449.4" r="2.89" fill="#7d14f0"/>
<circle cx="303.6" cy="450.1" r="2.89" fill="#7d14f0"/>
<circle cx="304.0" cy="449.8" r="2.89" fill="#7d14f0"/>
<circle cx="304.4" cy="450.0" r="2.89" fill="#7d14f0"/>
<circle cx="304.8" cy="449.5" r="2.88" fill="#7d14f0"/>
<circle cx="305.3" cy="449.6" r="2.88" fill="#7d14f0"/>
<circle cx="305.7" cy="449.7" r="2.88" fill="#7d14f0"/>
<circle cx="306.1" cy="450.4" r="2.88" fill="#7d14f0"/>
<circle cx="306.6" cy="449.8" r="2.88" fill="#7d14f0"/>
<circle cx="307.0" cy="450.3" r="2.88" fill="#7d14f0"/>
<circle cx="307.4" cy="450.5" r="2.87" fill="#7d14f0"/>
<circle cx="307.8" cy="450.5" r="2.87" fill="#7d14f0"/>
<circle cx="308.3" cy="450.0" r="2.87" fill="#7d14f0"/>
<circle cx="308.7" cy="450.1" r="2.87" fill="#7d14f0"/>
<circle cx="309.1" cy="450.2" r="2.87" fill="#7d14f0"/>
<circle cx="309.5" cy="450.5" r="2.87" fill="#7d14f0"/>
<circle cx="310.0" cy="449.9" r="2.86" fill="#7d14f0"/>
<circle cx="310.4" cy="450.5" r="2.86" fill="#7d14f0"/>
<circle cx="310.8" cy="450.6" r="2.86" fill="#7d14f0"/>
<circle cx="311.2" cy="450.7" r="2.86" fill="#7d14f0"/>
<circle cx="311.7" cy="450.0" r="2.86" fill="#7d14f0"/>
<circle cx="312.1" cy="450.8" r="2.85" fill="#7d14f0"/>
<circle cx="312.5" cy="450.1" r="2.85" fill="#7d14f0"/>
<circle cx="313.0" cy="450.3" r="2.85" fill="#7d14f0"/>
<circle cx="313.4" cy="450.6" r="2.85" fill="#7d14f0"/>
<circle cx="313.8" cy="450.9" r="2.85" fill="#7d14f0"/>
<circle cx="314.2" cy="450.4" r="2.85" fill="#7d14f0"/>
<circle cx="314.7" cy="450.9" r="2.84" fill="#7d14f0"/>
<circle cx="315.1" cy="450.6" r="2.84" fill="#7d14f0"/>
<circle cx="315.5" cy="450.4" r="2.84" fill="#7d14f0"/>
<circle cx="315.9" cy="450.5" r="2.84" fill="#7d14f0"/>
<circle cx="316.4" cy="450.4" r="2.84" fill="#7d14f0"/>
<circle cx="316.8" cy="450.3" r="2.84" fill="#7d14f0"/>
<circle cx="317.2" cy="450.4" r="2.83" fill="#7d14f0"/>
<circle cx="317.6" cy="450.9" r="2.83" fill="#7d14f0"/>
<circle cx="318.1" cy="451.2" r="2.83" fill="#7d14f0"/>
<circle cx="318.5" cy="450.5" r="2.83" fill="#7d14f0"/>
<circle cx="318.9" cy="450.4" r="2.83" fill="#7d14f0"/>
<circle cx="319.3" cy="451.3" r="2.83" fill="#7d14f0"/>
<circle cx="319.8" cy="450.9" r="2.82" fill="#7d14f0"/>
<circle cx="320.2" cy="450.8" r="2.82" fill="#7d14f0"/>
<circle cx="320.6" cy="450.7" r="2.82" fill="#7d14f0"/>
<circle cx="321.1" cy="451.0" r="2.82" fill="#7d14f0"/>
<circle cx="321.5" cy="451.2" r="2.82" fill="#7d14f0"/>
<circle cx="321.9" cy="450.9" r="2.81" fill="#7d14f0"/>
<circle cx="322.3" cy="450.9" r="2.81" fill="#7d14f0"/>
<circle cx="322.8" cy="450.6" r="2.81" fill="#7d14f0"/>
<circle cx="323.2" cy="451.4" r="2.81" fill="#7d14f0"/>
<circle cx="323.6" cy="450.6" r="2.81" fill="#7d14f0"/>
<circle cx="324.0" cy="451.1" r="2.81" fill="#7d14f0"/>
<circle cx="324.5" cy="451.4" r="2.80" fill="#7d14f0"/>
<circle cx="324.9" cy="450.8" r="2.80" fill="#7d14f0"/>
<circle cx="325.3" cy="451.3" r="2.80" fill="#7d14f0"/>
<circle cx="325.7" cy="451.6" r="2.80" fill="#7d14f0"/>
<circle cx="326.2" cy="451.3" r="2.80" fill="#7d14f0"/>
<circle cx="326.6" cy="451.5" r="2.80" fill="#7d14f0"/>
<circle cx="327.0" cy="450.9" r="2.79" fill="#7d14f0"/>
<circle cx="327.5" cy="451.2" r="2.79" fill="#7d14f0"/>
<circle cx="327.9" cy="451.0" r="2.79" fill="#7d14f0"/>
<circle cx="328.3" cy="451.6" r="2.79" fill="#7d14f0"/>
<circle cx="328.7" cy="451.1" r="2.79" fill="#7d14f0"/>
<circle cx="329.2" cy="451.3" r="2.78" fill="#7d14f0"/>
<circle cx="329.6" cy="451.8" r="2.78" fill="#7d14f0"/>
<circle cx="330.0" cy="451.7" r="2.78" fill="#7d14f0"/>
<circle cx="330.4" cy="451.8" r="2.78" fill="#7d14f0"/>
<circle cx="330.9" cy="451.4" r="2.78" fill="#7d14f0"/>
<circle cx="331.3" cy="451.4" r="2.78" fill="#7d14f0"/>
<circle cx="331.7" cy="451.7" r="2.77" fill="#7d14f0"/>
<circle cx="332.1" cy="451.5" r="2.77" fill="#7d14f0"/>
<circle cx="332.6" cy="451.3" r="2.77" fill="#7d14f0"/>
<circle cx="333.0" cy="451.4" r="2.77" fill="#7d14f0"/>
<circle cx="333.4" cy="451.2" r="2.77" fill="#7d14f0"/>
<circle cx="333.9" cy="451.5" r="2.77" fill="#7d14f0"/>
<circle cx="334.3" cy="452.0" r="2.76" fill="#7d14f0"/>
<circle cx="334.7" cy="452.0" r="2.76" fill="#7d14f0"/>
<circle cx="335.1" cy="451.7" r="2.76" fill="#7d14f0"/>
<circle cx="335.6" cy="451.7" r="2.76" fill="#7d14f0"/>
<circle cx="336.0" cy="451.5" r="2.76" fill="#7d14f0"/>
<circle cx="336.4" cy="451.3" r="2.75" fill="#7d14f0"/>
<circle cx="336.8" cy="451.5" r="2.75" fill="#7d14f0"/>
<circle cx="337.3" cy="452.0" r="2.75" fill="#7d14f0"/>
<circle cx="337.7" cy="452.1" r="2.75" fill="#7d14f0"/>
<circle cx="338.1" cy="451.7" r="2.75" fill="#7d14f0"/>
<circle cx="338.5" cy="452.1" r="2.75" fill="#7d14f0"/>
<circle cx="339.0" cy="452.1" r="2.74" fill="#7d14f0"/>
<circle cx="339.4" cy="452.0" r="2.74" fill="#7d14f0"/>
<circle cx="339.8" cy="452.0" r="2.74" fill="#7d14f0"/>
<circle cx="340.2" cy="452.1" r="2.74" fill="#7d14f0"/>
<circle cx="340.7" cy="451.8" r="2.74" fill="#7d14f0"/>
<circle cx="341.1" cy="452.1" r="2.74" fill="#7d14f0"/>
<circle cx="341.5" cy="451.7" r="2.73" fill="#7d14f0"/>
<circle cx="342.0" cy="451.9" r="2.73" fill="#7d14f0"/>
<circle cx="342.4" cy="452.2" r="2.73" fill="#7d14f0"/>
<circle cx="342.8" cy="452.2" r="2.73" fill="#7d14f0"/>
<circle cx="343.2" cy="451.8" r="2.73" fill="#7d14f0"/>
<circle cx="343.7" cy="452.4" r="2.73" fill="#7d14f0"/>
<circle cx="344.1" cy="452.2" r="2.72" fill="#7d14f0"/>
<circle cx="344.5" cy="452.1" r="2.72" fill="#7d14f0"/>
<circle cx="344.9" cy="451.7" r="2.72" fill="#7d14f0"/>
<circle cx="345.4" cy="452.2" r="2.72" fill="#7d14f0"/>
<circle cx="345.8" cy="451.9" r="2.72" fill="#7d14f0"/>
<circle cx="346.2" cy="452.3" r="2.71" fill="#7d14f0"/>
<circle cx="346.6" cy="452.1" r="2.71" fill="#7d14f0"/>
<circle cx="347.1" cy="452.5" r="2.71" fill="#7d14f0"/>
<circle cx="347.5" cy="452.3" r="2.71" fill="#7d14f0"/>
<circle cx="347.9" cy="452.5" r="2.71" fill="#7d14f0"/>
<circle cx="348.4" cy="452.1" r="2.71" fill="#7d14f0"/>
<circle cx="348.8" cy="452.4" r="2.70" fill="#7d14f0"/>
<circle cx="349.2" cy="452.5" r="2.70" fill="#7d14f0"/>
<circle cx="349.6" cy="452.6" r="2.70" fill="#7d14f0"/>
<circle cx="350.1" cy="452.2" r="2.70" fill="#7d14f0"/>
<circle cx="350.5" cy="452.7" r="2.70" fill="#7d14f0"/>
<circle cx="350.9" cy="452.7" r="2.70" fill="#7d14f0"/>
<circle cx="351.3" cy="452.6" r="2.69" fill="#7d14f0"/>
<circle cx="351.8" cy="452.8" r="2.69" fill="#7d14f0"/>
<circle cx="352.2" cy="452.8" r="2.69" fill="#7d14f0"/>
<circle cx="352.6" cy="452.5" r="2.69" fill="#7d14f0"/>
<circle cx="353.0" cy="452.5" r="2.69" fill="#7d14f0"/>
<circle cx="353.5" cy="452.2" r="2.69" fill="#7d14f0"/>
<circle cx="353.9" cy="452.8" r="2.68" fill="#7d14f0"/>
<circle cx="354.3" cy="452.9" r="2.68" fill="#7d14f0"/>
<circle cx="354.7" cy="452.5" r="2.68" fill="#7d14f0"/>
<circle cx="355.2" cy="452.7" r="2.68" fill="#7d14f0"/>
<circle cx="355.6" cy="452.8" r="2.68" fill="#7d14f0"/>
<circle cx="356.0" cy="452.8" r="2.67" fill="#7d14f0"/>
<circle cx="356.5" cy="452.3" r="2.67" fill="#7d14f0"/>
<circle cx="356.9" cy="452.9" r="2.67" fill="#7d14f0"/>
<circle cx="357.3" cy="452.7" r="2.67" fill="#7d14f0"/>
<circle cx="357.7" cy="452.8" r="2.67" fill="#7d14f0"/>
<circle cx="358.2" cy="452.6" r="2.67" fill="#7d14f0"/>
<circle cx="358.6" cy="452.8" r="2.66" fill="#7d14f0"/>
<circle cx="359.0" cy="453.0" r="2.66" fill="#7d14f0"/>
<circle cx="359.4" cy="452.9" r="2.66" fill="#7d14f0"/>
<circle cx="359.9" cy="452.9" r="2.66" fill="#7d14f0"/>
<circle cx="360.3" cy="452.3" r="2.66" fill="#7d14f0"/>
<circle cx="360.7" cy="452.5" r="2.66" fill="#7d14f0"/>
<circle cx="361.1" cy="452.7" r="2.65" fill="#7d14f0"/>
<circle cx="361.6" cy="453.0" r="2.65" fill="#7d14f0"/>
<circle cx="362.0" cy="452.6" r="2.65" fill="#7d14f0"/>
<circle cx="362.4" cy="453.0" r="2.65" fill="#7d14f0"/>
<circle cx="362.9" cy="453.0" r="2.65" fill="#7d14f0"/>
<circle cx="363.3" cy="452.5" r="2.64" fill="#7d14f0"/>
<circle cx="363.7" cy="452.9" r="2.64" fill="#7d14f0"/>
<circle cx="364.1" cy="452.7" r="2.64" fill="#7d14f0"/>
<circle cx="364.6" cy="452.5" r="2.64" fill="#7d14f0"/>
<circle cx="365.0" cy="452.6" r="2.64" fill="#7d14f0"/>
<circle cx="365.4" cy="452.8" r="2.64" fill="#7d14f0"/>
<circle cx="365.8" cy="452.7" r="2.63" fill="#7d14f0"/>
<circle cx="366.3" cy="452.7" r="2.63" fill="#7d14f0"/>
<circle cx="366.7" cy="452.6" r="2.63" fill="#7d14f0"/>
<circle cx="367.1" cy="453.0" r="2.63" fill="#7d14f0"/>
<circle cx="367.5" cy="453.0" r="2.63" fill="#7d14f0"/>
<circle cx="368.0" cy="453.2" r="2.63" fill="#7d14f0"/>
<circle cx="368.4" cy="453.2" r="2.62" fill="#7d14f0"/>
<circle cx="368.8" cy="452.9" r="2.62" fill="#7d14f0"/>
<circle cx="369.3" cy="453.5" r="2.62" fill="#7d14f0"/>
<circle cx="369.7" cy="452.7" r="2.62" fill="#7d14f0"/>
<circle cx="370.1" cy="453.1" r="2.62" fill="#7d14f0"/>
<circle cx="370.5" cy="453.0" r="2.62" fill="#7d14f0"/>
<circle cx="371.0" cy="453.1" r="2.61" fill="#7d14f0"/>
<circle cx="371.4" cy="452.9" r="2.61" fill="#7d14f0"/>
<circle cx="371.8" cy="453.5" r="2.61" fill="#7d14f0"/>
<circle cx="372.2" cy="453.1" r="2.61" fill="#7d14f0"/>
<circle cx="372.7" cy="452.9" r="2.61" fill="#7d14f0"/>
<circle cx="373.1" cy="453.4" r="2.60" fill="#7d14f0"/>
<circle cx="373.5" cy="452.9" r="2.60" fill="#7d14f0"/>
<circle cx="373.9" cy="453.4" r="2.60" fill="#7d14f0"/>
<circle cx="374.4" cy="453.2" r="2.60" fill="#7d14f0"/>
<circle cx="374.8" cy="453.4" r="2.60" fill="#7d14f0"/>
<circle cx="375.2" cy="453.8" r="2.60" fill="#7d14f0"/>
<circle cx="375.6" cy="453.7" r="2.59" fill="#7d14f0"/>
<circle cx="376.1" cy="453.3" r="2.59" fill="#7d14f0"/>
<circle cx="376.5" cy="453.7" r="2.59" fill="#7d14f0"/>
<circle cx="376.9" cy="453.6" r="2.59" fill="#7d14f0"/>
<circle cx="377.4" cy="453.3" r="2.59" fill="#7d14f0"/>
<circle cx="377.8" cy="453.2" r="2.59" fill="#7d14f0"/>
<circle cx="378.2" cy="453.6" r="2.58" fill="#7d14f0"/>
<circle cx="378.6" cy="453.6" r="2.58" fill="#7d14f0"/>
<circle cx="379.1" cy="453.9" r="2.58" fill="#7d14f0"/>
<circle cx="379.5" cy="454.0" r="2.58" fill="#7d14f0"/>
<circle cx="379.9" cy="453.7" r="2.58" fill="#7d14f0"/>
<circle cx="380.3" cy="453.4" r="2.57" fill="#7d14f0"/>
<circle cx="380.8" cy="453.9" r="2.57" fill="#7d14f0"/>
<circle cx="381.2" cy="453.2" r="2.57" fill="#7d14f0"/>
<circle cx="381.6" cy="453.3" r="2.57" fill="#7d14f0"/>
<circle cx="382.0" cy="453.7" r="2.57" fill="#7d14f0"/>
<circle cx="382.5" cy="453.8" r="2.57" fill="#7d14f0"/>
<circle cx="382.9" cy="453.3" r="2.56" fill="#7d14f0"/>
<circle cx="383.3" cy="453.8" r="2.56" fill="#7d14f0"/>
<circle cx="383.8" cy="454.1" r="2.56" fill="#7d14f0"/>
<circle cx="384.2" cy="453.6" r="2.56" fill="#7d14f0"/>
<circle cx="384.6" cy="453.7" r="2.56" fill="#7d14f0"/>
<circle cx="385.0" cy="453.5" r="2.56" fill="#7d14f0"/>
<circle cx="385.5" cy="453.6" r="2.55" fill="#7d14f0"/>
<circle cx="385.9" cy="454.2" r="2.55" fill="#7d14f0"/>
<circle cx="386.3" cy="453.7" r="2.55" fill="#7d14f0"/>
<circle cx="386.7" cy="454.2" r="2.55" fill="#7d14f0"/>
<circle cx="387.2" cy="454.2" r="2.55" fill="#7d14f0"/>
<circle cx="387.6" cy="453.9" r="2.54" fill="#7d14f0"/>
<circle cx="388.0" cy="453.6" r="2.54" fill="#7d14f0"/>
<circle cx="388.4" cy="454.3" r="2.54" fill="#7d14f0"/>
<circle cx="388.9" cy="453.9" r="2.54" fill="#7d14f0"/>
<circle cx="389.3" cy="453.8" r="2.54" fill="#7d14f0"/>
<circle cx="389.7" cy="453.8" r="2.54" fill="#7d14f0"/>
<circle cx="390.1" cy="454.4" r="2.53" fill="#7d14f0"/>
<circle cx="390.6" cy="454.0" r="2.53" fill="#7d14f0"/>
<circle cx="391.0" cy="453.8" r="2.53" fill="#7d14f0"/>
<circle cx="391.4" cy="454.0" r="2.53" fill="#7d14f0"/>
<circle cx="391.9" cy="453.7" r="2.53" fill="#7d14f0"/>
<circle cx="392.3" cy="454.1" r="2.53" fill="#7d14f0"/>
<circle cx="392.7" cy="454.0" r="2.52" fill="#7d14f0"/>
<circle cx="393.1" cy="453.9" r="2.52" fill="#7d14f0"/>
<circle cx="393.6" cy="454.3" r="2.52" fill="#7d14f0"/>
<circle cx="394.0" cy="454.4" r="2.52" fill="#7d14f0"/>
<circle cx="394.4" cy="453.7" r="2.52" fill="#7d14f0"/>
<circle cx="394.8" cy="454.1" r="2.52" fill="#7d14f0"/>
<circle cx="395.3" cy="453.9" r="2.51" fill="#7d14f0"/>
<circle cx="395.7" cy="454.5" r="2.51" fill="#7d14f0"/>
<circle cx="396.1" cy="454.4" r="2.51" fill="#7d14f0"/>
<circle cx="396.5" cy="454.0" r="2.51" fill="#7d14f0"/>
<circle cx="397.0" cy="454.0" r="2.51" fill="#7d14f0"/>
<circle cx="397.4" cy="453.9" r="2.50" fill="#7d14f0"/>
<circle cx="397.8" cy="454.7" r="2.50" fill="#7d14f0"/>
<circle cx="398.3" cy="454.1" r="2.50" fill="#7d14f0"/>
<circle cx="398.7" cy="454.4" r="2.50" fill="#7d14f0"/>
<circle cx="399.1" cy="454.3" r="2.50" fill="#7d14f0"/>
<circle cx="399.5" cy="454.4" r="2.50" fill="#7d14f0"/>
<circle cx="400.0" cy="454.4" r="2.49" fill="#7d14f0"/>
<circle cx="400.4" cy="454.5" r="2.49" fill="#7d14f0"/>
<circle cx="400.8" cy="454.0" r="2.49" fill="#7d14f0"/>
<circle cx="401.2" cy="454.6" r="2.49" fill="#7d14f0"/>
<circle cx="401.7" cy="454.2" r="2.49" fill="#7d14f0"/>
<circle cx="402.1" cy="454.4" r="2.49" fill="#7d14f0"/>
<circle cx="402.5" cy="454.2" r="2.48" fill="#7d14f0"/>
<circle cx="402.9" cy="454.2" r="2.48" fill="#7d14f0"/>
<circle cx="403.4" cy="454.5" r="2.48" fill="#7d14f0"/>
<circle cx="403.8" cy="454.4" r="2.48" fill="#7d14f0"/>
<circle cx="404.2" cy="454.3" r="2.48" fill="#7d14f0"/>
<circle cx="404.6" cy="454.7" r="2.48" fill="#7d14f0"/>
<circle cx="405.1" cy="454.6" r="2.47" fill="#7d14f0"/>
<circle cx="405.5" cy="454.1" r="2.47" fill="#7d14f0"/>
<circle cx="405.9" cy="454.3" r="2.47" fill="#7d14f0"/>
<circle cx="406.4" cy="454.5" r="2.47" fill="#7d14f0"/>
<circle cx="406.8" cy="454.9" r="2.47" fill="#7d14f0"/>
<circle cx="407.2" cy="454.9" r="2.46" fill="#7d14f0"/>
<circle cx="407.6" cy="454.6" r="2.46" fill="#7d14f0"/>
<circle cx="408.1" cy="454.2" r="2.46" fill="#7d14f0"/>
<circle cx="408.5" cy="454.9" r="2.46" fill="#7d14f0"/>
<circle cx="408.9" cy="454.6" r="2.46" fill="#7d14f0"/>
<circle cx="409.3" cy="454.7" r="2.46" fill="#7d14f0"/>
<circle cx="409.8" cy="454.8" r="2.45" fill="#7d14f0"/>
<circle cx="410.2" cy="454.8" r="2.45" fill="#7d14f0"/>
<circle cx="410.6" cy="454.7" r="2.45" fill="#7d14f0"/>
<circle cx="411.0" cy="455.1" r="2.45" fill="#7d14f0"/>
<circle cx="411.5" cy="454.6" r="2.45" fill="#7d14f0"/>
<circle cx="411.9" cy="454.6" r="2.45" fill="#7d14f0"/>
<circle cx="412.3" cy="455.1" r="2.44" fill="#7d14f0"/>
<circle cx="412.8" cy="454.5" r="2.44" fill="#7d14f0"/>
<circle cx="413.2" cy="454.6" r="2.44" fill="#7d14f0"/>
<circle cx="413.6" cy="455.1" r="2.44" fill="#7d14f0"/>
<circle cx="414.0" cy="454.4" r="2.44" fill="#7d14f0"/>
<circle cx="414.5" cy="455.1" r="2.43" fill="#7d14f0"/>
<circle cx="414.9" cy="455.0" r="2.43" fill="#7d14f0"/>
<circle cx="415.3" cy="454.8" r="2.43" fill="#7d14f0"/>
<circle cx="415.7" cy="454.7" r="2.43" fill="#7d14f0"/>
<circle cx="416.2" cy="455.1" r="2.43" fill="#7d14f0"/>
<circle cx="416.6" cy="455.3" r="2.43" fill="#7d14f0"/>
<circle cx="417.0" cy="454.6" r="2.42" fill="#7d14f0"/>
<circle cx="417.4" cy="454.9" r="2.42" fill="#7d14f0"/>
<circle cx="417.9" cy="455.0" r="2.42" fill="#7d14f0"/>
<circle cx="418.3" cy="454.9" r="2.42" fill="#7d14f0"/>
<circle cx="418.7" cy="454.8" r="2.42" fill="#7d14f0"/>
<circle cx="419.2" cy="454.7" r="2.42" fill="#7d14f0"/>
<circle cx="419.6" cy="455.1" r="2.41" fill="#7d14f0"/>
<circle cx="420.0" cy="455.3" r="2.41" fill="#7d14f0"/>
<circle cx="420.4" cy="454.6" r="2.41" fill="#7d14f0"/>
<circle cx="420.9" cy="454.8" r="2.41" fill="#7d14f0"/>
<circle cx="421.3" cy="455.3" r="2.41" fill="#7d14f0"/>
<circle cx="421.7" cy="455.3" r="2.41" fill="#7d14f0"/>
<circle cx="422.1" cy="455.2" r="2.40" fill="#7d14f0"/>
<circle cx="422.6" cy="454.7" r="2.40" fill="#7d14f0"/>
<circle cx="423.0" cy="455.3" r="2.40" fill="#7d14f0"/>
<circle cx="423.4" cy="455.6" r="2.40" fill="#7d14f0"/>
<circle cx="423.8" cy="455.6" r="2.40" fill="#7d14f0"/>
<circle cx="424.3" cy="455.3" r="2.39" fill="#7d14f0"/>
<circle cx="424.7" cy="454.8" r="2.39" fill="#7d14f0"/>
<circle cx="425.1" cy="455.5" r="2.39" fill="#7d14f0"/>
<circle cx="425.5" cy="454.9" r="2.39" fill="#7d14f0"/>
<circle cx="426.0" cy="455.3" r="2.39" fill="#7d14f0"/>
<circle cx="426.4" cy="455.6" r="2.39" fill="#7d14f0"/>
<circle cx="426.8" cy="455.4" r="2.38" fill="#7d14f0"/>
<circle cx="427.3" cy="454.9" r="2.38" fill="#7d14f0"/>
<circle cx="427.7" cy="455.1" r="2.38" fill="#7d14f0"/>
<circle cx="428.1" cy="455.7" r="2.38" fill="#7d14f0"/>
<circle cx="428.5" cy="455.0" r="2.38" fill="#7d14f0"/>
<circle cx="429.0" cy="455.4" r="2.38" fill="#7d14f0"/>
<circle cx="429.4" cy="455.2" r="2.37" fill="#7d14f0"/>
<circle cx="429.8" cy="455.0" r="2.37" fill="#7d14f0"/>
<circle cx="430.2" cy="455.5" r="2.37" fill="#7d14f0"/>
<circle cx="430.7" cy="455.0" r="2.37" fill="#7d14f0"/>
<circle cx="431.1" cy="455.0" r="2.37" fill="#7d14f0"/>
<circle cx="431.5" cy="455.3" r="2.36" fill="#7d14f0"/>
<circle cx="431.9" cy="455.0" r="2.36" fill="#7d14f0"/>
<circle cx="432.4" cy="455.0" r="2.36" fill="#7d14f0"/>
<circle cx="432.8" cy="455.5" r="2.36" fill="#7d14f0"/>
<circle cx="433.2" cy="455.7" r="2.36" fill="#7d14f0"/>
<circle cx="433.7" cy="455.8" r="2.36" fill="#7d14f0"/>
<circle cx="434.1" cy="455.1" r="2.35" fill="#7d14f0"/>
<circle cx="434.5" cy="455.4" r="2.35" fill="#7d14f0"/>
<circle cx="434.9" cy="455.3" r="2.35" fill="#7d14f0"/>
<circle cx="435.4" cy="455.6" r="2.35" fill="#7d14f0"/>
<circle cx="435.8" cy="455.5" r="2.35" fill="#7d14f0"/>
<circle cx="436.2" cy="455.9" r="2.35" fill="#7d14f0"/>
<circle cx="436.6" cy="455.4" r="2.34" fill="#7d14f0"/>
<circle cx="437.1" cy="455.2" r="2.34" fill="#7d14f0"/>
<circle cx="437.5" cy="455.8" r="2.34" fill="#7d14f0"/>
<circle cx="437.9" cy="455.3" r="2.34" fill="#7d14f0"/>
<circle cx="438.3" cy="455.7" r="2.34" fill="#7d14f0"/>
<circle cx="438.8" cy="455.6" r="2.33" fill="#7d14f0"/>
<circle cx="439.2" cy="456.0" r="2.33" fill="#7d14f0"/>
<circle cx="439.6" cy="455.7" r="2.33" fill="#7d14f0"/>
<circle cx="440.0" cy="455.8" r="2.33" fill="#7d14f0"/>
<circle cx="440.5" cy="455.5" r="2.33" fill="#7d14f0"/>
<circle cx="440.9" cy="455.7" r="2.33" fill="#7d14f0"/>
<circle cx="441.3" cy="455.5" r="2.32" fill="#7d14f0"/>
<circle cx="441.8" cy="455.9" r="2.32" fill="#7d14f0"/>
<circle cx="442.2" cy="455.8" r="2.32" fill="#7d14f0"/>
<circle cx="442.6" cy="455.4" r="2.32" fill="#7d14f0"/>
<circle cx="443.0" cy="455.5" r="2.32" fill="#7d14f0"/>
<circle cx="443.5" cy="455.7" r="2.32" fill="#7d14f0"/>
<circle cx="443.9" cy="456.0" r="2.31" fill="#7d14f0"/>
<circle cx="444.3" cy="455.5" r="2.31" fill="#7d14f0"/>
<circle cx="444.7" cy="456.0" r="2.31" fill="#7d14f0"/>
<circle cx="445.2" cy="456.0" r="2.31" fill="#7d14f0"/>
<circle cx="445.6" cy="455.5" r="2.31" fill="#7d14f0"/>
<circle cx="446.0" cy="456.0" r="2.31" fill="#7d14f0"/>
<circle cx="446.4" cy="455.5" r="2.30" fill="#7d14f0"/>
<circle cx="446.9" cy="455.5" r="2.30" fill="#7d14f0"/>
<circle cx="447.3" cy="456.0" r="2.30" fill="#7d14f0"/>
<circle cx="277.1" cy="549.8" r="2.55" fill="#fff" fill-opacity="0.25" stroke="#111" stroke-width="0.65"/>
<circle cx="277.6" cy="546.7" r="2.55" fill="#fff" fill-opacity="0.25" stroke="#111" stroke-width="0.65"/>
<circle cx="278.0" cy="552.0" r="2.55" fill="#fff" fill-opacity="0.25" stroke="#111" stroke-width="0.65"/>
<circle cx="278.4" cy="550.5" r="2.55" fill="#fff" fill-opacity="0.25" stroke="#111" stroke-width="0.65"/>
<circle cx="278.8" cy="550.7" r="2.55" fill="#fff" fill-opacity="0.25" stroke="#111" stroke-width="0.65"/>
<circle cx="279.3" cy="551.4" r="2.55" fill="#fff" fill-opacity="0.25" stroke="#111" stroke-width="0.65"/>
<circle cx="279.7" cy="551.3" r="2.55" fill="#fff" fill-opacity="0.25" stroke="#111" stroke-width="0.65"/>
<circle cx="280.1" cy="552.0" r="2.55" fill="#fff" fill-opacity="0.25" stroke="#111" stroke-width="0.65"/>
<circle cx="280.5" cy="549.6" r="2.55" fill="#fff" fill-opacity="0.25" stroke="#111" stroke-width="0.65"/>
<circle cx="281.0" cy="549.3" r="2.55" fill="#fff" fill-opacity="0.25" stroke="#111" stroke-width="0.65"/>
<circle cx="281.4" cy="554.1" r="2.55" fill="#fff" fill-opacity="0.25" stroke="#111" stroke-width="0.65"/>
<circle cx="281.8" cy="555.4" r="2.55" fill="#fff" fill-opacity="0.25" stroke="#111" stroke-width="0.65"/>
<circle cx="282.2" cy="551.5" r="2.55" fill="#fff" fill-opacity="0.25" stroke="#111" stroke-width="0.65"/>
<circle cx="282.7" cy="552.6" r="2.55" fill="#fff" fill-opacity="0.25" stroke="#111" stroke-width="0.65"/>
<circle cx="283.1" cy="558.1" r="2.55" fill="#fff" fill-opacity="0.25" stroke="#111" stroke-width="0.65"/>
<circle cx="283.5" cy="560.4" r="2.55" fill="#fff" fill-opacity="0.25" stroke="#111" stroke-width="0.65"/>
<circle cx="284.0" cy="557.3" r="2.55" fill="#fff" fill-opacity="0.25" stroke="#111" stroke-width="0.65"/>
<circle cx="284.4" cy="558.3" r="2.55" fill="#fff" fill-opacity="0.25" stroke="#111" stroke-width="0.65"/>
<circle cx="284.8" cy="564.7" r="2.55" fill="#fff" fill-opacity="0.25" stroke="#111" stroke-width="0.65"/>
<circle cx="285.2" cy="558.3" r="2.55" fill="#fff" fill-opacity="0.25" stroke="#111" stroke-width="0.65"/>
<circle cx="285.7" cy="569.1" r="2.55" fill="#fff" fill-opacity="0.25" stroke="#111" stroke-width="0.65"/>
<circle cx="286.1" cy="556.2" r="2.55" fill="#fff" fill-opacity="0.25" stroke="#111" stroke-width="0.65"/>
<circle cx="286.5" cy="570.5" r="2.55" fill="#fff" fill-opacity="0.25" stroke="#111" stroke-width="0.65"/>
<circle cx="286.9" cy="561.3" r="2.55" fill="#fff" fill-opacity="0.25" stroke="#111" stroke-width="0.65"/>
<circle cx="287.4" cy="559.2" r="2.55" fill="#fff" fill-opacity="0.25" stroke="#111" stroke-width="0.65"/>
<circle cx="287.8" cy="558.8" r="2.55" fill="#fff" fill-opacity="0.25" stroke="#111" stroke-width="0.65"/>
<circle cx="288.2" cy="578.7" r="2.55" fill="#fff" fill-opacity="0.25" stroke="#111" stroke-width="0.65"/>
<circle cx="288.6" cy="582.6" r="2.55" fill="#fff" fill-opacity="0.25" stroke="#111" stroke-width="0.65"/>
<circle cx="289.1" cy="586.2" r="2.55" fill="#fff" fill-opacity="0.25" stroke="#111" stroke-width="0.65"/>
<circle cx="289.5" cy="567.9" r="2.55" fill="#fff" fill-opacity="0.25" stroke="#111" stroke-width="0.65"/>
<circle cx="289.9" cy="584.1" r="2.55" fill="#fff" fill-opacity="0.25" stroke="#111" stroke-width="0.65"/>
<circle cx="290.3" cy="575.4" r="2.55" fill="#fff" fill-opacity="0.25" stroke="#111" stroke-width="0.65"/>
<circle cx="290.8" cy="585.5" r="2.55" fill="#fff" fill-opacity="0.25" stroke="#111" stroke-width="0.65"/>
<circle cx="291.2" cy="580.2" r="2.55" fill="#fff" fill-opacity="0.25" stroke="#111" stroke-width="0.65"/>
<circle cx="291.6" cy="577.6" r="2.55" fill="#fff" fill-opacity="0.25" stroke="#111" stroke-width="0.65"/>
<circle cx="292.1" cy="573.0" r="2.55" fill="#fff" fill-opacity="0.25" stroke="#111" stroke-width="0.65"/>
<circle cx="292.5" cy="570.4" r="2.55" fill="#fff" fill-opacity="0.25" stroke="#111" stroke-width="0.65"/>
<circle cx="292.9" cy="574.5" r="2.55" fill="#fff" fill-opacity="0.25" stroke="#111" stroke-width="0.65"/>
<circle cx="293.3" cy="560.4" r="2.55" fill="#fff" fill-opacity="0.25" stroke="#111" stroke-width="0.65"/>
<circle cx="293.8" cy="572.0" r="2.55" fill="#fff" fill-opacity="0.25" stroke="#111" stroke-width="0.65"/>
<circle cx="294.2" cy="588.7" r="2.55" fill="#fff" fill-opacity="0.25" stroke="#111" stroke-width="0.65"/>
<circle cx="294.6" cy="574.8" r="2.55" fill="#fff" fill-opacity="0.25" stroke="#111" stroke-width="0.65"/>
<circle cx="295.0" cy="568.0" r="2.55" fill="#fff" fill-opacity="0.25" stroke="#111" stroke-width="0.65"/>
<circle cx="295.5" cy="576.7" r="2.55" fill="#fff" fill-opacity="0.25" stroke="#111" stroke-width="0.65"/>
<circle cx="295.9" cy="568.9" r="2.55" fill="#fff" fill-opacity="0.25" stroke="#111" stroke-width="0.65"/>
<circle cx="296.3" cy="583.5" r="2.55" fill="#fff" fill-opacity="0.25" stroke="#111" stroke-width="0.65"/>
<circle cx="296.7" cy="584.4" r="2.55" fill="#fff" fill-opacity="0.25" stroke="#111" stroke-width="0.65"/>
<circle cx="297.2" cy="573.1" r="2.55" fill="#fff" fill-opacity="0.25" stroke="#111" stroke-width="0.65"/>
<circle cx="297.6" cy="573.2" r="2.55" fill="#fff" fill-opacity="0.25" stroke="#111" stroke-width="0.65"/>
<circle cx="298.0" cy="574.2" r="2.55" fill="#fff" fill-opacity="0.25" stroke="#111" stroke-width="0.65"/>
<circle cx="298.5" cy="572.7" r="2.55" fill="#fff" fill-opacity="0.25" stroke="#111" stroke-width="0.65"/>
<circle cx="298.9" cy="570.5" r="2.55" fill="#fff" fill-opacity="0.25" stroke="#111" stroke-width="0.65"/>
<circle cx="299.3" cy="588.2" r="2.55" fill="#fff" fill-opacity="0.25" stroke="#111" stroke-width="0.65"/>
<circle cx="299.7" cy="566.4" r="2.55" fill="#fff" fill-opacity="0.25" stroke="#111" stroke-width="0.65"/>
<circle cx="300.2" cy="573.2" r="2.55" fill="#fff" fill-opacity="0.25" stroke="#111" stroke-width="0.65"/>
<circle cx="300.6" cy="571.8" r="2.55" fill="#fff" fill-opacity="0.25" stroke="#111" stroke-width="0.65"/>
<circle cx="301.0" cy="577.2" r="2.55" fill="#fff" fill-opacity="0.25" stroke="#111" stroke-width="0.65"/>
<circle cx="301.4" cy="572.0" r="2.55" fill="#fff" fill-opacity="0.25" stroke="#111" stroke-width="0.65"/>
<circle cx="301.9" cy="576.4" r="2.55" fill="#fff" fill-opacity="0.25" stroke="#111" stroke-width="0.65"/>
<circle cx="302.3" cy="568.6" r="2.55" fill="#fff" fill-opacity="0.25" stroke="#111" stroke-width="0.65"/>
<circle cx="302.7" cy="574.6" r="2.55" fill="#fff" fill-opacity="0.25" stroke="#111" stroke-width="0.65"/>
<circle cx="303.1" cy="571.2" r="2.55" fill="#fff" fill-opacity="0.25" stroke="#111" stroke-width="0.65"/>
<circle cx="303.6" cy="563.7" r="2.55" fill="#fff" fill-opacity="0.25" stroke="#111" stroke-width="0.65"/>
<circle cx="304.0" cy="572.2" r="2.55" fill="#fff" fill-opacity="0.25" stroke="#111" stroke-width="0.65"/>
<circle cx="304.4" cy="557.1" r="2.55" fill="#fff" fill-opacity="0.25" stroke="#111" stroke-width="0.65"/>
<circle cx="304.8" cy="570.7" r="2.55" fill="#fff" fill-opacity="0.25" stroke="#111" stroke-width="0.65"/>
<circle cx="305.3" cy="569.0" r="2.55" fill="#fff" fill-opacity="0.25" stroke="#111" stroke-width="0.65"/>
<circle cx="305.7" cy="571.3" r="2.55" fill="#fff" fill-opacity="0.25" stroke="#111" stroke-width="0.65"/>
<circle cx="306.1" cy="558.9" r="2.55" fill="#fff" fill-opacity="0.25" stroke="#111" stroke-width="0.65"/>
<circle cx="306.6" cy="561.4" r="2.55" fill="#fff" fill-opacity="0.25" stroke="#111" stroke-width="0.65"/>
<circle cx="307.0" cy="560.4" r="2.55" fill="#fff" fill-opacity="0.25" stroke="#111" stroke-width="0.65"/>
<circle cx="307.4" cy="559.7" r="2.55" fill="#fff" fill-opacity="0.25" stroke="#111" stroke-width="0.65"/>
<circle cx="307.8" cy="558.9" r="2.55" fill="#fff" fill-opacity="0.25" stroke="#111" stroke-width="0.65"/>
<circle cx="308.3" cy="559.4" r="2.55" fill="#fff" fill-opacity="0.25" stroke="#111" stroke-width="0.65"/>
<circle cx="308.7" cy="555.5" r="2.55" fill="#fff" fill-opacity="0.25" stroke="#111" stroke-width="0.65"/>
<circle cx="309.1" cy="554.4" r="2.55" fill="#fff" fill-opacity="0.25" stroke="#111" stroke-width="0.65"/>
<circle cx="309.5" cy="553.4" r="2.55" fill="#fff" fill-opacity="0.25" stroke="#111" stroke-width="0.65"/>
<circle cx="310.0" cy="553.7" r="2.55" fill="#fff" fill-opacity="0.25" stroke="#111" stroke-width="0.65"/>
<circle cx="310.4" cy="552.2" r="2.55" fill="#fff" fill-opacity="0.25" stroke="#111" stroke-width="0.65"/>
<circle cx="310.8" cy="552.8" r="2.55" fill="#fff" fill-opacity="0.25" stroke="#111" stroke-width="0.65"/>
<circle cx="311.2" cy="551.8" r="2.55" fill="#fff" fill-opacity="0.25" stroke="#111" stroke-width="0.65"/>
<circle cx="311.7" cy="553.6" r="2.55" fill="#fff" fill-opacity="0.25" stroke="#111" stroke-width="0.65"/>
<circle cx="312.1" cy="554.0" r="2.55" fill="#fff" fill-opacity="0.25" stroke="#111" stroke-width="0.65"/>
<circle cx="312.5" cy="551.3" r="2.55" fill="#fff" fill-opacity="0.25" stroke="#111" stroke-width="0.65"/>
<circle cx="313.0" cy="553.5" r="2.55" fill="#fff" fill-opacity="0.25" stroke="#111" stroke-width="0.65"/>
<circle cx="313.4" cy="550.0" r="2.55" fill="#fff" fill-opacity="0.25" stroke="#111" stroke-width="0.65"/>
<circle cx="313.8" cy="552.9" r="2.55" fill="#fff" fill-opacity="0.25" stroke="#111" stroke-width="0.65"/>
<circle cx="314.2" cy="553.6" r="2.55" fill="#fff" fill-opacity="0.25" stroke="#111" stroke-width="0.65"/>
<circle cx="314.7" cy="552.2" r="2.55" fill="#fff" fill-opacity="0.25" stroke="#111" stroke-width="0.65"/>
<circle cx="315.1" cy="549.7" r="2.55" fill="#fff" fill-opacity="0.25" stroke="#111" stroke-width="0.65"/>
<circle cx="315.5" cy="549.8" r="2.55" fill="#fff" fill-opacity="0.25" stroke="#111" stroke-width="0.65"/>
<circle cx="315.9" cy="552.9" r="2.55" fill="#fff" fill-opacity="0.25" stroke="#111" stroke-width="0.65"/>
<circle cx="316.4" cy="556.2" r="2.55" fill="#fff" fill-opacity="0.25" stroke="#111" stroke-width="0.65"/>
<circle cx="316.8" cy="549.7" r="2.55" fill="#fff" fill-opacity="0.25" stroke="#111" stroke-width="0.65"/>
<circle cx="317.2" cy="551.0" r="2.55" fill="#fff" fill-opacity="0.25" stroke="#111" stroke-width="0.65"/>
<circle cx="317.6" cy="551.4" r="2.55" fill="#fff" fill-opacity="0.25" stroke="#111" stroke-width="0.65"/>
<circle cx="318.1" cy="551.0" r="2.55" fill="#fff" fill-opacity="0.25" stroke="#111" stroke-width="0.65"/>
<circle cx="318.5" cy="552.9" r="2.55" fill="#fff" fill-opacity="0.25" stroke="#111" stroke-width="0.65"/>
<circle cx="318.9" cy="548.9" r="2.55" fill="#fff" fill-opacity="0.25" stroke="#111" stroke-width="0.65"/>
<circle cx="319.3" cy="550.3" r="2.55" fill="#fff" fill-opacity="0.25" stroke="#111" stroke-width="0.65"/>
<circle cx="319.8" cy="548.7" r="2.55" fill="#fff" fill-opacity="0.25" stroke="#111" stroke-width="0.65"/>
<circle cx="320.2" cy="550.8" r="2.55" fill="#fff" fill-opacity="0.25" stroke="#111" stroke-width="0.65"/>
<circle cx="320.6" cy="551.0" r="2.55" fill="#fff" fill-opacity="0.25" stroke="#111" stroke-width="0.65"/>
<circle cx="321.1" cy="549.8" r="2.55" fill="#fff" fill-opacity="0.25" stroke="#111" stroke-width="0.65"/>
<circle cx="321.5" cy="546.9" r="2.55" fill="#fff" fill-opacity="0.25" stroke="#111" stroke-width="0.65"/>
<circle cx="321.9" cy="548.5" r="2.55" fill="#fff" fill-opacity="0.25" stroke="#111" stroke-width="0.65"/>
<circle cx="322.3" cy="554.1" r="2.55" fill="#fff" fill-opacity="0.25" stroke="#111" stroke-width="0.65"/>
<circle cx="322.8" cy="549.7" r="2.55" fill="#fff" fill-opacity="0.25" stroke="#111" stroke-width="0.65"/>
<circle cx="323.2" cy="548.5" r="2.55" fill="#fff" fill-opacity="0.25" stroke="#111" stroke-width="0.65"/>
<circle cx="323.6" cy="549.2" r="2.55" fill="#fff" fill-opacity="0.25" stroke="#111" stroke-width="0.65"/>
<circle cx="324.0" cy="547.9" r="2.55" fill="#fff" fill-opacity="0.25" stroke="#111" stroke-width="0.65"/>
<circle cx="324.5" cy="548.9" r="2.55" fill="#fff" fill-opacity="0.25" stroke="#111" stroke-width="0.65"/>
<circle cx="324.9" cy="547.8" r="2.55" fill="#fff" fill-opacity="0.25" stroke="#111" stroke-width="0.65"/>
<circle cx="325.3" cy="548.1" r="2.55" fill="#fff" fill-opacity="0.25" stroke="#111" stroke-width="0.65"/>
<circle cx="325.7" cy="549.5" r="2.55" fill="#fff" fill-opacity="0.25" stroke="#111" stroke-width="0.65"/>
<circle cx="326.2" cy="547.0" r="2.55" fill="#fff" fill-opacity="0.25" stroke="#111" stroke-width="0.65"/>
<circle cx="326.6" cy="547.0" r="2.55" fill="#fff" fill-opacity="0.25" stroke="#111" stroke-width="0.65"/>
<circle cx="327.0" cy="546.9" r="2.55" fill="#fff" fill-opacity="0.25" stroke="#111" stroke-width="0.65"/>
<circle cx="327.5" cy="545.6" r="2.55" fill="#fff" fill-opacity="0.25" stroke="#111" stroke-width="0.65"/>
<circle cx="327.9" cy="546.5" r="2.55" fill="#fff" fill-opacity="0.25" stroke="#111" stroke-width="0.65"/>
<circle cx="328.3" cy="547.7" r="2.55" fill="#fff" fill-opacity="0.25" stroke="#111" stroke-width="0.65"/>
<circle cx="328.7" cy="545.7" r="2.55" fill="#fff" fill-opacity="0.25" stroke="#111" stroke-width="0.65"/>
<circle cx="329.2" cy="545.9" r="2.55" fill="#fff" fill-opacity="0.25" stroke="#111" stroke-width="0.65"/>
<circle cx="329.6" cy="544.9" r="2.55" fill="#fff" fill-opacity="0.25" stroke="#111" stroke-width="0.65"/>
<circle cx="330.0" cy="544.7" r="2.55" fill="#fff" fill-opacity="0.25" stroke="#111" stroke-width="0.65"/>
<circle cx="330.4" cy="543.6" r="2.55" fill="#fff" fill-opacity="0.25" stroke="#111" stroke-width="0.65"/>
<circle cx="330.9" cy="548.2" r="2.55" fill="#fff" fill-opacity="0.25" stroke="#111" stroke-width="0.65"/>
<circle cx="331.3" cy="545.5" r="2.55" fill="#fff" fill-opacity="0.25" stroke="#111" stroke-width="0.65"/>
<circle cx="331.7" cy="547.3" r="2.55" fill="#fff" fill-opacity="0.25" stroke="#111" stroke-width="0.65"/>
<circle cx="332.1" cy="546.5" r="2.55" fill="#fff" fill-opacity="0.25" stroke="#111" stroke-width="0.65"/>
<circle cx="332.6" cy="544.4" r="2.55" fill="#fff" fill-opacity="0.25" stroke="#111" stroke-width="0.65"/>
<circle cx="333.0" cy="544.2" r="2.55" fill="#fff" fill-opacity="0.25" stroke="#111" stroke-width="0.65"/>
<circle cx="333.4" cy="546.5" r="2.55" fill="#fff" fill-opacity="0.25" stroke="#111" stroke-width="0.65"/>
<circle cx="333.9" cy="545.1" r="2.55" fill="#fff" fill-opacity="0.25" stroke="#111" stroke-width="0.65"/>
<circle cx="334.3" cy="546.1" r="2.55" fill="#fff" fill-opacity="0.25" stroke="#111" stroke-width="0.65"/>
<circle cx="334.7" cy="545.4" r="2.55" fill="#fff" fill-opacity="0.25" stroke="#111" stroke-width="0.65"/>
<circle cx="335.1" cy="546.6" r="2.55" fill="#fff" fill-opacity="0.25" stroke="#111" stroke-width="0.65"/>
<circle cx="335.6" cy="546.7" r="2.55" fill="#fff" fill-opacity="0.25" stroke="#111" stroke-width="0.65"/>
<circle cx="336.0" cy="543.4" r="2.55" fill="#fff" fill-opacity="0.25" stroke="#111" stroke-width="0.65"/>
<circle cx="336.4" cy="545.5" r="2.55" fill="#fff" fill-opacity="0.25" stroke="#111" stroke-width="0.65"/>
<circle cx="336.8" cy="547.8" r="2.55" fill="#fff" fill-opacity="0.25" stroke="#111" stroke-width="0.65"/>
<circle cx="337.3" cy="543.7" r="2.55" fill="#fff" fill-opacity="0.25" stroke="#111" stroke-width="0.65"/>
<circle cx="337.7" cy="544.6" r="2.55" fill="#fff" fill-opacity="0.25" stroke="#111" stroke-width="0.65"/>
<circle cx="338.1" cy="543.9" r="2.55" fill="#fff" fill-opacity="0.25" stroke="#111" stroke-width="0.65"/>
<circle cx="338.5" cy="545.1" r="2.55" fill="#fff" fill-opacity="0.25" stroke="#111" stroke-width="0.65"/>
<circle cx="339.0" cy="544.1" r="2.55" fill="#fff" fill-opacity="0.25" stroke="#111" stroke-width="0.65"/>
<circle cx="339.4" cy="544.4" r="2.55" fill="#fff" fill-opacity="0.25" stroke="#111" stroke-width="0.65"/>
<circle cx="339.8" cy="548.1" r="2.55" fill="#fff" fill-opacity="0.25" stroke="#111" stroke-width="0.65"/>
<circle cx="340.2" cy="545.2" r="2.55" fill="#fff" fill-opacity="0.25" stroke="#111" stroke-width="0.65"/>
<circle cx="340.7" cy="544.0" r="2.55" fill="#fff" fill-opacity="0.25" stroke="#111" stroke-width="0.65"/>
<circle cx="341.1" cy="543.7" r="2.55" fill="#fff" fill-opacity="0.25" stroke="#111" stroke-width="0.65"/>
<circle cx="341.5" cy="544.2" r="2.55" fill="#fff" fill-opacity="0.25" stroke="#111" stroke-width="0.65"/>
<circle cx="342.0" cy="543.2" r="2.55" fill="#fff" fill-opacity="0.25" stroke="#111" stroke-width="0.65"/>
<circle cx="342.4" cy="543.9" r="2.55" fill="#fff" fill-opacity="0.25" stroke="#111" stroke-width="0.65"/>
<circle cx="342.8" cy="546.0" r="2.55" fill="#fff" fill-opacity="0.25" stroke="#111" stroke-width="0.65"/>
<circle cx="343.2" cy="545.4" r="2.55" fill="#fff" fill-opacity="0.25" stroke="#111" stroke-width="0.65"/>
<circle cx="343.7" cy="542.2" r="2.55" fill="#fff" fill-opacity="0.25" stroke="#111" stroke-width="0.65"/>
<circle cx="344.1" cy="543.7" r="2.55" fill="#fff" fill-opacity="0.25" stroke="#111" stroke-width="0.65"/>
<circle cx="344.5" cy="543.6" r="2.55" fill="#fff" fill-opacity="0.25" stroke="#111" stroke-width="0.65"/>
<circle cx="344.9" cy="544.4" r="2.55" fill="#fff" fill-opacity="0.25" stroke="#111" stroke-width="0.65"/>
<circle cx="345.4" cy="545.1" r="2.55" fill="#fff" fill-opacity="0.25" stroke="#111" stroke-width="0.65"/>
<circle cx="345.8" cy="543.0" r="2.55" fill="#fff" fill-opacity="0.25" stroke="#111" stroke-width="0.65"/>
<circle cx="346.2" cy="543.2" r="2.55" fill="#fff" fill-opacity="0.25" stroke="#111" stroke-width="0.65"/>
<circle cx="346.6" cy="543.6" r="2.55" fill="#fff" fill-opacity="0.25" stroke="#111" stroke-width="0.65"/>
<circle cx="347.1" cy="545.7" r="2.55" fill="#fff" fill-opacity="0.25" stroke="#111" stroke-width="0.65"/>
<circle cx="347.5" cy="541.9" r="2.55" fill="#fff" fill-opacity="0.25" stroke="#111" stroke-width="0.65"/>
<circle cx="347.9" cy="548.1" r="2.55" fill="#fff" fill-opacity="0.25" stroke="#111" stroke-width="0.65"/>
<circle cx="348.4" cy="545.8" r="2.55" fill="#fff" fill-opacity="0.25" stroke="#111" stroke-width="0.65"/>
<circle cx="348.8" cy="546.2" r="2.55" fill="#fff" fill-opacity="0.25" stroke="#111" stroke-width="0.65"/>
<circle cx="349.2" cy="546.9" r="2.55" fill="#fff" fill-opacity="0.25" stroke="#111" stroke-width="0.65"/>
<circle cx="349.6" cy="546.2" r="2.55" fill="#fff" fill-opacity="0.25" stroke="#111" stroke-width="0.65"/>
<circle cx="350.1" cy="545.3" r="2.55" fill="#fff" fill-opacity="0.25" stroke="#111" stroke-width="0.65"/>
<circle cx="350.5" cy="543.4" r="2.55" fill="#fff" fill-opacity="0.25" stroke="#111" stroke-width="0.65"/>
<circle cx="350.9" cy="546.8" r="2.55" fill="#fff" fill-opacity="0.25" stroke="#111" stroke-width="0.65"/>
<circle cx="351.3" cy="541.7" r="2.55" fill="#fff" fill-opacity="0.25" stroke="#111" stroke-width="0.65"/>
<circle cx="351.8" cy="545.3" r="2.55" fill="#fff" fill-opacity="0.25" stroke="#111" stroke-width="0.65"/>
<circle cx="352.2" cy="544.9" r="2.55" fill="#fff" fill-opacity="0.25" stroke="#111" stroke-width="0.65"/>
<circle cx="352.6" cy="545.9" r="2.55" fill="#fff" fill-opacity="0.25" stroke="#111" stroke-width="0.65"/>
<circle cx="353.0" cy="544.0" r="2.55" fill="#fff" fill-opacity="0.25" stroke="#111" stroke-width="0.65"/>
<circle cx="353.5" cy="546.3" r="2.55" fill="#fff" fill-opacity="0.25" stroke="#111" stroke-width="0.65"/>
<circle cx="353.9" cy="544.3" r="2.55" fill="#fff" fill-opacity="0.25" stroke="#111" stroke-width="0.65"/>
<circle cx="354.3" cy="544.4" r="2.55" fill="#fff" fill-opacity="0.25" stroke="#111" stroke-width="0.65"/>
<circle cx="354.7" cy="544.3" r="2.55" fill="#fff" fill-opacity="0.25" stroke="#111" stroke-width="0.65"/>
<circle cx="355.2" cy="543.8" r="2.55" fill="#fff" fill-opacity="0.25" stroke="#111" stroke-width="0.65"/>
<circle cx="355.6" cy="545.7" r="2.55" fill="#fff" fill-opacity="0.25" stroke="#111" stroke-width="0.65"/>
<circle cx="356.0" cy="546.4" r="2.55" fill="#fff" fill-opacity="0.25" stroke="#111" stroke-width="0.65"/>
<circle cx="356.5" cy="542.4" r="2.55" fill="#fff" fill-opacity="0.25" stroke="#111" stroke-width="0.65"/>
<circle cx="356.9" cy="544.1" r="2.55" fill="#fff" fill-opacity="0.25" stroke="#111" stroke-width="0.65"/>
<circle cx="357.3" cy="545.7" r="2.55" fill="#fff" fill-opacity="0.25" stroke="#111" stroke-width="0.65"/>
<circle cx="357.7" cy="545.5" r="2.55" fill="#fff" fill-opacity="0.25" stroke="#111" stroke-width="0.65"/>
<circle cx="358.2" cy="544.6" r="2.55" fill="#fff" fill-opacity="0.25" stroke="#111" stroke-width="0.65"/>
<circle cx="358.6" cy="545.2" r="2.55" fill="#fff" fill-opacity="0.25" stroke="#111" stroke-width="0.65"/>
<circle cx="359.0" cy="547.7" r="2.55" fill="#fff" fill-opacity="0.25" stroke="#111" stroke-width="0.65"/>
<circle cx="359.4" cy="542.9" r="2.55" fill="#fff" fill-opacity="0.25" stroke="#111" stroke-width="0.65"/>
<circle cx="359.9" cy="543.4" r="2.55" fill="#fff" fill-opacity="0.25" stroke="#111" stroke-width="0.65"/>
<circle cx="360.3" cy="546.5" r="2.55" fill="#fff" fill-opacity="0.25" stroke="#111" stroke-width="0.65"/>
<circle cx="360.7" cy="545.6" r="2.55" fill="#fff" fill-opacity="0.25" stroke="#111" stroke-width="0.65"/>
<circle cx="361.1" cy="544.1" r="2.55" fill="#fff" fill-opacity="0.25" stroke="#111" stroke-width="0.65"/>
<circle cx="361.6" cy="546.3" r="2.55" fill="#fff" fill-opacity="0.25" stroke="#111" stroke-width="0.65"/>
<circle cx="362.0" cy="543.6" r="2.55" fill="#fff" fill-opacity="0.25" stroke="#111" stroke-width="0.65"/>
<circle cx="362.4" cy="541.9" r="2.55" fill="#fff" fill-opacity="0.25" stroke="#111" stroke-width="0.65"/>
<circle cx="362.9" cy="543.4" r="2.55" fill="#fff" fill-opacity="0.25" stroke="#111" stroke-width="0.65"/>
<circle cx="363.3" cy="541.7" r="2.55" fill="#fff" fill-opacity="0.25" stroke="#111" stroke-width="0.65"/>
<circle cx="363.7" cy="545.0" r="2.55" fill="#fff" fill-opacity="0.25" stroke="#111" stroke-width="0.65"/>
<circle cx="364.1" cy="540.1" r="2.55" fill="#fff" fill-opacity="0.25" stroke="#111" stroke-width="0.65"/>
<circle cx="364.6" cy="540.6" r="2.55" fill="#fff" fill-opacity="0.25" stroke="#111" stroke-width="0.65"/>
<circle cx="365.0" cy="540.4" r="2.55" fill="#fff" fill-opacity="0.25" stroke="#111" stroke-width="0.65"/>
<circle cx="365.4" cy="539.3" r="2.55" fill="#fff" fill-opacity="0.25" stroke="#111" stroke-width="0.65"/>
<circle cx="365.8" cy="545.5" r="2.55" fill="#fff" fill-opacity="0.25" stroke="#111" stroke-width="0.65"/>
<circle cx="366.3" cy="540.8" r="2.55" fill="#fff" fill-opacity="0.25" stroke="#111" stroke-width="0.65"/>
<circle cx="366.7" cy="541.3" r="2.55" fill="#fff" fill-opacity="0.25" stroke="#111" stroke-width="0.65"/>
<circle cx="367.1" cy="541.8" r="2.55" fill="#fff" fill-opacity="0.25" stroke="#111" stroke-width="0.65"/>
<circle cx="367.5" cy="542.1" r="2.55" fill="#fff" fill-opacity="0.25" stroke="#111" stroke-width="0.65"/>
<circle cx="368.0" cy="539.5" r="2.55" fill="#fff" fill-opacity="0.25" stroke="#111" stroke-width="0.65"/>
<circle cx="368.4" cy="542.1" r="2.55" fill="#fff" fill-opacity="0.25" stroke="#111" stroke-width="0.65"/>
<circle cx="368.8" cy="540.8" r="2.55" fill="#fff" fill-opacity="0.25" stroke="#111" stroke-width="0.65"/>
<circle cx="369.3" cy="542.4" r="2.55" fill="#fff" fill-opacity="0.25" stroke="#111" stroke-width="0.65"/>
<circle cx="369.7" cy="540.4" r="2.55" fill="#fff" fill-opacity="0.25" stroke="#111" stroke-width="0.65"/>
<circle cx="370.1" cy="539.9" r="2.55" fill="#fff" fill-opacity="0.25" stroke="#111" stroke-width="0.65"/>
<circle cx="370.5" cy="541.2" r="2.55" fill="#fff" fill-opacity="0.25" stroke="#111" stroke-width="0.65"/>
<circle cx="371.0" cy="539.5" r="2.55" fill="#fff" fill-opacity="0.25" stroke="#111" stroke-width="0.65"/>
<circle cx="371.4" cy="540.8" r="2.55" fill="#fff" fill-opacity="0.25" stroke="#111" stroke-width="0.65"/>
<circle cx="371.8" cy="539.3" r="2.55" fill="#fff" fill-opacity="0.25" stroke="#111" stroke-width="0.65"/>
<circle cx="372.2" cy="539.5" r="2.55" fill="#fff" fill-opacity="0.25" stroke="#111" stroke-width="0.65"/>
<circle cx="372.7" cy="540.7" r="2.55" fill="#fff" fill-opacity="0.25" stroke="#111" stroke-width="0.65"/>
<circle cx="373.1" cy="540.2" r="2.55" fill="#fff" fill-opacity="0.25" stroke="#111" stroke-width="0.65"/>
<circle cx="373.5" cy="540.0" r="2.55" fill="#fff" fill-opacity="0.25" stroke="#111" stroke-width="0.65"/>
<circle cx="373.9" cy="540.1" r="2.55" fill="#fff" fill-opacity="0.25" stroke="#111" stroke-width="0.65"/>
<circle cx="374.4" cy="540.9" r="2.55" fill="#fff" fill-opacity="0.25" stroke="#111" stroke-width="0.65"/>
<circle cx="374.8" cy="540.4" r="2.55" fill="#fff" fill-opacity="0.25" stroke="#111" stroke-width="0.65"/>
<circle cx="375.2" cy="539.2" r="2.55" fill="#fff" fill-opacity="0.25" stroke="#111" stroke-width="0.65"/>
<circle cx="375.6" cy="540.3" r="2.55" fill="#fff" fill-opacity="0.25" stroke="#111" stroke-width="0.65"/>
<circle cx="376.1" cy="539.4" r="2.55" fill="#fff" fill-opacity="0.25" stroke="#111" stroke-width="0.65"/>
<circle cx="376.5" cy="538.8" r="2.55" fill="#fff" fill-opacity="0.25" stroke="#111" stroke-width="0.65"/>
<circle cx="376.9" cy="539.1" r="2.55" fill="#fff" fill-opacity="0.25" stroke="#111" stroke-width="0.65"/>
<circle cx="377.4" cy="538.2" r="2.55" fill="#fff" fill-opacity="0.25" stroke="#111" stroke-width="0.65"/>
<circle cx="377.8" cy="540.1" r="2.55" fill="#fff" fill-opacity="0.25" stroke="#111" stroke-width="0.65"/>
<circle cx="378.2" cy="538.0" r="2.55" fill="#fff" fill-opacity="0.25" stroke="#111" stroke-width="0.65"/>
<circle cx="378.6" cy="539.0" r="2.55" fill="#fff" fill-opacity="0.25" stroke="#111" stroke-width="0.65"/>
<circle cx="379.1" cy="538.1" r="2.55" fill="#fff" fill-opacity="0.25" stroke="#111" stroke-width="0.65"/>
<circle cx="379.5" cy="538.8" r="2.55" fill="#fff" fill-opacity="0.25" stroke="#111" stroke-width="0.65"/>
<circle cx="379.9" cy="536.2" r="2.55" fill="#fff" fill-opacity="0.25" stroke="#111" stroke-width="0.65"/>
<circle cx="380.3" cy="537.7" r="2.55" fill="#fff" fill-opacity="0.25" stroke="#111" stroke-width="0.65"/>
<circle cx="380.8" cy="539.9" r="2.55" fill="#fff" fill-opacity="0.25" stroke="#111" stroke-width="0.65"/>
<circle cx="381.2" cy="539.1" r="2.55" fill="#fff" fill-opacity="0.25" stroke="#111" stroke-width="0.65"/>
<circle cx="381.6" cy="538.9" r="2.55" fill="#fff" fill-opacity="0.25" stroke="#111" stroke-width="0.65"/>
<circle cx="382.0" cy="537.2" r="2.55" fill="#fff" fill-opacity="0.25" stroke="#111" stroke-width="0.65"/>
<circle cx="382.5" cy="536.8" r="2.55" fill="#fff" fill-opacity="0.25" stroke="#111" stroke-width="0.65"/>
<circle cx="382.9" cy="538.2" r="2.55" fill="#fff" fill-opacity="0.25" stroke="#111" stroke-width="0.65"/>
<circle cx="383.3" cy="537.9" r="2.55" fill="#fff" fill-opacity="0.25" stroke="#111" stroke-width="0.65"/>
<circle cx="383.8" cy="537.7" r="2.55" fill="#fff" fill-opacity="0.25" stroke="#111" stroke-width="0.65"/>
<circle cx="384.2" cy="537.5" r="2.55" fill="#fff" fill-opacity="0.25" stroke="#111" stroke-width="0.65"/>
<circle cx="384.6" cy="538.2" r="2.55" fill="#fff" fill-opacity="0.25" stroke="#111" stroke-width="0.65"/>
<circle cx="385.0" cy="539.6" r="2.55" fill="#fff" fill-opacity="0.25" stroke="#111" stroke-width="0.65"/>
<circle cx="385.5" cy="537.3" r="2.55" fill="#fff" fill-opacity="0.25" stroke="#111" stroke-width="0.65"/>
<circle cx="385.9" cy="536.3" r="2.55" fill="#fff" fill-opacity="0.25" stroke="#111" stroke-width="0.65"/>
<circle cx="386.3" cy="538.3" r="2.55" fill="#fff" fill-opacity="0.25" stroke="#111" stroke-width="0.65"/>
<circle cx="386.7" cy="536.5" r="2.55" fill="#fff" fill-opacity="0.25" stroke="#111" stroke-width="0.65"/>
<circle cx="387.2" cy="536.9" r="2.55" fill="#fff" fill-opacity="0.25" stroke="#111" stroke-width="0.65"/>
<circle cx="387.6" cy="538.6" r="2.55" fill="#fff" fill-opacity="0.25" stroke="#111" stroke-width="0.65"/>
<circle cx="388.0" cy="537.4" r="2.55" fill="#fff" fill-opacity="0.25" stroke="#111" stroke-width="0.65"/>
<circle cx="388.4" cy="538.4" r="2.55" fill="#fff" fill-opacity="0.25" stroke="#111" stroke-width="0.65"/>
<circle cx="388.9" cy="536.5" r="2.55" fill="#fff" fill-opacity="0.25" stroke="#111" stroke-width="0.65"/>
<circle cx="389.3" cy="537.5" r="2.55" fill="#fff" fill-opacity="0.25" stroke="#111" stroke-width="0.65"/>
<circle cx="389.7" cy="538.0" r="2.55" fill="#fff" fill-opacity="0.25" stroke="#111" stroke-width="0.65"/>
<circle cx="390.1" cy="537.8" r="2.55" fill="#fff" fill-opacity="0.25" stroke="#111" stroke-width="0.65"/>
<circle cx="390.6" cy="538.1" r="2.55" fill="#fff" fill-opacity="0.25" stroke="#111" stroke-width="0.65"/>
<circle cx="391.0" cy="537.0" r="2.55" fill="#fff" fill-opacity="0.25" stroke="#111" stroke-width="0.65"/>
<circle cx="391.4" cy="536.7" r="2.55" fill="#fff" fill-opacity="0.25" stroke="#111" stroke-width="0.65"/>
<circle cx="391.9" cy="537.3" r="2.55" fill="#fff" fill-opacity="0.25" stroke="#111" stroke-width="0.65"/>
<circle cx="392.3" cy="538.1" r="2.55" fill="#fff" fill-opacity="0.25" stroke="#111" stroke-width="0.65"/>
<circle cx="392.7" cy="536.7" r="2.55" fill="#fff" fill-opacity="0.25" stroke="#111" stroke-width="0.65"/>
<circle cx="393.1" cy="537.6" r="2.55" fill="#fff" fill-opacity="0.25" stroke="#111" stroke-width="0.65"/>
<circle cx="393.6" cy="538.1" r="2.55" fill="#fff" fill-opacity="0.25" stroke="#111" stroke-width="0.65"/>
<circle cx="394.0" cy="535.7" r="2.55" fill="#fff" fill-opacity="0.25" stroke="#111" stroke-width="0.65"/>
<circle cx="394.4" cy="537.4" r="2.55" fill="#fff" fill-opacity="0.25" stroke="#111" stroke-width="0.65"/>
<circle cx="394.8" cy="536.0" r="2.55" fill="#fff" fill-opacity="0.25" stroke="#111" stroke-width="0.65"/>
<circle cx="395.3" cy="537.8" r="2.55" fill="#fff" fill-opacity="0.25" stroke="#111" stroke-width="0.65"/>
<circle cx="395.7" cy="537.7" r="2.55" fill="#fff" fill-opacity="0.25" stroke="#111" stroke-width="0.65"/>
<circle cx="396.1" cy="538.1" r="2.55" fill="#fff" fill-opacity="0.25" stroke="#111" stroke-width="0.65"/>
<circle cx="396.5" cy="536.9" r="2.55" fill="#fff" fill-opacity="0.25" stroke="#111" stroke-width="0.65"/>
<circle cx="397.0" cy="537.9" r="2.55" fill="#fff" fill-opacity="0.25" stroke="#111" stroke-width="0.65"/>
<circle cx="397.4" cy="538.2" r="2.55" fill="#fff" fill-opacity="0.25" stroke="#111" stroke-width="0.65"/>
<circle cx="397.8" cy="537.8" r="2.55" fill="#fff" fill-opacity="0.25" stroke="#111" stroke-width="0.65"/>
<circle cx="398.3" cy="537.7" r="2.55" fill="#fff" fill-opacity="0.25" stroke="#111" stroke-width="0.65"/>
<circle cx="398.7" cy="537.1" r="2.55" fill="#fff" fill-opacity="0.25" stroke="#111" stroke-width="0.65"/>
<circle cx="399.1" cy="536.6" r="2.55" fill="#fff" fill-opacity="0.25" stroke="#111" stroke-width="0.65"/>
<circle cx="399.5" cy="536.8" r="2.55" fill="#fff" fill-opacity="0.25" stroke="#111" stroke-width="0.65"/>
<circle cx="400.0" cy="537.6" r="2.55" fill="#fff" fill-opacity="0.25" stroke="#111" stroke-width="0.65"/>
<circle cx="400.4" cy="536.0" r="2.55" fill="#fff" fill-opacity="0.25" stroke="#111" stroke-width="0.65"/>
<circle cx="400.8" cy="536.8" r="2.55" fill="#fff" fill-opacity="0.25" stroke="#111" stroke-width="0.65"/>
<circle cx="401.2" cy="538.2" r="2.55" fill="#fff" fill-opacity="0.25" stroke="#111" stroke-width="0.65"/>
<circle cx="401.7" cy="537.5" r="2.55" fill="#fff" fill-opacity="0.25" stroke="#111" stroke-width="0.65"/>
<circle cx="402.1" cy="534.9" r="2.55" fill="#fff" fill-opacity="0.25" stroke="#111" stroke-width="0.65"/>
<circle cx="402.5" cy="537.0" r="2.55" fill="#fff" fill-opacity="0.25" stroke="#111" stroke-width="0.65"/>
<circle cx="402.9" cy="535.4" r="2.55" fill="#fff" fill-opacity="0.25" stroke="#111" stroke-width="0.65"/>
<circle cx="403.4" cy="535.4" r="2.55" fill="#fff" fill-opacity="0.25" stroke="#111" stroke-width="0.65"/>
<circle cx="403.8" cy="536.1" r="2.55" fill="#fff" fill-opacity="0.25" stroke="#111" stroke-width="0.65"/>
<circle cx="404.2" cy="537.7" r="2.55" fill="#fff" fill-opacity="0.25" stroke="#111" stroke-width="0.65"/>
<circle cx="404.6" cy="538.6" r="2.55" fill="#fff" fill-opacity="0.25" stroke="#111" stroke-width="0.65"/>
<circle cx="405.1" cy="535.6" r="2.55" fill="#fff" fill-opacity="0.25" stroke="#111" stroke-width="0.65"/>
<circle cx="405.5" cy="537.4" r="2.55" fill="#fff" fill-opacity="0.25" stroke="#111" stroke-width="0.65"/>
<circle cx="405.9" cy="535.9" r="2.55" fill="#fff" fill-opacity="0.25" stroke="#111" stroke-width="0.65"/>
<circle cx="406.4" cy="537.9" r="2.55" fill="#fff" fill-opacity="0.25" stroke="#111" stroke-width="0.65"/>
<circle cx="406.8" cy="537.1" r="2.55" fill="#fff" fill-opacity="0.25" stroke="#111" stroke-width="0.65"/>
<circle cx="407.2" cy="537.0" r="2.55" fill="#fff" fill-opacity="0.25" stroke="#111" stroke-width="0.65"/>
<circle cx="407.6" cy="538.5" r="2.55" fill="#fff" fill-opacity="0.25" stroke="#111" stroke-width="0.65"/>
<circle cx="408.1" cy="536.8" r="2.55" fill="#fff" fill-opacity="0.25" stroke="#111" stroke-width="0.65"/>
<circle cx="408.5" cy="536.5" r="2.55" fill="#fff" fill-opacity="0.25" stroke="#111" stroke-width="0.65"/>
<circle cx="408.9" cy="534.3" r="2.55" fill="#fff" fill-opacity="0.25" stroke="#111" stroke-width="0.65"/>
<circle cx="409.3" cy="537.5" r="2.55" fill="#fff" fill-opacity="0.25" stroke="#111" stroke-width="0.65"/>
<circle cx="409.8" cy="536.9" r="2.55" fill="#fff" fill-opacity="0.25" stroke="#111" stroke-width="0.65"/>
<circle cx="410.2" cy="535.7" r="2.55" fill="#fff" fill-opacity="0.25" stroke="#111" stroke-width="0.65"/>
<circle cx="410.6" cy="536.6" r="2.55" fill="#fff" fill-opacity="0.25" stroke="#111" stroke-width="0.65"/>
<circle cx="411.0" cy="536.1" r="2.55" fill="#fff" fill-opacity="0.25" stroke="#111" stroke-width="0.65"/>
<circle cx="411.5" cy="535.5" r="2.55" fill="#fff" fill-opacity="0.25" stroke="#111" stroke-width="0.65"/>
<circle cx="411.9" cy="535.1" r="2.55" fill="#fff" fill-opacity="0.25" stroke="#111" stroke-width="0.65"/>
<circle cx="412.3" cy="537.7" r="2.55" fill="#fff" fill-opacity="0.25" stroke="#111" stroke-width="0.65"/>
<circle cx="412.8" cy="537.3" r="2.55" fill="#fff" fill-opacity="0.25" stroke="#111" stroke-width="0.65"/>
<circle cx="413.2" cy="537.2" r="2.55" fill="#fff" fill-opacity="0.25" stroke="#111" stroke-width="0.65"/>
<circle cx="413.6" cy="535.6" r="2.55" fill="#fff" fill-opacity="0.25" stroke="#111" stroke-width="0.65"/>
<circle cx="414.0" cy="535.7" r="2.55" fill="#fff" fill-opacity="0.25" stroke="#111" stroke-width="0.65"/>
<circle cx="414.5" cy="537.9" r="2.55" fill="#fff" fill-opacity="0.25" stroke="#111" stroke-width="0.65"/>
<circle cx="414.9" cy="537.0" r="2.55" fill="#fff" fill-opacity="0.25" stroke="#111" stroke-width="0.65"/>
<circle cx="415.3" cy="537.9" r="2.55" fill="#fff" fill-opacity="0.25" stroke="#111" stroke-width="0.65"/>
<circle cx="415.7" cy="535.3" r="2.55" fill="#fff" fill-opacity="0.25" stroke="#111" stroke-width="0.65"/>
<circle cx="416.2" cy="536.4" r="2.55" fill="#fff" fill-opacity="0.25" stroke="#111" stroke-width="0.65"/>
<circle cx="416.6" cy="535.9" r="2.55" fill="#fff" fill-opacity="0.25" stroke="#111" stroke-width="0.65"/>
<circle cx="417.0" cy="536.7" r="2.55" fill="#fff" fill-opacity="0.25" stroke="#111" stroke-width="0.65"/>
<circle cx="417.4" cy="535.4" r="2.55" fill="#fff" fill-opacity="0.25" stroke="#111" stroke-width="0.65"/>
<circle cx="417.9" cy="536.1" r="2.55" fill="#fff" fill-opacity="0.25" stroke="#111" stroke-width="0.65"/>
<circle cx="418.3" cy="536.9" r="2.55" fill="#fff" fill-opacity="0.25" stroke="#111" stroke-width="0.65"/>
<circle cx="418.7" cy="537.6" r="2.55" fill="#fff" fill-opacity="0.25" stroke="#111" stroke-width="0.65"/>
<circle cx="419.2" cy="537.7" r="2.55" fill="#fff" fill-opacity="0.25" stroke="#111" stroke-width="0.65"/>
<circle cx="419.6" cy="536.5" r="2.55" fill="#fff" fill-opacity="0.25" stroke="#111" stroke-width="0.65"/>
<circle cx="420.0" cy="536.2" r="2.55" fill="#fff" fill-opacity="0.25" stroke="#111" stroke-width="0.65"/>
<circle cx="420.4" cy="538.1" r="2.55" fill="#fff" fill-opacity="0.25" stroke="#111" stroke-width="0.65"/>
<circle cx="420.9" cy="537.2" r="2.55" fill="#fff" fill-opacity="0.25" stroke="#111" stroke-width="0.65"/>
<circle cx="421.3" cy="535.5" r="2.55" fill="#fff" fill-opacity="0.25" stroke="#111" stroke-width="0.65"/>
<circle cx="421.7" cy="537.5" r="2.55" fill="#fff" fill-opacity="0.25" stroke="#111" stroke-width="0.65"/>
<circle cx="422.1" cy="537.3" r="2.55" fill="#fff" fill-opacity="0.25" stroke="#111" stroke-width="0.65"/>
<circle cx="422.6" cy="536.1" r="2.55" fill="#fff" fill-opacity="0.25" stroke="#111" stroke-width="0.65"/>
<circle cx="423.0" cy="538.4" r="2.55" fill="#fff" fill-opacity="0.25" stroke="#111" stroke-width="0.65"/>
<circle cx="423.4" cy="536.9" r="2.55" fill="#fff" fill-opacity="0.25" stroke="#111" stroke-width="0.65"/>
<circle cx="423.8" cy="536.8" r="2.55" fill="#fff" fill-opacity="0.25" stroke="#111" stroke-width="0.65"/>
<circle cx="424.3" cy="535.9" r="2.55" fill="#fff" fill-opacity="0.25" stroke="#111" stroke-width="0.65"/>
<circle cx="424.7" cy="538.3" r="2.55" fill="#fff" fill-opacity="0.25" stroke="#111" stroke-width="0.65"/>
<circle cx="425.1" cy="537.9" r="2.55" fill="#fff" fill-opacity="0.25" stroke="#111" stroke-width="0.65"/>
<circle cx="425.5" cy="536.4" r="2.55" fill="#fff" fill-opacity="0.25" stroke="#111" stroke-width="0.65"/>
<circle cx="426.0" cy="536.3" r="2.55" fill="#fff" fill-opacity="0.25" stroke="#111" stroke-width="0.65"/>
<circle cx="426.4" cy="535.7" r="2.55" fill="#fff" fill-opacity="0.25" stroke="#111" stroke-width="0.65"/>
<circle cx="426.8" cy="535.8" r="2.55" fill="#fff" fill-opacity="0.25" stroke="#111" stroke-width="0.65"/>
<circle cx="427.3" cy="537.0" r="2.55" fill="#fff" fill-opacity="0.25" stroke="#111" stroke-width="0.65"/>
<circle cx="427.7" cy="536.9" r="2.55" fill="#fff" fill-opacity="0.25" stroke="#111" stroke-width="0.65"/>
<circle cx="428.1" cy="536.1" r="2.55" fill="#fff" fill-opacity="0.25" stroke="#111" stroke-width="0.65"/>
<circle cx="428.5" cy="535.4" r="2.55" fill="#fff" fill-opacity="0.25" stroke="#111" stroke-width="0.65"/>
<circle cx="429.0" cy="537.3" r="2.55" fill="#fff" fill-opacity="0.25" stroke="#111" stroke-width="0.65"/>
<circle cx="429.4" cy="537.6" r="2.55" fill="#fff" fill-opacity="0.25" stroke="#111" stroke-width="0.65"/>
<circle cx="429.8" cy="536.5" r="2.55" fill="#fff" fill-opacity="0.25" stroke="#111" stroke-width="0.65"/>
<circle cx="430.2" cy="536.8" r="2.55" fill="#fff" fill-opacity="0.25" stroke="#111" stroke-width="0.65"/>
<circle cx="430.7" cy="538.1" r="2.55" fill="#fff" fill-opacity="0.25" stroke="#111" stroke-width="0.65"/>
<circle cx="431.1" cy="536.3" r="2.55" fill="#fff" fill-opacity="0.25" stroke="#111" stroke-width="0.65"/>
<circle cx="431.5" cy="535.8" r="2.55" fill="#fff" fill-opacity="0.25" stroke="#111" stroke-width="0.65"/>
<circle cx="431.9" cy="536.7" r="2.55" fill="#fff" fill-opacity="0.25" stroke="#111" stroke-width="0.65"/>
<circle cx="432.4" cy="535.7" r="2.55" fill="#fff" fill-opacity="0.25" stroke="#111" stroke-width="0.65"/>
<circle cx="432.8" cy="537.5" r="2.55" fill="#fff" fill-opacity="0.25" stroke="#111" stroke-width="0.65"/>
<circle cx="433.2" cy="535.9" r="2.55" fill="#fff" fill-opacity="0.25" stroke="#111" stroke-width="0.65"/>
<circle cx="433.7" cy="536.8" r="2.55" fill="#fff" fill-opacity="0.25" stroke="#111" stroke-width="0.65"/>
<circle cx="434.1" cy="537.0" r="2.55" fill="#fff" fill-opacity="0.25" stroke="#111" stroke-width="0.65"/>
<circle cx="434.5" cy="538.1" r="2.55" fill="#fff" fill-opacity="0.25" stroke="#111" stroke-width="0.65"/>
<circle cx="434.9" cy="536.9" r="2.55" fill="#fff" fill-opacity="0.25" stroke="#111" stroke-width="0.65"/>
<circle cx="435.4" cy="536.4" r="2.55" fill="#fff" fill-opacity="0.25" stroke="#111" stroke-width="0.65"/>
<circle cx="435.8" cy="536.3" r="2.55" fill="#fff" fill-opacity="0.25" stroke="#111" stroke-width="0.65"/>
<circle cx="436.2" cy="536.0" r="2.55" fill="#fff" fill-opacity="0.25" stroke="#111" stroke-width="0.65"/>
<circle cx="436.6" cy="536.0" r="2.55" fill="#fff" fill-opacity="0.25" stroke="#111" stroke-width="0.65"/>
<circle cx="437.1" cy="536.2" r="2.55" fill="#fff" fill-opacity="0.25" stroke="#111" stroke-width="0.65"/>
<circle cx="437.5" cy="536.8" r="2.55" fill="#fff" fill-opacity="0.25" stroke="#111" stroke-width="0.65"/>
<circle cx="437.9" cy="536.7" r="2.55" fill="#fff" fill-opacity="0.25" stroke="#111" stroke-width="0.65"/>
<circle cx="438.3" cy="536.4" r="2.55" fill="#fff" fill-opacity="0.25" stroke="#111" stroke-width="0.65"/>
<circle cx="438.8" cy="537.9" r="2.55" fill="#fff" fill-opacity="0.25" stroke="#111" stroke-width="0.65"/>
<circle cx="439.2" cy="535.8" r="2.55" fill="#fff" fill-opacity="0.25" stroke="#111" stroke-width="0.65"/>
<circle cx="439.6" cy="537.9" r="2.55" fill="#fff" fill-opacity="0.25" stroke="#111" stroke-width="0.65"/>
<circle cx="440.0" cy="536.9" r="2.55" fill="#fff" fill-opacity="0.25" stroke="#111" stroke-width="0.65"/>
<circle cx="440.5" cy="538.4" r="2.55" fill="#fff" fill-opacity="0.25" stroke="#111" stroke-width="0.65"/>
<circle cx="440.9" cy="535.3" r="2.55" fill="#fff" fill-opacity="0.25" stroke="#111" stroke-width="0.65"/>
<circle cx="441.3" cy="536.8" r="2.55" fill="#fff" fill-opacity="0.25" stroke="#111" stroke-width="0.65"/>
<circle cx="441.8" cy="536.0" r="2.55" fill="#fff" fill-opacity="0.25" stroke="#111" stroke-width="0.65"/>
<circle cx="442.2" cy="536.5" r="2.55" fill="#fff" fill-opacity="0.25" stroke="#111" stroke-width="0.65"/>
<circle cx="442.6" cy="536.2" r="2.55" fill="#fff" fill-opacity="0.25" stroke="#111" stroke-width="0.65"/>
<circle cx="443.0" cy="536.2" r="2.55" fill="#fff" fill-opacity="0.25" stroke="#111" stroke-width="0.65"/>
<circle cx="443.5" cy="536.2" r="2.55" fill="#fff" fill-opacity="0.25" stroke="#111" stroke-width="0.65"/>
<circle cx="443.9" cy="535.6" r="2.55" fill="#fff" fill-opacity="0.25" stroke="#111" stroke-width="0.65"/>
<circle cx="444.3" cy="537.7" r="2.55" fill="#fff" fill-opacity="0.25" stroke="#111" stroke-width="0.65"/>
<circle cx="444.7" cy="536.1" r="2.55" fill="#fff" fill-opacity="0.25" stroke="#111" stroke-width="0.65"/>
<circle cx="445.2" cy="536.4" r="2.55" fill="#fff" fill-opacity="0.25" stroke="#111" stroke-width="0.65"/>
<circle cx="445.6" cy="536.8" r="2.55" fill="#fff" fill-opacity="0.25" stroke="#111" stroke-width="0.65"/>
<circle cx="446.0" cy="537.3" r="2.55" fill="#fff" fill-opacity="0.25" stroke="#111" stroke-width="0.65"/>
<circle cx="446.4" cy="535.8" r="2.55" fill="#fff" fill-opacity="0.25" stroke="#111" stroke-width="0.65"/>
<circle cx="446.9" cy="536.7" r="2.55" fill="#fff" fill-opacity="0.25" stroke="#111" stroke-width="0.65"/>
<circle cx="447.3" cy="536.1" r="2.55" fill="#fff" fill-opacity="0.25" stroke="#111" stroke-width="0.65"/>
</g>
<text x="324.5" y="439.0" font-size="9.0" fill="#000" text-anchor="start" font-weight="normal" >READ: V<tspan dy="2.7" font-size="60%">GS</tspan><tspan dy="-2.7" font-size="1%">&#8203;</tspan> = -1 V, V<tspan dy="2.7" font-size="60%">DS</tspan><tspan dy="-2.7" font-size="1%">&#8203;</tspan> = 0.1 V</text>
<text x="324.5" y="473.0" font-size="9.85" fill="#7d14f0" text-anchor="start" font-weight="normal" >Erase V<tspan dy="2.0" font-size="70%">GS</tspan><tspan dy="-2.0" font-size="1%">&#8203;</tspan> = -7 V 60 &#181;s</text>
<text x="324.6" y="529.0" font-size="9.85" fill="#000" text-anchor="start" font-weight="normal" >Program V<tspan dy="2.0" font-size="70%">GS</tspan><tspan dy="-2.0" font-size="1%">&#8203;</tspan> = +7 V 60 &#181;s</text>
<text x="361.5" y="607.6" font-size="12.2" fill="#000" text-anchor="middle" font-weight="bold" >Program/Erase cycles</text>
<g transform="translate(240,499) rotate(-90)"><text x="0.0" y="0.0" font-size="12.2" fill="#000" text-anchor="middle" font-weight="bold" >I<tspan dy="2.2" font-size="72%">D</tspan><tspan dy="-2.2" font-size="1%">&#8203;</tspan> (A)</text></g>
<text x="226.5" y="431.3" font-size="18.6" fill="#000" text-anchor="start" font-weight="bold" >g</text>
<rect x="504.9" y="426.4" width="169.89999999999998" height="150.20000000000005" fill="#fff" stroke="#666" stroke-width="0.95"/>
<defs><clipPath id="clipH"><rect x="504.29999999999995" y="426.4" width="173.39999999999998" height="150.20000000000005"/></clipPath></defs>
<line x1="504.9" y1="426.4" x2="509.4" y2="426.4" stroke="#000" stroke-width="0.8"/>
<text transform="translate(500.5,431.0) scale(0.915,1)" font-size="12.9" text-anchor="end">10<tspan dy="-4.9" font-size="8.3">-7</tspan></text>
<line x1="504.9" y1="447.8" x2="509.4" y2="447.8" stroke="#000" stroke-width="0.8"/>
<text transform="translate(500.5,452.4) scale(0.915,1)" font-size="12.9" text-anchor="end">10<tspan dy="-4.9" font-size="8.3">-8</tspan></text>
<line x1="504.9" y1="469.3" x2="509.4" y2="469.3" stroke="#000" stroke-width="0.8"/>
<text transform="translate(500.5,473.9) scale(0.915,1)" font-size="12.9" text-anchor="end">10<tspan dy="-4.9" font-size="8.3">-9</tspan></text>
<line x1="504.9" y1="490.7" x2="509.4" y2="490.7" stroke="#000" stroke-width="0.8"/>
<text transform="translate(500.5,495.3) scale(0.915,1)" font-size="12.9" text-anchor="end">10<tspan dy="-4.9" font-size="8.3">-10</tspan></text>
<line x1="504.9" y1="512.1" x2="509.4" y2="512.1" stroke="#000" stroke-width="0.8"/>
<text transform="translate(500.5,516.7) scale(0.915,1)" font-size="12.9" text-anchor="end">10<tspan dy="-4.9" font-size="8.3">-11</tspan></text>
<line x1="504.9" y1="533.5" x2="509.4" y2="533.5" stroke="#000" stroke-width="0.8"/>
<text transform="translate(500.5,538.1) scale(0.915,1)" font-size="12.9" text-anchor="end">10<tspan dy="-4.9" font-size="8.3">-12</tspan></text>
<line x1="504.9" y1="555.0" x2="509.4" y2="555.0" stroke="#000" stroke-width="0.8"/>
<text transform="translate(500.5,559.6) scale(0.915,1)" font-size="12.9" text-anchor="end">10<tspan dy="-4.9" font-size="8.3">-13</tspan></text>
<line x1="504.9" y1="576.4" x2="509.4" y2="576.4" stroke="#000" stroke-width="0.8"/>
<text transform="translate(500.5,581.0) scale(0.915,1)" font-size="12.9" text-anchor="end">10<tspan dy="-4.9" font-size="8.3">-14</tspan></text>
<line x1="504.9" y1="441.38" x2="507.3" y2="441.38" stroke="#000" stroke-width="0.6"/>
<line x1="504.9" y1="437.61" x2="507.3" y2="437.61" stroke="#000" stroke-width="0.6"/>
<line x1="504.9" y1="434.93" x2="507.3" y2="434.93" stroke="#000" stroke-width="0.6"/>
<line x1="504.9" y1="432.85" x2="507.3" y2="432.85" stroke="#000" stroke-width="0.6"/>
<line x1="504.9" y1="431.15" x2="507.3" y2="431.15" stroke="#000" stroke-width="0.6"/>
<line x1="504.9" y1="429.72" x2="507.3" y2="429.72" stroke="#000" stroke-width="0.6"/>
<line x1="504.9" y1="428.48" x2="507.3" y2="428.48" stroke="#000" stroke-width="0.6"/>
<line x1="504.9" y1="427.38" x2="507.3" y2="427.38" stroke="#000" stroke-width="0.6"/>
<line x1="504.9" y1="462.81" x2="507.3" y2="462.81" stroke="#000" stroke-width="0.6"/>
<line x1="504.9" y1="459.04" x2="507.3" y2="459.04" stroke="#000" stroke-width="0.6"/>
<line x1="504.9" y1="456.36" x2="507.3" y2="456.36" stroke="#000" stroke-width="0.6"/>
<line x1="504.9" y1="454.28" x2="507.3" y2="454.28" stroke="#000" stroke-width="0.6"/>
<line x1="504.9" y1="452.58" x2="507.3" y2="452.58" stroke="#000" stroke-width="0.6"/>
<line x1="504.9" y1="451.15" x2="507.3" y2="451.15" stroke="#000" stroke-width="0.6"/>
<line x1="504.9" y1="449.91" x2="507.3" y2="449.91" stroke="#000" stroke-width="0.6"/>
<line x1="504.9" y1="448.81" x2="507.3" y2="448.81" stroke="#000" stroke-width="0.6"/>
<line x1="504.9" y1="484.24" x2="507.3" y2="484.24" stroke="#000" stroke-width="0.6"/>
<line x1="504.9" y1="480.47" x2="507.3" y2="480.47" stroke="#000" stroke-width="0.6"/>
<line x1="504.9" y1="477.79" x2="507.3" y2="477.79" stroke="#000" stroke-width="0.6"/>
<line x1="504.9" y1="475.71" x2="507.3" y2="475.71" stroke="#000" stroke-width="0.6"/>
<line x1="504.9" y1="474.01" x2="507.3" y2="474.01" stroke="#000" stroke-width="0.6"/>
<line x1="504.9" y1="472.58" x2="507.3" y2="472.58" stroke="#000" stroke-width="0.6"/>
<line x1="504.9" y1="471.34" x2="507.3" y2="471.34" stroke="#000" stroke-width="0.6"/>
<line x1="504.9" y1="470.24" x2="507.3" y2="470.24" stroke="#000" stroke-width="0.6"/>
<line x1="504.9" y1="505.67" x2="507.3" y2="505.67" stroke="#000" stroke-width="0.6"/>
<line x1="504.9" y1="501.90" x2="507.3" y2="501.90" stroke="#000" stroke-width="0.6"/>
<line x1="504.9" y1="499.22" x2="507.3" y2="499.22" stroke="#000" stroke-width="0.6"/>
<line x1="504.9" y1="497.14" x2="507.3" y2="497.14" stroke="#000" stroke-width="0.6"/>
<line x1="504.9" y1="495.44" x2="507.3" y2="495.44" stroke="#000" stroke-width="0.6"/>
<line x1="504.9" y1="494.01" x2="507.3" y2="494.01" stroke="#000" stroke-width="0.6"/>
<line x1="504.9" y1="492.77" x2="507.3" y2="492.77" stroke="#000" stroke-width="0.6"/>
<line x1="504.9" y1="491.67" x2="507.3" y2="491.67" stroke="#000" stroke-width="0.6"/>
<line x1="504.9" y1="527.10" x2="507.3" y2="527.10" stroke="#000" stroke-width="0.6"/>
<line x1="504.9" y1="523.33" x2="507.3" y2="523.33" stroke="#000" stroke-width="0.6"/>
<line x1="504.9" y1="520.65" x2="507.3" y2="520.65" stroke="#000" stroke-width="0.6"/>
<line x1="504.9" y1="518.57" x2="507.3" y2="518.57" stroke="#000" stroke-width="0.6"/>
<line x1="504.9" y1="516.87" x2="507.3" y2="516.87" stroke="#000" stroke-width="0.6"/>
<line x1="504.9" y1="515.44" x2="507.3" y2="515.44" stroke="#000" stroke-width="0.6"/>
<line x1="504.9" y1="514.20" x2="507.3" y2="514.20" stroke="#000" stroke-width="0.6"/>
<line x1="504.9" y1="513.10" x2="507.3" y2="513.10" stroke="#000" stroke-width="0.6"/>
<line x1="504.9" y1="548.53" x2="507.3" y2="548.53" stroke="#000" stroke-width="0.6"/>
<line x1="504.9" y1="544.76" x2="507.3" y2="544.76" stroke="#000" stroke-width="0.6"/>
<line x1="504.9" y1="542.08" x2="507.3" y2="542.08" stroke="#000" stroke-width="0.6"/>
<line x1="504.9" y1="540.00" x2="507.3" y2="540.00" stroke="#000" stroke-width="0.6"/>
<line x1="504.9" y1="538.30" x2="507.3" y2="538.30" stroke="#000" stroke-width="0.6"/>
<line x1="504.9" y1="536.87" x2="507.3" y2="536.87" stroke="#000" stroke-width="0.6"/>
<line x1="504.9" y1="535.63" x2="507.3" y2="535.63" stroke="#000" stroke-width="0.6"/>
<line x1="504.9" y1="534.53" x2="507.3" y2="534.53" stroke="#000" stroke-width="0.6"/>
<line x1="504.9" y1="569.96" x2="507.3" y2="569.96" stroke="#000" stroke-width="0.6"/>
<line x1="504.9" y1="566.19" x2="507.3" y2="566.19" stroke="#000" stroke-width="0.6"/>
<line x1="504.9" y1="563.51" x2="507.3" y2="563.51" stroke="#000" stroke-width="0.6"/>
<line x1="504.9" y1="561.43" x2="507.3" y2="561.43" stroke="#000" stroke-width="0.6"/>
<line x1="504.9" y1="559.73" x2="507.3" y2="559.73" stroke="#000" stroke-width="0.6"/>
<line x1="504.9" y1="558.30" x2="507.3" y2="558.30" stroke="#000" stroke-width="0.6"/>
<line x1="504.9" y1="557.06" x2="507.3" y2="557.06" stroke="#000" stroke-width="0.6"/>
<line x1="504.9" y1="555.96" x2="507.3" y2="555.96" stroke="#000" stroke-width="0.6"/>
<line x1="505.0" y1="576.6" x2="505.0" y2="572.1" stroke="#000" stroke-width="0.8"/>
<text transform="translate(505.0,590.9) scale(0.915,1)" font-size="13.0" text-anchor="middle">0</text>
<line x1="522.0" y1="576.6" x2="522.0" y2="574.2" stroke="#000" stroke-width="0.6"/>
<line x1="539.0" y1="576.6" x2="539.0" y2="572.1" stroke="#000" stroke-width="0.8"/>
<text transform="translate(539.0,590.9) scale(0.915,1)" font-size="13.0" text-anchor="middle">2k</text>
<line x1="555.9" y1="576.6" x2="555.9" y2="574.2" stroke="#000" stroke-width="0.6"/>
<line x1="572.9" y1="576.6" x2="572.9" y2="572.1" stroke="#000" stroke-width="0.8"/>
<text transform="translate(572.9,590.9) scale(0.915,1)" font-size="13.0" text-anchor="middle">4k</text>
<line x1="589.9" y1="576.6" x2="589.9" y2="574.2" stroke="#000" stroke-width="0.6"/>
<line x1="606.9" y1="576.6" x2="606.9" y2="572.1" stroke="#000" stroke-width="0.8"/>
<text transform="translate(606.9,590.9) scale(0.915,1)" font-size="13.0" text-anchor="middle">6k</text>
<line x1="623.9" y1="576.6" x2="623.9" y2="574.2" stroke="#000" stroke-width="0.6"/>
<line x1="640.8" y1="576.6" x2="640.8" y2="572.1" stroke="#000" stroke-width="0.8"/>
<text transform="translate(640.8,590.9) scale(0.915,1)" font-size="13.0" text-anchor="middle">8k</text>
<line x1="657.8" y1="576.6" x2="657.8" y2="574.2" stroke="#000" stroke-width="0.6"/>
<line x1="674.8" y1="576.6" x2="674.8" y2="572.1" stroke="#000" stroke-width="0.8"/>
<text transform="translate(674.8,590.9) scale(0.915,1)" font-size="13.0" text-anchor="middle">10k</text>
<g clip-path="url(#clipH)">
<polyline points="505.0,439.5 505.7,440.8 506.4,441.8 507.0,442.6 507.7,443.3 508.4,444.1 509.1,444.9 509.8,445.6 510.4,446.4 511.1,447.2 511.8,447.8 512.5,448.0 513.2,448.3 513.8,448.5 514.5,448.8 515.2,449.1 520.3,451.0 525.4,452.5 530.5,453.7 535.6,455.0 540.7,455.8 545.8,456.6 550.8,457.5 555.9,458.4 561.0,459.3 566.1,460.1 571.2,460.7 576.3,461.4 581.4,461.9 586.5,462.3 591.6,462.7 596.7,463.1 601.8,463.5 606.9,463.9 612.0,464.2 617.1,464.5 622.2,464.8 627.3,465.1 632.4,465.4 637.4,465.6 642.5,465.8 647.6,466.0 652.7,466.1 657.8,466.3 662.9,466.5 668.0,466.7 673.1,466.8" fill="none" stroke="#7d14f0" stroke-width="0.7" />
<rect x="502.6" y="437.1" width="4.8" height="4.8" fill="#7d14f0"/>
<rect x="503.3" y="438.4" width="4.8" height="4.8" fill="#7d14f0"/>
<rect x="504.0" y="439.4" width="4.8" height="4.8" fill="#7d14f0"/>
<rect x="504.6" y="440.2" width="4.8" height="4.8" fill="#7d14f0"/>
<rect x="505.3" y="440.9" width="4.8" height="4.8" fill="#7d14f0"/>
<rect x="506.0" y="441.7" width="4.8" height="4.8" fill="#7d14f0"/>
<rect x="506.7" y="442.5" width="4.8" height="4.8" fill="#7d14f0"/>
<rect x="507.4" y="443.2" width="4.8" height="4.8" fill="#7d14f0"/>
<rect x="508.0" y="444.0" width="4.8" height="4.8" fill="#7d14f0"/>
<rect x="508.7" y="444.8" width="4.8" height="4.8" fill="#7d14f0"/>
<rect x="509.4" y="445.4" width="4.8" height="4.8" fill="#7d14f0"/>
<rect x="510.1" y="445.6" width="4.8" height="4.8" fill="#7d14f0"/>
<rect x="510.8" y="445.9" width="4.8" height="4.8" fill="#7d14f0"/>
<rect x="511.4" y="446.1" width="4.8" height="4.8" fill="#7d14f0"/>
<rect x="512.1" y="446.4" width="4.8" height="4.8" fill="#7d14f0"/>
<rect x="512.8" y="446.7" width="4.8" height="4.8" fill="#7d14f0"/>
<rect x="517.9" y="448.6" width="4.8" height="4.8" fill="#7d14f0"/>
<rect x="523.0" y="450.1" width="4.8" height="4.8" fill="#7d14f0"/>
<rect x="528.1" y="451.3" width="4.8" height="4.8" fill="#7d14f0"/>
<rect x="533.2" y="452.6" width="4.8" height="4.8" fill="#7d14f0"/>
<rect x="538.3" y="453.4" width="4.8" height="4.8" fill="#7d14f0"/>
<rect x="543.4" y="454.2" width="4.8" height="4.8" fill="#7d14f0"/>
<rect x="548.4" y="455.1" width="4.8" height="4.8" fill="#7d14f0"/>
<rect x="553.5" y="456.0" width="4.8" height="4.8" fill="#7d14f0"/>
<rect x="558.6" y="456.9" width="4.8" height="4.8" fill="#7d14f0"/>
<rect x="563.7" y="457.7" width="4.8" height="4.8" fill="#7d14f0"/>
<rect x="568.8" y="458.3" width="4.8" height="4.8" fill="#7d14f0"/>
<rect x="573.9" y="459.0" width="4.8" height="4.8" fill="#7d14f0"/>
<rect x="579.0" y="459.5" width="4.8" height="4.8" fill="#7d14f0"/>
<rect x="584.1" y="459.9" width="4.8" height="4.8" fill="#7d14f0"/>
<rect x="589.2" y="460.3" width="4.8" height="4.8" fill="#7d14f0"/>
<rect x="594.3" y="460.7" width="4.8" height="4.8" fill="#7d14f0"/>
<rect x="599.4" y="461.1" width="4.8" height="4.8" fill="#7d14f0"/>
<rect x="604.5" y="461.5" width="4.8" height="4.8" fill="#7d14f0"/>
<rect x="609.6" y="461.8" width="4.8" height="4.8" fill="#7d14f0"/>
<rect x="614.7" y="462.1" width="4.8" height="4.8" fill="#7d14f0"/>
<rect x="619.8" y="462.4" width="4.8" height="4.8" fill="#7d14f0"/>
<rect x="624.9" y="462.7" width="4.8" height="4.8" fill="#7d14f0"/>
<rect x="630.0" y="463.0" width="4.8" height="4.8" fill="#7d14f0"/>
<rect x="635.0" y="463.2" width="4.8" height="4.8" fill="#7d14f0"/>
<rect x="640.1" y="463.4" width="4.8" height="4.8" fill="#7d14f0"/>
<rect x="645.2" y="463.6" width="4.8" height="4.8" fill="#7d14f0"/>
<rect x="650.3" y="463.7" width="4.8" height="4.8" fill="#7d14f0"/>
<rect x="655.4" y="463.9" width="4.8" height="4.8" fill="#7d14f0"/>
<rect x="660.5" y="464.1" width="4.8" height="4.8" fill="#7d14f0"/>
<rect x="665.6" y="464.3" width="4.8" height="4.8" fill="#7d14f0"/>
<rect x="670.7" y="464.4" width="4.8" height="4.8" fill="#7d14f0"/>
<polyline points="505.0,434.5 505.7,435.4 506.4,436.0 507.0,436.5 507.7,436.9 508.4,437.3 509.1,437.8 509.8,438.2 510.4,438.7 511.1,439.1 511.8,439.5 512.5,439.7 513.2,439.9 513.8,440.1 514.5,440.3 515.2,440.5 520.3,442.0 525.4,443.1 530.5,443.8 535.6,444.6 540.7,445.2 545.8,445.8 550.8,446.3 555.9,446.9 561.0,447.4 566.1,447.8 571.2,448.2 576.3,448.7 581.4,448.9 586.5,449.2 591.6,449.4 596.7,449.6 601.8,449.8 606.9,450.0 612.0,450.2 617.1,450.3 622.2,450.5 627.3,450.6 632.4,450.8 637.4,450.9 642.5,451.0 647.6,451.1 652.7,451.2 657.8,451.3 662.9,451.4 668.0,451.5 673.1,451.6" fill="none" stroke="#c9a0f2" stroke-width="0.7" />
<rect x="503.1" y="432.6" width="3.8" height="3.8" fill="#fdfaff" stroke="#c8a2f4" stroke-width="1.0"/>
<rect x="503.8" y="433.5" width="3.8" height="3.8" fill="#fdfaff" stroke="#c8a2f4" stroke-width="1.0"/>
<rect x="504.5" y="434.1" width="3.8" height="3.8" fill="#fdfaff" stroke="#c8a2f4" stroke-width="1.0"/>
<rect x="505.1" y="434.6" width="3.8" height="3.8" fill="#fdfaff" stroke="#c8a2f4" stroke-width="1.0"/>
<rect x="505.8" y="435.0" width="3.8" height="3.8" fill="#fdfaff" stroke="#c8a2f4" stroke-width="1.0"/>
<rect x="506.5" y="435.4" width="3.8" height="3.8" fill="#fdfaff" stroke="#c8a2f4" stroke-width="1.0"/>
<rect x="507.2" y="435.9" width="3.8" height="3.8" fill="#fdfaff" stroke="#c8a2f4" stroke-width="1.0"/>
<rect x="507.9" y="436.3" width="3.8" height="3.8" fill="#fdfaff" stroke="#c8a2f4" stroke-width="1.0"/>
<rect x="508.5" y="436.8" width="3.8" height="3.8" fill="#fdfaff" stroke="#c8a2f4" stroke-width="1.0"/>
<rect x="509.2" y="437.2" width="3.8" height="3.8" fill="#fdfaff" stroke="#c8a2f4" stroke-width="1.0"/>
<rect x="509.9" y="437.6" width="3.8" height="3.8" fill="#fdfaff" stroke="#c8a2f4" stroke-width="1.0"/>
<rect x="510.6" y="437.8" width="3.8" height="3.8" fill="#fdfaff" stroke="#c8a2f4" stroke-width="1.0"/>
<rect x="511.3" y="438.0" width="3.8" height="3.8" fill="#fdfaff" stroke="#c8a2f4" stroke-width="1.0"/>
<rect x="511.9" y="438.2" width="3.8" height="3.8" fill="#fdfaff" stroke="#c8a2f4" stroke-width="1.0"/>
<rect x="512.6" y="438.4" width="3.8" height="3.8" fill="#fdfaff" stroke="#c8a2f4" stroke-width="1.0"/>
<rect x="513.3" y="438.6" width="3.8" height="3.8" fill="#fdfaff" stroke="#c8a2f4" stroke-width="1.0"/>
<rect x="518.4" y="440.1" width="3.8" height="3.8" fill="#fdfaff" stroke="#c8a2f4" stroke-width="1.0"/>
<rect x="523.5" y="441.2" width="3.8" height="3.8" fill="#fdfaff" stroke="#c8a2f4" stroke-width="1.0"/>
<rect x="528.6" y="441.9" width="3.8" height="3.8" fill="#fdfaff" stroke="#c8a2f4" stroke-width="1.0"/>
<rect x="533.7" y="442.7" width="3.8" height="3.8" fill="#fdfaff" stroke="#c8a2f4" stroke-width="1.0"/>
<rect x="538.8" y="443.3" width="3.8" height="3.8" fill="#fdfaff" stroke="#c8a2f4" stroke-width="1.0"/>
<rect x="543.9" y="443.9" width="3.8" height="3.8" fill="#fdfaff" stroke="#c8a2f4" stroke-width="1.0"/>
<rect x="548.9" y="444.4" width="3.8" height="3.8" fill="#fdfaff" stroke="#c8a2f4" stroke-width="1.0"/>
<rect x="554.0" y="445.0" width="3.8" height="3.8" fill="#fdfaff" stroke="#c8a2f4" stroke-width="1.0"/>
<rect x="559.1" y="445.5" width="3.8" height="3.8" fill="#fdfaff" stroke="#c8a2f4" stroke-width="1.0"/>
<rect x="564.2" y="445.9" width="3.8" height="3.8" fill="#fdfaff" stroke="#c8a2f4" stroke-width="1.0"/>
<rect x="569.3" y="446.3" width="3.8" height="3.8" fill="#fdfaff" stroke="#c8a2f4" stroke-width="1.0"/>
<rect x="574.4" y="446.8" width="3.8" height="3.8" fill="#fdfaff" stroke="#c8a2f4" stroke-width="1.0"/>
<rect x="579.5" y="447.0" width="3.8" height="3.8" fill="#fdfaff" stroke="#c8a2f4" stroke-width="1.0"/>
<rect x="584.6" y="447.3" width="3.8" height="3.8" fill="#fdfaff" stroke="#c8a2f4" stroke-width="1.0"/>
<rect x="589.7" y="447.5" width="3.8" height="3.8" fill="#fdfaff" stroke="#c8a2f4" stroke-width="1.0"/>
<rect x="594.8" y="447.7" width="3.8" height="3.8" fill="#fdfaff" stroke="#c8a2f4" stroke-width="1.0"/>
<rect x="599.9" y="447.9" width="3.8" height="3.8" fill="#fdfaff" stroke="#c8a2f4" stroke-width="1.0"/>
<rect x="605.0" y="448.1" width="3.8" height="3.8" fill="#fdfaff" stroke="#c8a2f4" stroke-width="1.0"/>
<rect x="610.1" y="448.3" width="3.8" height="3.8" fill="#fdfaff" stroke="#c8a2f4" stroke-width="1.0"/>
<rect x="615.2" y="448.4" width="3.8" height="3.8" fill="#fdfaff" stroke="#c8a2f4" stroke-width="1.0"/>
<rect x="620.3" y="448.6" width="3.8" height="3.8" fill="#fdfaff" stroke="#c8a2f4" stroke-width="1.0"/>
<rect x="625.4" y="448.7" width="3.8" height="3.8" fill="#fdfaff" stroke="#c8a2f4" stroke-width="1.0"/>
<rect x="630.5" y="448.9" width="3.8" height="3.8" fill="#fdfaff" stroke="#c8a2f4" stroke-width="1.0"/>
<rect x="635.5" y="449.0" width="3.8" height="3.8" fill="#fdfaff" stroke="#c8a2f4" stroke-width="1.0"/>
<rect x="640.6" y="449.1" width="3.8" height="3.8" fill="#fdfaff" stroke="#c8a2f4" stroke-width="1.0"/>
<rect x="645.7" y="449.2" width="3.8" height="3.8" fill="#fdfaff" stroke="#c8a2f4" stroke-width="1.0"/>
<rect x="650.8" y="449.3" width="3.8" height="3.8" fill="#fdfaff" stroke="#c8a2f4" stroke-width="1.0"/>
<rect x="655.9" y="449.4" width="3.8" height="3.8" fill="#fdfaff" stroke="#c8a2f4" stroke-width="1.0"/>
<rect x="661.0" y="449.5" width="3.8" height="3.8" fill="#fdfaff" stroke="#c8a2f4" stroke-width="1.0"/>
<rect x="666.1" y="449.6" width="3.8" height="3.8" fill="#fdfaff" stroke="#c8a2f4" stroke-width="1.0"/>
<rect x="671.2" y="449.7" width="3.8" height="3.8" fill="#fdfaff" stroke="#c8a2f4" stroke-width="1.0"/>
<polyline points="505.5,544.4 506.1,546.6 506.9,550.5 508.0,554.4 507.2,559.4 509.4,556.9 511.1,554.9 513.0,550.5 515.0,568.8 520.0,583.2 525.5,544.4 530.2,545.8 535.2,547.7 540.2,548.8 545.5,545.2 550.5,545.8 555.5,547.2 560.7,543.3 565.7,548.5 570.7,540.5 576.0,545.2 581.0,541.6 586.0,540.8 591.0,539.7 596.5,538.3 601.8,544.4 606.8,541.1 611.5,542.2 617.1,541.6 622.0,550.2 627.3,541.6 632.3,544.4 637.3,539.7 642.6,551.3 647.6,540.2 652.6,544.4 657.8,540.2 662.8,543.0 667.8,543.8 673.1,542.2" fill="none" stroke="#222" stroke-width="0.7" />
<rect x="503.4" y="542.3" width="4.2" height="4.2" fill="#fff" stroke="#222" stroke-width="0.8"/>
<rect x="504.0" y="544.5" width="4.2" height="4.2" fill="#fff" stroke="#222" stroke-width="0.8"/>
<rect x="504.8" y="548.4" width="4.2" height="4.2" fill="#fff" stroke="#222" stroke-width="0.8"/>
<rect x="505.9" y="552.3" width="4.2" height="4.2" fill="#fff" stroke="#222" stroke-width="0.8"/>
<rect x="505.1" y="557.3" width="4.2" height="4.2" fill="#fff" stroke="#222" stroke-width="0.8"/>
<rect x="507.3" y="554.8" width="4.2" height="4.2" fill="#fff" stroke="#222" stroke-width="0.8"/>
<rect x="509.0" y="552.8" width="4.2" height="4.2" fill="#fff" stroke="#222" stroke-width="0.8"/>
<rect x="510.9" y="548.4" width="4.2" height="4.2" fill="#fff" stroke="#222" stroke-width="0.8"/>
<rect x="512.9" y="566.7" width="4.2" height="4.2" fill="#fff" stroke="#222" stroke-width="0.8"/>
<rect x="517.9" y="581.1" width="4.2" height="4.2" fill="#fff" stroke="#222" stroke-width="0.8"/>
<rect x="523.4" y="542.3" width="4.2" height="4.2" fill="#fff" stroke="#222" stroke-width="0.8"/>
<rect x="528.1" y="543.7" width="4.2" height="4.2" fill="#fff" stroke="#222" stroke-width="0.8"/>
<rect x="533.1" y="545.6" width="4.2" height="4.2" fill="#fff" stroke="#222" stroke-width="0.8"/>
<rect x="538.1" y="546.7" width="4.2" height="4.2" fill="#fff" stroke="#222" stroke-width="0.8"/>
<rect x="543.4" y="543.1" width="4.2" height="4.2" fill="#fff" stroke="#222" stroke-width="0.8"/>
<rect x="548.4" y="543.7" width="4.2" height="4.2" fill="#fff" stroke="#222" stroke-width="0.8"/>
<rect x="553.4" y="545.1" width="4.2" height="4.2" fill="#fff" stroke="#222" stroke-width="0.8"/>
<rect x="558.6" y="541.2" width="4.2" height="4.2" fill="#fff" stroke="#222" stroke-width="0.8"/>
<rect x="563.6" y="546.4" width="4.2" height="4.2" fill="#fff" stroke="#222" stroke-width="0.8"/>
<rect x="568.6" y="538.4" width="4.2" height="4.2" fill="#fff" stroke="#222" stroke-width="0.8"/>
<rect x="573.9" y="543.1" width="4.2" height="4.2" fill="#fff" stroke="#222" stroke-width="0.8"/>
<rect x="578.9" y="539.5" width="4.2" height="4.2" fill="#fff" stroke="#222" stroke-width="0.8"/>
<rect x="583.9" y="538.7" width="4.2" height="4.2" fill="#fff" stroke="#222" stroke-width="0.8"/>
<rect x="588.9" y="537.6" width="4.2" height="4.2" fill="#fff" stroke="#222" stroke-width="0.8"/>
<rect x="594.4" y="536.2" width="4.2" height="4.2" fill="#fff" stroke="#222" stroke-width="0.8"/>
<rect x="599.7" y="542.3" width="4.2" height="4.2" fill="#fff" stroke="#222" stroke-width="0.8"/>
<rect x="604.7" y="539.0" width="4.2" height="4.2" fill="#fff" stroke="#222" stroke-width="0.8"/>
<rect x="609.4" y="540.1" width="4.2" height="4.2" fill="#fff" stroke="#222" stroke-width="0.8"/>
<rect x="615.0" y="539.5" width="4.2" height="4.2" fill="#fff" stroke="#222" stroke-width="0.8"/>
<rect x="619.9" y="548.1" width="4.2" height="4.2" fill="#fff" stroke="#222" stroke-width="0.8"/>
<rect x="625.2" y="539.5" width="4.2" height="4.2" fill="#fff" stroke="#222" stroke-width="0.8"/>
<rect x="630.2" y="542.3" width="4.2" height="4.2" fill="#fff" stroke="#222" stroke-width="0.8"/>
<rect x="635.2" y="537.6" width="4.2" height="4.2" fill="#fff" stroke="#222" stroke-width="0.8"/>
<rect x="640.5" y="549.2" width="4.2" height="4.2" fill="#fff" stroke="#222" stroke-width="0.8"/>
<rect x="645.5" y="538.1" width="4.2" height="4.2" fill="#fff" stroke="#222" stroke-width="0.8"/>
<rect x="650.5" y="542.3" width="4.2" height="4.2" fill="#fff" stroke="#222" stroke-width="0.8"/>
<rect x="655.7" y="538.1" width="4.2" height="4.2" fill="#fff" stroke="#222" stroke-width="0.8"/>
<rect x="660.7" y="540.9" width="4.2" height="4.2" fill="#fff" stroke="#222" stroke-width="0.8"/>
<rect x="665.7" y="541.7" width="4.2" height="4.2" fill="#fff" stroke="#222" stroke-width="0.8"/>
<rect x="671.0" y="540.1" width="4.2" height="4.2" fill="#fff" stroke="#222" stroke-width="0.8"/>
<polyline points="505.5,539.7 507.5,541.6 509.4,540.8 512.2,545.2 515.0,543.8 517.2,583.2 520.0,540.8 525.5,545.8 530.2,543.6 535.2,547.2 540.2,544.4 545.5,546.3 550.5,558.8 555.5,548.5 560.7,571.6 565.7,559.6 570.7,556.9 576.0,566.6 581.0,551.3 586.0,559.6 591.0,580.4 596.5,568.8 601.8,552.1 606.8,534.7 611.5,541.6 617.1,545.2 622.0,543.0 627.3,544.4 632.3,545.2 637.3,544.4 642.6,547.7 647.6,543.0 652.6,554.1 657.8,544.4 662.8,562.4 667.8,545.8 673.1,537.4" fill="none" stroke="#000" stroke-width="0.7" />
<rect x="503.2" y="537.4" width="4.6" height="4.6" fill="#000"/>
<rect x="505.2" y="539.3" width="4.6" height="4.6" fill="#000"/>
<rect x="507.1" y="538.5" width="4.6" height="4.6" fill="#000"/>
<rect x="509.9" y="542.9" width="4.6" height="4.6" fill="#000"/>
<rect x="512.7" y="541.5" width="4.6" height="4.6" fill="#000"/>
<rect x="514.9" y="580.9" width="4.6" height="4.6" fill="#000"/>
<rect x="517.7" y="538.5" width="4.6" height="4.6" fill="#000"/>
<rect x="523.2" y="543.5" width="4.6" height="4.6" fill="#000"/>
<rect x="527.9" y="541.3" width="4.6" height="4.6" fill="#000"/>
<rect x="532.9" y="544.9" width="4.6" height="4.6" fill="#000"/>
<rect x="537.9" y="542.1" width="4.6" height="4.6" fill="#000"/>
<rect x="543.2" y="544.0" width="4.6" height="4.6" fill="#000"/>
<rect x="548.2" y="556.5" width="4.6" height="4.6" fill="#000"/>
<rect x="553.2" y="546.2" width="4.6" height="4.6" fill="#000"/>
<rect x="558.4" y="569.3" width="4.6" height="4.6" fill="#000"/>
<rect x="563.4" y="557.3" width="4.6" height="4.6" fill="#000"/>
<rect x="568.4" y="554.6" width="4.6" height="4.6" fill="#000"/>
<rect x="573.7" y="564.3" width="4.6" height="4.6" fill="#000"/>
<rect x="578.7" y="549.0" width="4.6" height="4.6" fill="#000"/>
<rect x="583.7" y="557.3" width="4.6" height="4.6" fill="#000"/>
<rect x="588.7" y="578.1" width="4.6" height="4.6" fill="#000"/>
<rect x="594.2" y="566.5" width="4.6" height="4.6" fill="#000"/>
<rect x="599.5" y="549.8" width="4.6" height="4.6" fill="#000"/>
<rect x="604.5" y="532.4" width="4.6" height="4.6" fill="#000"/>
<rect x="609.2" y="539.3" width="4.6" height="4.6" fill="#000"/>
<rect x="614.8" y="542.9" width="4.6" height="4.6" fill="#000"/>
<rect x="619.7" y="540.7" width="4.6" height="4.6" fill="#000"/>
<rect x="625.0" y="542.1" width="4.6" height="4.6" fill="#000"/>
<rect x="630.0" y="542.9" width="4.6" height="4.6" fill="#000"/>
<rect x="635.0" y="542.1" width="4.6" height="4.6" fill="#000"/>
<rect x="640.3" y="545.4" width="4.6" height="4.6" fill="#000"/>
<rect x="645.3" y="540.7" width="4.6" height="4.6" fill="#000"/>
<rect x="650.3" y="551.8" width="4.6" height="4.6" fill="#000"/>
<rect x="655.5" y="542.1" width="4.6" height="4.6" fill="#000"/>
<rect x="660.5" y="560.1" width="4.6" height="4.6" fill="#000"/>
<rect x="665.5" y="543.5" width="4.6" height="4.6" fill="#000"/>
<rect x="670.8" y="535.1" width="4.6" height="4.6" fill="#000"/>
</g>
<line x1="588" y1="480.7" x2="611.5" y2="480.7" stroke="#c39bf0" stroke-width="0.8"/>
<rect x="597.6" y="478.7" width="4" height="4" fill="#fff" stroke="#c39bf0" stroke-width="0.9"/>
<text x="614.8" y="484.3" font-size="11" fill="#000" text-anchor="start" font-weight="normal" >-7 V, 1 s</text>
<line x1="588" y1="494.9" x2="611.5" y2="494.9" stroke="#7d14f0" stroke-width="0.8"/>
<rect x="597.3" y="492.6" width="4.6" height="4.6" fill="#7d14f0"/>
<text x="614.8" y="498.5" font-size="11" fill="#000" text-anchor="start" font-weight="normal" >-7 V, 60 &#956;s</text>
<line x1="588" y1="508.6" x2="611.5" y2="508.6" stroke="#222" stroke-width="0.8"/>
<rect x="597.6" y="506.6" width="4" height="4" fill="#fff" stroke="#222" stroke-width="0.9"/>
<text x="614.8" y="512.2" font-size="11" fill="#000" text-anchor="start" font-weight="normal" >7 V, 1 s</text>
<line x1="588" y1="522.9" x2="611.5" y2="522.9" stroke="#000" stroke-width="0.8"/>
<rect x="597.3" y="520.6" width="4.6" height="4.6" fill="#000"/>
<text x="614.8" y="526.5" font-size="11" fill="#000" text-anchor="start" font-weight="normal" >7 V, 60 &#956;s</text>
<text x="552.7" y="438.6" font-size="9.0" fill="#000" text-anchor="start" font-weight="normal" >READ: V<tspan dy="2.7" font-size="60%">GS</tspan><tspan dy="-2.7" font-size="1%">&#8203;</tspan> = -1 V, V<tspan dy="2.7" font-size="60%">DS</tspan><tspan dy="-2.7" font-size="1%">&#8203;</tspan> = 0.1 V</text>
<text x="592.0" y="607.6" font-size="12.2" fill="#000" text-anchor="middle" font-weight="bold" >Time (s)</text>
<g transform="translate(468,499) rotate(-90)"><text x="0.0" y="0.0" font-size="12.2" fill="#000" text-anchor="middle" font-weight="bold" >I<tspan dy="2.2" font-size="72%">D</tspan><tspan dy="-2.2" font-size="1%">&#8203;</tspan> (A)</text></g>
<text x="455.7" y="431.2" font-size="18.6" fill="#000" text-anchor="start" font-weight="bold" >h</text>
</svg>
</body></html>
